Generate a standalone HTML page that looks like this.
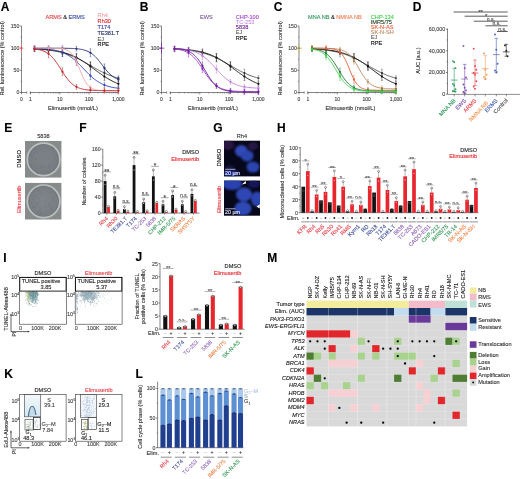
<!DOCTYPE html>
<html><head><meta charset="utf-8"><style>
html,body{margin:0;padding:0;background:#fff;}
body{width:520px;height:479px;overflow:hidden;}
svg{display:block;font-family:"Liberation Sans",sans-serif;filter:blur(0.3px);}
text{stroke-width:0.12px;}
</style></head><body>
<svg width="520" height="479" viewBox="0 0 520 479">
<rect width="520" height="479" fill="#fff"/>
<text x="0.7" y="11" font-size="12" fill="#000" stroke="#000" font-weight="bold">A</text><line x1="21.5" y1="26" x2="21.5" y2="92.5" stroke="#333" stroke-width="0.6"/><line x1="19.9" y1="92.5" x2="21.5" y2="92.5" stroke="#333" stroke-width="0.6"/><text x="19.3" y="94.3" font-size="5.2" fill="#444" stroke="#444" text-anchor="end">0</text><line x1="19.9" y1="70.33" x2="21.5" y2="70.33" stroke="#333" stroke-width="0.6"/><text x="19.3" y="72.13" font-size="5.2" fill="#444" stroke="#444" text-anchor="end">50</text><line x1="19.9" y1="48.17" x2="21.5" y2="48.17" stroke="#333" stroke-width="0.6"/><text x="19.3" y="49.97" font-size="5.2" fill="#444" stroke="#444" text-anchor="end">100</text><line x1="19.9" y1="26" x2="21.5" y2="26" stroke="#333" stroke-width="0.6"/><text x="19.3" y="27.8" font-size="5.2" fill="#444" stroke="#444" text-anchor="end">150</text><line x1="20.6" y1="81.42" x2="21.5" y2="81.42" stroke="#333" stroke-width="0.5"/><line x1="20.6" y1="59.25" x2="21.5" y2="59.25" stroke="#333" stroke-width="0.5"/><line x1="20.6" y1="37.09" x2="21.5" y2="37.09" stroke="#333" stroke-width="0.5"/><line x1="21.5" y1="92.5" x2="26.7" y2="92.5" stroke="#333" stroke-width="0.6"/><line x1="26.7" y1="91.3" x2="26.7" y2="93.7" stroke="#333" stroke-width="0.5"/><line x1="30.2" y1="91.3" x2="30.2" y2="93.7" stroke="#333" stroke-width="0.5"/><line x1="30.2" y1="92.5" x2="118.4" y2="92.5" stroke="#333" stroke-width="0.6"/><line x1="30.5" y1="92.5" x2="30.5" y2="94.3" stroke="#333" stroke-width="0.6"/><line x1="39.32" y1="92.5" x2="39.32" y2="93.6" stroke="#333" stroke-width="0.4"/><line x1="44.48" y1="92.5" x2="44.48" y2="93.6" stroke="#333" stroke-width="0.4"/><line x1="48.14" y1="92.5" x2="48.14" y2="93.6" stroke="#333" stroke-width="0.4"/><line x1="50.98" y1="92.5" x2="50.98" y2="93.6" stroke="#333" stroke-width="0.4"/><line x1="53.3" y1="92.5" x2="53.3" y2="93.6" stroke="#333" stroke-width="0.4"/><line x1="55.26" y1="92.5" x2="55.26" y2="93.6" stroke="#333" stroke-width="0.4"/><line x1="56.96" y1="92.5" x2="56.96" y2="93.6" stroke="#333" stroke-width="0.4"/><line x1="58.46" y1="92.5" x2="58.46" y2="93.6" stroke="#333" stroke-width="0.4"/><line x1="59.8" y1="92.5" x2="59.8" y2="94.3" stroke="#333" stroke-width="0.6"/><line x1="68.62" y1="92.5" x2="68.62" y2="93.6" stroke="#333" stroke-width="0.4"/><line x1="73.78" y1="92.5" x2="73.78" y2="93.6" stroke="#333" stroke-width="0.4"/><line x1="77.44" y1="92.5" x2="77.44" y2="93.6" stroke="#333" stroke-width="0.4"/><line x1="80.28" y1="92.5" x2="80.28" y2="93.6" stroke="#333" stroke-width="0.4"/><line x1="82.6" y1="92.5" x2="82.6" y2="93.6" stroke="#333" stroke-width="0.4"/><line x1="84.56" y1="92.5" x2="84.56" y2="93.6" stroke="#333" stroke-width="0.4"/><line x1="86.26" y1="92.5" x2="86.26" y2="93.6" stroke="#333" stroke-width="0.4"/><line x1="87.76" y1="92.5" x2="87.76" y2="93.6" stroke="#333" stroke-width="0.4"/><line x1="89.1" y1="92.5" x2="89.1" y2="94.3" stroke="#333" stroke-width="0.6"/><line x1="97.92" y1="92.5" x2="97.92" y2="93.6" stroke="#333" stroke-width="0.4"/><line x1="103.08" y1="92.5" x2="103.08" y2="93.6" stroke="#333" stroke-width="0.4"/><line x1="106.74" y1="92.5" x2="106.74" y2="93.6" stroke="#333" stroke-width="0.4"/><line x1="109.58" y1="92.5" x2="109.58" y2="93.6" stroke="#333" stroke-width="0.4"/><line x1="111.9" y1="92.5" x2="111.9" y2="93.6" stroke="#333" stroke-width="0.4"/><line x1="113.86" y1="92.5" x2="113.86" y2="93.6" stroke="#333" stroke-width="0.4"/><line x1="115.56" y1="92.5" x2="115.56" y2="93.6" stroke="#333" stroke-width="0.4"/><line x1="117.06" y1="92.5" x2="117.06" y2="93.6" stroke="#333" stroke-width="0.4"/><line x1="118.4" y1="92.5" x2="118.4" y2="94.3" stroke="#333" stroke-width="0.6"/><line x1="21.5" y1="92.5" x2="21.5" y2="94.3" stroke="#333" stroke-width="0.6"/><text x="21.5" y="101.2" font-size="5" fill="#444" stroke="#444" text-anchor="middle">0</text><text x="30.5" y="101.2" font-size="5" fill="#444" stroke="#444" text-anchor="middle">1</text><text x="59.8" y="101.2" font-size="5" fill="#444" stroke="#444" text-anchor="middle">10</text><text x="89.1" y="101.2" font-size="5" fill="#444" stroke="#444" text-anchor="middle">100</text><text x="118.4" y="101.2" font-size="5" fill="#444" stroke="#444" text-anchor="middle">1,000</text><text x="72.95" y="109.6" font-size="5.6" fill="#333" stroke="#333" text-anchor="middle">Elimusertib (nmol/L)</text><text x="4.5" y="58.4" font-size="5.6" fill="#333" stroke="#333" text-anchor="middle" transform="rotate(-90 4.5 58.4)">Rel. luminescence (% control)</text><text x="45.5" y="18.6" font-size="5.6"><tspan fill="#e8434b" stroke="#e8434b">ARMS</tspan><tspan fill="#222" stroke="#222"> &amp; </tspan><tspan fill="#3a4aa0" stroke="#3a4aa0">ERMS</tspan></text><text x="97.6" y="17.4" font-size="5.6" fill="#f3a6ab" stroke="#f3a6ab">Rh4</text><text x="97.6" y="23.2" font-size="5.6" fill="#e8262d" stroke="#e8262d">Rh30</text><text x="97.6" y="29" font-size="5.6" fill="#3141a8" stroke="#3141a8">T174</text><text x="97.6" y="34.8" font-size="5.6" fill="#1f2a6e" stroke="#1f2a6e">TE381.T</text><text x="97.6" y="40.6" font-size="5.6" fill="#666" stroke="#666">EJ</text><text x="97.6" y="46.4" font-size="5.6" fill="#111" stroke="#111">RPE</text><path d="M34.51,48.98L35.55,49.04L36.6,49.1L37.65,49.17L38.7,49.24L39.75,49.31L40.8,49.39L41.85,49.48L42.9,49.57L43.94,49.66L44.99,49.77L46.04,49.88L47.09,50L48.14,50.12L49.19,50.25L50.24,50.39L51.28,50.55L52.33,50.7L53.38,50.87L54.43,51.05L55.48,51.24L56.53,51.45L57.58,51.66L58.63,51.89L59.67,52.13L60.72,52.38L61.77,52.64L62.82,52.92L63.87,53.22L64.92,53.53L65.97,53.85L67.01,54.19L68.06,54.55L69.11,54.92L70.16,55.31L71.21,55.72L72.26,56.14L73.31,56.57L74.36,57.03L75.4,57.5L76.45,57.98L77.5,58.48L78.55,59L79.6,59.52L80.65,60.06L81.7,60.62L82.75,61.18L83.79,61.75L84.84,62.33L85.89,62.92L86.94,63.52L87.99,64.12L89.04,64.72L90.09,65.33L91.13,65.93L92.18,66.54L93.23,67.14L94.28,67.74L95.33,68.33L96.38,68.91L97.43,69.49L98.48,70.06L99.52,70.62L100.57,71.16L101.62,71.69L102.67,72.21L103.72,72.72L104.77,73.21L105.82,73.69L106.86,74.15L107.91,74.59L108.96,75.02L110.01,75.43L111.06,75.83L112.11,76.21L113.16,76.57L114.21,76.92L115.25,77.25L116.3,77.57L117.35,77.87L118.4,78.15" stroke="#555555" stroke-width="0.9" fill="none"/><line x1="34.51" y1="46.59" x2="34.51" y2="51.38" stroke="#555555" stroke-width="0.5"/><line x1="33.71" y1="46.59" x2="35.31" y2="46.59" stroke="#555555" stroke-width="0.4"/><line x1="33.71" y1="51.38" x2="35.31" y2="51.38" stroke="#555555" stroke-width="0.4"/><circle cx="34.51" cy="48.98" r="1.1" fill="#555555"/><line x1="48.52" y1="47.77" x2="48.52" y2="52.56" stroke="#555555" stroke-width="0.5"/><line x1="47.72" y1="47.77" x2="49.32" y2="47.77" stroke="#555555" stroke-width="0.4"/><line x1="47.72" y1="52.56" x2="49.32" y2="52.56" stroke="#555555" stroke-width="0.4"/><circle cx="48.52" cy="50.17" r="1.1" fill="#555555"/><line x1="62.43" y1="48.83" x2="62.43" y2="56.81" stroke="#555555" stroke-width="0.5"/><line x1="61.63" y1="48.83" x2="63.23" y2="48.83" stroke="#555555" stroke-width="0.4"/><line x1="61.63" y1="56.81" x2="63.23" y2="56.81" stroke="#555555" stroke-width="0.4"/><circle cx="62.43" cy="52.82" r="1.1" fill="#555555"/><line x1="76.45" y1="53.99" x2="76.45" y2="61.97" stroke="#555555" stroke-width="0.5"/><line x1="75.65" y1="53.99" x2="77.25" y2="53.99" stroke="#555555" stroke-width="0.4"/><line x1="75.65" y1="61.97" x2="77.25" y2="61.97" stroke="#555555" stroke-width="0.4"/><circle cx="76.45" cy="57.98" r="1.1" fill="#555555"/><line x1="90.43" y1="61.54" x2="90.43" y2="69.51" stroke="#555555" stroke-width="0.5"/><line x1="89.63" y1="61.54" x2="91.23" y2="61.54" stroke="#555555" stroke-width="0.4"/><line x1="89.63" y1="69.51" x2="91.23" y2="69.51" stroke="#555555" stroke-width="0.4"/><circle cx="90.43" cy="65.53" r="1.1" fill="#555555"/><line x1="104.41" y1="69.06" x2="104.41" y2="77.03" stroke="#555555" stroke-width="0.5"/><line x1="103.61" y1="69.06" x2="105.21" y2="69.06" stroke="#555555" stroke-width="0.4"/><line x1="103.61" y1="77.03" x2="105.21" y2="77.03" stroke="#555555" stroke-width="0.4"/><circle cx="104.41" cy="73.05" r="1.1" fill="#555555"/><line x1="118.4" y1="75.76" x2="118.4" y2="80.55" stroke="#555555" stroke-width="0.5"/><line x1="117.6" y1="75.76" x2="119.2" y2="75.76" stroke="#555555" stroke-width="0.4"/><line x1="117.6" y1="80.55" x2="119.2" y2="80.55" stroke="#555555" stroke-width="0.4"/><circle cx="118.4" cy="78.15" r="1.1" fill="#555555"/><path d="M34.51,48.78L35.55,48.82L36.6,48.87L37.65,48.92L38.7,48.98L39.75,49.04L40.8,49.11L41.85,49.18L42.9,49.25L43.94,49.34L44.99,49.42L46.04,49.52L47.09,49.62L48.14,49.72L49.19,49.84L50.24,49.96L51.28,50.09L52.33,50.23L53.38,50.38L54.43,50.55L55.48,50.72L56.53,50.9L57.58,51.1L58.63,51.31L59.67,51.53L60.72,51.76L61.77,52.02L62.82,52.28L63.87,52.57L64.92,52.87L65.97,53.19L67.01,53.52L68.06,53.88L69.11,54.25L70.16,54.65L71.21,55.07L72.26,55.51L73.31,55.97L74.36,56.45L75.4,56.95L76.45,57.48L77.5,58.03L78.55,58.6L79.6,59.19L80.65,59.81L81.7,60.44L82.75,61.1L83.79,61.77L84.84,62.46L85.89,63.17L86.94,63.89L87.99,64.63L89.04,65.38L90.09,66.14L91.13,66.91L92.18,67.68L93.23,68.46L94.28,69.24L95.33,70.02L96.38,70.8L97.43,71.58L98.48,72.34L99.52,73.1L100.57,73.85L101.62,74.59L102.67,75.31L103.72,76.02L104.77,76.71L105.82,77.38L106.86,78.04L107.91,78.67L108.96,79.28L110.01,79.88L111.06,80.45L112.11,80.99L113.16,81.52L114.21,82.02L115.25,82.51L116.3,82.96L117.35,83.4L118.4,83.82" stroke="#111111" stroke-width="0.9" fill="none"/><line x1="34.51" y1="46.38" x2="34.51" y2="51.17" stroke="#111111" stroke-width="0.5"/><line x1="33.71" y1="46.38" x2="35.31" y2="46.38" stroke="#111111" stroke-width="0.4"/><line x1="33.71" y1="51.17" x2="35.31" y2="51.17" stroke="#111111" stroke-width="0.4"/><circle cx="34.51" cy="48.78" r="1.1" fill="#111111"/><line x1="48.52" y1="47.37" x2="48.52" y2="52.16" stroke="#111111" stroke-width="0.5"/><line x1="47.72" y1="47.37" x2="49.32" y2="47.37" stroke="#111111" stroke-width="0.4"/><line x1="47.72" y1="52.16" x2="49.32" y2="52.16" stroke="#111111" stroke-width="0.4"/><circle cx="48.52" cy="49.76" r="1.1" fill="#111111"/><line x1="62.43" y1="49.79" x2="62.43" y2="54.58" stroke="#111111" stroke-width="0.5"/><line x1="61.63" y1="49.79" x2="63.23" y2="49.79" stroke="#111111" stroke-width="0.4"/><line x1="61.63" y1="54.58" x2="63.23" y2="54.58" stroke="#111111" stroke-width="0.4"/><circle cx="62.43" cy="52.18" r="1.1" fill="#111111"/><line x1="76.45" y1="53.49" x2="76.45" y2="61.47" stroke="#111111" stroke-width="0.5"/><line x1="75.65" y1="53.49" x2="77.25" y2="53.49" stroke="#111111" stroke-width="0.4"/><line x1="75.65" y1="61.47" x2="77.25" y2="61.47" stroke="#111111" stroke-width="0.4"/><circle cx="76.45" cy="57.48" r="1.1" fill="#111111"/><line x1="90.43" y1="62.4" x2="90.43" y2="70.38" stroke="#111111" stroke-width="0.5"/><line x1="89.63" y1="62.4" x2="91.23" y2="62.4" stroke="#111111" stroke-width="0.4"/><line x1="89.63" y1="70.38" x2="91.23" y2="70.38" stroke="#111111" stroke-width="0.4"/><circle cx="90.43" cy="66.39" r="1.1" fill="#111111"/><line x1="104.41" y1="72.49" x2="104.41" y2="80.46" stroke="#111111" stroke-width="0.5"/><line x1="103.61" y1="72.49" x2="105.21" y2="72.49" stroke="#111111" stroke-width="0.4"/><line x1="103.61" y1="80.46" x2="105.21" y2="80.46" stroke="#111111" stroke-width="0.4"/><circle cx="104.41" cy="76.48" r="1.1" fill="#111111"/><line x1="118.4" y1="81.43" x2="118.4" y2="86.21" stroke="#111111" stroke-width="0.5"/><line x1="117.6" y1="81.43" x2="119.2" y2="81.43" stroke="#111111" stroke-width="0.4"/><line x1="117.6" y1="86.21" x2="119.2" y2="86.21" stroke="#111111" stroke-width="0.4"/><circle cx="118.4" cy="83.82" r="1.1" fill="#111111"/><path d="M34.51,48.17L35.55,48.17L36.6,48.17L37.65,48.17L38.7,48.17L39.75,48.17L40.8,48.17L41.85,48.17L42.9,48.17L43.94,48.17L44.99,48.17L46.04,48.17L47.09,48.18L48.14,48.18L49.19,48.18L50.24,48.18L51.28,48.18L52.33,48.18L53.38,48.19L54.43,48.19L55.48,48.19L56.53,48.2L57.58,48.2L58.63,48.21L59.67,48.21L60.72,48.22L61.77,48.23L62.82,48.24L63.87,48.25L64.92,48.27L65.97,48.28L67.01,48.3L68.06,48.33L69.11,48.35L70.16,48.39L71.21,48.43L72.26,48.47L73.31,48.53L74.36,48.59L75.4,48.66L76.45,48.75L77.5,48.85L78.55,48.97L79.6,49.11L80.65,49.27L81.7,49.46L82.75,49.68L83.79,49.94L84.84,50.24L85.89,50.58L86.94,50.98L87.99,51.43L89.04,51.95L90.09,52.54L91.13,53.2L92.18,53.95L93.23,54.78L94.28,55.7L95.33,56.71L96.38,57.8L97.43,58.97L98.48,60.22L99.52,61.52L100.57,62.87L101.62,64.25L102.67,65.63L103.72,67.01L104.77,68.37L105.82,69.68L106.86,70.93L107.91,72.11L108.96,73.21L110.01,74.22L111.06,75.15L112.11,76L113.16,76.75L114.21,77.43L115.25,78.02L116.3,78.55L117.35,79.01L118.4,79.41" stroke="#23307a" stroke-width="0.9" fill="none"/><line x1="34.51" y1="45.78" x2="34.51" y2="50.56" stroke="#23307a" stroke-width="0.5"/><line x1="33.71" y1="45.78" x2="35.31" y2="45.78" stroke="#23307a" stroke-width="0.4"/><line x1="33.71" y1="50.56" x2="35.31" y2="50.56" stroke="#23307a" stroke-width="0.4"/><circle cx="34.51" cy="48.17" r="1.1" fill="#23307a"/><line x1="48.52" y1="45.78" x2="48.52" y2="50.57" stroke="#23307a" stroke-width="0.5"/><line x1="47.72" y1="45.78" x2="49.32" y2="45.78" stroke="#23307a" stroke-width="0.4"/><line x1="47.72" y1="50.57" x2="49.32" y2="50.57" stroke="#23307a" stroke-width="0.4"/><circle cx="48.52" cy="48.18" r="1.1" fill="#23307a"/><line x1="62.43" y1="45.84" x2="62.43" y2="50.63" stroke="#23307a" stroke-width="0.5"/><line x1="61.63" y1="45.84" x2="63.23" y2="45.84" stroke="#23307a" stroke-width="0.4"/><line x1="61.63" y1="50.63" x2="63.23" y2="50.63" stroke="#23307a" stroke-width="0.4"/><circle cx="62.43" cy="48.23" r="1.1" fill="#23307a"/><line x1="76.45" y1="46.35" x2="76.45" y2="51.14" stroke="#23307a" stroke-width="0.5"/><line x1="75.65" y1="46.35" x2="77.25" y2="46.35" stroke="#23307a" stroke-width="0.4"/><line x1="75.65" y1="51.14" x2="77.25" y2="51.14" stroke="#23307a" stroke-width="0.4"/><circle cx="76.45" cy="48.75" r="1.1" fill="#23307a"/><line x1="90.43" y1="48.76" x2="90.43" y2="56.74" stroke="#23307a" stroke-width="0.5"/><line x1="89.63" y1="48.76" x2="91.23" y2="48.76" stroke="#23307a" stroke-width="0.4"/><line x1="89.63" y1="56.74" x2="91.23" y2="56.74" stroke="#23307a" stroke-width="0.4"/><circle cx="90.43" cy="52.75" r="1.1" fill="#23307a"/><line x1="104.41" y1="63.92" x2="104.41" y2="71.9" stroke="#23307a" stroke-width="0.5"/><line x1="103.61" y1="63.92" x2="105.21" y2="63.92" stroke="#23307a" stroke-width="0.4"/><line x1="103.61" y1="71.9" x2="105.21" y2="71.9" stroke="#23307a" stroke-width="0.4"/><circle cx="104.41" cy="67.91" r="1.1" fill="#23307a"/><line x1="118.4" y1="77.02" x2="118.4" y2="81.81" stroke="#23307a" stroke-width="0.5"/><line x1="117.6" y1="77.02" x2="119.2" y2="77.02" stroke="#23307a" stroke-width="0.4"/><line x1="117.6" y1="81.81" x2="119.2" y2="81.81" stroke="#23307a" stroke-width="0.4"/><circle cx="118.4" cy="79.41" r="1.1" fill="#23307a"/><path d="M34.51,48.44L35.55,48.47L36.6,48.51L37.65,48.54L38.7,48.58L39.75,48.63L40.8,48.68L41.85,48.74L42.9,48.8L43.94,48.87L44.99,48.95L46.04,49.04L47.09,49.13L48.14,49.24L49.19,49.36L50.24,49.49L51.28,49.63L52.33,49.79L53.38,49.97L54.43,50.16L55.48,50.37L56.53,50.61L57.58,50.86L58.63,51.15L59.67,51.46L60.72,51.8L61.77,52.17L62.82,52.57L63.87,53.01L64.92,53.49L65.97,54L67.01,54.56L68.06,55.16L69.11,55.8L70.16,56.49L71.21,57.23L72.26,58.01L73.31,58.83L74.36,59.7L75.4,60.61L76.45,61.56L77.5,62.54L78.55,63.56L79.6,64.61L80.65,65.68L81.7,66.77L82.75,67.86L83.79,68.97L84.84,70.07L85.89,71.17L86.94,72.25L87.99,73.31L89.04,74.35L90.09,75.36L91.13,76.33L92.18,77.27L93.23,78.16L94.28,79.02L95.33,79.83L96.38,80.59L97.43,81.31L98.48,81.98L99.52,82.61L100.57,83.2L101.62,83.74L102.67,84.25L103.72,84.71L104.77,85.14L105.82,85.53L106.86,85.89L107.91,86.22L108.96,86.52L110.01,86.79L111.06,87.04L112.11,87.27L113.16,87.47L114.21,87.66L115.25,87.83L116.3,87.98L117.35,88.12L118.4,88.25" stroke="#2b3fb0" stroke-width="0.9" fill="none"/><line x1="34.51" y1="46.05" x2="34.51" y2="50.84" stroke="#2b3fb0" stroke-width="0.5"/><line x1="33.71" y1="46.05" x2="35.31" y2="46.05" stroke="#2b3fb0" stroke-width="0.4"/><line x1="33.71" y1="50.84" x2="35.31" y2="50.84" stroke="#2b3fb0" stroke-width="0.4"/><circle cx="34.51" cy="48.44" r="1.1" fill="#2b3fb0"/><line x1="48.52" y1="46.89" x2="48.52" y2="51.68" stroke="#2b3fb0" stroke-width="0.5"/><line x1="47.72" y1="46.89" x2="49.32" y2="46.89" stroke="#2b3fb0" stroke-width="0.4"/><line x1="47.72" y1="51.68" x2="49.32" y2="51.68" stroke="#2b3fb0" stroke-width="0.4"/><circle cx="48.52" cy="49.28" r="1.1" fill="#2b3fb0"/><line x1="62.43" y1="48.43" x2="62.43" y2="56.41" stroke="#2b3fb0" stroke-width="0.5"/><line x1="61.63" y1="48.43" x2="63.23" y2="48.43" stroke="#2b3fb0" stroke-width="0.4"/><line x1="61.63" y1="56.41" x2="63.23" y2="56.41" stroke="#2b3fb0" stroke-width="0.4"/><circle cx="62.43" cy="52.42" r="1.1" fill="#2b3fb0"/><line x1="76.45" y1="57.56" x2="76.45" y2="65.54" stroke="#2b3fb0" stroke-width="0.5"/><line x1="75.65" y1="57.56" x2="77.25" y2="57.56" stroke="#2b3fb0" stroke-width="0.4"/><line x1="75.65" y1="65.54" x2="77.25" y2="65.54" stroke="#2b3fb0" stroke-width="0.4"/><circle cx="76.45" cy="61.55" r="1.1" fill="#2b3fb0"/><line x1="90.43" y1="71.69" x2="90.43" y2="79.67" stroke="#2b3fb0" stroke-width="0.5"/><line x1="89.63" y1="71.69" x2="91.23" y2="71.69" stroke="#2b3fb0" stroke-width="0.4"/><line x1="89.63" y1="79.67" x2="91.23" y2="79.67" stroke="#2b3fb0" stroke-width="0.4"/><circle cx="90.43" cy="75.68" r="1.1" fill="#2b3fb0"/><line x1="104.41" y1="82.6" x2="104.41" y2="87.39" stroke="#2b3fb0" stroke-width="0.5"/><line x1="103.61" y1="82.6" x2="105.21" y2="82.6" stroke="#2b3fb0" stroke-width="0.4"/><line x1="103.61" y1="87.39" x2="105.21" y2="87.39" stroke="#2b3fb0" stroke-width="0.4"/><circle cx="104.41" cy="84.99" r="1.1" fill="#2b3fb0"/><line x1="118.4" y1="85.86" x2="118.4" y2="90.64" stroke="#2b3fb0" stroke-width="0.5"/><line x1="117.6" y1="85.86" x2="119.2" y2="85.86" stroke="#2b3fb0" stroke-width="0.4"/><line x1="117.6" y1="90.64" x2="119.2" y2="90.64" stroke="#2b3fb0" stroke-width="0.4"/><circle cx="118.4" cy="88.25" r="1.1" fill="#2b3fb0"/><path d="M34.51,48.17L35.55,48.17L36.6,48.17L37.65,48.17L38.7,48.17L39.75,48.17L40.8,48.17L41.85,48.18L42.9,48.18L43.94,48.18L44.99,48.18L46.04,48.19L47.09,48.19L48.14,48.19L49.19,48.2L50.24,48.21L51.28,48.22L52.33,48.24L53.38,48.25L54.43,48.28L55.48,48.31L56.53,48.35L57.58,48.4L58.63,48.46L59.67,48.54L60.72,48.64L61.77,48.77L62.82,48.94L63.87,49.15L64.92,49.42L65.97,49.76L67.01,50.18L68.06,50.71L69.11,51.37L70.16,52.18L71.21,53.17L72.26,54.37L73.31,55.8L74.36,57.47L75.4,59.39L76.45,61.55L77.5,63.91L78.55,66.43L79.6,69.04L80.65,71.67L81.7,74.22L82.75,76.64L83.79,78.87L84.84,80.86L85.89,82.61L86.94,84.11L87.99,85.38L89.04,86.43L90.09,87.3L91.13,88L92.18,88.57L93.23,89.02L94.28,89.38L95.33,89.67L96.38,89.9L97.43,90.08L98.48,90.22L99.52,90.33L100.57,90.41L101.62,90.48L102.67,90.54L103.72,90.58L104.77,90.61L105.82,90.64L106.86,90.66L107.91,90.67L108.96,90.68L110.01,90.69L111.06,90.7L112.11,90.71L113.16,90.71L114.21,90.71L115.25,90.72L116.3,90.72L117.35,90.72L118.4,90.72" stroke="#f2a4a4" stroke-width="0.9" fill="none"/><line x1="34.51" y1="45.78" x2="34.51" y2="50.56" stroke="#f2a4a4" stroke-width="0.5"/><line x1="33.71" y1="45.78" x2="35.31" y2="45.78" stroke="#f2a4a4" stroke-width="0.4"/><line x1="33.71" y1="50.56" x2="35.31" y2="50.56" stroke="#f2a4a4" stroke-width="0.4"/><circle cx="34.51" cy="48.17" r="1.1" fill="#f2a4a4"/><line x1="48.52" y1="45.8" x2="48.52" y2="50.59" stroke="#f2a4a4" stroke-width="0.5"/><line x1="47.72" y1="45.8" x2="49.32" y2="45.8" stroke="#f2a4a4" stroke-width="0.4"/><line x1="47.72" y1="50.59" x2="49.32" y2="50.59" stroke="#f2a4a4" stroke-width="0.4"/><circle cx="48.52" cy="48.2" r="1.1" fill="#f2a4a4"/><line x1="62.43" y1="46.48" x2="62.43" y2="51.27" stroke="#f2a4a4" stroke-width="0.5"/><line x1="61.63" y1="46.48" x2="63.23" y2="46.48" stroke="#f2a4a4" stroke-width="0.4"/><line x1="61.63" y1="51.27" x2="63.23" y2="51.27" stroke="#f2a4a4" stroke-width="0.4"/><circle cx="62.43" cy="48.87" r="1.1" fill="#f2a4a4"/><line x1="76.45" y1="57.55" x2="76.45" y2="65.53" stroke="#f2a4a4" stroke-width="0.5"/><line x1="75.65" y1="57.55" x2="77.25" y2="57.55" stroke="#f2a4a4" stroke-width="0.4"/><line x1="75.65" y1="65.53" x2="77.25" y2="65.53" stroke="#f2a4a4" stroke-width="0.4"/><circle cx="76.45" cy="61.54" r="1.1" fill="#f2a4a4"/><line x1="90.43" y1="85.15" x2="90.43" y2="89.94" stroke="#f2a4a4" stroke-width="0.5"/><line x1="89.63" y1="85.15" x2="91.23" y2="85.15" stroke="#f2a4a4" stroke-width="0.4"/><line x1="89.63" y1="89.94" x2="91.23" y2="89.94" stroke="#f2a4a4" stroke-width="0.4"/><circle cx="90.43" cy="87.54" r="1.1" fill="#f2a4a4"/><line x1="104.41" y1="88.21" x2="104.41" y2="92.99" stroke="#f2a4a4" stroke-width="0.5"/><line x1="103.61" y1="88.21" x2="105.21" y2="88.21" stroke="#f2a4a4" stroke-width="0.4"/><line x1="103.61" y1="92.99" x2="105.21" y2="92.99" stroke="#f2a4a4" stroke-width="0.4"/><circle cx="104.41" cy="90.6" r="1.1" fill="#f2a4a4"/><line x1="118.4" y1="88.33" x2="118.4" y2="93.12" stroke="#f2a4a4" stroke-width="0.5"/><line x1="117.6" y1="88.33" x2="119.2" y2="88.33" stroke="#f2a4a4" stroke-width="0.4"/><line x1="117.6" y1="93.12" x2="119.2" y2="93.12" stroke="#f2a4a4" stroke-width="0.4"/><circle cx="118.4" cy="90.72" r="1.1" fill="#f2a4a4"/><path d="M34.51,48.97L35.55,49.1L36.6,49.25L37.65,49.43L38.7,49.64L39.75,49.88L40.8,50.15L41.85,50.47L42.9,50.84L43.94,51.26L44.99,51.74L46.04,52.28L47.09,52.9L48.14,53.6L49.19,54.39L50.24,55.26L51.28,56.24L52.33,57.31L53.38,58.49L54.43,59.76L55.48,61.13L56.53,62.58L57.58,64.11L58.63,65.7L59.67,67.33L60.72,68.99L61.77,70.65L62.82,72.3L63.87,73.92L64.92,75.48L65.97,76.98L67.01,78.39L68.06,79.72L69.11,80.95L70.16,82.08L71.21,83.11L72.26,84.04L73.31,84.87L74.36,85.62L75.4,86.28L76.45,86.87L77.5,87.38L78.55,87.84L79.6,88.23L80.65,88.57L81.7,88.87L82.75,89.13L83.79,89.35L84.84,89.55L85.89,89.71L86.94,89.86L87.99,89.98L89.04,90.09L90.09,90.18L91.13,90.26L92.18,90.33L93.23,90.38L94.28,90.43L95.33,90.47L96.38,90.51L97.43,90.54L98.48,90.57L99.52,90.59L100.57,90.61L101.62,90.63L102.67,90.64L103.72,90.65L104.77,90.66L105.82,90.67L106.86,90.68L107.91,90.69L108.96,90.69L110.01,90.7L111.06,90.7L112.11,90.71L113.16,90.71L114.21,90.71L115.25,90.71L116.3,90.72L117.35,90.72L118.4,90.72" stroke="#c0262c" stroke-width="0.9" fill="none"/><line x1="34.51" y1="46.57" x2="34.51" y2="51.36" stroke="#c0262c" stroke-width="0.5"/><line x1="33.71" y1="46.57" x2="35.31" y2="46.57" stroke="#c0262c" stroke-width="0.4"/><line x1="33.71" y1="51.36" x2="35.31" y2="51.36" stroke="#c0262c" stroke-width="0.4"/><circle cx="34.51" cy="48.97" r="1.1" fill="#c0262c"/><line x1="48.52" y1="49.88" x2="48.52" y2="57.86" stroke="#c0262c" stroke-width="0.5"/><line x1="47.72" y1="49.88" x2="49.32" y2="49.88" stroke="#c0262c" stroke-width="0.4"/><line x1="47.72" y1="57.86" x2="49.32" y2="57.86" stroke="#c0262c" stroke-width="0.4"/><circle cx="48.52" cy="53.87" r="1.1" fill="#c0262c"/><line x1="62.43" y1="67.71" x2="62.43" y2="75.69" stroke="#c0262c" stroke-width="0.5"/><line x1="61.63" y1="67.71" x2="63.23" y2="67.71" stroke="#c0262c" stroke-width="0.4"/><line x1="61.63" y1="75.69" x2="63.23" y2="75.69" stroke="#c0262c" stroke-width="0.4"/><circle cx="62.43" cy="71.7" r="1.1" fill="#c0262c"/><line x1="76.45" y1="84.47" x2="76.45" y2="89.26" stroke="#c0262c" stroke-width="0.5"/><line x1="75.65" y1="84.47" x2="77.25" y2="84.47" stroke="#c0262c" stroke-width="0.4"/><line x1="75.65" y1="89.26" x2="77.25" y2="89.26" stroke="#c0262c" stroke-width="0.4"/><circle cx="76.45" cy="86.87" r="1.1" fill="#c0262c"/><line x1="90.43" y1="87.81" x2="90.43" y2="92.6" stroke="#c0262c" stroke-width="0.5"/><line x1="89.63" y1="87.81" x2="91.23" y2="87.81" stroke="#c0262c" stroke-width="0.4"/><line x1="89.63" y1="92.6" x2="91.23" y2="92.6" stroke="#c0262c" stroke-width="0.4"/><circle cx="90.43" cy="90.21" r="1.1" fill="#c0262c"/><line x1="104.41" y1="88.27" x2="104.41" y2="93.06" stroke="#c0262c" stroke-width="0.5"/><line x1="103.61" y1="88.27" x2="105.21" y2="88.27" stroke="#c0262c" stroke-width="0.4"/><line x1="103.61" y1="93.06" x2="105.21" y2="93.06" stroke="#c0262c" stroke-width="0.4"/><circle cx="104.41" cy="90.66" r="1.1" fill="#c0262c"/><line x1="118.4" y1="88.32" x2="118.4" y2="93.11" stroke="#c0262c" stroke-width="0.5"/><line x1="117.6" y1="88.32" x2="119.2" y2="88.32" stroke="#c0262c" stroke-width="0.4"/><line x1="117.6" y1="93.11" x2="119.2" y2="93.11" stroke="#c0262c" stroke-width="0.4"/><circle cx="118.4" cy="90.72" r="1.1" fill="#c0262c"/><line x1="21.5" y1="43.74" x2="21.5" y2="52.6" stroke="#f19aa0" stroke-width="0.6"/><circle cx="21.5" cy="48.17" r="0.9" fill="#f19aa0"/><line x1="21.5" y1="45.51" x2="21.5" y2="50.83" stroke="#e8262d" stroke-width="0.6"/><circle cx="21.5" cy="48.17" r="0.9" fill="#e8262d"/><line x1="18.5" y1="48.17" x2="24.5" y2="48.17" stroke="#f19aa0" stroke-width="0.6"/><text x="139.7" y="11" font-size="12" fill="#000" stroke="#000" font-weight="bold">B</text><line x1="161.5" y1="26" x2="161.5" y2="92.5" stroke="#333" stroke-width="0.6"/><line x1="159.9" y1="92.5" x2="161.5" y2="92.5" stroke="#333" stroke-width="0.6"/><text x="159.3" y="94.3" font-size="5.2" fill="#444" stroke="#444" text-anchor="end">0</text><line x1="159.9" y1="70.33" x2="161.5" y2="70.33" stroke="#333" stroke-width="0.6"/><text x="159.3" y="72.13" font-size="5.2" fill="#444" stroke="#444" text-anchor="end">50</text><line x1="159.9" y1="48.17" x2="161.5" y2="48.17" stroke="#333" stroke-width="0.6"/><text x="159.3" y="49.97" font-size="5.2" fill="#444" stroke="#444" text-anchor="end">100</text><line x1="159.9" y1="26" x2="161.5" y2="26" stroke="#333" stroke-width="0.6"/><text x="159.3" y="27.8" font-size="5.2" fill="#444" stroke="#444" text-anchor="end">150</text><line x1="160.6" y1="81.42" x2="161.5" y2="81.42" stroke="#333" stroke-width="0.5"/><line x1="160.6" y1="59.25" x2="161.5" y2="59.25" stroke="#333" stroke-width="0.5"/><line x1="160.6" y1="37.09" x2="161.5" y2="37.09" stroke="#333" stroke-width="0.5"/><line x1="161.5" y1="92.5" x2="166.7" y2="92.5" stroke="#333" stroke-width="0.6"/><line x1="166.7" y1="91.3" x2="166.7" y2="93.7" stroke="#333" stroke-width="0.5"/><line x1="170.2" y1="91.3" x2="170.2" y2="93.7" stroke="#333" stroke-width="0.5"/><line x1="170.2" y1="92.5" x2="258.4" y2="92.5" stroke="#333" stroke-width="0.6"/><line x1="170.5" y1="92.5" x2="170.5" y2="94.3" stroke="#333" stroke-width="0.6"/><line x1="179.32" y1="92.5" x2="179.32" y2="93.6" stroke="#333" stroke-width="0.4"/><line x1="184.48" y1="92.5" x2="184.48" y2="93.6" stroke="#333" stroke-width="0.4"/><line x1="188.14" y1="92.5" x2="188.14" y2="93.6" stroke="#333" stroke-width="0.4"/><line x1="190.98" y1="92.5" x2="190.98" y2="93.6" stroke="#333" stroke-width="0.4"/><line x1="193.3" y1="92.5" x2="193.3" y2="93.6" stroke="#333" stroke-width="0.4"/><line x1="195.26" y1="92.5" x2="195.26" y2="93.6" stroke="#333" stroke-width="0.4"/><line x1="196.96" y1="92.5" x2="196.96" y2="93.6" stroke="#333" stroke-width="0.4"/><line x1="198.46" y1="92.5" x2="198.46" y2="93.6" stroke="#333" stroke-width="0.4"/><line x1="199.8" y1="92.5" x2="199.8" y2="94.3" stroke="#333" stroke-width="0.6"/><line x1="208.62" y1="92.5" x2="208.62" y2="93.6" stroke="#333" stroke-width="0.4"/><line x1="213.78" y1="92.5" x2="213.78" y2="93.6" stroke="#333" stroke-width="0.4"/><line x1="217.44" y1="92.5" x2="217.44" y2="93.6" stroke="#333" stroke-width="0.4"/><line x1="220.28" y1="92.5" x2="220.28" y2="93.6" stroke="#333" stroke-width="0.4"/><line x1="222.6" y1="92.5" x2="222.6" y2="93.6" stroke="#333" stroke-width="0.4"/><line x1="224.56" y1="92.5" x2="224.56" y2="93.6" stroke="#333" stroke-width="0.4"/><line x1="226.26" y1="92.5" x2="226.26" y2="93.6" stroke="#333" stroke-width="0.4"/><line x1="227.76" y1="92.5" x2="227.76" y2="93.6" stroke="#333" stroke-width="0.4"/><line x1="229.1" y1="92.5" x2="229.1" y2="94.3" stroke="#333" stroke-width="0.6"/><line x1="237.92" y1="92.5" x2="237.92" y2="93.6" stroke="#333" stroke-width="0.4"/><line x1="243.08" y1="92.5" x2="243.08" y2="93.6" stroke="#333" stroke-width="0.4"/><line x1="246.74" y1="92.5" x2="246.74" y2="93.6" stroke="#333" stroke-width="0.4"/><line x1="249.58" y1="92.5" x2="249.58" y2="93.6" stroke="#333" stroke-width="0.4"/><line x1="251.9" y1="92.5" x2="251.9" y2="93.6" stroke="#333" stroke-width="0.4"/><line x1="253.86" y1="92.5" x2="253.86" y2="93.6" stroke="#333" stroke-width="0.4"/><line x1="255.56" y1="92.5" x2="255.56" y2="93.6" stroke="#333" stroke-width="0.4"/><line x1="257.06" y1="92.5" x2="257.06" y2="93.6" stroke="#333" stroke-width="0.4"/><line x1="258.4" y1="92.5" x2="258.4" y2="94.3" stroke="#333" stroke-width="0.6"/><line x1="161.5" y1="92.5" x2="161.5" y2="94.3" stroke="#333" stroke-width="0.6"/><text x="161.5" y="101.2" font-size="5" fill="#444" stroke="#444" text-anchor="middle">0</text><text x="170.5" y="101.2" font-size="5" fill="#444" stroke="#444" text-anchor="middle">1</text><text x="199.8" y="101.2" font-size="5" fill="#444" stroke="#444" text-anchor="middle">10</text><text x="229.1" y="101.2" font-size="5" fill="#444" stroke="#444" text-anchor="middle">100</text><text x="258.4" y="101.2" font-size="5" fill="#444" stroke="#444" text-anchor="middle">1,000</text><text x="212.95" y="109.6" font-size="5.6" fill="#333" stroke="#333" text-anchor="middle">Elimusertib (nmol/L)</text><text x="144.5" y="58.4" font-size="5.6" fill="#333" stroke="#333" text-anchor="middle" transform="rotate(-90 144.5 58.4)">Rel. luminescence (% control)</text><text x="200" y="18.5" font-size="5.6"><tspan fill="#7b5b9c" stroke="#7b5b9c">EWS</tspan></text><text x="235.8" y="18.7" font-size="5.6" fill="#a33fd0" stroke="#a33fd0">CHP-100</text><text x="235.8" y="23.95" font-size="5.6" fill="#c993e6" stroke="#c993e6">TC-253</text><text x="235.8" y="29.2" font-size="5.6" fill="#6d1f99" stroke="#6d1f99">5838</text><text x="235.8" y="34.45" font-size="5.6" fill="#666" stroke="#666">EJ</text><text x="235.8" y="39.7" font-size="5.6" fill="#111" stroke="#111">RPE</text><path d="M174.51,48.98L175.55,49.04L176.6,49.1L177.65,49.17L178.7,49.24L179.75,49.31L180.8,49.39L181.85,49.48L182.9,49.57L183.94,49.66L184.99,49.77L186.04,49.88L187.09,50L188.14,50.12L189.19,50.25L190.24,50.39L191.28,50.55L192.33,50.7L193.38,50.87L194.43,51.05L195.48,51.24L196.53,51.45L197.58,51.66L198.63,51.89L199.67,52.13L200.72,52.38L201.77,52.64L202.82,52.92L203.87,53.22L204.92,53.53L205.97,53.85L207.01,54.19L208.06,54.55L209.11,54.92L210.16,55.31L211.21,55.72L212.26,56.14L213.31,56.57L214.36,57.03L215.4,57.5L216.45,57.98L217.5,58.48L218.55,59L219.6,59.52L220.65,60.06L221.7,60.62L222.75,61.18L223.79,61.75L224.84,62.33L225.89,62.92L226.94,63.52L227.99,64.12L229.04,64.72L230.09,65.33L231.13,65.93L232.18,66.54L233.23,67.14L234.28,67.74L235.33,68.33L236.38,68.91L237.43,69.49L238.48,70.06L239.52,70.62L240.57,71.16L241.62,71.69L242.67,72.21L243.72,72.72L244.77,73.21L245.82,73.69L246.86,74.15L247.91,74.59L248.96,75.02L250.01,75.43L251.06,75.83L252.11,76.21L253.16,76.57L254.21,76.92L255.25,77.25L256.3,77.57L257.35,77.87L258.4,78.15" stroke="#555555" stroke-width="0.9" fill="none"/><line x1="174.51" y1="46.59" x2="174.51" y2="51.38" stroke="#555555" stroke-width="0.5"/><line x1="173.71" y1="46.59" x2="175.31" y2="46.59" stroke="#555555" stroke-width="0.4"/><line x1="173.71" y1="51.38" x2="175.31" y2="51.38" stroke="#555555" stroke-width="0.4"/><circle cx="174.51" cy="48.98" r="1.1" fill="#555555"/><line x1="188.52" y1="47.77" x2="188.52" y2="52.56" stroke="#555555" stroke-width="0.5"/><line x1="187.72" y1="47.77" x2="189.32" y2="47.77" stroke="#555555" stroke-width="0.4"/><line x1="187.72" y1="52.56" x2="189.32" y2="52.56" stroke="#555555" stroke-width="0.4"/><circle cx="188.52" cy="50.17" r="1.1" fill="#555555"/><line x1="202.43" y1="48.83" x2="202.43" y2="56.81" stroke="#555555" stroke-width="0.5"/><line x1="201.63" y1="48.83" x2="203.23" y2="48.83" stroke="#555555" stroke-width="0.4"/><line x1="201.63" y1="56.81" x2="203.23" y2="56.81" stroke="#555555" stroke-width="0.4"/><circle cx="202.43" cy="52.82" r="1.1" fill="#555555"/><line x1="216.45" y1="53.99" x2="216.45" y2="61.97" stroke="#555555" stroke-width="0.5"/><line x1="215.65" y1="53.99" x2="217.25" y2="53.99" stroke="#555555" stroke-width="0.4"/><line x1="215.65" y1="61.97" x2="217.25" y2="61.97" stroke="#555555" stroke-width="0.4"/><circle cx="216.45" cy="57.98" r="1.1" fill="#555555"/><line x1="230.43" y1="61.54" x2="230.43" y2="69.51" stroke="#555555" stroke-width="0.5"/><line x1="229.63" y1="61.54" x2="231.23" y2="61.54" stroke="#555555" stroke-width="0.4"/><line x1="229.63" y1="69.51" x2="231.23" y2="69.51" stroke="#555555" stroke-width="0.4"/><circle cx="230.43" cy="65.53" r="1.1" fill="#555555"/><line x1="244.41" y1="69.06" x2="244.41" y2="77.03" stroke="#555555" stroke-width="0.5"/><line x1="243.61" y1="69.06" x2="245.21" y2="69.06" stroke="#555555" stroke-width="0.4"/><line x1="243.61" y1="77.03" x2="245.21" y2="77.03" stroke="#555555" stroke-width="0.4"/><circle cx="244.41" cy="73.05" r="1.1" fill="#555555"/><line x1="258.4" y1="75.76" x2="258.4" y2="80.55" stroke="#555555" stroke-width="0.5"/><line x1="257.6" y1="75.76" x2="259.2" y2="75.76" stroke="#555555" stroke-width="0.4"/><line x1="257.6" y1="80.55" x2="259.2" y2="80.55" stroke="#555555" stroke-width="0.4"/><circle cx="258.4" cy="78.15" r="1.1" fill="#555555"/><path d="M174.51,48.78L175.55,48.82L176.6,48.87L177.65,48.92L178.7,48.98L179.75,49.04L180.8,49.11L181.85,49.18L182.9,49.25L183.94,49.34L184.99,49.42L186.04,49.52L187.09,49.62L188.14,49.72L189.19,49.84L190.24,49.96L191.28,50.09L192.33,50.23L193.38,50.38L194.43,50.55L195.48,50.72L196.53,50.9L197.58,51.1L198.63,51.31L199.67,51.53L200.72,51.76L201.77,52.02L202.82,52.28L203.87,52.57L204.92,52.87L205.97,53.19L207.01,53.52L208.06,53.88L209.11,54.25L210.16,54.65L211.21,55.07L212.26,55.51L213.31,55.97L214.36,56.45L215.4,56.95L216.45,57.48L217.5,58.03L218.55,58.6L219.6,59.19L220.65,59.81L221.7,60.44L222.75,61.1L223.79,61.77L224.84,62.46L225.89,63.17L226.94,63.89L227.99,64.63L229.04,65.38L230.09,66.14L231.13,66.91L232.18,67.68L233.23,68.46L234.28,69.24L235.33,70.02L236.38,70.8L237.43,71.58L238.48,72.34L239.52,73.1L240.57,73.85L241.62,74.59L242.67,75.31L243.72,76.02L244.77,76.71L245.82,77.38L246.86,78.04L247.91,78.67L248.96,79.28L250.01,79.88L251.06,80.45L252.11,80.99L253.16,81.52L254.21,82.02L255.25,82.51L256.3,82.96L257.35,83.4L258.4,83.82" stroke="#111111" stroke-width="0.9" fill="none"/><line x1="174.51" y1="46.38" x2="174.51" y2="51.17" stroke="#111111" stroke-width="0.5"/><line x1="173.71" y1="46.38" x2="175.31" y2="46.38" stroke="#111111" stroke-width="0.4"/><line x1="173.71" y1="51.17" x2="175.31" y2="51.17" stroke="#111111" stroke-width="0.4"/><circle cx="174.51" cy="48.78" r="1.1" fill="#111111"/><line x1="188.52" y1="47.37" x2="188.52" y2="52.16" stroke="#111111" stroke-width="0.5"/><line x1="187.72" y1="47.37" x2="189.32" y2="47.37" stroke="#111111" stroke-width="0.4"/><line x1="187.72" y1="52.16" x2="189.32" y2="52.16" stroke="#111111" stroke-width="0.4"/><circle cx="188.52" cy="49.76" r="1.1" fill="#111111"/><line x1="202.43" y1="49.79" x2="202.43" y2="54.58" stroke="#111111" stroke-width="0.5"/><line x1="201.63" y1="49.79" x2="203.23" y2="49.79" stroke="#111111" stroke-width="0.4"/><line x1="201.63" y1="54.58" x2="203.23" y2="54.58" stroke="#111111" stroke-width="0.4"/><circle cx="202.43" cy="52.18" r="1.1" fill="#111111"/><line x1="216.45" y1="53.49" x2="216.45" y2="61.47" stroke="#111111" stroke-width="0.5"/><line x1="215.65" y1="53.49" x2="217.25" y2="53.49" stroke="#111111" stroke-width="0.4"/><line x1="215.65" y1="61.47" x2="217.25" y2="61.47" stroke="#111111" stroke-width="0.4"/><circle cx="216.45" cy="57.48" r="1.1" fill="#111111"/><line x1="230.43" y1="62.4" x2="230.43" y2="70.38" stroke="#111111" stroke-width="0.5"/><line x1="229.63" y1="62.4" x2="231.23" y2="62.4" stroke="#111111" stroke-width="0.4"/><line x1="229.63" y1="70.38" x2="231.23" y2="70.38" stroke="#111111" stroke-width="0.4"/><circle cx="230.43" cy="66.39" r="1.1" fill="#111111"/><line x1="244.41" y1="72.49" x2="244.41" y2="80.46" stroke="#111111" stroke-width="0.5"/><line x1="243.61" y1="72.49" x2="245.21" y2="72.49" stroke="#111111" stroke-width="0.4"/><line x1="243.61" y1="80.46" x2="245.21" y2="80.46" stroke="#111111" stroke-width="0.4"/><circle cx="244.41" cy="76.48" r="1.1" fill="#111111"/><line x1="258.4" y1="81.43" x2="258.4" y2="86.21" stroke="#111111" stroke-width="0.5"/><line x1="257.6" y1="81.43" x2="259.2" y2="81.43" stroke="#111111" stroke-width="0.4"/><line x1="257.6" y1="86.21" x2="259.2" y2="86.21" stroke="#111111" stroke-width="0.4"/><circle cx="258.4" cy="83.82" r="1.1" fill="#111111"/><path d="M174.51,48.6L175.55,48.65L176.6,48.71L177.65,48.77L178.7,48.84L179.75,48.92L180.8,49.02L181.85,49.12L182.9,49.23L183.94,49.35L184.99,49.49L186.04,49.65L187.09,49.82L188.14,50.02L189.19,50.23L190.24,50.47L191.28,50.73L192.33,51.02L193.38,51.35L194.43,51.7L195.48,52.09L196.53,52.52L197.58,52.99L198.63,53.5L199.67,54.05L200.72,54.66L201.77,55.31L202.82,56.01L203.87,56.77L204.92,57.57L205.97,58.43L207.01,59.34L208.06,60.29L209.11,61.29L210.16,62.34L211.21,63.41L212.26,64.52L213.31,65.66L214.36,66.81L215.4,67.97L216.45,69.13L217.5,70.29L218.55,71.43L219.6,72.56L220.65,73.66L221.7,74.72L222.75,75.75L223.79,76.73L224.84,77.67L225.89,78.56L226.94,79.4L227.99,80.19L229.04,80.92L230.09,81.61L231.13,82.25L232.18,82.83L233.23,83.37L234.28,83.87L235.33,84.32L236.38,84.73L237.43,85.11L238.48,85.45L239.52,85.76L240.57,86.04L241.62,86.3L242.67,86.53L243.72,86.73L244.77,86.92L245.82,87.09L246.86,87.24L247.91,87.37L248.96,87.49L250.01,87.6L251.06,87.7L252.11,87.79L253.16,87.86L254.21,87.93L255.25,87.99L256.3,88.05L257.35,88.1L258.4,88.14" stroke="#c07ee0" stroke-width="0.9" fill="none"/><line x1="174.51" y1="46.2" x2="174.51" y2="50.99" stroke="#c07ee0" stroke-width="0.5"/><line x1="173.71" y1="46.2" x2="175.31" y2="46.2" stroke="#c07ee0" stroke-width="0.4"/><line x1="173.71" y1="50.99" x2="175.31" y2="50.99" stroke="#c07ee0" stroke-width="0.4"/><circle cx="174.51" cy="48.6" r="1.1" fill="#c07ee0"/><line x1="188.52" y1="47.7" x2="188.52" y2="52.49" stroke="#c07ee0" stroke-width="0.5"/><line x1="187.72" y1="47.7" x2="189.32" y2="47.7" stroke="#c07ee0" stroke-width="0.4"/><line x1="187.72" y1="52.49" x2="189.32" y2="52.49" stroke="#c07ee0" stroke-width="0.4"/><circle cx="188.52" cy="50.09" r="1.1" fill="#c07ee0"/><line x1="202.43" y1="51.76" x2="202.43" y2="59.74" stroke="#c07ee0" stroke-width="0.5"/><line x1="201.63" y1="51.76" x2="203.23" y2="51.76" stroke="#c07ee0" stroke-width="0.4"/><line x1="201.63" y1="59.74" x2="203.23" y2="59.74" stroke="#c07ee0" stroke-width="0.4"/><circle cx="202.43" cy="55.75" r="1.1" fill="#c07ee0"/><line x1="216.45" y1="65.13" x2="216.45" y2="73.11" stroke="#c07ee0" stroke-width="0.5"/><line x1="215.65" y1="65.13" x2="217.25" y2="65.13" stroke="#c07ee0" stroke-width="0.4"/><line x1="215.65" y1="73.11" x2="217.25" y2="73.11" stroke="#c07ee0" stroke-width="0.4"/><circle cx="216.45" cy="69.12" r="1.1" fill="#c07ee0"/><line x1="230.43" y1="79.43" x2="230.43" y2="84.22" stroke="#c07ee0" stroke-width="0.5"/><line x1="229.63" y1="79.43" x2="231.23" y2="79.43" stroke="#c07ee0" stroke-width="0.4"/><line x1="229.63" y1="84.22" x2="231.23" y2="84.22" stroke="#c07ee0" stroke-width="0.4"/><circle cx="230.43" cy="81.82" r="1.1" fill="#c07ee0"/><line x1="244.41" y1="84.47" x2="244.41" y2="89.25" stroke="#c07ee0" stroke-width="0.5"/><line x1="243.61" y1="84.47" x2="245.21" y2="84.47" stroke="#c07ee0" stroke-width="0.4"/><line x1="243.61" y1="89.25" x2="245.21" y2="89.25" stroke="#c07ee0" stroke-width="0.4"/><circle cx="244.41" cy="86.86" r="1.1" fill="#c07ee0"/><line x1="258.4" y1="85.75" x2="258.4" y2="90.54" stroke="#c07ee0" stroke-width="0.5"/><line x1="257.6" y1="85.75" x2="259.2" y2="85.75" stroke="#c07ee0" stroke-width="0.4"/><line x1="257.6" y1="90.54" x2="259.2" y2="90.54" stroke="#c07ee0" stroke-width="0.4"/><circle cx="258.4" cy="88.14" r="1.1" fill="#c07ee0"/><path d="M174.51,48.91L175.55,49.03L176.6,49.16L177.65,49.32L178.7,49.5L179.75,49.7L180.8,49.94L181.85,50.21L182.9,50.52L183.94,50.87L184.99,51.27L186.04,51.72L187.09,52.24L188.14,52.82L189.19,53.47L190.24,54.2L191.28,55.01L192.33,55.91L193.38,56.9L194.43,57.98L195.48,59.16L196.53,60.42L197.58,61.76L198.63,63.18L199.67,64.67L200.72,66.22L201.77,67.8L202.82,69.4L203.87,71.01L204.92,72.61L205.97,74.18L207.01,75.7L208.06,77.17L209.11,78.56L210.16,79.87L211.21,81.1L212.26,82.24L213.31,83.28L214.36,84.23L215.4,85.1L216.45,85.88L217.5,86.58L218.55,87.2L219.6,87.76L220.65,88.25L221.7,88.68L222.75,89.06L223.79,89.39L224.84,89.69L225.89,89.94L226.94,90.16L227.99,90.36L229.04,90.53L230.09,90.67L231.13,90.8L232.18,90.91L233.23,91.01L234.28,91.09L235.33,91.16L236.38,91.22L237.43,91.28L238.48,91.32L239.52,91.36L240.57,91.4L241.62,91.43L242.67,91.45L243.72,91.47L244.77,91.49L245.82,91.51L246.86,91.52L247.91,91.54L248.96,91.55L250.01,91.56L251.06,91.56L252.11,91.57L253.16,91.58L254.21,91.58L255.25,91.59L256.3,91.59L257.35,91.59L258.4,91.6" stroke="#a33fd0" stroke-width="0.9" fill="none"/><line x1="174.51" y1="46.52" x2="174.51" y2="51.31" stroke="#a33fd0" stroke-width="0.5"/><line x1="173.71" y1="46.52" x2="175.31" y2="46.52" stroke="#a33fd0" stroke-width="0.4"/><line x1="173.71" y1="51.31" x2="175.31" y2="51.31" stroke="#a33fd0" stroke-width="0.4"/><circle cx="174.51" cy="48.91" r="1.1" fill="#a33fd0"/><line x1="188.52" y1="49.06" x2="188.52" y2="57.03" stroke="#a33fd0" stroke-width="0.5"/><line x1="187.72" y1="49.06" x2="189.32" y2="49.06" stroke="#a33fd0" stroke-width="0.4"/><line x1="187.72" y1="57.03" x2="189.32" y2="57.03" stroke="#a33fd0" stroke-width="0.4"/><circle cx="188.52" cy="53.04" r="1.1" fill="#a33fd0"/><line x1="202.43" y1="64.82" x2="202.43" y2="72.8" stroke="#a33fd0" stroke-width="0.5"/><line x1="201.63" y1="64.82" x2="203.23" y2="64.82" stroke="#a33fd0" stroke-width="0.4"/><line x1="201.63" y1="72.8" x2="203.23" y2="72.8" stroke="#a33fd0" stroke-width="0.4"/><circle cx="202.43" cy="68.81" r="1.1" fill="#a33fd0"/><line x1="216.45" y1="83.48" x2="216.45" y2="88.27" stroke="#a33fd0" stroke-width="0.5"/><line x1="215.65" y1="83.48" x2="217.25" y2="83.48" stroke="#a33fd0" stroke-width="0.4"/><line x1="215.65" y1="88.27" x2="217.25" y2="88.27" stroke="#a33fd0" stroke-width="0.4"/><circle cx="216.45" cy="85.88" r="1.1" fill="#a33fd0"/><line x1="230.43" y1="88.32" x2="230.43" y2="93.11" stroke="#a33fd0" stroke-width="0.5"/><line x1="229.63" y1="88.32" x2="231.23" y2="88.32" stroke="#a33fd0" stroke-width="0.4"/><line x1="229.63" y1="93.11" x2="231.23" y2="93.11" stroke="#a33fd0" stroke-width="0.4"/><circle cx="230.43" cy="90.72" r="1.1" fill="#a33fd0"/><line x1="244.41" y1="89.09" x2="244.41" y2="93.88" stroke="#a33fd0" stroke-width="0.5"/><line x1="243.61" y1="89.09" x2="245.21" y2="89.09" stroke="#a33fd0" stroke-width="0.4"/><line x1="243.61" y1="93.88" x2="245.21" y2="93.88" stroke="#a33fd0" stroke-width="0.4"/><circle cx="244.41" cy="91.49" r="1.1" fill="#a33fd0"/><line x1="258.4" y1="89.2" x2="258.4" y2="93.99" stroke="#a33fd0" stroke-width="0.5"/><line x1="257.6" y1="89.2" x2="259.2" y2="89.2" stroke="#a33fd0" stroke-width="0.4"/><line x1="257.6" y1="93.99" x2="259.2" y2="93.99" stroke="#a33fd0" stroke-width="0.4"/><circle cx="258.4" cy="91.6" r="1.1" fill="#a33fd0"/><path d="M174.51,48.53L175.55,48.6L176.6,48.67L177.65,48.76L178.7,48.87L179.75,48.99L180.8,49.13L181.85,49.3L182.9,49.5L183.94,49.73L184.99,49.99L186.04,50.3L187.09,50.67L188.14,51.08L189.19,51.56L190.24,52.12L191.28,52.75L192.33,53.47L193.38,54.29L194.43,55.21L195.48,56.24L196.53,57.38L197.58,58.64L198.63,60.01L199.67,61.49L200.72,63.07L201.77,64.73L202.82,66.46L203.87,68.24L204.92,70.04L205.97,71.85L207.01,73.63L208.06,75.36L209.11,77.03L210.16,78.61L211.21,80.1L212.26,81.48L213.31,82.75L214.36,83.9L215.4,84.94L216.45,85.87L217.5,86.69L218.55,87.42L219.6,88.06L220.65,88.62L221.7,89.11L222.75,89.53L223.79,89.9L224.84,90.21L225.89,90.48L226.94,90.71L227.99,90.91L229.04,91.08L230.09,91.23L231.13,91.35L232.18,91.46L233.23,91.55L234.28,91.62L235.33,91.69L236.38,91.74L237.43,91.79L238.48,91.83L239.52,91.87L240.57,91.89L241.62,91.92L242.67,91.94L243.72,91.96L244.77,91.97L245.82,91.99L246.86,92L247.91,92.01L248.96,92.01L250.01,92.02L251.06,92.03L252.11,92.03L253.16,92.03L254.21,92.04L255.25,92.04L256.3,92.04L257.35,92.05L258.4,92.05" stroke="#6d1f99" stroke-width="0.9" fill="none"/><line x1="174.51" y1="46.14" x2="174.51" y2="50.93" stroke="#6d1f99" stroke-width="0.5"/><line x1="173.71" y1="46.14" x2="175.31" y2="46.14" stroke="#6d1f99" stroke-width="0.4"/><line x1="173.71" y1="50.93" x2="175.31" y2="50.93" stroke="#6d1f99" stroke-width="0.4"/><circle cx="174.51" cy="48.53" r="1.1" fill="#6d1f99"/><line x1="188.52" y1="48.85" x2="188.52" y2="53.64" stroke="#6d1f99" stroke-width="0.5"/><line x1="187.72" y1="48.85" x2="189.32" y2="48.85" stroke="#6d1f99" stroke-width="0.4"/><line x1="187.72" y1="53.64" x2="189.32" y2="53.64" stroke="#6d1f99" stroke-width="0.4"/><circle cx="188.52" cy="51.25" r="1.1" fill="#6d1f99"/><line x1="202.43" y1="61.83" x2="202.43" y2="69.8" stroke="#6d1f99" stroke-width="0.5"/><line x1="201.63" y1="61.83" x2="203.23" y2="61.83" stroke="#6d1f99" stroke-width="0.4"/><line x1="201.63" y1="69.8" x2="203.23" y2="69.8" stroke="#6d1f99" stroke-width="0.4"/><circle cx="202.43" cy="65.81" r="1.1" fill="#6d1f99"/><line x1="216.45" y1="83.47" x2="216.45" y2="88.26" stroke="#6d1f99" stroke-width="0.5"/><line x1="215.65" y1="83.47" x2="217.25" y2="83.47" stroke="#6d1f99" stroke-width="0.4"/><line x1="215.65" y1="88.26" x2="217.25" y2="88.26" stroke="#6d1f99" stroke-width="0.4"/><circle cx="216.45" cy="85.86" r="1.1" fill="#6d1f99"/><line x1="230.43" y1="88.88" x2="230.43" y2="93.66" stroke="#6d1f99" stroke-width="0.5"/><line x1="229.63" y1="88.88" x2="231.23" y2="88.88" stroke="#6d1f99" stroke-width="0.4"/><line x1="229.63" y1="93.66" x2="231.23" y2="93.66" stroke="#6d1f99" stroke-width="0.4"/><circle cx="230.43" cy="91.27" r="1.1" fill="#6d1f99"/><line x1="244.41" y1="89.57" x2="244.41" y2="94.36" stroke="#6d1f99" stroke-width="0.5"/><line x1="243.61" y1="89.57" x2="245.21" y2="89.57" stroke="#6d1f99" stroke-width="0.4"/><line x1="243.61" y1="94.36" x2="245.21" y2="94.36" stroke="#6d1f99" stroke-width="0.4"/><circle cx="244.41" cy="91.97" r="1.1" fill="#6d1f99"/><line x1="258.4" y1="89.65" x2="258.4" y2="94.44" stroke="#6d1f99" stroke-width="0.5"/><line x1="257.6" y1="89.65" x2="259.2" y2="89.65" stroke="#6d1f99" stroke-width="0.4"/><line x1="257.6" y1="94.44" x2="259.2" y2="94.44" stroke="#6d1f99" stroke-width="0.4"/><circle cx="258.4" cy="92.05" r="1.1" fill="#6d1f99"/><line x1="161.5" y1="42.85" x2="161.5" y2="53.49" stroke="#a33fd0" stroke-width="0.6"/><line x1="161.5" y1="42.85" x2="161.5" y2="53.49" stroke="#6d1f99" stroke-width="0.6"/><circle cx="161.5" cy="48.17" r="0.9" fill="#6d1f99"/><line x1="158.5" y1="48.17" x2="164.5" y2="48.17" stroke="#6d1f99" stroke-width="0.6"/><text x="273.7" y="11" font-size="12" fill="#000" stroke="#000" font-weight="bold">C</text><line x1="299" y1="26" x2="299" y2="92.5" stroke="#333" stroke-width="0.6"/><line x1="297.4" y1="92.5" x2="299" y2="92.5" stroke="#333" stroke-width="0.6"/><text x="296.8" y="94.3" font-size="5.2" fill="#444" stroke="#444" text-anchor="end">0</text><line x1="297.4" y1="70.33" x2="299" y2="70.33" stroke="#333" stroke-width="0.6"/><text x="296.8" y="72.13" font-size="5.2" fill="#444" stroke="#444" text-anchor="end">50</text><line x1="297.4" y1="48.17" x2="299" y2="48.17" stroke="#333" stroke-width="0.6"/><text x="296.8" y="49.97" font-size="5.2" fill="#444" stroke="#444" text-anchor="end">100</text><line x1="297.4" y1="26" x2="299" y2="26" stroke="#333" stroke-width="0.6"/><text x="296.8" y="27.8" font-size="5.2" fill="#444" stroke="#444" text-anchor="end">150</text><line x1="298.1" y1="81.42" x2="299" y2="81.42" stroke="#333" stroke-width="0.5"/><line x1="298.1" y1="59.25" x2="299" y2="59.25" stroke="#333" stroke-width="0.5"/><line x1="298.1" y1="37.09" x2="299" y2="37.09" stroke="#333" stroke-width="0.5"/><line x1="299" y1="92.5" x2="304.2" y2="92.5" stroke="#333" stroke-width="0.6"/><line x1="304.2" y1="91.3" x2="304.2" y2="93.7" stroke="#333" stroke-width="0.5"/><line x1="307.7" y1="91.3" x2="307.7" y2="93.7" stroke="#333" stroke-width="0.5"/><line x1="307.7" y1="92.5" x2="395.9" y2="92.5" stroke="#333" stroke-width="0.6"/><line x1="308" y1="92.5" x2="308" y2="94.3" stroke="#333" stroke-width="0.6"/><line x1="316.82" y1="92.5" x2="316.82" y2="93.6" stroke="#333" stroke-width="0.4"/><line x1="321.98" y1="92.5" x2="321.98" y2="93.6" stroke="#333" stroke-width="0.4"/><line x1="325.64" y1="92.5" x2="325.64" y2="93.6" stroke="#333" stroke-width="0.4"/><line x1="328.48" y1="92.5" x2="328.48" y2="93.6" stroke="#333" stroke-width="0.4"/><line x1="330.8" y1="92.5" x2="330.8" y2="93.6" stroke="#333" stroke-width="0.4"/><line x1="332.76" y1="92.5" x2="332.76" y2="93.6" stroke="#333" stroke-width="0.4"/><line x1="334.46" y1="92.5" x2="334.46" y2="93.6" stroke="#333" stroke-width="0.4"/><line x1="335.96" y1="92.5" x2="335.96" y2="93.6" stroke="#333" stroke-width="0.4"/><line x1="337.3" y1="92.5" x2="337.3" y2="94.3" stroke="#333" stroke-width="0.6"/><line x1="346.12" y1="92.5" x2="346.12" y2="93.6" stroke="#333" stroke-width="0.4"/><line x1="351.28" y1="92.5" x2="351.28" y2="93.6" stroke="#333" stroke-width="0.4"/><line x1="354.94" y1="92.5" x2="354.94" y2="93.6" stroke="#333" stroke-width="0.4"/><line x1="357.78" y1="92.5" x2="357.78" y2="93.6" stroke="#333" stroke-width="0.4"/><line x1="360.1" y1="92.5" x2="360.1" y2="93.6" stroke="#333" stroke-width="0.4"/><line x1="362.06" y1="92.5" x2="362.06" y2="93.6" stroke="#333" stroke-width="0.4"/><line x1="363.76" y1="92.5" x2="363.76" y2="93.6" stroke="#333" stroke-width="0.4"/><line x1="365.26" y1="92.5" x2="365.26" y2="93.6" stroke="#333" stroke-width="0.4"/><line x1="366.6" y1="92.5" x2="366.6" y2="94.3" stroke="#333" stroke-width="0.6"/><line x1="375.42" y1="92.5" x2="375.42" y2="93.6" stroke="#333" stroke-width="0.4"/><line x1="380.58" y1="92.5" x2="380.58" y2="93.6" stroke="#333" stroke-width="0.4"/><line x1="384.24" y1="92.5" x2="384.24" y2="93.6" stroke="#333" stroke-width="0.4"/><line x1="387.08" y1="92.5" x2="387.08" y2="93.6" stroke="#333" stroke-width="0.4"/><line x1="389.4" y1="92.5" x2="389.4" y2="93.6" stroke="#333" stroke-width="0.4"/><line x1="391.36" y1="92.5" x2="391.36" y2="93.6" stroke="#333" stroke-width="0.4"/><line x1="393.06" y1="92.5" x2="393.06" y2="93.6" stroke="#333" stroke-width="0.4"/><line x1="394.56" y1="92.5" x2="394.56" y2="93.6" stroke="#333" stroke-width="0.4"/><line x1="395.9" y1="92.5" x2="395.9" y2="94.3" stroke="#333" stroke-width="0.6"/><line x1="299" y1="92.5" x2="299" y2="94.3" stroke="#333" stroke-width="0.6"/><text x="299" y="101.2" font-size="5" fill="#444" stroke="#444" text-anchor="middle">0</text><text x="308" y="101.2" font-size="5" fill="#444" stroke="#444" text-anchor="middle">1</text><text x="337.3" y="101.2" font-size="5" fill="#444" stroke="#444" text-anchor="middle">10</text><text x="366.6" y="101.2" font-size="5" fill="#444" stroke="#444" text-anchor="middle">100</text><text x="395.9" y="101.2" font-size="5" fill="#444" stroke="#444" text-anchor="middle">1,000</text><text x="350.45" y="109.6" font-size="5.6" fill="#333" stroke="#333" text-anchor="middle">Elimusertib (nmol/L)</text><text x="282" y="58.4" font-size="5.6" fill="#333" stroke="#333" text-anchor="middle" transform="rotate(-90 282 58.4)">Rel. luminescence (% control)</text><text x="308" y="18.8" font-size="5.6"><tspan fill="#2f9a5e" stroke="#2f9a5e">MNA NB</tspan><tspan fill="#222" stroke="#222"> &amp; </tspan><tspan fill="#ef7f55" stroke="#ef7f55">NMNA NB</tspan></text><text x="370.8" y="18.8" font-size="5.6" fill="#3fd24a" stroke="#3fd24a">CHP-134</text><text x="370.8" y="23.95" font-size="5.6" fill="#1b3f23" stroke="#1b3f23">IMR5/75</text><text x="370.8" y="29.1" font-size="5.6" fill="#ef5a36" stroke="#ef5a36">SK-N-AS</text><text x="370.8" y="34.25" font-size="5.6" fill="#b98a5c" stroke="#b98a5c">SK-N-SH</text><text x="370.8" y="39.4" font-size="5.6" fill="#666" stroke="#666">EJ</text><text x="370.8" y="44.55" font-size="5.6" fill="#111" stroke="#111">RPE</text><path d="M312.01,48.98L313.05,49.04L314.1,49.1L315.15,49.17L316.2,49.24L317.25,49.31L318.3,49.39L319.35,49.48L320.4,49.57L321.44,49.66L322.49,49.77L323.54,49.88L324.59,50L325.64,50.12L326.69,50.25L327.74,50.39L328.78,50.55L329.83,50.7L330.88,50.87L331.93,51.05L332.98,51.24L334.03,51.45L335.08,51.66L336.13,51.89L337.17,52.13L338.22,52.38L339.27,52.64L340.32,52.92L341.37,53.22L342.42,53.53L343.47,53.85L344.51,54.19L345.56,54.55L346.61,54.92L347.66,55.31L348.71,55.72L349.76,56.14L350.81,56.57L351.86,57.03L352.9,57.5L353.95,57.98L355,58.48L356.05,59L357.1,59.52L358.15,60.06L359.2,60.62L360.25,61.18L361.29,61.75L362.34,62.33L363.39,62.92L364.44,63.52L365.49,64.12L366.54,64.72L367.59,65.33L368.63,65.93L369.68,66.54L370.73,67.14L371.78,67.74L372.83,68.33L373.88,68.91L374.93,69.49L375.98,70.06L377.02,70.62L378.07,71.16L379.12,71.69L380.17,72.21L381.22,72.72L382.27,73.21L383.32,73.69L384.36,74.15L385.41,74.59L386.46,75.02L387.51,75.43L388.56,75.83L389.61,76.21L390.66,76.57L391.71,76.92L392.75,77.25L393.8,77.57L394.85,77.87L395.9,78.15" stroke="#555555" stroke-width="0.9" fill="none"/><line x1="312.01" y1="46.59" x2="312.01" y2="51.38" stroke="#555555" stroke-width="0.5"/><line x1="311.21" y1="46.59" x2="312.81" y2="46.59" stroke="#555555" stroke-width="0.4"/><line x1="311.21" y1="51.38" x2="312.81" y2="51.38" stroke="#555555" stroke-width="0.4"/><circle cx="312.01" cy="48.98" r="1.1" fill="#555555"/><line x1="326.02" y1="47.77" x2="326.02" y2="52.56" stroke="#555555" stroke-width="0.5"/><line x1="325.22" y1="47.77" x2="326.82" y2="47.77" stroke="#555555" stroke-width="0.4"/><line x1="325.22" y1="52.56" x2="326.82" y2="52.56" stroke="#555555" stroke-width="0.4"/><circle cx="326.02" cy="50.17" r="1.1" fill="#555555"/><line x1="339.93" y1="48.83" x2="339.93" y2="56.81" stroke="#555555" stroke-width="0.5"/><line x1="339.13" y1="48.83" x2="340.73" y2="48.83" stroke="#555555" stroke-width="0.4"/><line x1="339.13" y1="56.81" x2="340.73" y2="56.81" stroke="#555555" stroke-width="0.4"/><circle cx="339.93" cy="52.82" r="1.1" fill="#555555"/><line x1="353.95" y1="53.99" x2="353.95" y2="61.97" stroke="#555555" stroke-width="0.5"/><line x1="353.15" y1="53.99" x2="354.75" y2="53.99" stroke="#555555" stroke-width="0.4"/><line x1="353.15" y1="61.97" x2="354.75" y2="61.97" stroke="#555555" stroke-width="0.4"/><circle cx="353.95" cy="57.98" r="1.1" fill="#555555"/><line x1="367.93" y1="61.54" x2="367.93" y2="69.51" stroke="#555555" stroke-width="0.5"/><line x1="367.13" y1="61.54" x2="368.73" y2="61.54" stroke="#555555" stroke-width="0.4"/><line x1="367.13" y1="69.51" x2="368.73" y2="69.51" stroke="#555555" stroke-width="0.4"/><circle cx="367.93" cy="65.53" r="1.1" fill="#555555"/><line x1="381.91" y1="69.06" x2="381.91" y2="77.03" stroke="#555555" stroke-width="0.5"/><line x1="381.11" y1="69.06" x2="382.71" y2="69.06" stroke="#555555" stroke-width="0.4"/><line x1="381.11" y1="77.03" x2="382.71" y2="77.03" stroke="#555555" stroke-width="0.4"/><circle cx="381.91" cy="73.05" r="1.1" fill="#555555"/><line x1="395.9" y1="75.76" x2="395.9" y2="80.55" stroke="#555555" stroke-width="0.5"/><line x1="395.1" y1="75.76" x2="396.7" y2="75.76" stroke="#555555" stroke-width="0.4"/><line x1="395.1" y1="80.55" x2="396.7" y2="80.55" stroke="#555555" stroke-width="0.4"/><circle cx="395.9" cy="78.15" r="1.1" fill="#555555"/><path d="M312.01,48.78L313.05,48.82L314.1,48.87L315.15,48.92L316.2,48.98L317.25,49.04L318.3,49.11L319.35,49.18L320.4,49.25L321.44,49.34L322.49,49.42L323.54,49.52L324.59,49.62L325.64,49.72L326.69,49.84L327.74,49.96L328.78,50.09L329.83,50.23L330.88,50.38L331.93,50.55L332.98,50.72L334.03,50.9L335.08,51.1L336.13,51.31L337.17,51.53L338.22,51.76L339.27,52.02L340.32,52.28L341.37,52.57L342.42,52.87L343.47,53.19L344.51,53.52L345.56,53.88L346.61,54.25L347.66,54.65L348.71,55.07L349.76,55.51L350.81,55.97L351.86,56.45L352.9,56.95L353.95,57.48L355,58.03L356.05,58.6L357.1,59.19L358.15,59.81L359.2,60.44L360.25,61.1L361.29,61.77L362.34,62.46L363.39,63.17L364.44,63.89L365.49,64.63L366.54,65.38L367.59,66.14L368.63,66.91L369.68,67.68L370.73,68.46L371.78,69.24L372.83,70.02L373.88,70.8L374.93,71.58L375.98,72.34L377.02,73.1L378.07,73.85L379.12,74.59L380.17,75.31L381.22,76.02L382.27,76.71L383.32,77.38L384.36,78.04L385.41,78.67L386.46,79.28L387.51,79.88L388.56,80.45L389.61,80.99L390.66,81.52L391.71,82.02L392.75,82.51L393.8,82.96L394.85,83.4L395.9,83.82" stroke="#111111" stroke-width="0.9" fill="none"/><line x1="312.01" y1="46.38" x2="312.01" y2="51.17" stroke="#111111" stroke-width="0.5"/><line x1="311.21" y1="46.38" x2="312.81" y2="46.38" stroke="#111111" stroke-width="0.4"/><line x1="311.21" y1="51.17" x2="312.81" y2="51.17" stroke="#111111" stroke-width="0.4"/><circle cx="312.01" cy="48.78" r="1.1" fill="#111111"/><line x1="326.02" y1="47.37" x2="326.02" y2="52.16" stroke="#111111" stroke-width="0.5"/><line x1="325.22" y1="47.37" x2="326.82" y2="47.37" stroke="#111111" stroke-width="0.4"/><line x1="325.22" y1="52.16" x2="326.82" y2="52.16" stroke="#111111" stroke-width="0.4"/><circle cx="326.02" cy="49.76" r="1.1" fill="#111111"/><line x1="339.93" y1="49.79" x2="339.93" y2="54.58" stroke="#111111" stroke-width="0.5"/><line x1="339.13" y1="49.79" x2="340.73" y2="49.79" stroke="#111111" stroke-width="0.4"/><line x1="339.13" y1="54.58" x2="340.73" y2="54.58" stroke="#111111" stroke-width="0.4"/><circle cx="339.93" cy="52.18" r="1.1" fill="#111111"/><line x1="353.95" y1="53.49" x2="353.95" y2="61.47" stroke="#111111" stroke-width="0.5"/><line x1="353.15" y1="53.49" x2="354.75" y2="53.49" stroke="#111111" stroke-width="0.4"/><line x1="353.15" y1="61.47" x2="354.75" y2="61.47" stroke="#111111" stroke-width="0.4"/><circle cx="353.95" cy="57.48" r="1.1" fill="#111111"/><line x1="367.93" y1="62.4" x2="367.93" y2="70.38" stroke="#111111" stroke-width="0.5"/><line x1="367.13" y1="62.4" x2="368.73" y2="62.4" stroke="#111111" stroke-width="0.4"/><line x1="367.13" y1="70.38" x2="368.73" y2="70.38" stroke="#111111" stroke-width="0.4"/><circle cx="367.93" cy="66.39" r="1.1" fill="#111111"/><line x1="381.91" y1="72.49" x2="381.91" y2="80.46" stroke="#111111" stroke-width="0.5"/><line x1="381.11" y1="72.49" x2="382.71" y2="72.49" stroke="#111111" stroke-width="0.4"/><line x1="381.11" y1="80.46" x2="382.71" y2="80.46" stroke="#111111" stroke-width="0.4"/><circle cx="381.91" cy="76.48" r="1.1" fill="#111111"/><line x1="395.9" y1="81.43" x2="395.9" y2="86.21" stroke="#111111" stroke-width="0.5"/><line x1="395.1" y1="81.43" x2="396.7" y2="81.43" stroke="#111111" stroke-width="0.4"/><line x1="395.1" y1="86.21" x2="396.7" y2="86.21" stroke="#111111" stroke-width="0.4"/><circle cx="395.9" cy="83.82" r="1.1" fill="#111111"/><path d="M312.01,48.18L313.05,48.18L314.1,48.19L315.15,48.19L316.2,48.19L317.25,48.2L318.3,48.21L319.35,48.21L320.4,48.22L321.44,48.23L322.49,48.24L323.54,48.26L324.59,48.28L325.64,48.3L326.69,48.32L327.74,48.35L328.78,48.39L329.83,48.43L330.88,48.48L331.93,48.55L332.98,48.62L334.03,48.71L335.08,48.81L336.13,48.94L337.17,49.09L338.22,49.26L339.27,49.47L340.32,49.72L341.37,50.02L342.42,50.37L343.47,50.78L344.51,51.26L345.56,51.81L346.61,52.46L347.66,53.21L348.71,54.07L349.76,55.04L350.81,56.14L351.86,57.37L352.9,58.72L353.95,60.2L355,61.79L356.05,63.48L357.1,65.25L358.15,67.07L359.2,68.92L360.25,70.76L361.29,72.57L362.34,74.31L363.39,75.96L364.44,77.51L365.49,78.94L366.54,80.25L367.59,81.43L368.63,82.48L369.68,83.4L370.73,84.22L371.78,84.93L372.83,85.54L373.88,86.06L374.93,86.51L375.98,86.9L377.02,87.22L378.07,87.5L379.12,87.73L380.17,87.93L381.22,88.1L382.27,88.24L383.32,88.35L384.36,88.45L385.41,88.53L386.46,88.6L387.51,88.66L388.56,88.71L389.61,88.75L390.66,88.78L391.71,88.81L392.75,88.83L393.8,88.85L394.85,88.87L395.9,88.88" stroke="#b98a5c" stroke-width="0.9" fill="none"/><line x1="312.01" y1="45.79" x2="312.01" y2="50.58" stroke="#b98a5c" stroke-width="0.5"/><line x1="311.21" y1="45.79" x2="312.81" y2="45.79" stroke="#b98a5c" stroke-width="0.4"/><line x1="311.21" y1="50.58" x2="312.81" y2="50.58" stroke="#b98a5c" stroke-width="0.4"/><circle cx="312.01" cy="48.18" r="1.1" fill="#b98a5c"/><line x1="326.02" y1="45.91" x2="326.02" y2="50.7" stroke="#b98a5c" stroke-width="0.5"/><line x1="325.22" y1="45.91" x2="326.82" y2="45.91" stroke="#b98a5c" stroke-width="0.4"/><line x1="325.22" y1="50.7" x2="326.82" y2="50.7" stroke="#b98a5c" stroke-width="0.4"/><circle cx="326.02" cy="48.31" r="1.1" fill="#b98a5c"/><line x1="339.93" y1="47.23" x2="339.93" y2="52.02" stroke="#b98a5c" stroke-width="0.5"/><line x1="339.13" y1="47.23" x2="340.73" y2="47.23" stroke="#b98a5c" stroke-width="0.4"/><line x1="339.13" y1="52.02" x2="340.73" y2="52.02" stroke="#b98a5c" stroke-width="0.4"/><circle cx="339.93" cy="49.63" r="1.1" fill="#b98a5c"/><line x1="353.95" y1="56.2" x2="353.95" y2="64.18" stroke="#b98a5c" stroke-width="0.5"/><line x1="353.15" y1="56.2" x2="354.75" y2="56.2" stroke="#b98a5c" stroke-width="0.4"/><line x1="353.15" y1="64.18" x2="354.75" y2="64.18" stroke="#b98a5c" stroke-width="0.4"/><circle cx="353.95" cy="60.19" r="1.1" fill="#b98a5c"/><line x1="367.93" y1="79.39" x2="367.93" y2="84.18" stroke="#b98a5c" stroke-width="0.5"/><line x1="367.13" y1="79.39" x2="368.73" y2="79.39" stroke="#b98a5c" stroke-width="0.4"/><line x1="367.13" y1="84.18" x2="368.73" y2="84.18" stroke="#b98a5c" stroke-width="0.4"/><circle cx="367.93" cy="81.78" r="1.1" fill="#b98a5c"/><line x1="381.91" y1="85.8" x2="381.91" y2="90.59" stroke="#b98a5c" stroke-width="0.5"/><line x1="381.11" y1="85.8" x2="382.71" y2="85.8" stroke="#b98a5c" stroke-width="0.4"/><line x1="381.11" y1="90.59" x2="382.71" y2="90.59" stroke="#b98a5c" stroke-width="0.4"/><circle cx="381.91" cy="88.19" r="1.1" fill="#b98a5c"/><line x1="395.9" y1="86.49" x2="395.9" y2="91.28" stroke="#b98a5c" stroke-width="0.5"/><line x1="395.1" y1="86.49" x2="396.7" y2="86.49" stroke="#b98a5c" stroke-width="0.4"/><line x1="395.1" y1="91.28" x2="396.7" y2="91.28" stroke="#b98a5c" stroke-width="0.4"/><circle cx="395.9" cy="88.88" r="1.1" fill="#b98a5c"/><path d="M312.01,48.18L313.05,48.18L314.1,48.18L315.15,48.18L316.2,48.19L317.25,48.19L318.3,48.2L319.35,48.2L320.4,48.21L321.44,48.23L322.49,48.24L323.54,48.26L324.59,48.29L325.64,48.32L326.69,48.37L327.74,48.42L328.78,48.49L329.83,48.58L330.88,48.69L331.93,48.84L332.98,49.02L334.03,49.25L335.08,49.54L336.13,49.91L337.17,50.37L338.22,50.95L339.27,51.67L340.32,52.55L341.37,53.61L342.42,54.9L343.47,56.42L344.51,58.18L345.56,60.18L346.61,62.42L347.66,64.83L348.71,67.37L349.76,69.97L350.81,72.55L351.86,75.02L352.9,77.34L353.95,79.44L355,81.31L356.05,82.93L357.1,84.32L358.15,85.47L359.2,86.43L360.25,87.21L361.29,87.85L362.34,88.36L363.39,88.76L364.44,89.09L365.49,89.34L366.54,89.55L367.59,89.7L368.63,89.83L369.68,89.93L370.73,90.01L371.78,90.07L372.83,90.11L373.88,90.15L374.93,90.18L375.98,90.2L377.02,90.22L378.07,90.23L379.12,90.24L380.17,90.25L381.22,90.26L382.27,90.27L383.32,90.27L384.36,90.27L385.41,90.27L386.46,90.28L387.51,90.28L388.56,90.28L389.61,90.28L390.66,90.28L391.71,90.28L392.75,90.28L393.8,90.28L394.85,90.28L395.9,90.28" stroke="#e0603a" stroke-width="0.9" fill="none"/><line x1="312.01" y1="45.78" x2="312.01" y2="50.57" stroke="#e0603a" stroke-width="0.5"/><line x1="311.21" y1="45.78" x2="312.81" y2="45.78" stroke="#e0603a" stroke-width="0.4"/><line x1="311.21" y1="50.57" x2="312.81" y2="50.57" stroke="#e0603a" stroke-width="0.4"/><circle cx="312.01" cy="48.18" r="1.1" fill="#e0603a"/><line x1="326.02" y1="45.94" x2="326.02" y2="50.73" stroke="#e0603a" stroke-width="0.5"/><line x1="325.22" y1="45.94" x2="326.82" y2="45.94" stroke="#e0603a" stroke-width="0.4"/><line x1="325.22" y1="50.73" x2="326.82" y2="50.73" stroke="#e0603a" stroke-width="0.4"/><circle cx="326.02" cy="48.34" r="1.1" fill="#e0603a"/><line x1="339.93" y1="49.81" x2="339.93" y2="54.6" stroke="#e0603a" stroke-width="0.5"/><line x1="339.13" y1="49.81" x2="340.73" y2="49.81" stroke="#e0603a" stroke-width="0.4"/><line x1="339.13" y1="54.6" x2="340.73" y2="54.6" stroke="#e0603a" stroke-width="0.4"/><circle cx="339.93" cy="52.2" r="1.1" fill="#e0603a"/><line x1="353.95" y1="75.45" x2="353.95" y2="83.42" stroke="#e0603a" stroke-width="0.5"/><line x1="353.15" y1="75.45" x2="354.75" y2="75.45" stroke="#e0603a" stroke-width="0.4"/><line x1="353.15" y1="83.42" x2="354.75" y2="83.42" stroke="#e0603a" stroke-width="0.4"/><circle cx="353.95" cy="79.43" r="1.1" fill="#e0603a"/><line x1="367.93" y1="87.36" x2="367.93" y2="92.14" stroke="#e0603a" stroke-width="0.5"/><line x1="367.13" y1="87.36" x2="368.73" y2="87.36" stroke="#e0603a" stroke-width="0.4"/><line x1="367.13" y1="92.14" x2="368.73" y2="92.14" stroke="#e0603a" stroke-width="0.4"/><circle cx="367.93" cy="89.75" r="1.1" fill="#e0603a"/><line x1="381.91" y1="87.87" x2="381.91" y2="92.66" stroke="#e0603a" stroke-width="0.5"/><line x1="381.11" y1="87.87" x2="382.71" y2="87.87" stroke="#e0603a" stroke-width="0.4"/><line x1="381.11" y1="92.66" x2="382.71" y2="92.66" stroke="#e0603a" stroke-width="0.4"/><circle cx="381.91" cy="90.26" r="1.1" fill="#e0603a"/><line x1="395.9" y1="87.89" x2="395.9" y2="92.68" stroke="#e0603a" stroke-width="0.5"/><line x1="395.1" y1="87.89" x2="396.7" y2="87.89" stroke="#e0603a" stroke-width="0.4"/><line x1="395.1" y1="92.68" x2="396.7" y2="92.68" stroke="#e0603a" stroke-width="0.4"/><circle cx="395.9" cy="90.28" r="1.1" fill="#e0603a"/><path d="M312.01,48.83L313.05,48.94L314.1,49.08L315.15,49.24L316.2,49.42L317.25,49.64L318.3,49.89L319.35,50.19L320.4,50.53L321.44,50.92L322.49,51.38L323.54,51.9L324.59,52.5L325.64,53.19L326.69,53.97L327.74,54.85L328.78,55.83L329.83,56.92L330.88,58.13L331.93,59.44L332.98,60.87L334.03,62.39L335.08,64L336.13,65.68L337.17,67.42L338.22,69.18L339.27,70.95L340.32,72.7L341.37,74.42L342.42,76.07L343.47,77.64L344.51,79.12L345.56,80.5L346.61,81.76L347.66,82.92L348.71,83.96L349.76,84.9L350.81,85.73L351.86,86.47L352.9,87.11L353.95,87.68L355,88.17L356.05,88.6L357.1,88.97L358.15,89.29L359.2,89.57L360.25,89.8L361.29,90L362.34,90.18L363.39,90.33L364.44,90.45L365.49,90.56L366.54,90.65L367.59,90.73L368.63,90.8L369.68,90.85L370.73,90.9L371.78,90.94L372.83,90.98L373.88,91L374.93,91.03L375.98,91.05L377.02,91.07L378.07,91.08L379.12,91.1L380.17,91.11L381.22,91.12L382.27,91.13L383.32,91.13L384.36,91.14L385.41,91.14L386.46,91.15L387.51,91.15L388.56,91.15L389.61,91.16L390.66,91.16L391.71,91.16L392.75,91.16L393.8,91.16L394.85,91.16L395.9,91.16" stroke="#1f6b33" stroke-width="0.9" fill="none"/><line x1="312.01" y1="46.43" x2="312.01" y2="51.22" stroke="#1f6b33" stroke-width="0.5"/><line x1="311.21" y1="46.43" x2="312.81" y2="46.43" stroke="#1f6b33" stroke-width="0.4"/><line x1="311.21" y1="51.22" x2="312.81" y2="51.22" stroke="#1f6b33" stroke-width="0.4"/><circle cx="312.01" cy="48.83" r="1.1" fill="#1f6b33"/><line x1="326.02" y1="49.47" x2="326.02" y2="57.45" stroke="#1f6b33" stroke-width="0.5"/><line x1="325.22" y1="49.47" x2="326.82" y2="49.47" stroke="#1f6b33" stroke-width="0.4"/><line x1="325.22" y1="57.45" x2="326.82" y2="57.45" stroke="#1f6b33" stroke-width="0.4"/><circle cx="326.02" cy="53.46" r="1.1" fill="#1f6b33"/><line x1="339.93" y1="68.07" x2="339.93" y2="76.05" stroke="#1f6b33" stroke-width="0.5"/><line x1="339.13" y1="68.07" x2="340.73" y2="68.07" stroke="#1f6b33" stroke-width="0.4"/><line x1="339.13" y1="76.05" x2="340.73" y2="76.05" stroke="#1f6b33" stroke-width="0.4"/><circle cx="339.93" cy="72.06" r="1.1" fill="#1f6b33"/><line x1="353.95" y1="85.28" x2="353.95" y2="90.07" stroke="#1f6b33" stroke-width="0.5"/><line x1="353.15" y1="85.28" x2="354.75" y2="85.28" stroke="#1f6b33" stroke-width="0.4"/><line x1="353.15" y1="90.07" x2="354.75" y2="90.07" stroke="#1f6b33" stroke-width="0.4"/><circle cx="353.95" cy="87.68" r="1.1" fill="#1f6b33"/><line x1="367.93" y1="88.36" x2="367.93" y2="93.15" stroke="#1f6b33" stroke-width="0.5"/><line x1="367.13" y1="88.36" x2="368.73" y2="88.36" stroke="#1f6b33" stroke-width="0.4"/><line x1="367.13" y1="93.15" x2="368.73" y2="93.15" stroke="#1f6b33" stroke-width="0.4"/><circle cx="367.93" cy="90.75" r="1.1" fill="#1f6b33"/><line x1="381.91" y1="88.73" x2="381.91" y2="93.52" stroke="#1f6b33" stroke-width="0.5"/><line x1="381.11" y1="88.73" x2="382.71" y2="88.73" stroke="#1f6b33" stroke-width="0.4"/><line x1="381.11" y1="93.52" x2="382.71" y2="93.52" stroke="#1f6b33" stroke-width="0.4"/><circle cx="381.91" cy="91.12" r="1.1" fill="#1f6b33"/><line x1="395.9" y1="88.77" x2="395.9" y2="93.56" stroke="#1f6b33" stroke-width="0.5"/><line x1="395.1" y1="88.77" x2="396.7" y2="88.77" stroke="#1f6b33" stroke-width="0.4"/><line x1="395.1" y1="93.56" x2="396.7" y2="93.56" stroke="#1f6b33" stroke-width="0.4"/><circle cx="395.9" cy="91.16" r="1.1" fill="#1f6b33"/><path d="M312.01,49.15L313.05,49.33L314.1,49.53L315.15,49.76L316.2,50.03L317.25,50.35L318.3,50.72L319.35,51.14L320.4,51.63L321.44,52.2L322.49,52.84L323.54,53.57L324.59,54.4L325.64,55.33L326.69,56.38L327.74,57.53L328.78,58.8L329.83,60.17L330.88,61.66L331.93,63.24L332.98,64.9L334.03,66.62L335.08,68.39L336.13,70.18L337.17,71.96L338.22,73.72L339.27,75.42L340.32,77.06L341.37,78.61L342.42,80.06L343.47,81.4L344.51,82.63L345.56,83.75L346.61,84.76L347.66,85.66L348.71,86.45L349.76,87.16L350.81,87.77L351.86,88.31L352.9,88.78L353.95,89.19L355,89.54L356.05,89.84L357.1,90.1L358.15,90.32L359.2,90.52L360.25,90.68L361.29,90.82L362.34,90.94L363.39,91.04L364.44,91.12L365.49,91.2L366.54,91.26L367.59,91.31L368.63,91.36L369.68,91.4L370.73,91.43L371.78,91.46L372.83,91.48L373.88,91.5L374.93,91.52L375.98,91.53L377.02,91.55L378.07,91.56L379.12,91.56L380.17,91.57L381.22,91.58L382.27,91.58L383.32,91.59L384.36,91.59L385.41,91.6L386.46,91.6L387.51,91.6L388.56,91.6L389.61,91.6L390.66,91.61L391.71,91.61L392.75,91.61L393.8,91.61L394.85,91.61L395.9,91.61" stroke="#3fd24a" stroke-width="0.9" fill="none"/><line x1="312.01" y1="46.76" x2="312.01" y2="51.55" stroke="#3fd24a" stroke-width="0.5"/><line x1="311.21" y1="46.76" x2="312.81" y2="46.76" stroke="#3fd24a" stroke-width="0.4"/><line x1="311.21" y1="51.55" x2="312.81" y2="51.55" stroke="#3fd24a" stroke-width="0.4"/><circle cx="312.01" cy="49.15" r="1.1" fill="#3fd24a"/><line x1="326.02" y1="51.71" x2="326.02" y2="59.69" stroke="#3fd24a" stroke-width="0.5"/><line x1="325.22" y1="51.71" x2="326.82" y2="51.71" stroke="#3fd24a" stroke-width="0.4"/><line x1="325.22" y1="59.69" x2="326.82" y2="59.69" stroke="#3fd24a" stroke-width="0.4"/><circle cx="326.02" cy="55.7" r="1.1" fill="#3fd24a"/><line x1="339.93" y1="72.47" x2="339.93" y2="80.45" stroke="#3fd24a" stroke-width="0.5"/><line x1="339.13" y1="72.47" x2="340.73" y2="72.47" stroke="#3fd24a" stroke-width="0.4"/><line x1="339.13" y1="80.45" x2="340.73" y2="80.45" stroke="#3fd24a" stroke-width="0.4"/><circle cx="339.93" cy="76.46" r="1.1" fill="#3fd24a"/><line x1="353.95" y1="86.79" x2="353.95" y2="91.58" stroke="#3fd24a" stroke-width="0.5"/><line x1="353.15" y1="86.79" x2="354.75" y2="86.79" stroke="#3fd24a" stroke-width="0.4"/><line x1="353.15" y1="91.58" x2="354.75" y2="91.58" stroke="#3fd24a" stroke-width="0.4"/><circle cx="353.95" cy="89.19" r="1.1" fill="#3fd24a"/><line x1="367.93" y1="88.94" x2="367.93" y2="93.72" stroke="#3fd24a" stroke-width="0.5"/><line x1="367.13" y1="88.94" x2="368.73" y2="88.94" stroke="#3fd24a" stroke-width="0.4"/><line x1="367.13" y1="93.72" x2="368.73" y2="93.72" stroke="#3fd24a" stroke-width="0.4"/><circle cx="367.93" cy="91.33" r="1.1" fill="#3fd24a"/><line x1="381.91" y1="89.19" x2="381.91" y2="93.98" stroke="#3fd24a" stroke-width="0.5"/><line x1="381.11" y1="89.19" x2="382.71" y2="89.19" stroke="#3fd24a" stroke-width="0.4"/><line x1="381.11" y1="93.98" x2="382.71" y2="93.98" stroke="#3fd24a" stroke-width="0.4"/><circle cx="381.91" cy="91.58" r="1.1" fill="#3fd24a"/><line x1="395.9" y1="89.22" x2="395.9" y2="94" stroke="#3fd24a" stroke-width="0.5"/><line x1="395.1" y1="89.22" x2="396.7" y2="89.22" stroke="#3fd24a" stroke-width="0.4"/><line x1="395.1" y1="94" x2="396.7" y2="94" stroke="#3fd24a" stroke-width="0.4"/><circle cx="395.9" cy="91.61" r="1.1" fill="#3fd24a"/><line x1="299" y1="43.74" x2="299" y2="53.49" stroke="#c7c23a" stroke-width="0.6"/><line x1="296" y1="48.17" x2="302" y2="48.17" stroke="#b08a3c" stroke-width="0.6"/><circle cx="299" cy="48.17" r="0.9" fill="#b08a3c"/><text x="412.7" y="11" font-size="12" fill="#000" stroke="#000" font-weight="bold">D</text><line x1="447.5" y1="28.6" x2="447.5" y2="94.2" stroke="#333" stroke-width="0.6"/><line x1="447.5" y1="94.4" x2="520" y2="94.4" stroke="#444" stroke-width="0.6"/><line x1="445.9" y1="94.2" x2="447.5" y2="94.2" stroke="#333" stroke-width="0.6"/><text x="445.2" y="96.1" font-size="5.4" fill="#444" stroke="#444" text-anchor="end">0</text><line x1="445.9" y1="72.5" x2="447.5" y2="72.5" stroke="#333" stroke-width="0.6"/><text x="445.2" y="74.4" font-size="5.4" fill="#444" stroke="#444" text-anchor="end">20,000</text><line x1="445.9" y1="50.8" x2="447.5" y2="50.8" stroke="#333" stroke-width="0.6"/><text x="445.2" y="52.7" font-size="5.4" fill="#444" stroke="#444" text-anchor="end">40,000</text><line x1="445.9" y1="29.1" x2="447.5" y2="29.1" stroke="#333" stroke-width="0.6"/><text x="445.2" y="31" font-size="5.4" fill="#444" stroke="#444" text-anchor="end">60,000</text><line x1="446.6" y1="83.35" x2="447.5" y2="83.35" stroke="#333" stroke-width="0.5"/><line x1="446.6" y1="61.65" x2="447.5" y2="61.65" stroke="#333" stroke-width="0.5"/><line x1="446.6" y1="39.95" x2="447.5" y2="39.95" stroke="#333" stroke-width="0.5"/><text x="420" y="60.5" font-size="5.6" fill="#333" stroke="#333" text-anchor="middle" transform="rotate(-90 420 60.5)">AUC (a.u.)</text><line x1="453.5" y1="12" x2="507.7" y2="12" stroke="#333" stroke-width="0.8"/><text x="480.6" y="13.5" font-size="6" fill="#444" stroke="#444" text-anchor="middle">**</text><line x1="464.6" y1="16.2" x2="507.7" y2="16.2" stroke="#333" stroke-width="0.8"/><text x="486.15" y="17.7" font-size="6" fill="#444" stroke="#444" text-anchor="middle">*</text><line x1="473.8" y1="21.2" x2="507.7" y2="21.2" stroke="#333" stroke-width="0.8"/><text x="490.75" y="20.5" font-size="5" fill="#444" stroke="#444" text-anchor="middle">n.s.</text><line x1="485.4" y1="25.8" x2="507.7" y2="25.8" stroke="#333" stroke-width="0.8"/><text x="496.55" y="25.1" font-size="5" fill="#444" stroke="#444" text-anchor="middle">n.s.</text><line x1="497" y1="31.5" x2="507.7" y2="31.5" stroke="#333" stroke-width="0.8"/><text x="502.35" y="30.8" font-size="5" fill="#444" stroke="#444" text-anchor="middle">n.s.</text><line x1="454.2" y1="91.49" x2="454.2" y2="68.16" stroke="#2f9a5e" stroke-width="0.6"/><line x1="452.4" y1="91.49" x2="456" y2="91.49" stroke="#2f9a5e" stroke-width="0.6"/><line x1="452.4" y1="68.16" x2="456" y2="68.16" stroke="#2f9a5e" stroke-width="0.6"/><line x1="450.8" y1="80.09" x2="457.6" y2="80.09" stroke="#2f9a5e" stroke-width="0.7"/><circle cx="452.9" cy="61.11" r="0.95" fill="#2f9a5e"/><circle cx="454.2" cy="62.19" r="0.95" fill="#2f9a5e"/><circle cx="455.5" cy="68.16" r="0.95" fill="#2f9a5e"/><circle cx="452.9" cy="83.89" r="0.95" fill="#2f9a5e"/><circle cx="454.2" cy="85.52" r="0.95" fill="#2f9a5e"/><circle cx="455.5" cy="89.32" r="0.95" fill="#2f9a5e"/><circle cx="452.9" cy="90.95" r="0.95" fill="#2f9a5e"/><circle cx="454.2" cy="91.38" r="0.95" fill="#2f9a5e"/><circle cx="455.5" cy="91.6" r="0.95" fill="#2f9a5e"/><line x1="454.2" y1="94.4" x2="454.2" y2="96.4" stroke="#444" stroke-width="0.6"/><text x="456" y="100.9" font-size="5.6" fill="#2f9a5e" stroke="#2f9a5e" text-anchor="end" transform="rotate(-47 456 100.9)">MNA NB</text><line x1="464.7" y1="93.12" x2="464.7" y2="64.36" stroke="#7d4fb0" stroke-width="0.6"/><line x1="462.9" y1="93.12" x2="466.5" y2="93.12" stroke="#7d4fb0" stroke-width="0.6"/><line x1="462.9" y1="64.36" x2="466.5" y2="64.36" stroke="#7d4fb0" stroke-width="0.6"/><line x1="461.3" y1="79.01" x2="468.1" y2="79.01" stroke="#7d4fb0" stroke-width="0.7"/><circle cx="463.4" cy="45.92" r="0.95" fill="#7d4fb0"/><circle cx="464.7" cy="68.16" r="0.95" fill="#7d4fb0"/><circle cx="466" cy="77.38" r="0.95" fill="#7d4fb0"/><circle cx="463.4" cy="84.44" r="0.95" fill="#7d4fb0"/><circle cx="464.7" cy="87.69" r="0.95" fill="#7d4fb0"/><circle cx="466" cy="90.4" r="0.95" fill="#7d4fb0"/><circle cx="463.4" cy="92.03" r="0.95" fill="#7d4fb0"/><circle cx="464.7" cy="93.22" r="0.95" fill="#7d4fb0"/><line x1="464.7" y1="94.4" x2="464.7" y2="96.4" stroke="#444" stroke-width="0.6"/><text x="466.5" y="100.9" font-size="5.6" fill="#7d4fb0" stroke="#7d4fb0" text-anchor="end" transform="rotate(-47 466.5 100.9)">EWS</text><line x1="475" y1="85.52" x2="475" y2="60.02" stroke="#e8434b" stroke-width="0.6"/><line x1="473.2" y1="85.52" x2="476.8" y2="85.52" stroke="#e8434b" stroke-width="0.6"/><line x1="473.2" y1="60.02" x2="476.8" y2="60.02" stroke="#e8434b" stroke-width="0.6"/><line x1="471.6" y1="73.04" x2="478.4" y2="73.04" stroke="#e8434b" stroke-width="0.7"/><circle cx="473.7" cy="48.63" r="0.95" fill="#e8434b"/><circle cx="475" cy="65.99" r="0.95" fill="#e8434b"/><circle cx="476.3" cy="69.79" r="0.95" fill="#e8434b"/><circle cx="473.7" cy="73.04" r="0.95" fill="#e8434b"/><circle cx="475" cy="74.67" r="0.95" fill="#e8434b"/><circle cx="476.3" cy="81.18" r="0.95" fill="#e8434b"/><circle cx="473.7" cy="86.61" r="0.95" fill="#e8434b"/><circle cx="475" cy="88.78" r="0.95" fill="#e8434b"/><line x1="475" y1="94.4" x2="475" y2="96.4" stroke="#444" stroke-width="0.6"/><text x="476.8" y="100.9" font-size="5.6" fill="#e8434b" stroke="#e8434b" text-anchor="end" transform="rotate(-47 476.8 100.9)">ARMS</text><line x1="485.3" y1="79.01" x2="485.3" y2="55.68" stroke="#f39a5a" stroke-width="0.6"/><line x1="483.5" y1="79.01" x2="487.1" y2="79.01" stroke="#f39a5a" stroke-width="0.6"/><line x1="483.5" y1="55.68" x2="487.1" y2="55.68" stroke="#f39a5a" stroke-width="0.6"/><line x1="481.9" y1="68.7" x2="488.7" y2="68.7" stroke="#f39a5a" stroke-width="0.7"/><circle cx="484" cy="53.51" r="0.95" fill="#f39a5a"/><circle cx="485.3" cy="69.79" r="0.95" fill="#f39a5a"/><circle cx="486.6" cy="74.67" r="0.95" fill="#f39a5a"/><circle cx="484" cy="76.84" r="0.95" fill="#f39a5a"/><circle cx="485.3" cy="79.01" r="0.95" fill="#f39a5a"/><line x1="485.3" y1="94.4" x2="485.3" y2="96.4" stroke="#444" stroke-width="0.6"/><text x="488.6" y="103.2" font-size="5.6" fill="#f39a5a" stroke="#f39a5a" text-anchor="end" transform="rotate(-47 488.6 103.2)">NMNA NB</text><line x1="496.3" y1="71.96" x2="496.3" y2="38.32" stroke="#4a62b8" stroke-width="0.6"/><line x1="494.5" y1="71.96" x2="498.1" y2="71.96" stroke="#4a62b8" stroke-width="0.6"/><line x1="494.5" y1="38.32" x2="498.1" y2="38.32" stroke="#4a62b8" stroke-width="0.6"/><line x1="492.9" y1="54.6" x2="499.7" y2="54.6" stroke="#4a62b8" stroke-width="0.7"/><circle cx="495" cy="34.53" r="0.95" fill="#4a62b8"/><circle cx="496.3" cy="49.72" r="0.95" fill="#4a62b8"/><circle cx="497.6" cy="63.82" r="0.95" fill="#4a62b8"/><circle cx="495" cy="70.33" r="0.95" fill="#4a62b8"/><circle cx="496.3" cy="72.5" r="0.95" fill="#4a62b8"/><line x1="496.3" y1="94.4" x2="496.3" y2="96.4" stroke="#444" stroke-width="0.6"/><text x="498.1" y="100.9" font-size="5.6" fill="#4a62b8" stroke="#4a62b8" text-anchor="end" transform="rotate(-47 498.1 100.9)">ERMS</text><line x1="506.3" y1="56.23" x2="506.3" y2="44.29" stroke="#222222" stroke-width="0.6"/><line x1="504.5" y1="56.23" x2="508.1" y2="56.23" stroke="#222222" stroke-width="0.6"/><line x1="504.5" y1="44.29" x2="508.1" y2="44.29" stroke="#222222" stroke-width="0.6"/><line x1="502.9" y1="51.89" x2="509.7" y2="51.89" stroke="#222222" stroke-width="0.7"/><circle cx="505" cy="45.38" r="0.95" fill="#222222"/><circle cx="506.3" cy="50.8" r="0.95" fill="#222222"/><circle cx="507.6" cy="56.23" r="0.95" fill="#222222"/><line x1="506.3" y1="94.4" x2="506.3" y2="96.4" stroke="#444" stroke-width="0.6"/><text x="508.1" y="100.9" font-size="5.6" fill="#555" stroke="#555" text-anchor="end" transform="rotate(-47 508.1 100.9)">Control</text><text x="4.3" y="132" font-size="12" fill="#000" stroke="#000" font-weight="bold">E</text><text x="43.4" y="138.3" font-size="5.6" fill="#333" stroke="#333" text-anchor="middle">5838</text><text x="20.6" y="158.8" font-size="5.9" fill="#111" stroke="#111" text-anchor="middle" transform="rotate(-90 20.6 158.8)">DMSO</text><text x="20.6" y="199.4" font-size="5.6" fill="#e8434b" stroke="#e8434b" text-anchor="middle" transform="rotate(-90 20.6 199.4)">Elimusertib</text><defs><radialGradient id="pl" cx="50%" cy="50%" r="50%"><stop offset="0" stop-color="#7e8388"/><stop offset="0.8" stop-color="#787d82"/><stop offset="1" stop-color="#71767b"/></radialGradient><radialGradient id="pl2" cx="50%" cy="50%" r="50%"><stop offset="0" stop-color="#80858a"/><stop offset="0.8" stop-color="#7a7f84"/><stop offset="1" stop-color="#72777c"/></radialGradient></defs><rect x="25" y="141" width="36.4" height="36.6" fill="#888b8b"/><circle cx="43.6" cy="159.4" r="16.3" fill="url(#pl)" stroke="#b9c0c0" stroke-width="1.7"/><circle cx="44.46" cy="170.8" r="0.41" fill="#868a8e" opacity="0.35"/><circle cx="31.94" cy="161.32" r="0.48" fill="#62666b" opacity="0.35"/><circle cx="43.16" cy="166.89" r="0.6" fill="#62666b" opacity="0.35"/><circle cx="32.49" cy="156.48" r="0.42" fill="#5c6065" opacity="0.35"/><circle cx="44.28" cy="165.4" r="0.58" fill="#62666b" opacity="0.35"/><circle cx="42.9" cy="146.72" r="0.32" fill="#868a8e" opacity="0.35"/><circle cx="56.8" cy="163.04" r="0.55" fill="#62666b" opacity="0.35"/><circle cx="30.65" cy="161.64" r="0.56" fill="#868a8e" opacity="0.35"/><circle cx="46" cy="149.56" r="0.52" fill="#868a8e" opacity="0.35"/><circle cx="29.51" cy="164.51" r="0.56" fill="#5c6065" opacity="0.35"/><circle cx="54.23" cy="161.84" r="0.38" fill="#868a8e" opacity="0.35"/><circle cx="32.3" cy="164.19" r="0.39" fill="#868a8e" opacity="0.35"/><circle cx="49.48" cy="149.23" r="0.46" fill="#62666b" opacity="0.35"/><circle cx="30.88" cy="151.96" r="0.5" fill="#5c6065" opacity="0.35"/><circle cx="53.16" cy="147.29" r="0.5" fill="#5c6065" opacity="0.35"/><circle cx="40.79" cy="151" r="0.46" fill="#868a8e" opacity="0.35"/><circle cx="31.72" cy="153.89" r="0.36" fill="#868a8e" opacity="0.35"/><circle cx="43.01" cy="164.84" r="0.44" fill="#868a8e" opacity="0.35"/><circle cx="48.2" cy="159.1" r="0.54" fill="#62666b" opacity="0.35"/><circle cx="45.35" cy="158.07" r="0.43" fill="#62666b" opacity="0.35"/><circle cx="45.87" cy="157.06" r="0.48" fill="#5c6065" opacity="0.35"/><circle cx="35.06" cy="167.64" r="0.47" fill="#62666b" opacity="0.35"/><circle cx="28.12" cy="158.87" r="0.39" fill="#5c6065" opacity="0.35"/><circle cx="52.43" cy="166.53" r="0.58" fill="#62666b" opacity="0.35"/><circle cx="41.54" cy="167.08" r="0.51" fill="#62666b" opacity="0.35"/><circle cx="37.68" cy="173.37" r="0.57" fill="#62666b" opacity="0.35"/><circle cx="33.27" cy="169.51" r="0.42" fill="#868a8e" opacity="0.35"/><circle cx="41.51" cy="154.9" r="0.59" fill="#868a8e" opacity="0.35"/><circle cx="41.95" cy="171.63" r="0.51" fill="#62666b" opacity="0.35"/><circle cx="36.32" cy="162.42" r="0.39" fill="#62666b" opacity="0.35"/><circle cx="53.56" cy="160.12" r="0.47" fill="#5c6065" opacity="0.35"/><circle cx="35.11" cy="167.73" r="0.34" fill="#868a8e" opacity="0.35"/><circle cx="36.23" cy="151.81" r="0.5" fill="#62666b" opacity="0.35"/><circle cx="37.25" cy="154.23" r="0.45" fill="#868a8e" opacity="0.35"/><circle cx="55.43" cy="164.13" r="0.59" fill="#62666b" opacity="0.35"/><circle cx="37.72" cy="153.3" r="0.48" fill="#5c6065" opacity="0.35"/><circle cx="37.91" cy="165.94" r="0.41" fill="#868a8e" opacity="0.35"/><circle cx="42.38" cy="173.1" r="0.33" fill="#5c6065" opacity="0.35"/><circle cx="56.21" cy="157.1" r="0.34" fill="#868a8e" opacity="0.35"/><circle cx="45.99" cy="173.09" r="0.37" fill="#5c6065" opacity="0.35"/><circle cx="38.14" cy="148.16" r="0.33" fill="#868a8e" opacity="0.35"/><circle cx="39.69" cy="167.45" r="0.55" fill="#62666b" opacity="0.35"/><circle cx="49.17" cy="145.27" r="0.32" fill="#868a8e" opacity="0.35"/><circle cx="35.05" cy="147.59" r="0.44" fill="#5c6065" opacity="0.35"/><circle cx="44.26" cy="156.62" r="0.59" fill="#62666b" opacity="0.35"/><circle cx="48.55" cy="146.1" r="0.36" fill="#62666b" opacity="0.35"/><circle cx="36.04" cy="171.3" r="0.33" fill="#868a8e" opacity="0.35"/><circle cx="40.45" cy="164.01" r="0.39" fill="#62666b" opacity="0.35"/><circle cx="31.56" cy="162.11" r="0.39" fill="#868a8e" opacity="0.35"/><circle cx="31.07" cy="167.41" r="0.35" fill="#5c6065" opacity="0.35"/><circle cx="29.6" cy="161.41" r="0.49" fill="#868a8e" opacity="0.35"/><circle cx="29.76" cy="165.46" r="0.58" fill="#5c6065" opacity="0.35"/><circle cx="53.86" cy="161.51" r="0.53" fill="#868a8e" opacity="0.35"/><circle cx="35.33" cy="158.41" r="0.4" fill="#5c6065" opacity="0.35"/><circle cx="52.86" cy="148.42" r="0.59" fill="#5c6065" opacity="0.35"/><circle cx="44.81" cy="156.34" r="0.57" fill="#868a8e" opacity="0.35"/><circle cx="36.72" cy="158.87" r="0.57" fill="#62666b" opacity="0.35"/><circle cx="42.03" cy="158.57" r="0.52" fill="#5c6065" opacity="0.35"/><circle cx="36.02" cy="159.25" r="0.31" fill="#868a8e" opacity="0.35"/><circle cx="30.73" cy="167.15" r="0.48" fill="#62666b" opacity="0.35"/><circle cx="54.38" cy="170.23" r="0.46" fill="#5c6065" opacity="0.35"/><circle cx="39.49" cy="164.92" r="0.46" fill="#5c6065" opacity="0.35"/><circle cx="50.15" cy="171.54" r="0.58" fill="#5c6065" opacity="0.35"/><circle cx="44.2" cy="158.2" r="0.49" fill="#62666b" opacity="0.35"/><circle cx="51.28" cy="161.89" r="0.38" fill="#868a8e" opacity="0.35"/><circle cx="40.13" cy="158.97" r="0.4" fill="#5c6065" opacity="0.35"/><circle cx="52.1" cy="148.72" r="0.31" fill="#5c6065" opacity="0.35"/><circle cx="57.51" cy="165.78" r="0.56" fill="#5c6065" opacity="0.35"/><circle cx="32.8" cy="158.35" r="0.35" fill="#5c6065" opacity="0.35"/><circle cx="36.19" cy="169.43" r="0.48" fill="#62666b" opacity="0.35"/><circle cx="42.16" cy="174.74" r="0.43" fill="#5c6065" opacity="0.35"/><circle cx="31.27" cy="154.92" r="0.41" fill="#5c6065" opacity="0.35"/><circle cx="40.67" cy="158.09" r="0.44" fill="#868a8e" opacity="0.35"/><circle cx="45.54" cy="150.04" r="0.54" fill="#868a8e" opacity="0.35"/><circle cx="46.3" cy="157.06" r="0.49" fill="#868a8e" opacity="0.35"/><circle cx="37.6" cy="173.27" r="0.43" fill="#5c6065" opacity="0.35"/><circle cx="43.95" cy="170.74" r="0.51" fill="#5c6065" opacity="0.35"/><circle cx="46.01" cy="152.46" r="0.34" fill="#5c6065" opacity="0.35"/><circle cx="52.34" cy="155.71" r="0.57" fill="#62666b" opacity="0.35"/><circle cx="52.91" cy="168.3" r="0.58" fill="#868a8e" opacity="0.35"/><circle cx="35.95" cy="146.96" r="0.54" fill="#868a8e" opacity="0.35"/><circle cx="50.39" cy="164.92" r="0.46" fill="#868a8e" opacity="0.35"/><circle cx="41.38" cy="148.97" r="0.37" fill="#62666b" opacity="0.35"/><circle cx="48.12" cy="160.69" r="0.33" fill="#62666b" opacity="0.35"/><circle cx="44.62" cy="161.54" r="0.55" fill="#5c6065" opacity="0.35"/><circle cx="48.79" cy="160.24" r="0.44" fill="#868a8e" opacity="0.35"/><circle cx="54.87" cy="155.92" r="0.54" fill="#5c6065" opacity="0.35"/><circle cx="55.23" cy="159.12" r="0.46" fill="#5c6065" opacity="0.35"/><circle cx="54.11" cy="167.74" r="0.58" fill="#5c6065" opacity="0.35"/><circle cx="29.86" cy="154.93" r="0.35" fill="#5c6065" opacity="0.35"/><circle cx="43.93" cy="165.96" r="0.37" fill="#868a8e" opacity="0.35"/><circle cx="38.96" cy="145.09" r="0.38" fill="#868a8e" opacity="0.35"/><circle cx="36.29" cy="164.95" r="0.43" fill="#5c6065" opacity="0.35"/><circle cx="38.27" cy="164.71" r="0.58" fill="#868a8e" opacity="0.35"/><circle cx="53.38" cy="157.35" r="0.47" fill="#868a8e" opacity="0.35"/><circle cx="38.47" cy="149.51" r="0.45" fill="#868a8e" opacity="0.35"/><circle cx="31.73" cy="167.91" r="0.35" fill="#62666b" opacity="0.35"/><circle cx="43.43" cy="144.56" r="0.46" fill="#62666b" opacity="0.35"/><circle cx="31.31" cy="151.98" r="0.34" fill="#5c6065" opacity="0.35"/><circle cx="50.34" cy="168.26" r="0.58" fill="#868a8e" opacity="0.35"/><circle cx="30.3" cy="156.16" r="0.5" fill="#62666b" opacity="0.35"/><circle cx="33.81" cy="152.73" r="0.6" fill="#5c6065" opacity="0.35"/><circle cx="40.78" cy="166.91" r="0.54" fill="#5c6065" opacity="0.35"/><circle cx="47.97" cy="167.62" r="0.4" fill="#5c6065" opacity="0.35"/><circle cx="32.32" cy="165.75" r="0.51" fill="#5c6065" opacity="0.35"/><circle cx="29.72" cy="162.22" r="0.55" fill="#868a8e" opacity="0.35"/><circle cx="58.81" cy="162.08" r="0.32" fill="#62666b" opacity="0.35"/><circle cx="46.6" cy="145.16" r="0.31" fill="#5c6065" opacity="0.35"/><circle cx="53.26" cy="151.5" r="0.53" fill="#5c6065" opacity="0.35"/><circle cx="57.44" cy="155.72" r="0.37" fill="#5c6065" opacity="0.35"/><circle cx="44.53" cy="153.73" r="0.49" fill="#868a8e" opacity="0.35"/><circle cx="52.87" cy="147.99" r="0.38" fill="#5c6065" opacity="0.35"/><circle cx="39.69" cy="168.69" r="0.52" fill="#5c6065" opacity="0.35"/><circle cx="49.48" cy="164.78" r="0.57" fill="#5c6065" opacity="0.35"/><circle cx="36.27" cy="168.65" r="0.5" fill="#5c6065" opacity="0.35"/><circle cx="52.37" cy="161.04" r="0.41" fill="#5c6065" opacity="0.35"/><circle cx="46.54" cy="170.89" r="0.59" fill="#62666b" opacity="0.35"/><circle cx="49.77" cy="165.6" r="0.57" fill="#5c6065" opacity="0.35"/><circle cx="40.96" cy="154.92" r="0.57" fill="#62666b" opacity="0.35"/><circle cx="55.94" cy="168" r="0.41" fill="#62666b" opacity="0.35"/><circle cx="43.99" cy="150.98" r="0.5" fill="#868a8e" opacity="0.35"/><circle cx="56.76" cy="154.59" r="0.33" fill="#62666b" opacity="0.35"/><circle cx="38.31" cy="149.36" r="0.33" fill="#62666b" opacity="0.35"/><circle cx="39.82" cy="159.19" r="0.39" fill="#868a8e" opacity="0.35"/><circle cx="37.55" cy="156.72" r="0.49" fill="#868a8e" opacity="0.35"/><circle cx="49.17" cy="167.02" r="0.58" fill="#62666b" opacity="0.35"/><circle cx="54.3" cy="169.85" r="0.34" fill="#62666b" opacity="0.35"/><circle cx="35.94" cy="149.53" r="0.43" fill="#62666b" opacity="0.35"/><circle cx="37.3" cy="151.02" r="0.39" fill="#5c6065" opacity="0.35"/><circle cx="42.2" cy="154.52" r="0.35" fill="#868a8e" opacity="0.35"/><circle cx="30.76" cy="155.83" r="0.41" fill="#62666b" opacity="0.35"/><circle cx="43.13" cy="162.95" r="0.34" fill="#62666b" opacity="0.35"/><circle cx="35.9" cy="159.17" r="0.53" fill="#62666b" opacity="0.35"/><circle cx="54.27" cy="148.76" r="0.43" fill="#5c6065" opacity="0.35"/><circle cx="35.01" cy="170.79" r="0.33" fill="#62666b" opacity="0.35"/><circle cx="32.8" cy="152.54" r="0.47" fill="#868a8e" opacity="0.35"/><circle cx="53.47" cy="167.79" r="0.47" fill="#868a8e" opacity="0.35"/><circle cx="43.01" cy="145.41" r="0.52" fill="#868a8e" opacity="0.35"/><circle cx="32.41" cy="150.39" r="0.54" fill="#868a8e" opacity="0.35"/><circle cx="32.09" cy="157.38" r="0.36" fill="#62666b" opacity="0.35"/><circle cx="26.29" cy="148.1" r="0.49" fill="#7a7c7e" opacity="0.6"/><circle cx="59.72" cy="173.49" r="0.34" fill="#7a7c7e" opacity="0.6"/><circle cx="30.04" cy="172.27" r="0.48" fill="#7a7c7e" opacity="0.6"/><circle cx="58.74" cy="172.38" r="0.43" fill="#7a7c7e" opacity="0.6"/><circle cx="26.74" cy="144.02" r="0.36" fill="#7a7c7e" opacity="0.6"/><circle cx="27.65" cy="172.03" r="0.36" fill="#96989a" opacity="0.6"/><circle cx="31.7" cy="173.76" r="0.52" fill="#96989a" opacity="0.6"/><circle cx="60.11" cy="170.31" r="0.38" fill="#96989a" opacity="0.6"/><circle cx="31.26" cy="142.19" r="0.33" fill="#7a7c7e" opacity="0.6"/><circle cx="36.64" cy="142.39" r="0.51" fill="#7a7c7e" opacity="0.6"/><circle cx="26.16" cy="176.15" r="0.37" fill="#7a7c7e" opacity="0.6"/><circle cx="60.53" cy="175.3" r="0.54" fill="#96989a" opacity="0.6"/><circle cx="26.28" cy="153.4" r="0.6" fill="#96989a" opacity="0.6"/><circle cx="25.33" cy="142.3" r="0.33" fill="#7a7c7e" opacity="0.6"/><circle cx="26.74" cy="147.41" r="0.53" fill="#96989a" opacity="0.6"/><circle cx="61.09" cy="141.26" r="0.36" fill="#7a7c7e" opacity="0.6"/><circle cx="60.4" cy="175.06" r="0.34" fill="#7a7c7e" opacity="0.6"/><rect x="25" y="182.9" width="36.4" height="36.6" fill="#888b8b"/><circle cx="43.6" cy="201.3" r="16.3" fill="url(#pl2)" stroke="#b9c0c0" stroke-width="1.7"/><circle cx="31.63" cy="203.78" r="0.31" fill="#5c6065" opacity="0.35"/><circle cx="31.88" cy="192.99" r="0.33" fill="#62666b" opacity="0.35"/><circle cx="52.67" cy="206.73" r="0.37" fill="#868a8e" opacity="0.35"/><circle cx="34.31" cy="193.06" r="0.53" fill="#868a8e" opacity="0.35"/><circle cx="36.77" cy="211.21" r="0.43" fill="#5c6065" opacity="0.35"/><circle cx="39.68" cy="215.85" r="0.43" fill="#62666b" opacity="0.35"/><circle cx="46.71" cy="212.25" r="0.44" fill="#868a8e" opacity="0.35"/><circle cx="37.94" cy="194.23" r="0.36" fill="#5c6065" opacity="0.35"/><circle cx="55" cy="195.39" r="0.41" fill="#868a8e" opacity="0.35"/><circle cx="53.79" cy="205.86" r="0.37" fill="#5c6065" opacity="0.35"/><circle cx="38.41" cy="210.05" r="0.33" fill="#5c6065" opacity="0.35"/><circle cx="37.64" cy="213.32" r="0.36" fill="#5c6065" opacity="0.35"/><circle cx="54.47" cy="190.39" r="0.48" fill="#868a8e" opacity="0.35"/><circle cx="33.82" cy="199.07" r="0.58" fill="#868a8e" opacity="0.35"/><circle cx="53.85" cy="197.94" r="0.53" fill="#62666b" opacity="0.35"/><circle cx="31.94" cy="203.57" r="0.31" fill="#5c6065" opacity="0.35"/><circle cx="45.52" cy="205.7" r="0.52" fill="#62666b" opacity="0.35"/><circle cx="39.76" cy="201.22" r="0.44" fill="#5c6065" opacity="0.35"/><circle cx="43.35" cy="193.16" r="0.43" fill="#62666b" opacity="0.35"/><circle cx="36.86" cy="202.67" r="0.53" fill="#5c6065" opacity="0.35"/><circle cx="50.35" cy="206.43" r="0.42" fill="#5c6065" opacity="0.35"/><circle cx="46.58" cy="211.7" r="0.54" fill="#62666b" opacity="0.35"/><circle cx="58.77" cy="199.03" r="0.56" fill="#62666b" opacity="0.35"/><circle cx="53.13" cy="197.72" r="0.58" fill="#62666b" opacity="0.35"/><circle cx="32.34" cy="199.45" r="0.41" fill="#62666b" opacity="0.35"/><circle cx="41.29" cy="211.59" r="0.57" fill="#62666b" opacity="0.35"/><circle cx="43.36" cy="186.35" r="0.46" fill="#5c6065" opacity="0.35"/><circle cx="51.25" cy="209.6" r="0.46" fill="#5c6065" opacity="0.35"/><circle cx="44.25" cy="201.09" r="0.6" fill="#62666b" opacity="0.35"/><circle cx="34.27" cy="213.34" r="0.41" fill="#868a8e" opacity="0.35"/><circle cx="50.11" cy="202.76" r="0.3" fill="#62666b" opacity="0.35"/><circle cx="55.29" cy="193.29" r="0.48" fill="#5c6065" opacity="0.35"/><circle cx="36.06" cy="203.75" r="0.5" fill="#62666b" opacity="0.35"/><circle cx="36.71" cy="205.19" r="0.31" fill="#62666b" opacity="0.35"/><circle cx="58.65" cy="204.89" r="0.35" fill="#868a8e" opacity="0.35"/><circle cx="43.69" cy="207.01" r="0.53" fill="#62666b" opacity="0.35"/><circle cx="29.49" cy="200.52" r="0.47" fill="#62666b" opacity="0.35"/><circle cx="46.88" cy="201.64" r="0.45" fill="#5c6065" opacity="0.35"/><circle cx="55.37" cy="192.4" r="0.44" fill="#868a8e" opacity="0.35"/><circle cx="44.02" cy="186.93" r="0.59" fill="#868a8e" opacity="0.35"/><circle cx="34.01" cy="207.02" r="0.35" fill="#5c6065" opacity="0.35"/><circle cx="48.78" cy="203.89" r="0.55" fill="#5c6065" opacity="0.35"/><circle cx="35.89" cy="206.32" r="0.44" fill="#62666b" opacity="0.35"/><circle cx="29.09" cy="205.76" r="0.35" fill="#62666b" opacity="0.35"/><circle cx="45.52" cy="203.62" r="0.45" fill="#5c6065" opacity="0.35"/><circle cx="50.61" cy="188.08" r="0.48" fill="#5c6065" opacity="0.35"/><circle cx="38.74" cy="212.25" r="0.33" fill="#5c6065" opacity="0.35"/><circle cx="41.17" cy="214.13" r="0.57" fill="#5c6065" opacity="0.35"/><circle cx="39.68" cy="202.99" r="0.31" fill="#62666b" opacity="0.35"/><circle cx="55.64" cy="192.04" r="0.49" fill="#5c6065" opacity="0.35"/><circle cx="40.17" cy="209.75" r="0.5" fill="#62666b" opacity="0.35"/><circle cx="40.34" cy="208.68" r="0.58" fill="#62666b" opacity="0.35"/><circle cx="39.61" cy="210.15" r="0.38" fill="#5c6065" opacity="0.35"/><circle cx="34.95" cy="206.25" r="0.57" fill="#62666b" opacity="0.35"/><circle cx="44.48" cy="208.18" r="0.32" fill="#868a8e" opacity="0.35"/><circle cx="52.84" cy="209.46" r="0.34" fill="#5c6065" opacity="0.35"/><circle cx="57.9" cy="195.86" r="0.51" fill="#62666b" opacity="0.35"/><circle cx="42.41" cy="212" r="0.38" fill="#868a8e" opacity="0.35"/><circle cx="37.57" cy="198.93" r="0.45" fill="#5c6065" opacity="0.35"/><circle cx="52.7" cy="212.91" r="0.35" fill="#62666b" opacity="0.35"/><circle cx="37.91" cy="190.21" r="0.34" fill="#5c6065" opacity="0.35"/><circle cx="48.8" cy="212.41" r="0.39" fill="#868a8e" opacity="0.35"/><circle cx="49.99" cy="188.29" r="0.31" fill="#5c6065" opacity="0.35"/><circle cx="34.24" cy="199.23" r="0.33" fill="#62666b" opacity="0.35"/><circle cx="44.64" cy="203.59" r="0.33" fill="#5c6065" opacity="0.35"/><circle cx="46.98" cy="205.67" r="0.41" fill="#868a8e" opacity="0.35"/><circle cx="49.61" cy="204.46" r="0.58" fill="#5c6065" opacity="0.35"/><circle cx="51.23" cy="200.33" r="0.41" fill="#62666b" opacity="0.35"/><circle cx="54.94" cy="209.96" r="0.44" fill="#868a8e" opacity="0.35"/><circle cx="36.04" cy="212.37" r="0.53" fill="#868a8e" opacity="0.35"/><circle cx="34.1" cy="207.55" r="0.39" fill="#5c6065" opacity="0.35"/><circle cx="29.78" cy="198.26" r="0.36" fill="#868a8e" opacity="0.35"/><circle cx="39.81" cy="214.17" r="0.52" fill="#62666b" opacity="0.35"/><circle cx="57.43" cy="198.06" r="0.35" fill="#62666b" opacity="0.35"/><circle cx="46.6" cy="196.57" r="0.48" fill="#5c6065" opacity="0.35"/><circle cx="31.41" cy="209.11" r="0.33" fill="#5c6065" opacity="0.35"/><circle cx="46.57" cy="205.84" r="0.42" fill="#868a8e" opacity="0.35"/><circle cx="39.17" cy="190.98" r="0.53" fill="#5c6065" opacity="0.35"/><circle cx="32.1" cy="203.99" r="0.4" fill="#868a8e" opacity="0.35"/><circle cx="36.48" cy="196.1" r="0.45" fill="#62666b" opacity="0.35"/><circle cx="35.82" cy="192.28" r="0.51" fill="#868a8e" opacity="0.35"/><circle cx="56.85" cy="195.68" r="0.55" fill="#62666b" opacity="0.35"/><circle cx="51.96" cy="200.03" r="0.35" fill="#868a8e" opacity="0.35"/><circle cx="30.34" cy="201.23" r="0.4" fill="#868a8e" opacity="0.35"/><circle cx="43.69" cy="211.52" r="0.38" fill="#5c6065" opacity="0.35"/><circle cx="32.41" cy="202.87" r="0.56" fill="#868a8e" opacity="0.35"/><circle cx="33.46" cy="199.47" r="0.49" fill="#5c6065" opacity="0.35"/><circle cx="33.62" cy="207" r="0.48" fill="#62666b" opacity="0.35"/><circle cx="56.94" cy="206.52" r="0.42" fill="#5c6065" opacity="0.35"/><circle cx="38.8" cy="206.64" r="0.46" fill="#5c6065" opacity="0.35"/><circle cx="30.5" cy="207.36" r="0.51" fill="#62666b" opacity="0.35"/><circle cx="53.03" cy="202" r="0.41" fill="#62666b" opacity="0.35"/><circle cx="34.89" cy="210.28" r="0.56" fill="#868a8e" opacity="0.35"/><circle cx="34.79" cy="201.57" r="0.3" fill="#5c6065" opacity="0.35"/><circle cx="39.25" cy="197.48" r="0.32" fill="#62666b" opacity="0.35"/><circle cx="37.29" cy="204.03" r="0.31" fill="#868a8e" opacity="0.35"/><circle cx="53.57" cy="195.92" r="0.52" fill="#868a8e" opacity="0.35"/><circle cx="51.35" cy="188.68" r="0.43" fill="#868a8e" opacity="0.35"/><circle cx="34.05" cy="195.72" r="0.58" fill="#5c6065" opacity="0.35"/><circle cx="29.15" cy="203.56" r="0.39" fill="#5c6065" opacity="0.35"/><circle cx="48.38" cy="205.64" r="0.56" fill="#62666b" opacity="0.35"/><circle cx="52.64" cy="202.91" r="0.3" fill="#5c6065" opacity="0.35"/><circle cx="37.89" cy="202.29" r="0.36" fill="#868a8e" opacity="0.35"/><circle cx="32.4" cy="206.37" r="0.5" fill="#62666b" opacity="0.35"/><circle cx="40.75" cy="213.37" r="0.52" fill="#5c6065" opacity="0.35"/><circle cx="56.95" cy="207.01" r="0.52" fill="#62666b" opacity="0.35"/><circle cx="44.98" cy="201.91" r="0.44" fill="#62666b" opacity="0.35"/><circle cx="40.37" cy="197.81" r="0.5" fill="#868a8e" opacity="0.35"/><circle cx="33.28" cy="207.08" r="0.57" fill="#5c6065" opacity="0.35"/><circle cx="34.56" cy="189.12" r="0.32" fill="#868a8e" opacity="0.35"/><circle cx="58.38" cy="203.79" r="0.46" fill="#868a8e" opacity="0.35"/><circle cx="46.73" cy="195.52" r="0.55" fill="#868a8e" opacity="0.35"/><circle cx="36.38" cy="206.82" r="0.44" fill="#868a8e" opacity="0.35"/><circle cx="45.32" cy="212.91" r="0.4" fill="#868a8e" opacity="0.35"/><circle cx="51.19" cy="209.68" r="0.49" fill="#62666b" opacity="0.35"/><circle cx="37.9" cy="214.5" r="0.48" fill="#868a8e" opacity="0.35"/><circle cx="43.07" cy="194.33" r="0.32" fill="#62666b" opacity="0.35"/><circle cx="51.3" cy="191.71" r="0.45" fill="#5c6065" opacity="0.35"/><circle cx="45.62" cy="205.86" r="0.44" fill="#868a8e" opacity="0.35"/><circle cx="37.9" cy="205.6" r="0.36" fill="#5c6065" opacity="0.35"/><circle cx="40.02" cy="208.12" r="0.56" fill="#868a8e" opacity="0.35"/><circle cx="45.44" cy="198.09" r="0.42" fill="#62666b" opacity="0.35"/><circle cx="44.97" cy="209.46" r="0.4" fill="#5c6065" opacity="0.35"/><circle cx="40.49" cy="192.81" r="0.33" fill="#5c6065" opacity="0.35"/><circle cx="41.46" cy="207.38" r="0.35" fill="#62666b" opacity="0.35"/><circle cx="41.36" cy="194.46" r="0.5" fill="#868a8e" opacity="0.35"/><circle cx="45.02" cy="214.04" r="0.46" fill="#868a8e" opacity="0.35"/><circle cx="31.98" cy="198.35" r="0.49" fill="#62666b" opacity="0.35"/><circle cx="40.54" cy="204.38" r="0.46" fill="#62666b" opacity="0.35"/><circle cx="31.83" cy="202.03" r="0.38" fill="#62666b" opacity="0.35"/><circle cx="40.73" cy="194.59" r="0.55" fill="#62666b" opacity="0.35"/><circle cx="34.83" cy="214.04" r="0.44" fill="#5c6065" opacity="0.35"/><circle cx="51.14" cy="207.93" r="0.56" fill="#5c6065" opacity="0.35"/><circle cx="39.2" cy="198.75" r="0.46" fill="#62666b" opacity="0.35"/><circle cx="32.33" cy="202.88" r="0.56" fill="#62666b" opacity="0.35"/><circle cx="41.36" cy="203.54" r="0.4" fill="#868a8e" opacity="0.35"/><circle cx="44.98" cy="205.84" r="0.53" fill="#868a8e" opacity="0.35"/><circle cx="33.71" cy="194.77" r="0.5" fill="#62666b" opacity="0.35"/><circle cx="28.71" cy="197.33" r="0.55" fill="#868a8e" opacity="0.35"/><circle cx="34.93" cy="189.18" r="0.43" fill="#868a8e" opacity="0.35"/><circle cx="31.22" cy="186.75" r="0.46" fill="#96989a" opacity="0.6"/><circle cx="59.1" cy="187.34" r="0.58" fill="#96989a" opacity="0.6"/><circle cx="29.05" cy="214.54" r="0.34" fill="#7a7c7e" opacity="0.6"/><circle cx="26.88" cy="189.25" r="0.49" fill="#7a7c7e" opacity="0.6"/><circle cx="33.03" cy="217.68" r="0.32" fill="#96989a" opacity="0.6"/><circle cx="57.04" cy="188.1" r="0.3" fill="#7a7c7e" opacity="0.6"/><circle cx="40.15" cy="183.35" r="0.4" fill="#96989a" opacity="0.6"/><circle cx="26.79" cy="190.75" r="0.3" fill="#96989a" opacity="0.6"/><circle cx="33.72" cy="183.31" r="0.36" fill="#7a7c7e" opacity="0.6"/><circle cx="35.64" cy="184" r="0.31" fill="#96989a" opacity="0.6"/><circle cx="58.99" cy="188.46" r="0.46" fill="#96989a" opacity="0.6"/><circle cx="61.18" cy="189.19" r="0.41" fill="#96989a" opacity="0.6"/><circle cx="25.37" cy="208.75" r="0.56" fill="#7a7c7e" opacity="0.6"/><circle cx="28.39" cy="218" r="0.31" fill="#7a7c7e" opacity="0.6"/><circle cx="31.12" cy="217.92" r="0.39" fill="#7a7c7e" opacity="0.6"/><text x="79.3" y="132" font-size="12" fill="#000" stroke="#000" font-weight="bold">F</text><line x1="102.8" y1="149" x2="102.8" y2="213.1" stroke="#333" stroke-width="0.6"/><line x1="102.8" y1="213.1" x2="199.5" y2="213.1" stroke="#333" stroke-width="0.6"/><line x1="101.2" y1="213.1" x2="102.8" y2="213.1" stroke="#333" stroke-width="0.6"/><text x="100.6" y="214.9" font-size="5.2" fill="#444" stroke="#444" text-anchor="end">0</text><line x1="101.2" y1="197.1" x2="102.8" y2="197.1" stroke="#333" stroke-width="0.6"/><text x="100.6" y="198.9" font-size="5.2" fill="#444" stroke="#444" text-anchor="end">40</text><line x1="101.2" y1="181.1" x2="102.8" y2="181.1" stroke="#333" stroke-width="0.6"/><text x="100.6" y="182.9" font-size="5.2" fill="#444" stroke="#444" text-anchor="end">80</text><line x1="101.2" y1="165.1" x2="102.8" y2="165.1" stroke="#333" stroke-width="0.6"/><text x="100.6" y="166.9" font-size="5.2" fill="#444" stroke="#444" text-anchor="end">120</text><line x1="101.2" y1="149.1" x2="102.8" y2="149.1" stroke="#333" stroke-width="0.6"/><text x="100.6" y="150.9" font-size="5.2" fill="#444" stroke="#444" text-anchor="end">160</text><line x1="101.9" y1="205.1" x2="102.8" y2="205.1" stroke="#333" stroke-width="0.5"/><line x1="101.9" y1="189.1" x2="102.8" y2="189.1" stroke="#333" stroke-width="0.5"/><line x1="101.9" y1="173.1" x2="102.8" y2="173.1" stroke="#333" stroke-width="0.5"/><line x1="101.9" y1="157.1" x2="102.8" y2="157.1" stroke="#333" stroke-width="0.5"/><text x="85.6" y="181.5" font-size="5.6" fill="#333" stroke="#333" text-anchor="middle" transform="rotate(-90 85.6 181.5)">Number of colonies</text><text x="199" y="154" font-size="5.6" fill="#222" stroke="#222" text-anchor="end">DMSO</text><text x="199" y="160.6" font-size="5.6" fill="#e8262d" stroke="#e8262d" text-anchor="end">Elimusertib</text><rect x="103.7" y="181.1" width="2.8" height="32" fill="#111"/><rect x="107.1" y="207.1" width="2.8" height="6" fill="#e8262d"/><line x1="105.1" y1="181.1" x2="105.1" y2="175.26" stroke="#666" stroke-width="0.5"/><circle cx="105.1" cy="175.26" r="1" fill="none" stroke="#444" stroke-width="0.55"/><circle cx="105.1" cy="184.3" r="0.55" fill="#ddd"/><circle cx="108.5" cy="206.3" r="1" fill="none" stroke="#444" stroke-width="0.55"/><line x1="102.9" y1="171.76" x2="110.7" y2="171.76" stroke="#555" stroke-width="0.5"/><text x="106.8" y="173.86" font-size="6.4" fill="#444" stroke="#444" text-anchor="middle">**</text><line x1="106.8" y1="213.1" x2="106.8" y2="214.8" stroke="#333" stroke-width="0.5"/><text x="108.3" y="218.9" font-size="5.5" fill="#e8434b" stroke="#e8434b" text-anchor="end" transform="rotate(-45 108.3 218.9)">Rh4</text><rect x="113.35" y="196.3" width="2.8" height="16.8" fill="#111"/><rect x="116.75" y="211.1" width="2.8" height="2" fill="#e8262d"/><line x1="114.75" y1="196.3" x2="114.75" y2="192.28" stroke="#666" stroke-width="0.5"/><circle cx="114.75" cy="192.28" r="1" fill="none" stroke="#444" stroke-width="0.55"/><circle cx="114.75" cy="197.98" r="0.55" fill="#ddd"/><circle cx="118.15" cy="210.3" r="1" fill="none" stroke="#444" stroke-width="0.55"/><line x1="112.55" y1="188.78" x2="120.35" y2="188.78" stroke="#555" stroke-width="0.5"/><text x="116.45" y="188.28" font-size="4.6" fill="#444" stroke="#444" text-anchor="middle">n.s.</text><line x1="116.45" y1="213.1" x2="116.45" y2="214.8" stroke="#333" stroke-width="0.5"/><text x="117.95" y="218.9" font-size="5.5" fill="#e8434b" stroke="#e8434b" text-anchor="end" transform="rotate(-45 117.95 218.9)">Rh30</text><rect x="123" y="209.1" width="2.8" height="4" fill="#111"/><rect x="126.4" y="211.9" width="2.8" height="1.2" fill="#e8262d"/><line x1="124.4" y1="209.1" x2="124.4" y2="206.62" stroke="#666" stroke-width="0.5"/><circle cx="124.4" cy="206.62" r="1" fill="none" stroke="#444" stroke-width="0.55"/><circle cx="124.4" cy="209.5" r="0.55" fill="#ddd"/><circle cx="127.8" cy="211.1" r="1" fill="none" stroke="#444" stroke-width="0.55"/><line x1="122.2" y1="203.12" x2="130" y2="203.12" stroke="#555" stroke-width="0.5"/><text x="126.1" y="202.62" font-size="4.6" fill="#444" stroke="#444" text-anchor="middle">n.s.</text><line x1="126.1" y1="213.1" x2="126.1" y2="214.8" stroke="#333" stroke-width="0.5"/><text x="127.6" y="218.9" font-size="5.5" fill="#3f4f9a" stroke="#3f4f9a" text-anchor="end" transform="rotate(-45 127.6 218.9)">TE381.T</text><rect x="132.65" y="165.1" width="2.8" height="48" fill="#111"/><rect x="136.05" y="212.3" width="2.8" height="0.8" fill="#e8262d"/><line x1="134.05" y1="165.1" x2="134.05" y2="157.34" stroke="#666" stroke-width="0.5"/><circle cx="134.05" cy="157.34" r="1" fill="none" stroke="#444" stroke-width="0.55"/><circle cx="134.05" cy="169.9" r="0.55" fill="#ddd"/><circle cx="137.45" cy="211.5" r="1" fill="none" stroke="#444" stroke-width="0.55"/><line x1="131.85" y1="153.84" x2="139.65" y2="153.84" stroke="#555" stroke-width="0.5"/><text x="135.75" y="155.94" font-size="6.4" fill="#444" stroke="#444" text-anchor="middle">**</text><line x1="135.75" y1="213.1" x2="135.75" y2="214.8" stroke="#333" stroke-width="0.5"/><text x="137.25" y="218.9" font-size="5.5" fill="#3f4f9a" stroke="#3f4f9a" text-anchor="end" transform="rotate(-45 137.25 218.9)">T174</text><rect x="142.3" y="202.3" width="2.8" height="10.8" fill="#111"/><rect x="145.7" y="211.5" width="2.8" height="1.6" fill="#e8262d"/><line x1="143.7" y1="202.3" x2="143.7" y2="199" stroke="#666" stroke-width="0.5"/><circle cx="143.7" cy="199" r="1" fill="none" stroke="#444" stroke-width="0.55"/><circle cx="143.7" cy="203.38" r="0.55" fill="#ddd"/><circle cx="147.1" cy="210.7" r="1" fill="none" stroke="#444" stroke-width="0.55"/><line x1="141.5" y1="195.5" x2="149.3" y2="195.5" stroke="#555" stroke-width="0.5"/><text x="145.4" y="195" font-size="4.6" fill="#444" stroke="#444" text-anchor="middle">n.s.</text><line x1="145.4" y1="213.1" x2="145.4" y2="214.8" stroke="#333" stroke-width="0.5"/><text x="146.9" y="218.9" font-size="5.5" fill="#9067bb" stroke="#9067bb" text-anchor="end" transform="rotate(-45 146.9 218.9)">TC-253</text><rect x="151.95" y="176.3" width="2.8" height="36.8" fill="#111"/><rect x="155.35" y="203.1" width="2.8" height="10" fill="#e8262d"/><line x1="153.35" y1="176.3" x2="153.35" y2="169.88" stroke="#666" stroke-width="0.5"/><circle cx="153.35" cy="169.88" r="1" fill="none" stroke="#444" stroke-width="0.55"/><circle cx="153.35" cy="179.98" r="0.55" fill="#ddd"/><circle cx="156.75" cy="202.3" r="1" fill="none" stroke="#444" stroke-width="0.55"/><line x1="151.15" y1="166.38" x2="158.95" y2="166.38" stroke="#555" stroke-width="0.5"/><text x="155.05" y="168.48" font-size="6.4" fill="#444" stroke="#444" text-anchor="middle">*</text><line x1="155.05" y1="213.1" x2="155.05" y2="214.8" stroke="#333" stroke-width="0.5"/><text x="156.55" y="218.9" font-size="5.5" fill="#9067bb" stroke="#9067bb" text-anchor="end" transform="rotate(-45 156.55 218.9)">5838</text><rect x="161.6" y="204.3" width="2.8" height="8.8" fill="#111"/><rect x="165" y="212.3" width="2.8" height="0.8" fill="#e8262d"/><line x1="163" y1="204.3" x2="163" y2="201.24" stroke="#666" stroke-width="0.5"/><circle cx="163" cy="201.24" r="1" fill="none" stroke="#444" stroke-width="0.55"/><circle cx="163" cy="205.18" r="0.55" fill="#ddd"/><circle cx="166.4" cy="211.5" r="1" fill="none" stroke="#444" stroke-width="0.55"/><line x1="160.8" y1="197.74" x2="168.6" y2="197.74" stroke="#555" stroke-width="0.5"/><text x="164.7" y="199.84" font-size="6.4" fill="#444" stroke="#444" text-anchor="middle">*</text><line x1="164.7" y1="213.1" x2="164.7" y2="214.8" stroke="#333" stroke-width="0.5"/><text x="166.2" y="218.9" font-size="5.5" fill="#3a9a5a" stroke="#3a9a5a" text-anchor="end" transform="rotate(-45 166.2 218.9)">CHP-212</text><rect x="171.25" y="195.1" width="2.8" height="18" fill="#111"/><rect x="174.65" y="209.9" width="2.8" height="3.2" fill="#e8262d"/><line x1="172.65" y1="195.1" x2="172.65" y2="190.94" stroke="#666" stroke-width="0.5"/><circle cx="172.65" cy="190.94" r="1" fill="none" stroke="#444" stroke-width="0.55"/><circle cx="172.65" cy="196.9" r="0.55" fill="#ddd"/><circle cx="176.05" cy="209.1" r="1" fill="none" stroke="#444" stroke-width="0.55"/><line x1="170.45" y1="187.44" x2="178.25" y2="187.44" stroke="#555" stroke-width="0.5"/><text x="174.35" y="189.54" font-size="6.4" fill="#444" stroke="#444" text-anchor="middle">*</text><line x1="174.35" y1="213.1" x2="174.35" y2="214.8" stroke="#333" stroke-width="0.5"/><text x="175.85" y="218.9" font-size="5.5" fill="#3a9a5a" stroke="#3a9a5a" text-anchor="end" transform="rotate(-45 175.85 218.9)">IMR-5/75</text><rect x="180.9" y="204.3" width="2.8" height="8.8" fill="#111"/><rect x="184.3" y="212.3" width="2.8" height="0.8" fill="#e8262d"/><line x1="182.3" y1="204.3" x2="182.3" y2="201.24" stroke="#666" stroke-width="0.5"/><circle cx="182.3" cy="201.24" r="1" fill="none" stroke="#444" stroke-width="0.55"/><circle cx="182.3" cy="205.18" r="0.55" fill="#ddd"/><circle cx="185.7" cy="211.5" r="1" fill="none" stroke="#444" stroke-width="0.55"/><line x1="180.1" y1="197.74" x2="187.9" y2="197.74" stroke="#555" stroke-width="0.5"/><text x="184" y="197.24" font-size="4.6" fill="#444" stroke="#444" text-anchor="middle">n.s.</text><line x1="184" y1="213.1" x2="184" y2="214.8" stroke="#333" stroke-width="0.5"/><text x="185.5" y="218.9" font-size="5.5" fill="#f08a50" stroke="#f08a50" text-anchor="end" transform="rotate(-45 185.5 218.9)">SKNAS</text><rect x="190.55" y="193.9" width="2.8" height="19.2" fill="#111"/><rect x="193.95" y="201.1" width="2.8" height="12" fill="#e8262d"/><line x1="191.95" y1="193.9" x2="191.95" y2="189.6" stroke="#666" stroke-width="0.5"/><circle cx="191.95" cy="189.6" r="1" fill="none" stroke="#444" stroke-width="0.55"/><circle cx="191.95" cy="195.82" r="0.55" fill="#ddd"/><circle cx="195.35" cy="200.3" r="1" fill="none" stroke="#444" stroke-width="0.55"/><line x1="189.75" y1="186.1" x2="197.55" y2="186.1" stroke="#555" stroke-width="0.5"/><text x="193.65" y="185.6" font-size="4.6" fill="#444" stroke="#444" text-anchor="middle">n.s.</text><line x1="193.65" y1="213.1" x2="193.65" y2="214.8" stroke="#333" stroke-width="0.5"/><text x="195.15" y="218.9" font-size="5.5" fill="#f08a50" stroke="#f08a50" text-anchor="end" transform="rotate(-45 195.15 218.9)">SHSY5Y</text><text x="213.3" y="131.8" font-size="12" fill="#000" stroke="#000" font-weight="bold">G</text><text x="242" y="138.2" font-size="5.6" fill="#333" stroke="#333" text-anchor="middle">Rh4</text><text x="221" y="157.6" font-size="5.9" fill="#111" stroke="#111" text-anchor="middle" transform="rotate(-90 221 157.6)">DMSO</text><text x="221.2" y="199.7" font-size="5.6" fill="#e8434b" stroke="#e8434b" text-anchor="middle" transform="rotate(-90 221.2 199.7)">Elimusertib</text><defs><filter id="bl" x="-30%" y="-30%" width="160%" height="160%"><feGaussianBlur stdDeviation="1.1"/></filter><filter id="sb" x="-10%" y="-10%" width="120%" height="120%"><feGaussianBlur stdDeviation="0.35"/></filter><clipPath id="g1"><rect x="224" y="140.7" width="36" height="35.7"/></clipPath><clipPath id="g2"><rect x="224" y="180.6" width="36" height="35.1"/></clipPath></defs><rect x="224" y="140.7" width="36" height="35.7" fill="#07071a"/><g clip-path="url(#g1)"><g filter="url(#bl)"><ellipse cx="228" cy="145" rx="6" ry="5" fill="#2a1640"/><ellipse cx="253" cy="146" rx="5" ry="4" fill="#281845"/><ellipse cx="241.3" cy="151" rx="6.4" ry="6" fill="#3049b8"/><ellipse cx="247.2" cy="155.8" rx="6.4" ry="5.6" fill="#2c44ae"/><ellipse cx="231" cy="173.5" rx="8" ry="3.2" fill="#1c2a88"/><ellipse cx="253" cy="167" rx="6.5" ry="5.5" fill="#2c44ae"/><ellipse cx="230" cy="168" rx="5" ry="3" fill="#141440"/></g></g><rect x="224" y="180.6" width="36" height="35.1" fill="#07071a"/><g clip-path="url(#g2)"><g filter="url(#bl)"><ellipse cx="232" cy="184" rx="10" ry="6" fill="#2b43b0"/><ellipse cx="244" cy="194.5" rx="8" ry="7" fill="#2e47b4"/><ellipse cx="257" cy="199" rx="6" ry="7.5" fill="#2c44ae"/><ellipse cx="243" cy="208.5" rx="8.5" ry="7" fill="#2e48b6"/><ellipse cx="254" cy="184" rx="6" ry="4" fill="#12185a"/></g></g><line x1="225.2" y1="169.3" x2="235.5" y2="169.3" stroke="#e8e8ff" stroke-width="0.7"/><text x="224.9" y="174.5" font-size="5.4" fill="#e8ecff" stroke="#e8ecff">20 µm</text><line x1="225.2" y1="208.8" x2="235.5" y2="208.8" stroke="#e8e8ff" stroke-width="0.7"/><text x="224.9" y="214" font-size="5.4" fill="#e8ecff" stroke="#e8ecff">20 µm</text><path d="M241.8,184.6 L245.6,181.0 L246.2,183.6 Z" stroke="none" stroke-width="0.6" fill="#fff"/><path d="M256.5,206.5 L260,204.3 L259.6,208.6 Z" stroke="none" stroke-width="0.6" fill="#fff"/><text x="277.1" y="132" font-size="12" fill="#000" stroke="#000" font-weight="bold">H</text><line x1="300.2" y1="147.2" x2="300.2" y2="212.7" stroke="#333" stroke-width="0.6"/><line x1="300.2" y1="212.7" x2="478.5" y2="212.7" stroke="#333" stroke-width="0.6"/><line x1="298.6" y1="212.7" x2="300.2" y2="212.7" stroke="#333" stroke-width="0.6"/><text x="298" y="214.5" font-size="5.2" fill="#444" stroke="#444" text-anchor="end">0</text><line x1="298.6" y1="199.7" x2="300.2" y2="199.7" stroke="#333" stroke-width="0.6"/><text x="298" y="201.5" font-size="5.2" fill="#444" stroke="#444" text-anchor="end">20</text><line x1="298.6" y1="186.7" x2="300.2" y2="186.7" stroke="#333" stroke-width="0.6"/><text x="298" y="188.5" font-size="5.2" fill="#444" stroke="#444" text-anchor="end">40</text><line x1="298.6" y1="173.7" x2="300.2" y2="173.7" stroke="#333" stroke-width="0.6"/><text x="298" y="175.5" font-size="5.2" fill="#444" stroke="#444" text-anchor="end">60</text><line x1="298.6" y1="160.7" x2="300.2" y2="160.7" stroke="#333" stroke-width="0.6"/><text x="298" y="162.5" font-size="5.2" fill="#444" stroke="#444" text-anchor="end">80</text><line x1="298.6" y1="147.7" x2="300.2" y2="147.7" stroke="#333" stroke-width="0.6"/><text x="298" y="149.5" font-size="5.2" fill="#444" stroke="#444" text-anchor="end">100</text><line x1="299.3" y1="206.2" x2="300.2" y2="206.2" stroke="#333" stroke-width="0.5"/><line x1="299.3" y1="193.2" x2="300.2" y2="193.2" stroke="#333" stroke-width="0.5"/><line x1="299.3" y1="180.2" x2="300.2" y2="180.2" stroke="#333" stroke-width="0.5"/><line x1="299.3" y1="167.2" x2="300.2" y2="167.2" stroke="#333" stroke-width="0.5"/><line x1="299.3" y1="154.2" x2="300.2" y2="154.2" stroke="#333" stroke-width="0.5"/><text x="283.8" y="181.6" font-size="5.6" fill="#333" stroke="#333" text-anchor="middle" transform="rotate(-90 283.8 181.6)">Micronucleated cells (% cells)</text><text x="477" y="151.7" font-size="5.6" fill="#222" stroke="#222" text-anchor="end">DMSO</text><text x="477" y="158.3" font-size="5.6" fill="#e8262d" stroke="#e8262d" text-anchor="end">Elimusertib</text><text x="299.4" y="220.4" font-size="5.6" fill="#333" stroke="#333" text-anchor="end">Elim.</text><rect x="301.45" y="186.7" width="3.7" height="26" fill="#111"/><rect x="305.95" y="171.1" width="3.7" height="41.6" fill="#e8262d"/><circle cx="303.3" cy="190.6" r="1" fill="none" stroke="#555" stroke-width="0.55"/><line x1="307.8" y1="171.1" x2="307.8" y2="164.16" stroke="#777" stroke-width="0.5"/><circle cx="307.8" cy="164.16" r="1" fill="none" stroke="#555" stroke-width="0.55"/><circle cx="307.8" cy="175.26" r="0.6" fill="#f4c0c0"/><line x1="301.8" y1="160.96" x2="309.5" y2="160.96" stroke="#666" stroke-width="0.5"/><text x="305.6" y="162.96" font-size="5.8" fill="#555" stroke="#555" text-anchor="middle">*</text><line x1="302.3" y1="218.3" x2="304.3" y2="218.3" stroke="#444" stroke-width="0.5"/><circle cx="307.8" cy="218" r="0.95" fill="#222"/><line x1="301.3" y1="221.9" x2="309.8" y2="221.9" stroke="#8e968e" stroke-width="1"/><text x="307.1" y="226.8" font-size="5.6" fill="#e8434b" stroke="#e8434b" text-anchor="end" transform="rotate(-45 307.1 226.8)">KFR</text><rect x="310.3" y="211.4" width="3.7" height="1.3" fill="#111"/><rect x="314.8" y="194.5" width="3.7" height="18.2" fill="#e8262d"/><circle cx="312.15" cy="210.6" r="1" fill="none" stroke="#555" stroke-width="0.55"/><line x1="316.65" y1="194.5" x2="316.65" y2="190.37" stroke="#777" stroke-width="0.5"/><circle cx="316.65" cy="190.37" r="1" fill="none" stroke="#555" stroke-width="0.55"/><circle cx="316.65" cy="196.32" r="0.6" fill="#f4c0c0"/><line x1="310.65" y1="187.17" x2="318.35" y2="187.17" stroke="#666" stroke-width="0.5"/><text x="314.45" y="189.17" font-size="5.8" fill="#555" stroke="#555" text-anchor="middle">**</text><line x1="311.15" y1="218.3" x2="313.15" y2="218.3" stroke="#999" stroke-width="0.5"/><circle cx="316.65" cy="218" r="0.95" fill="#222"/><line x1="310.15" y1="221.9" x2="318.65" y2="221.9" stroke="#8e968e" stroke-width="1"/><text x="315.95" y="226.8" font-size="5.6" fill="#e8434b" stroke="#e8434b" text-anchor="end" transform="rotate(-45 315.95 226.8)">Rh4</text><rect x="319.15" y="200.35" width="3.7" height="12.35" fill="#111"/><rect x="323.65" y="191.9" width="3.7" height="20.8" fill="#e8262d"/><circle cx="321" cy="202.2" r="1" fill="none" stroke="#555" stroke-width="0.55"/><line x1="325.5" y1="191.9" x2="325.5" y2="187.45" stroke="#777" stroke-width="0.5"/><circle cx="325.5" cy="187.45" r="1" fill="none" stroke="#555" stroke-width="0.55"/><circle cx="325.5" cy="193.98" r="0.6" fill="#f4c0c0"/><line x1="319.5" y1="184.25" x2="327.2" y2="184.25" stroke="#666" stroke-width="0.5"/><text x="323.3" y="186.25" font-size="5.8" fill="#555" stroke="#555" text-anchor="middle">**</text><line x1="320" y1="218.3" x2="322" y2="218.3" stroke="#999" stroke-width="0.5"/><circle cx="325.5" cy="218" r="0.95" fill="#222"/><line x1="319" y1="221.9" x2="327.5" y2="221.9" stroke="#8e968e" stroke-width="1"/><text x="324.8" y="226.8" font-size="5.6" fill="#e8434b" stroke="#e8434b" text-anchor="end" transform="rotate(-45 324.8 226.8)">Rh5</text><rect x="328" y="202.3" width="3.7" height="10.4" fill="#111"/><rect x="332.5" y="176.95" width="3.7" height="35.75" fill="#e8262d"/><circle cx="329.85" cy="203.86" r="1" fill="none" stroke="#555" stroke-width="0.55"/><line x1="334.35" y1="176.95" x2="334.35" y2="170.71" stroke="#777" stroke-width="0.5"/><circle cx="334.35" cy="170.71" r="1" fill="none" stroke="#555" stroke-width="0.55"/><circle cx="334.35" cy="180.52" r="0.6" fill="#f4c0c0"/><line x1="328.35" y1="167.51" x2="336.05" y2="167.51" stroke="#666" stroke-width="0.5"/><text x="332.15" y="169.51" font-size="5.8" fill="#555" stroke="#555" text-anchor="middle">**</text><line x1="328.85" y1="218.3" x2="330.85" y2="218.3" stroke="#999" stroke-width="0.5"/><circle cx="334.35" cy="218" r="0.95" fill="#222"/><line x1="327.85" y1="221.9" x2="336.35" y2="221.9" stroke="#8e968e" stroke-width="1"/><text x="333.65" y="226.8" font-size="5.6" fill="#e8434b" stroke="#e8434b" text-anchor="end" transform="rotate(-45 333.65 226.8)">Rh30</text><rect x="336.85" y="205.55" width="3.7" height="7.15" fill="#111"/><rect x="341.35" y="186.7" width="3.7" height="26" fill="#e8262d"/><circle cx="338.7" cy="206.62" r="1" fill="none" stroke="#555" stroke-width="0.55"/><line x1="343.2" y1="186.7" x2="343.2" y2="181.63" stroke="#777" stroke-width="0.5"/><circle cx="343.2" cy="181.63" r="1" fill="none" stroke="#555" stroke-width="0.55"/><circle cx="343.2" cy="189.3" r="0.6" fill="#f4c0c0"/><line x1="337.2" y1="178.43" x2="344.9" y2="178.43" stroke="#666" stroke-width="0.5"/><text x="341" y="180.43" font-size="5.8" fill="#555" stroke="#555" text-anchor="middle">*</text><line x1="337.7" y1="218.3" x2="339.7" y2="218.3" stroke="#999" stroke-width="0.5"/><circle cx="343.2" cy="218" r="0.95" fill="#222"/><line x1="336.7" y1="221.9" x2="345.2" y2="221.9" stroke="#8e968e" stroke-width="1"/><text x="342.5" y="226.8" font-size="5.6" fill="#e8434b" stroke="#e8434b" text-anchor="end" transform="rotate(-45 342.5 226.8)">Rh41</text><rect x="345.7" y="211.4" width="3.7" height="1.3" fill="#111"/><rect x="350.2" y="204.25" width="3.7" height="8.45" fill="#e8262d"/><circle cx="347.55" cy="210.6" r="1" fill="none" stroke="#555" stroke-width="0.55"/><line x1="352.05" y1="204.25" x2="352.05" y2="201.29" stroke="#777" stroke-width="0.5"/><circle cx="352.05" cy="201.29" r="1" fill="none" stroke="#555" stroke-width="0.55"/><circle cx="352.05" cy="205.09" r="0.6" fill="#f4c0c0"/><line x1="346.05" y1="198.09" x2="353.75" y2="198.09" stroke="#666" stroke-width="0.5"/><text x="349.85" y="200.09" font-size="5.8" fill="#555" stroke="#555" text-anchor="middle">**</text><line x1="346.55" y1="218.3" x2="348.55" y2="218.3" stroke="#999" stroke-width="0.5"/><circle cx="352.05" cy="218" r="0.95" fill="#222"/><line x1="345.55" y1="221.9" x2="354.05" y2="221.9" stroke="#8e968e" stroke-width="1"/><text x="351.35" y="226.8" font-size="5.6" fill="#e8434b" stroke="#e8434b" text-anchor="end" transform="rotate(-45 351.35 226.8)">RMS</text><rect x="354.55" y="212.05" width="3.7" height="0.65" fill="#111"/><rect x="359.05" y="204.9" width="3.7" height="7.8" fill="#e8262d"/><circle cx="356.4" cy="211.25" r="1" fill="none" stroke="#555" stroke-width="0.55"/><line x1="360.9" y1="204.9" x2="360.9" y2="202.01" stroke="#777" stroke-width="0.5"/><circle cx="360.9" cy="202.01" r="1" fill="none" stroke="#555" stroke-width="0.55"/><circle cx="360.9" cy="205.68" r="0.6" fill="#f4c0c0"/><line x1="354.9" y1="198.81" x2="362.6" y2="198.81" stroke="#666" stroke-width="0.5"/><text x="358.7" y="198.41" font-size="4.4" fill="#555" stroke="#555" text-anchor="middle">n.s.</text><line x1="355.4" y1="218.3" x2="357.4" y2="218.3" stroke="#999" stroke-width="0.5"/><circle cx="360.9" cy="218" r="0.95" fill="#222"/><line x1="354.4" y1="221.9" x2="362.9" y2="221.9" stroke="#8e968e" stroke-width="1"/><text x="360.2" y="226.8" font-size="5.6" fill="#3f4f9a" stroke="#3f4f9a" text-anchor="end" transform="rotate(-45 360.2 226.8)">Kym1</text><rect x="363.4" y="208.8" width="3.7" height="3.9" fill="#111"/><rect x="367.9" y="186.05" width="3.7" height="26.65" fill="#e8262d"/><circle cx="365.25" cy="209.38" r="1" fill="none" stroke="#555" stroke-width="0.55"/><line x1="369.75" y1="186.05" x2="369.75" y2="180.9" stroke="#777" stroke-width="0.5"/><circle cx="369.75" cy="180.9" r="1" fill="none" stroke="#555" stroke-width="0.55"/><circle cx="369.75" cy="188.71" r="0.6" fill="#f4c0c0"/><line x1="363.75" y1="177.7" x2="371.45" y2="177.7" stroke="#666" stroke-width="0.5"/><text x="367.55" y="179.7" font-size="5.8" fill="#555" stroke="#555" text-anchor="middle">**</text><line x1="364.25" y1="218.3" x2="366.25" y2="218.3" stroke="#999" stroke-width="0.5"/><circle cx="369.75" cy="218" r="0.95" fill="#222"/><line x1="363.25" y1="221.9" x2="371.75" y2="221.9" stroke="#8e968e" stroke-width="1"/><text x="369.05" y="226.8" font-size="5.6" fill="#3f4f9a" stroke="#3f4f9a" text-anchor="end" transform="rotate(-45 369.05 226.8)">RD</text><rect x="372.25" y="192.55" width="3.7" height="20.15" fill="#111"/><rect x="376.75" y="177.6" width="3.7" height="35.1" fill="#e8262d"/><circle cx="374.1" cy="195.57" r="1" fill="none" stroke="#555" stroke-width="0.55"/><line x1="378.6" y1="177.6" x2="378.6" y2="171.44" stroke="#777" stroke-width="0.5"/><circle cx="378.6" cy="171.44" r="1" fill="none" stroke="#555" stroke-width="0.55"/><circle cx="378.6" cy="181.11" r="0.6" fill="#f4c0c0"/><line x1="372.6" y1="168.24" x2="380.3" y2="168.24" stroke="#666" stroke-width="0.5"/><text x="376.4" y="170.24" font-size="5.8" fill="#555" stroke="#555" text-anchor="middle">**</text><line x1="373.1" y1="218.3" x2="375.1" y2="218.3" stroke="#999" stroke-width="0.5"/><circle cx="378.6" cy="218" r="0.95" fill="#222"/><line x1="372.1" y1="221.9" x2="380.6" y2="221.9" stroke="#8e968e" stroke-width="1"/><text x="377.9" y="226.8" font-size="5.6" fill="#3f4f9a" stroke="#3f4f9a" text-anchor="end" transform="rotate(-45 377.9 226.8)">Rh18</text><rect x="381.1" y="212.05" width="3.7" height="0.65" fill="#111"/><rect x="385.6" y="189.95" width="3.7" height="22.75" fill="#e8262d"/><circle cx="382.95" cy="211.25" r="1" fill="none" stroke="#555" stroke-width="0.55"/><line x1="387.45" y1="189.95" x2="387.45" y2="185.27" stroke="#777" stroke-width="0.5"/><circle cx="387.45" cy="185.27" r="1" fill="none" stroke="#555" stroke-width="0.55"/><circle cx="387.45" cy="192.22" r="0.6" fill="#f4c0c0"/><line x1="381.45" y1="182.07" x2="389.15" y2="182.07" stroke="#666" stroke-width="0.5"/><text x="385.25" y="184.07" font-size="5.8" fill="#555" stroke="#555" text-anchor="middle">**</text><line x1="381.95" y1="218.3" x2="383.95" y2="218.3" stroke="#999" stroke-width="0.5"/><circle cx="387.45" cy="218" r="0.95" fill="#222"/><line x1="380.95" y1="221.9" x2="389.45" y2="221.9" stroke="#8e968e" stroke-width="1"/><text x="386.75" y="226.8" font-size="5.6" fill="#3f4f9a" stroke="#3f4f9a" text-anchor="end" transform="rotate(-45 386.75 226.8)">T174</text><rect x="389.95" y="208.8" width="3.7" height="3.9" fill="#111"/><rect x="394.45" y="201" width="3.7" height="11.7" fill="#e8262d"/><circle cx="391.8" cy="209.38" r="1" fill="none" stroke="#555" stroke-width="0.55"/><line x1="396.3" y1="201" x2="396.3" y2="197.65" stroke="#777" stroke-width="0.5"/><circle cx="396.3" cy="197.65" r="1" fill="none" stroke="#555" stroke-width="0.55"/><circle cx="396.3" cy="202.17" r="0.6" fill="#f4c0c0"/><line x1="390.3" y1="194.45" x2="398" y2="194.45" stroke="#666" stroke-width="0.5"/><text x="394.1" y="196.45" font-size="5.8" fill="#555" stroke="#555" text-anchor="middle">**</text><line x1="390.8" y1="218.3" x2="392.8" y2="218.3" stroke="#999" stroke-width="0.5"/><circle cx="396.3" cy="218" r="0.95" fill="#222"/><line x1="389.8" y1="221.9" x2="398.3" y2="221.9" stroke="#8e968e" stroke-width="1"/><text x="395.6" y="226.8" font-size="5.6" fill="#3f4f9a" stroke="#3f4f9a" text-anchor="end" transform="rotate(-45 395.6 226.8)">TE381.T</text><rect x="398.8" y="205.55" width="3.7" height="7.15" fill="#111"/><rect x="403.3" y="176.3" width="3.7" height="36.4" fill="#e8262d"/><circle cx="400.65" cy="206.62" r="1" fill="none" stroke="#555" stroke-width="0.55"/><line x1="405.15" y1="176.3" x2="405.15" y2="169.98" stroke="#777" stroke-width="0.5"/><circle cx="405.15" cy="169.98" r="1" fill="none" stroke="#555" stroke-width="0.55"/><circle cx="405.15" cy="179.94" r="0.6" fill="#f4c0c0"/><line x1="399.15" y1="166.78" x2="406.85" y2="166.78" stroke="#666" stroke-width="0.5"/><text x="402.95" y="168.78" font-size="5.8" fill="#555" stroke="#555" text-anchor="middle">**</text><line x1="399.65" y1="218.3" x2="401.65" y2="218.3" stroke="#999" stroke-width="0.5"/><circle cx="405.15" cy="218" r="0.95" fill="#222"/><line x1="398.65" y1="221.9" x2="407.15" y2="221.9" stroke="#8e968e" stroke-width="1"/><text x="404.45" y="226.8" font-size="5.6" fill="#9067bb" stroke="#9067bb" text-anchor="end" transform="rotate(-45 404.45 226.8)">5838</text><rect x="407.65" y="201" width="3.7" height="11.7" fill="#111"/><rect x="412.15" y="169.15" width="3.7" height="43.55" fill="#e8262d"/><circle cx="409.5" cy="202.75" r="1" fill="none" stroke="#555" stroke-width="0.55"/><line x1="414" y1="169.15" x2="414" y2="161.97" stroke="#777" stroke-width="0.5"/><circle cx="414" cy="161.97" r="1" fill="none" stroke="#555" stroke-width="0.55"/><circle cx="414" cy="173.5" r="0.6" fill="#f4c0c0"/><line x1="408" y1="158.77" x2="415.7" y2="158.77" stroke="#666" stroke-width="0.5"/><text x="411.8" y="160.77" font-size="5.8" fill="#555" stroke="#555" text-anchor="middle">**</text><line x1="408.5" y1="218.3" x2="410.5" y2="218.3" stroke="#999" stroke-width="0.5"/><circle cx="414" cy="218" r="0.95" fill="#222"/><line x1="407.5" y1="221.9" x2="416" y2="221.9" stroke="#8e968e" stroke-width="1"/><text x="413.3" y="226.8" font-size="5.6" fill="#9067bb" stroke="#9067bb" text-anchor="end" transform="rotate(-45 413.3 226.8)">TC-253</text><rect x="416.5" y="212.05" width="3.7" height="0.65" fill="#111"/><rect x="421" y="204.9" width="3.7" height="7.8" fill="#e8262d"/><circle cx="418.35" cy="211.25" r="1" fill="none" stroke="#555" stroke-width="0.55"/><line x1="422.85" y1="204.9" x2="422.85" y2="202.01" stroke="#777" stroke-width="0.5"/><circle cx="422.85" cy="202.01" r="1" fill="none" stroke="#555" stroke-width="0.55"/><circle cx="422.85" cy="205.68" r="0.6" fill="#f4c0c0"/><line x1="416.85" y1="198.81" x2="424.55" y2="198.81" stroke="#666" stroke-width="0.5"/><text x="420.65" y="200.81" font-size="5.8" fill="#555" stroke="#555" text-anchor="middle">**</text><line x1="417.35" y1="218.3" x2="419.35" y2="218.3" stroke="#999" stroke-width="0.5"/><circle cx="422.85" cy="218" r="0.95" fill="#222"/><line x1="416.35" y1="221.9" x2="424.85" y2="221.9" stroke="#8e968e" stroke-width="1"/><text x="422.15" y="226.8" font-size="5.6" fill="#9067bb" stroke="#9067bb" text-anchor="end" transform="rotate(-45 422.15 226.8)">A673</text><rect x="425.35" y="212.05" width="3.7" height="0.65" fill="#111"/><rect x="429.85" y="192.55" width="3.7" height="20.15" fill="#e8262d"/><circle cx="427.2" cy="211.25" r="1" fill="none" stroke="#555" stroke-width="0.55"/><line x1="431.7" y1="192.55" x2="431.7" y2="188.18" stroke="#777" stroke-width="0.5"/><circle cx="431.7" cy="188.18" r="1" fill="none" stroke="#555" stroke-width="0.55"/><circle cx="431.7" cy="194.56" r="0.6" fill="#f4c0c0"/><line x1="425.7" y1="184.98" x2="433.4" y2="184.98" stroke="#666" stroke-width="0.5"/><text x="429.5" y="186.98" font-size="5.8" fill="#555" stroke="#555" text-anchor="middle">**</text><line x1="426.2" y1="218.3" x2="428.2" y2="218.3" stroke="#999" stroke-width="0.5"/><circle cx="431.7" cy="218" r="0.95" fill="#222"/><line x1="425.2" y1="221.9" x2="433.7" y2="221.9" stroke="#8e968e" stroke-width="1"/><text x="431" y="226.8" font-size="5.6" fill="#9067bb" stroke="#9067bb" text-anchor="end" transform="rotate(-45 431 226.8)">CADO-ES1</text><rect x="434.2" y="211.4" width="3.7" height="1.3" fill="#111"/><rect x="438.7" y="208.8" width="3.7" height="3.9" fill="#e8262d"/><circle cx="436.05" cy="210.6" r="1" fill="none" stroke="#555" stroke-width="0.55"/><line x1="440.55" y1="208.8" x2="440.55" y2="206.38" stroke="#777" stroke-width="0.5"/><circle cx="440.55" cy="206.38" r="1" fill="none" stroke="#555" stroke-width="0.55"/><circle cx="440.55" cy="209.19" r="0.6" fill="#f4c0c0"/><line x1="434.55" y1="203.18" x2="442.25" y2="203.18" stroke="#666" stroke-width="0.5"/><text x="438.35" y="202.78" font-size="4.4" fill="#555" stroke="#555" text-anchor="middle">n.s.</text><line x1="435.05" y1="218.3" x2="437.05" y2="218.3" stroke="#999" stroke-width="0.5"/><circle cx="440.55" cy="218" r="0.95" fill="#222"/><line x1="434.05" y1="221.9" x2="442.55" y2="221.9" stroke="#8e968e" stroke-width="1"/><text x="439.85" y="226.8" font-size="5.6" fill="#3a9a5a" stroke="#3a9a5a" text-anchor="end" transform="rotate(-45 439.85 226.8)">CHP-212</text><rect x="443.05" y="212.05" width="3.7" height="0.65" fill="#111"/><rect x="447.55" y="209.45" width="3.7" height="3.25" fill="#e8262d"/><circle cx="444.9" cy="211.25" r="1" fill="none" stroke="#555" stroke-width="0.55"/><line x1="449.4" y1="209.45" x2="449.4" y2="207.11" stroke="#777" stroke-width="0.5"/><circle cx="449.4" cy="207.11" r="1" fill="none" stroke="#555" stroke-width="0.55"/><circle cx="449.4" cy="209.77" r="0.6" fill="#f4c0c0"/><line x1="443.4" y1="203.91" x2="451.1" y2="203.91" stroke="#666" stroke-width="0.5"/><text x="447.2" y="205.91" font-size="5.8" fill="#555" stroke="#555" text-anchor="middle">**</text><line x1="443.9" y1="218.3" x2="445.9" y2="218.3" stroke="#999" stroke-width="0.5"/><circle cx="449.4" cy="218" r="0.95" fill="#222"/><line x1="442.9" y1="221.9" x2="451.4" y2="221.9" stroke="#8e968e" stroke-width="1"/><text x="448.7" y="226.8" font-size="5.6" fill="#3a9a5a" stroke="#3a9a5a" text-anchor="end" transform="rotate(-45 448.7 226.8)">IMR5/75</text><rect x="451.9" y="212.05" width="3.7" height="0.65" fill="#111"/><rect x="456.4" y="210.1" width="3.7" height="2.6" fill="#e8262d"/><circle cx="453.75" cy="211.25" r="1" fill="none" stroke="#555" stroke-width="0.55"/><line x1="458.25" y1="210.1" x2="458.25" y2="207.84" stroke="#777" stroke-width="0.5"/><circle cx="458.25" cy="207.84" r="1" fill="none" stroke="#555" stroke-width="0.55"/><circle cx="458.25" cy="210.36" r="0.6" fill="#f4c0c0"/><line x1="452.25" y1="204.64" x2="459.95" y2="204.64" stroke="#666" stroke-width="0.5"/><text x="456.05" y="204.24" font-size="4.4" fill="#555" stroke="#555" text-anchor="middle">n.s.</text><line x1="452.75" y1="218.3" x2="454.75" y2="218.3" stroke="#999" stroke-width="0.5"/><circle cx="458.25" cy="218" r="0.95" fill="#222"/><line x1="451.75" y1="221.9" x2="460.25" y2="221.9" stroke="#8e968e" stroke-width="1"/><text x="457.55" y="226.8" font-size="5.6" fill="#3a9a5a" stroke="#3a9a5a" text-anchor="end" transform="rotate(-45 457.55 226.8)">TR-14</text><rect x="460.75" y="212.05" width="3.7" height="0.65" fill="#111"/><rect x="465.25" y="199.7" width="3.7" height="13" fill="#e8262d"/><circle cx="462.6" cy="211.25" r="1" fill="none" stroke="#555" stroke-width="0.55"/><line x1="467.1" y1="199.7" x2="467.1" y2="196.19" stroke="#777" stroke-width="0.5"/><circle cx="467.1" cy="196.19" r="1" fill="none" stroke="#555" stroke-width="0.55"/><circle cx="467.1" cy="201" r="0.6" fill="#f4c0c0"/><line x1="461.1" y1="192.99" x2="468.8" y2="192.99" stroke="#666" stroke-width="0.5"/><text x="464.9" y="194.99" font-size="5.8" fill="#555" stroke="#555" text-anchor="middle">**</text><line x1="461.6" y1="218.3" x2="463.6" y2="218.3" stroke="#999" stroke-width="0.5"/><circle cx="467.1" cy="218" r="0.95" fill="#222"/><line x1="460.6" y1="221.9" x2="469.1" y2="221.9" stroke="#8e968e" stroke-width="1"/><text x="466.4" y="226.8" font-size="5.6" fill="#f08a50" stroke="#f08a50" text-anchor="end" transform="rotate(-45 466.4 226.8)">SK-N-AS</text><rect x="469.6" y="204.9" width="3.7" height="7.8" fill="#111"/><rect x="474.1" y="188" width="3.7" height="24.7" fill="#e8262d"/><circle cx="471.45" cy="206.07" r="1" fill="none" stroke="#555" stroke-width="0.55"/><line x1="475.95" y1="188" x2="475.95" y2="183.09" stroke="#777" stroke-width="0.5"/><circle cx="475.95" cy="183.09" r="1" fill="none" stroke="#555" stroke-width="0.55"/><circle cx="475.95" cy="190.47" r="0.6" fill="#f4c0c0"/><line x1="469.95" y1="179.89" x2="477.65" y2="179.89" stroke="#666" stroke-width="0.5"/><text x="473.75" y="181.89" font-size="5.8" fill="#555" stroke="#555" text-anchor="middle">**</text><line x1="470.45" y1="218.3" x2="472.45" y2="218.3" stroke="#999" stroke-width="0.5"/><circle cx="475.95" cy="218" r="0.95" fill="#222"/><line x1="469.45" y1="221.9" x2="477.95" y2="221.9" stroke="#8e968e" stroke-width="1"/><text x="475.25" y="226.8" font-size="5.6" fill="#f08a50" stroke="#f08a50" text-anchor="end" transform="rotate(-45 475.25 226.8)">SK-N-SH</text><text x="3.3" y="262" font-size="12" fill="#000" stroke="#000" font-weight="bold">I</text><text x="42.95" y="274.5" font-size="5.6" fill="#222" stroke="#222" text-anchor="middle">DMSO</text><g filter="url(#sb)"><rect x="31.27" y="295.63" width="0.8" height="0.8" fill="#6f97a0" opacity="0.75"/><rect x="35.2" y="297.29" width="0.8" height="0.8" fill="#6f97a0" opacity="0.75"/><rect x="31.67" y="296.96" width="0.8" height="0.8" fill="#6f97a0" opacity="0.75"/><rect x="28.23" y="293.52" width="0.8" height="0.8" fill="#8ea87a" opacity="0.75"/><rect x="27.91" y="295.83" width="0.8" height="0.8" fill="#a9b87a" opacity="0.75"/><rect x="36.71" y="294.24" width="0.8" height="0.8" fill="#6a8f8a" opacity="0.75"/><rect x="36.72" y="295.85" width="0.8" height="0.8" fill="#5f8a92" opacity="0.75"/><rect x="27.38" y="293.74" width="0.8" height="0.8" fill="#9fb078" opacity="0.75"/><rect x="30.93" y="292.94" width="0.8" height="0.8" fill="#7fa4ac" opacity="0.75"/><rect x="33.25" y="293.37" width="0.8" height="0.8" fill="#5f8a92" opacity="0.75"/><rect x="28.54" y="294.31" width="0.8" height="0.8" fill="#a9b87a" opacity="0.75"/><rect x="33.16" y="292.8" width="0.8" height="0.8" fill="#6f97a0" opacity="0.75"/><rect x="33.28" y="295.69" width="0.8" height="0.8" fill="#6a8f8a" opacity="0.75"/><rect x="32.21" y="295.38" width="0.8" height="0.8" fill="#7fa4ac" opacity="0.75"/><rect x="32.52" y="295.6" width="0.8" height="0.8" fill="#5f8a92" opacity="0.75"/><rect x="34.97" y="293.59" width="0.8" height="0.8" fill="#5f8a92" opacity="0.75"/><rect x="28.15" y="293.22" width="0.8" height="0.8" fill="#b7c48c" opacity="0.75"/><rect x="34.45" y="296.96" width="0.8" height="0.8" fill="#7fa4ac" opacity="0.75"/><rect x="33.6" y="296.77" width="0.8" height="0.8" fill="#5f8a92" opacity="0.75"/><rect x="34.66" y="294.06" width="0.8" height="0.8" fill="#5f8a92" opacity="0.75"/><rect x="36.49" y="302.67" width="0.8" height="0.8" fill="#6f97a0" opacity="0.75"/><rect x="34.72" y="297.44" width="0.8" height="0.8" fill="#6a8f8a" opacity="0.75"/><rect x="34.92" y="293.3" width="0.8" height="0.8" fill="#7fa4ac" opacity="0.75"/><rect x="33.5" y="295.55" width="0.8" height="0.8" fill="#6a8f8a" opacity="0.75"/><rect x="34.99" y="293.41" width="0.8" height="0.8" fill="#7fa4ac" opacity="0.75"/><rect x="32.59" y="292.33" width="0.8" height="0.8" fill="#6f97a0" opacity="0.75"/><rect x="27.72" y="293.57" width="0.8" height="0.8" fill="#8ea87a" opacity="0.75"/><rect x="30.88" y="298.28" width="0.8" height="0.8" fill="#8db0b8" opacity="0.75"/><rect x="35.88" y="298.2" width="0.8" height="0.8" fill="#7fa4ac" opacity="0.75"/><rect x="29.52" y="301.14" width="0.8" height="0.8" fill="#6f97a0" opacity="0.75"/><rect x="32.74" y="292.22" width="0.8" height="0.8" fill="#5f8a92" opacity="0.75"/><rect x="31.95" y="295.43" width="0.8" height="0.8" fill="#8db0b8" opacity="0.75"/><rect x="28.13" y="297.39" width="0.8" height="0.8" fill="#9fb078" opacity="0.75"/><rect x="35.19" y="293.38" width="0.8" height="0.8" fill="#6a8f8a" opacity="0.75"/><rect x="30.82" y="295.46" width="0.8" height="0.8" fill="#8db0b8" opacity="0.75"/><rect x="36.9" y="293.79" width="0.8" height="0.8" fill="#5f8a92" opacity="0.75"/><rect x="28.18" y="295.66" width="0.8" height="0.8" fill="#a9b87a" opacity="0.75"/><rect x="32.68" y="297.36" width="0.8" height="0.8" fill="#6a8f8a" opacity="0.75"/><rect x="29.71" y="291.96" width="0.8" height="0.8" fill="#6a8f8a" opacity="0.75"/><rect x="31.7" y="294.15" width="0.8" height="0.8" fill="#6a8f8a" opacity="0.75"/><rect x="31.22" y="298.38" width="0.8" height="0.8" fill="#6a8f8a" opacity="0.75"/><rect x="33.92" y="298.42" width="0.8" height="0.8" fill="#6f97a0" opacity="0.75"/><rect x="32.45" y="299.89" width="0.8" height="0.8" fill="#6a8f8a" opacity="0.75"/><rect x="31.9" y="300.33" width="0.8" height="0.8" fill="#8db0b8" opacity="0.75"/><rect x="31.92" y="296.42" width="0.8" height="0.8" fill="#5f8a92" opacity="0.75"/><rect x="27.86" y="291.99" width="0.8" height="0.8" fill="#9fb078" opacity="0.75"/><rect x="32.32" y="296.62" width="0.8" height="0.8" fill="#6f97a0" opacity="0.75"/><rect x="25.17" y="295.72" width="0.8" height="0.8" fill="#9fb078" opacity="0.75"/><rect x="33.07" y="297.94" width="0.8" height="0.8" fill="#6f97a0" opacity="0.75"/><rect x="35.74" y="293.57" width="0.8" height="0.8" fill="#6a8f8a" opacity="0.75"/><rect x="31.76" y="299.68" width="0.8" height="0.8" fill="#6a8f8a" opacity="0.75"/><rect x="31.65" y="300.73" width="0.8" height="0.8" fill="#6f97a0" opacity="0.75"/><rect x="28.74" y="305.16" width="0.8" height="0.8" fill="#8ea87a" opacity="0.75"/><rect x="32.67" y="292.43" width="0.8" height="0.8" fill="#6f97a0" opacity="0.75"/><rect x="29.18" y="291.42" width="0.8" height="0.8" fill="#8db0b8" opacity="0.75"/><rect x="35.28" y="299.61" width="0.8" height="0.8" fill="#5f8a92" opacity="0.75"/><rect x="32.92" y="294.82" width="0.8" height="0.8" fill="#7fa4ac" opacity="0.75"/><rect x="29.22" y="303.24" width="0.8" height="0.8" fill="#6a8f8a" opacity="0.75"/><rect x="36.22" y="291.62" width="0.8" height="0.8" fill="#6f97a0" opacity="0.75"/><rect x="34.2" y="295.6" width="0.8" height="0.8" fill="#7fa4ac" opacity="0.75"/><rect x="32.94" y="295.33" width="0.8" height="0.8" fill="#5f8a92" opacity="0.75"/><rect x="33.04" y="293.96" width="0.8" height="0.8" fill="#6a8f8a" opacity="0.75"/><rect x="31.33" y="292.94" width="0.8" height="0.8" fill="#5f8a92" opacity="0.75"/><rect x="35.07" y="300.4" width="0.8" height="0.8" fill="#8db0b8" opacity="0.75"/><rect x="34.52" y="292.28" width="0.8" height="0.8" fill="#7fa4ac" opacity="0.75"/><rect x="34.46" y="297.37" width="0.8" height="0.8" fill="#6f97a0" opacity="0.75"/><rect x="34.93" y="294.63" width="0.8" height="0.8" fill="#6a8f8a" opacity="0.75"/><rect x="36.87" y="291.97" width="0.8" height="0.8" fill="#8db0b8" opacity="0.75"/><rect x="35.09" y="292.18" width="0.8" height="0.8" fill="#7fa4ac" opacity="0.75"/><rect x="28.13" y="295.97" width="0.8" height="0.8" fill="#a9b87a" opacity="0.75"/><rect x="30.25" y="292.51" width="0.8" height="0.8" fill="#6a8f8a" opacity="0.75"/><rect x="37.55" y="294.59" width="0.8" height="0.8" fill="#6a8f8a" opacity="0.75"/><rect x="35.39" y="298.61" width="0.8" height="0.8" fill="#6f97a0" opacity="0.75"/><rect x="35.33" y="292.34" width="0.8" height="0.8" fill="#6f97a0" opacity="0.75"/><rect x="36.16" y="293.08" width="0.8" height="0.8" fill="#8db0b8" opacity="0.75"/><rect x="35.9" y="299.56" width="0.8" height="0.8" fill="#8db0b8" opacity="0.75"/><rect x="34.92" y="295.85" width="0.8" height="0.8" fill="#8db0b8" opacity="0.75"/><rect x="32.5" y="299.2" width="0.8" height="0.8" fill="#6f97a0" opacity="0.75"/><rect x="34.41" y="292.66" width="0.8" height="0.8" fill="#5f8a92" opacity="0.75"/><rect x="33.47" y="293.68" width="0.8" height="0.8" fill="#8db0b8" opacity="0.75"/><rect x="35.07" y="297.08" width="0.8" height="0.8" fill="#8db0b8" opacity="0.75"/><rect x="33.94" y="298.84" width="0.8" height="0.8" fill="#7fa4ac" opacity="0.75"/><rect x="29.35" y="292.39" width="0.8" height="0.8" fill="#6f97a0" opacity="0.75"/><rect x="33" y="291.71" width="0.8" height="0.8" fill="#5f8a92" opacity="0.75"/><rect x="32.26" y="297.88" width="0.8" height="0.8" fill="#5f8a92" opacity="0.75"/><rect x="26.84" y="298.15" width="0.8" height="0.8" fill="#9fb078" opacity="0.75"/><rect x="30.97" y="291.79" width="0.8" height="0.8" fill="#7fa4ac" opacity="0.75"/><rect x="33.13" y="298.03" width="0.8" height="0.8" fill="#5f8a92" opacity="0.75"/><rect x="27.72" y="292.08" width="0.8" height="0.8" fill="#8ea87a" opacity="0.75"/><rect x="35.26" y="302.06" width="0.8" height="0.8" fill="#6a8f8a" opacity="0.75"/><rect x="28.99" y="294.86" width="0.8" height="0.8" fill="#8ea87a" opacity="0.75"/><rect x="34.82" y="296.28" width="0.8" height="0.8" fill="#6a8f8a" opacity="0.75"/><rect x="25.69" y="292.34" width="0.8" height="0.8" fill="#8ea87a" opacity="0.75"/><rect x="33.67" y="294.33" width="0.8" height="0.8" fill="#6f97a0" opacity="0.75"/><rect x="33.22" y="294.18" width="0.8" height="0.8" fill="#6a8f8a" opacity="0.75"/><rect x="32.66" y="296.77" width="0.8" height="0.8" fill="#6f97a0" opacity="0.75"/><rect x="35.84" y="294.45" width="0.8" height="0.8" fill="#6f97a0" opacity="0.75"/><rect x="34.78" y="292.54" width="0.8" height="0.8" fill="#6a8f8a" opacity="0.75"/><rect x="32.41" y="301.83" width="0.8" height="0.8" fill="#6f97a0" opacity="0.75"/><rect x="32.34" y="293.25" width="0.8" height="0.8" fill="#6a8f8a" opacity="0.75"/><rect x="37.23" y="294.02" width="0.8" height="0.8" fill="#7fa4ac" opacity="0.75"/><rect x="32.41" y="293.46" width="0.8" height="0.8" fill="#6a8f8a" opacity="0.75"/><rect x="35.08" y="295.17" width="0.8" height="0.8" fill="#6a8f8a" opacity="0.75"/><rect x="35.76" y="291.58" width="0.8" height="0.8" fill="#7fa4ac" opacity="0.75"/><rect x="36.33" y="294.03" width="0.8" height="0.8" fill="#8db0b8" opacity="0.75"/><rect x="29.08" y="293.5" width="0.8" height="0.8" fill="#6f97a0" opacity="0.75"/><rect x="31.9" y="294.4" width="0.8" height="0.8" fill="#8db0b8" opacity="0.75"/><rect x="27.98" y="298.23" width="0.8" height="0.8" fill="#b7c48c" opacity="0.75"/><rect x="34.88" y="293.71" width="0.8" height="0.8" fill="#7fa4ac" opacity="0.75"/><rect x="29.17" y="293.15" width="0.8" height="0.8" fill="#5f8a92" opacity="0.75"/><rect x="37.1" y="293.74" width="0.8" height="0.8" fill="#8db0b8" opacity="0.75"/><rect x="35.86" y="303.52" width="0.8" height="0.8" fill="#5f8a92" opacity="0.75"/><rect x="37.72" y="292.87" width="0.8" height="0.8" fill="#8db0b8" opacity="0.75"/><rect x="37.9" y="293.98" width="0.8" height="0.8" fill="#8db0b8" opacity="0.75"/><rect x="31.42" y="292.86" width="0.8" height="0.8" fill="#7fa4ac" opacity="0.75"/><rect x="26.54" y="295.53" width="0.8" height="0.8" fill="#8ea87a" opacity="0.75"/><rect x="32.32" y="295.86" width="0.8" height="0.8" fill="#6a8f8a" opacity="0.75"/><rect x="30.99" y="291.91" width="0.8" height="0.8" fill="#6f97a0" opacity="0.75"/><rect x="28.7" y="294.54" width="0.8" height="0.8" fill="#a9b87a" opacity="0.75"/><rect x="28.2" y="293.16" width="0.8" height="0.8" fill="#b7c48c" opacity="0.75"/><rect x="27.19" y="292.12" width="0.8" height="0.8" fill="#9fb078" opacity="0.75"/><rect x="35.19" y="295.3" width="0.8" height="0.8" fill="#7fa4ac" opacity="0.75"/><rect x="32.02" y="297.25" width="0.8" height="0.8" fill="#8db0b8" opacity="0.75"/><rect x="34.23" y="292.77" width="0.8" height="0.8" fill="#6f97a0" opacity="0.75"/><rect x="30.82" y="292.38" width="0.8" height="0.8" fill="#6f97a0" opacity="0.75"/><rect x="30.72" y="294.43" width="0.8" height="0.8" fill="#6f97a0" opacity="0.75"/><rect x="33.78" y="292.07" width="0.8" height="0.8" fill="#5f8a92" opacity="0.75"/><rect x="27.85" y="293.38" width="0.8" height="0.8" fill="#a9b87a" opacity="0.75"/><rect x="32.43" y="294.77" width="0.8" height="0.8" fill="#7fa4ac" opacity="0.75"/><rect x="33.69" y="296.78" width="0.8" height="0.8" fill="#6f97a0" opacity="0.75"/><rect x="33" y="291.57" width="0.8" height="0.8" fill="#5f8a92" opacity="0.75"/><rect x="30.64" y="293.8" width="0.8" height="0.8" fill="#5f8a92" opacity="0.75"/><rect x="29.95" y="293.02" width="0.8" height="0.8" fill="#5f8a92" opacity="0.75"/><rect x="30.94" y="295.35" width="0.8" height="0.8" fill="#6a8f8a" opacity="0.75"/><rect x="34.04" y="292.56" width="0.8" height="0.8" fill="#7fa4ac" opacity="0.75"/><rect x="27.12" y="300.35" width="0.8" height="0.8" fill="#a9b87a" opacity="0.75"/><rect x="34.47" y="294.48" width="0.8" height="0.8" fill="#8db0b8" opacity="0.75"/><rect x="30.46" y="292.42" width="0.8" height="0.8" fill="#8db0b8" opacity="0.75"/><rect x="28.59" y="293.63" width="0.8" height="0.8" fill="#8ea87a" opacity="0.75"/><rect x="33.14" y="296.23" width="0.8" height="0.8" fill="#8db0b8" opacity="0.75"/><rect x="37.16" y="292.64" width="0.8" height="0.8" fill="#5f8a92" opacity="0.75"/><rect x="31.45" y="294.65" width="0.8" height="0.8" fill="#5f8a92" opacity="0.75"/><rect x="32.01" y="292.36" width="0.8" height="0.8" fill="#5f8a92" opacity="0.75"/><rect x="26.32" y="292.77" width="0.8" height="0.8" fill="#b7c48c" opacity="0.75"/><rect x="32.23" y="298.35" width="0.8" height="0.8" fill="#8db0b8" opacity="0.75"/><rect x="35.7" y="293.92" width="0.8" height="0.8" fill="#7fa4ac" opacity="0.75"/><rect x="33.53" y="291.94" width="0.8" height="0.8" fill="#5f8a92" opacity="0.75"/><rect x="29.37" y="292.82" width="0.8" height="0.8" fill="#8db0b8" opacity="0.75"/><rect x="25.66" y="294.34" width="0.8" height="0.8" fill="#b7c48c" opacity="0.75"/><rect x="30.45" y="294.77" width="0.8" height="0.8" fill="#7fa4ac" opacity="0.75"/><rect x="30.14" y="293.25" width="0.8" height="0.8" fill="#6f97a0" opacity="0.75"/><rect x="32.59" y="295.52" width="0.8" height="0.8" fill="#6a8f8a" opacity="0.75"/><rect x="33.93" y="291.5" width="0.8" height="0.8" fill="#6f97a0" opacity="0.75"/><rect x="30.67" y="300.05" width="0.8" height="0.8" fill="#6f97a0" opacity="0.75"/><rect x="29.18" y="295.68" width="0.8" height="0.8" fill="#7fa4ac" opacity="0.75"/><rect x="31.08" y="294" width="0.8" height="0.8" fill="#5f8a92" opacity="0.75"/><rect x="28.2" y="300.85" width="0.8" height="0.8" fill="#9fb078" opacity="0.75"/><rect x="33.94" y="293.98" width="0.8" height="0.8" fill="#6a8f8a" opacity="0.75"/><rect x="31.88" y="298.06" width="0.8" height="0.8" fill="#5f8a92" opacity="0.75"/><rect x="30.88" y="304.24" width="0.8" height="0.8" fill="#6a8f8a" opacity="0.75"/><rect x="33.84" y="300.54" width="0.8" height="0.8" fill="#6a8f8a" opacity="0.75"/><rect x="33.73" y="293.98" width="0.8" height="0.8" fill="#6a8f8a" opacity="0.75"/><rect x="29.11" y="297.26" width="0.8" height="0.8" fill="#6f97a0" opacity="0.75"/><rect x="35.25" y="292.28" width="0.8" height="0.8" fill="#6a8f8a" opacity="0.75"/><rect x="35" y="294.42" width="0.8" height="0.8" fill="#5f8a92" opacity="0.75"/><rect x="28.22" y="303.53" width="0.8" height="0.8" fill="#a9b87a" opacity="0.75"/><rect x="29.02" y="292.91" width="0.8" height="0.8" fill="#8db0b8" opacity="0.75"/><rect x="33.24" y="293.21" width="0.8" height="0.8" fill="#6f97a0" opacity="0.75"/><rect x="33.72" y="293.85" width="0.8" height="0.8" fill="#6f97a0" opacity="0.75"/><rect x="32.45" y="296.65" width="0.8" height="0.8" fill="#6f97a0" opacity="0.75"/><rect x="34.59" y="297.59" width="0.8" height="0.8" fill="#6a8f8a" opacity="0.75"/><rect x="27.83" y="291.52" width="0.8" height="0.8" fill="#8ea87a" opacity="0.75"/><rect x="30.54" y="294.91" width="0.8" height="0.8" fill="#5f8a92" opacity="0.75"/><rect x="30.29" y="293.17" width="0.8" height="0.8" fill="#8db0b8" opacity="0.75"/><rect x="32.75" y="295.62" width="0.8" height="0.8" fill="#7fa4ac" opacity="0.75"/><rect x="34.74" y="295.24" width="0.8" height="0.8" fill="#6a8f8a" opacity="0.75"/><rect x="33.77" y="293.56" width="0.8" height="0.8" fill="#7fa4ac" opacity="0.75"/><rect x="30.55" y="297.81" width="0.8" height="0.8" fill="#7fa4ac" opacity="0.75"/><rect x="33.69" y="295.24" width="0.8" height="0.8" fill="#8db0b8" opacity="0.75"/><rect x="30.71" y="295.67" width="0.8" height="0.8" fill="#6f97a0" opacity="0.75"/><rect x="34.18" y="293.27" width="0.8" height="0.8" fill="#6a8f8a" opacity="0.75"/><rect x="30.89" y="295.1" width="0.8" height="0.8" fill="#8db0b8" opacity="0.75"/><rect x="32.53" y="299.18" width="0.8" height="0.8" fill="#5f8a92" opacity="0.75"/><rect x="31.15" y="298.57" width="0.8" height="0.8" fill="#6f97a0" opacity="0.75"/><rect x="36.53" y="296.91" width="0.8" height="0.8" fill="#6a8f8a" opacity="0.75"/><rect x="37.11" y="292.01" width="0.8" height="0.8" fill="#8db0b8" opacity="0.75"/><rect x="37.89" y="299.84" width="0.8" height="0.8" fill="#5f8a92" opacity="0.75"/><rect x="28.01" y="298.67" width="0.8" height="0.8" fill="#a9b87a" opacity="0.75"/><rect x="29.15" y="303.61" width="0.8" height="0.8" fill="#5f8a92" opacity="0.75"/><rect x="33.56" y="293.26" width="0.8" height="0.8" fill="#6a8f8a" opacity="0.75"/><rect x="30.83" y="295.02" width="0.8" height="0.8" fill="#8db0b8" opacity="0.75"/><rect x="36.01" y="294.5" width="0.8" height="0.8" fill="#8db0b8" opacity="0.75"/><rect x="31.92" y="298.02" width="0.8" height="0.8" fill="#8db0b8" opacity="0.75"/><rect x="32.02" y="301.69" width="0.8" height="0.8" fill="#5f8a92" opacity="0.75"/><rect x="32.11" y="293.21" width="0.8" height="0.8" fill="#7fa4ac" opacity="0.75"/><rect x="25.46" y="293.18" width="0.8" height="0.8" fill="#b7c48c" opacity="0.75"/><rect x="35.37" y="299.72" width="0.8" height="0.8" fill="#6f97a0" opacity="0.75"/><rect x="36.05" y="299.22" width="0.8" height="0.8" fill="#7fa4ac" opacity="0.75"/><rect x="30.55" y="295.96" width="0.8" height="0.8" fill="#6a8f8a" opacity="0.75"/><rect x="28.05" y="293.37" width="0.8" height="0.8" fill="#8ea87a" opacity="0.75"/><rect x="34.65" y="293.87" width="0.8" height="0.8" fill="#6f97a0" opacity="0.75"/><rect x="35.33" y="294.62" width="0.8" height="0.8" fill="#7fa4ac" opacity="0.75"/><rect x="33.78" y="299.3" width="0.8" height="0.8" fill="#8db0b8" opacity="0.75"/><rect x="32.88" y="302.11" width="0.8" height="0.8" fill="#5f8a92" opacity="0.75"/><rect x="34.79" y="292.56" width="0.8" height="0.8" fill="#6f97a0" opacity="0.75"/><rect x="35.12" y="296.55" width="0.8" height="0.8" fill="#8db0b8" opacity="0.75"/><rect x="36.21" y="297.28" width="0.8" height="0.8" fill="#6f97a0" opacity="0.75"/><rect x="27.45" y="293.7" width="0.8" height="0.8" fill="#8ea87a" opacity="0.75"/><rect x="32.4" y="291.52" width="0.8" height="0.8" fill="#7fa4ac" opacity="0.75"/><rect x="32.68" y="298.59" width="0.8" height="0.8" fill="#6a8f8a" opacity="0.75"/><rect x="28.93" y="295.92" width="0.8" height="0.8" fill="#b7c48c" opacity="0.75"/><rect x="30.57" y="292.2" width="0.8" height="0.8" fill="#7fa4ac" opacity="0.75"/><rect x="32.03" y="291.81" width="0.8" height="0.8" fill="#8db0b8" opacity="0.75"/><rect x="28.81" y="297.13" width="0.8" height="0.8" fill="#9fb078" opacity="0.75"/><rect x="28.02" y="300.54" width="0.8" height="0.8" fill="#9fb078" opacity="0.75"/><rect x="32.42" y="291.43" width="0.8" height="0.8" fill="#7fa4ac" opacity="0.75"/><rect x="38.04" y="294.01" width="0.8" height="0.8" fill="#5f8a92" opacity="0.75"/><rect x="30.45" y="292.25" width="0.8" height="0.8" fill="#5f8a92" opacity="0.75"/><rect x="31.45" y="294.51" width="0.8" height="0.8" fill="#7fa4ac" opacity="0.75"/><rect x="35.1" y="293.4" width="0.8" height="0.8" fill="#5f8a92" opacity="0.75"/><rect x="35.88" y="291.41" width="0.8" height="0.8" fill="#8db0b8" opacity="0.75"/><rect x="34.57" y="296.56" width="0.8" height="0.8" fill="#5f8a92" opacity="0.75"/><rect x="31.77" y="292.34" width="0.8" height="0.8" fill="#7fa4ac" opacity="0.75"/><rect x="33.35" y="292.92" width="0.8" height="0.8" fill="#7fa4ac" opacity="0.75"/><rect x="28.91" y="298.45" width="0.8" height="0.8" fill="#9fb078" opacity="0.75"/><rect x="28.35" y="291.55" width="0.8" height="0.8" fill="#9fb078" opacity="0.75"/><rect x="31.84" y="294.64" width="0.8" height="0.8" fill="#7fa4ac" opacity="0.75"/><rect x="35.47" y="295.62" width="0.8" height="0.8" fill="#6f97a0" opacity="0.75"/><rect x="28.93" y="298.97" width="0.8" height="0.8" fill="#8ea87a" opacity="0.75"/><rect x="37.11" y="295.25" width="0.8" height="0.8" fill="#8db0b8" opacity="0.75"/><rect x="25.15" y="300.28" width="0.8" height="0.8" fill="#8ea87a" opacity="0.75"/><rect x="37.2" y="298.6" width="0.8" height="0.8" fill="#5f8a92" opacity="0.75"/><rect x="34.87" y="291.87" width="0.8" height="0.8" fill="#6f97a0" opacity="0.75"/><rect x="36.61" y="294.23" width="0.8" height="0.8" fill="#8db0b8" opacity="0.75"/><rect x="28.21" y="291.44" width="0.8" height="0.8" fill="#9fb078" opacity="0.75"/><rect x="30.32" y="291.66" width="0.8" height="0.8" fill="#6f97a0" opacity="0.75"/><rect x="33.86" y="292.27" width="0.8" height="0.8" fill="#7fa4ac" opacity="0.75"/><rect x="33.01" y="293.87" width="0.8" height="0.8" fill="#8db0b8" opacity="0.75"/><rect x="34.22" y="292.86" width="0.8" height="0.8" fill="#6a8f8a" opacity="0.75"/><rect x="36.65" y="292.64" width="0.8" height="0.8" fill="#5f8a92" opacity="0.75"/><rect x="31.87" y="292.52" width="0.8" height="0.8" fill="#6f97a0" opacity="0.75"/><rect x="33.08" y="298.09" width="0.8" height="0.8" fill="#8db0b8" opacity="0.75"/><rect x="30.82" y="295.27" width="0.8" height="0.8" fill="#5f8a92" opacity="0.75"/><rect x="32.6" y="300.14" width="0.8" height="0.8" fill="#5f8a92" opacity="0.75"/><rect x="33.15" y="296.46" width="0.8" height="0.8" fill="#7fa4ac" opacity="0.75"/><rect x="27.59" y="292.34" width="0.8" height="0.8" fill="#9fb078" opacity="0.75"/><rect x="32.78" y="293.79" width="0.8" height="0.8" fill="#7fa4ac" opacity="0.75"/><rect x="30.26" y="296.04" width="0.8" height="0.8" fill="#8db0b8" opacity="0.75"/><rect x="36.37" y="291.59" width="0.8" height="0.8" fill="#7fa4ac" opacity="0.75"/><rect x="34.36" y="292.7" width="0.8" height="0.8" fill="#7fa4ac" opacity="0.75"/><rect x="34.11" y="294.26" width="0.8" height="0.8" fill="#6a8f8a" opacity="0.75"/><rect x="27.86" y="299.86" width="0.8" height="0.8" fill="#8ea87a" opacity="0.75"/><rect x="37.15" y="294.9" width="0.8" height="0.8" fill="#5f8a92" opacity="0.75"/><rect x="32.52" y="299.97" width="0.8" height="0.8" fill="#7fa4ac" opacity="0.75"/><rect x="34.69" y="294.83" width="0.8" height="0.8" fill="#8db0b8" opacity="0.75"/><rect x="33.61" y="303.23" width="0.8" height="0.8" fill="#5f8a92" opacity="0.75"/><rect x="32.68" y="292.84" width="0.8" height="0.8" fill="#6a8f8a" opacity="0.75"/><rect x="29.22" y="292.31" width="0.8" height="0.8" fill="#8db0b8" opacity="0.75"/><rect x="27.57" y="298.06" width="0.8" height="0.8" fill="#8ea87a" opacity="0.75"/><rect x="27.51" y="292.4" width="0.8" height="0.8" fill="#a9b87a" opacity="0.75"/><rect x="29.73" y="298.9" width="0.8" height="0.8" fill="#7fa4ac" opacity="0.75"/><rect x="34.47" y="293.85" width="0.8" height="0.8" fill="#6f97a0" opacity="0.75"/><rect x="36.46" y="292.93" width="0.8" height="0.8" fill="#6a8f8a" opacity="0.75"/><rect x="34.57" y="294.21" width="0.8" height="0.8" fill="#6f97a0" opacity="0.75"/><rect x="31.16" y="292.87" width="0.8" height="0.8" fill="#7fa4ac" opacity="0.75"/><rect x="32.33" y="300.84" width="0.8" height="0.8" fill="#6f97a0" opacity="0.75"/><rect x="25.59" y="292.27" width="0.8" height="0.8" fill="#a9b87a" opacity="0.75"/><rect x="33.26" y="295.97" width="0.8" height="0.8" fill="#5f8a92" opacity="0.75"/><rect x="31.8" y="291.9" width="0.8" height="0.8" fill="#8db0b8" opacity="0.75"/><rect x="28.27" y="295.67" width="0.8" height="0.8" fill="#8ea87a" opacity="0.75"/><rect x="29.88" y="296.65" width="0.8" height="0.8" fill="#7fa4ac" opacity="0.75"/><rect x="31.65" y="292.8" width="0.8" height="0.8" fill="#8db0b8" opacity="0.75"/><rect x="26.92" y="299.14" width="0.8" height="0.8" fill="#8ea87a" opacity="0.75"/><rect x="27.22" y="296.26" width="0.8" height="0.8" fill="#a9b87a" opacity="0.75"/><rect x="32.51" y="291.99" width="0.8" height="0.8" fill="#5f8a92" opacity="0.75"/><rect x="34.58" y="293.09" width="0.8" height="0.8" fill="#6a8f8a" opacity="0.75"/><rect x="31.42" y="293.16" width="0.8" height="0.8" fill="#6a8f8a" opacity="0.75"/><rect x="27.3" y="303.85" width="0.8" height="0.8" fill="#b7c48c" opacity="0.75"/><rect x="36.35" y="293.75" width="0.8" height="0.8" fill="#6a8f8a" opacity="0.75"/><rect x="36.25" y="299.04" width="0.8" height="0.8" fill="#6f97a0" opacity="0.75"/><rect x="26.72" y="291.97" width="0.8" height="0.8" fill="#8ea87a" opacity="0.75"/><rect x="36.83" y="297.05" width="0.8" height="0.8" fill="#8db0b8" opacity="0.75"/><rect x="34.93" y="299.26" width="0.8" height="0.8" fill="#5f8a92" opacity="0.75"/><rect x="36.41" y="296.15" width="0.8" height="0.8" fill="#5f8a92" opacity="0.75"/><rect x="26.03" y="295.26" width="0.8" height="0.8" fill="#9fb078" opacity="0.75"/><rect x="33.59" y="293.18" width="0.8" height="0.8" fill="#7fa4ac" opacity="0.75"/><rect x="35.6" y="299.89" width="0.8" height="0.8" fill="#6a8f8a" opacity="0.75"/><rect x="28.1" y="293.53" width="0.8" height="0.8" fill="#9fb078" opacity="0.75"/><rect x="31.9" y="294.14" width="0.8" height="0.8" fill="#6f97a0" opacity="0.75"/><rect x="32.65" y="295.72" width="0.8" height="0.8" fill="#6a8f8a" opacity="0.75"/><rect x="31.29" y="301.69" width="0.8" height="0.8" fill="#6f97a0" opacity="0.75"/><rect x="30.67" y="292.68" width="0.8" height="0.8" fill="#6f97a0" opacity="0.75"/><rect x="30.03" y="304.53" width="0.8" height="0.8" fill="#8db0b8" opacity="0.75"/><rect x="29.59" y="298.51" width="0.8" height="0.8" fill="#5f8a92" opacity="0.75"/><rect x="32.12" y="296.85" width="0.8" height="0.8" fill="#6a8f8a" opacity="0.75"/><rect x="35.45" y="296.54" width="0.8" height="0.8" fill="#6f97a0" opacity="0.75"/><rect x="34.84" y="292.5" width="0.8" height="0.8" fill="#7fa4ac" opacity="0.75"/><rect x="31.73" y="295.29" width="0.8" height="0.8" fill="#7fa4ac" opacity="0.75"/><rect x="29.92" y="291.46" width="0.8" height="0.8" fill="#5f8a92" opacity="0.75"/><rect x="30.85" y="295.15" width="0.8" height="0.8" fill="#6a8f8a" opacity="0.75"/><rect x="29.78" y="294.9" width="0.8" height="0.8" fill="#5f8a92" opacity="0.75"/><rect x="32.85" y="292.91" width="0.8" height="0.8" fill="#5f8a92" opacity="0.75"/><rect x="33.88" y="295.91" width="0.8" height="0.8" fill="#6f97a0" opacity="0.75"/><rect x="28.53" y="294.7" width="0.8" height="0.8" fill="#8ea87a" opacity="0.75"/><rect x="35.83" y="292.05" width="0.8" height="0.8" fill="#7fa4ac" opacity="0.75"/><rect x="27.21" y="296.81" width="0.8" height="0.8" fill="#b7c48c" opacity="0.75"/><rect x="30.32" y="297.84" width="0.8" height="0.8" fill="#6a8f8a" opacity="0.75"/><rect x="29.86" y="293.51" width="0.8" height="0.8" fill="#6f97a0" opacity="0.75"/><rect x="31.73" y="295.04" width="0.8" height="0.8" fill="#7fa4ac" opacity="0.75"/><rect x="34.8" y="295.47" width="0.8" height="0.8" fill="#6f97a0" opacity="0.75"/><rect x="28.59" y="297.12" width="0.8" height="0.8" fill="#9fb078" opacity="0.75"/><rect x="27.13" y="295.35" width="0.8" height="0.8" fill="#b7c48c" opacity="0.75"/><rect x="29.14" y="292.49" width="0.8" height="0.8" fill="#6a8f8a" opacity="0.75"/><rect x="34.47" y="295.08" width="0.8" height="0.8" fill="#5f8a92" opacity="0.75"/><rect x="35.15" y="293.55" width="0.8" height="0.8" fill="#7fa4ac" opacity="0.75"/><rect x="29.74" y="296.06" width="0.8" height="0.8" fill="#7fa4ac" opacity="0.75"/><rect x="28.08" y="297.14" width="0.8" height="0.8" fill="#8ea87a" opacity="0.75"/><rect x="27.77" y="292.55" width="0.8" height="0.8" fill="#a9b87a" opacity="0.75"/><rect x="34.98" y="292.89" width="0.8" height="0.8" fill="#6a8f8a" opacity="0.75"/><rect x="28.33" y="293.88" width="0.8" height="0.8" fill="#9fb078" opacity="0.75"/><rect x="31.95" y="293.38" width="0.8" height="0.8" fill="#7fa4ac" opacity="0.75"/><rect x="32.13" y="306.17" width="0.8" height="0.8" fill="#6f97a0" opacity="0.75"/><rect x="31.16" y="295.7" width="0.8" height="0.8" fill="#8db0b8" opacity="0.75"/><rect x="26.49" y="293.31" width="0.8" height="0.8" fill="#b7c48c" opacity="0.75"/><rect x="33.85" y="295.34" width="0.8" height="0.8" fill="#6f97a0" opacity="0.75"/><rect x="32.26" y="294.63" width="0.8" height="0.8" fill="#5f8a92" opacity="0.75"/><rect x="32.18" y="293.58" width="0.8" height="0.8" fill="#7fa4ac" opacity="0.75"/><rect x="32.48" y="296.01" width="0.8" height="0.8" fill="#5f8a92" opacity="0.75"/><rect x="28.97" y="294.03" width="0.8" height="0.8" fill="#8ea87a" opacity="0.75"/><rect x="28.29" y="292.28" width="0.8" height="0.8" fill="#b7c48c" opacity="0.75"/><rect x="34.5" y="293.58" width="0.8" height="0.8" fill="#5f8a92" opacity="0.75"/><rect x="32.96" y="295.48" width="0.8" height="0.8" fill="#6f97a0" opacity="0.75"/><rect x="28.64" y="300.42" width="0.8" height="0.8" fill="#9fb078" opacity="0.75"/><rect x="31.05" y="291.94" width="0.8" height="0.8" fill="#6f97a0" opacity="0.75"/><rect x="37.28" y="293.05" width="0.8" height="0.8" fill="#8db0b8" opacity="0.75"/><rect x="28.24" y="291.58" width="0.8" height="0.8" fill="#9fb078" opacity="0.75"/><rect x="33.82" y="295.72" width="0.8" height="0.8" fill="#6a8f8a" opacity="0.75"/><rect x="35.44" y="296.86" width="0.8" height="0.8" fill="#8db0b8" opacity="0.75"/><rect x="29.71" y="292.4" width="0.8" height="0.8" fill="#6a8f8a" opacity="0.75"/><rect x="29.36" y="296.35" width="0.8" height="0.8" fill="#7fa4ac" opacity="0.75"/><rect x="28.87" y="291.55" width="0.8" height="0.8" fill="#9fb078" opacity="0.75"/><rect x="27.23" y="299.43" width="0.8" height="0.8" fill="#a9b87a" opacity="0.75"/><rect x="34.01" y="293.63" width="0.8" height="0.8" fill="#8db0b8" opacity="0.75"/><rect x="33.18" y="295.84" width="0.8" height="0.8" fill="#7fa4ac" opacity="0.75"/><rect x="33.88" y="292.75" width="0.8" height="0.8" fill="#8db0b8" opacity="0.75"/><rect x="33.95" y="294.94" width="0.8" height="0.8" fill="#8db0b8" opacity="0.75"/><rect x="32.82" y="291.58" width="0.8" height="0.8" fill="#8db0b8" opacity="0.75"/><rect x="32.52" y="291.78" width="0.8" height="0.8" fill="#8db0b8" opacity="0.75"/><rect x="34.71" y="292.44" width="0.8" height="0.8" fill="#5f8a92" opacity="0.75"/><rect x="35.11" y="296.84" width="0.8" height="0.8" fill="#8db0b8" opacity="0.75"/><rect x="28.61" y="295.07" width="0.8" height="0.8" fill="#a9b87a" opacity="0.75"/><rect x="35.03" y="295.23" width="0.8" height="0.8" fill="#6a8f8a" opacity="0.75"/><rect x="32.87" y="298.28" width="0.8" height="0.8" fill="#6f97a0" opacity="0.75"/><rect x="36.32" y="293.2" width="0.8" height="0.8" fill="#7fa4ac" opacity="0.75"/><rect x="34.82" y="293.07" width="0.8" height="0.8" fill="#6a8f8a" opacity="0.75"/><rect x="35.97" y="291.52" width="0.8" height="0.8" fill="#5f8a92" opacity="0.75"/><rect x="26.77" y="297.71" width="0.8" height="0.8" fill="#a9b87a" opacity="0.75"/><rect x="29.85" y="294.2" width="0.8" height="0.8" fill="#8db0b8" opacity="0.75"/><rect x="30.91" y="294.73" width="0.8" height="0.8" fill="#5f8a92" opacity="0.75"/><rect x="27.82" y="299.66" width="0.8" height="0.8" fill="#b7c48c" opacity="0.75"/><rect x="33.61" y="291.46" width="0.8" height="0.8" fill="#6a8f8a" opacity="0.75"/><rect x="30.78" y="295.82" width="0.8" height="0.8" fill="#8db0b8" opacity="0.75"/><rect x="29.18" y="302.63" width="0.8" height="0.8" fill="#5f8a92" opacity="0.75"/><rect x="33.48" y="291.56" width="0.8" height="0.8" fill="#6a8f8a" opacity="0.75"/><rect x="32.84" y="291.98" width="0.8" height="0.8" fill="#5f8a92" opacity="0.75"/><rect x="32" y="292.64" width="0.8" height="0.8" fill="#7fa4ac" opacity="0.75"/><rect x="34.09" y="293.81" width="0.8" height="0.8" fill="#7fa4ac" opacity="0.75"/><rect x="28.74" y="293.26" width="0.8" height="0.8" fill="#a9b87a" opacity="0.75"/><rect x="33.79" y="297.86" width="0.8" height="0.8" fill="#6a8f8a" opacity="0.75"/><rect x="32.96" y="299.23" width="0.8" height="0.8" fill="#6f97a0" opacity="0.75"/><rect x="30.53" y="301.01" width="0.8" height="0.8" fill="#7fa4ac" opacity="0.75"/><rect x="30.67" y="293.59" width="0.8" height="0.8" fill="#7fa4ac" opacity="0.75"/><rect x="33.38" y="296.83" width="0.8" height="0.8" fill="#8db0b8" opacity="0.75"/><rect x="30.29" y="297.94" width="0.8" height="0.8" fill="#6a8f8a" opacity="0.75"/><rect x="34.55" y="300.23" width="0.8" height="0.8" fill="#7fa4ac" opacity="0.75"/><rect x="31.14" y="294.17" width="0.8" height="0.8" fill="#6a8f8a" opacity="0.75"/><rect x="36.42" y="297.84" width="0.8" height="0.8" fill="#6f97a0" opacity="0.75"/><rect x="30.19" y="296.35" width="0.8" height="0.8" fill="#7fa4ac" opacity="0.75"/><rect x="33.65" y="296.86" width="0.8" height="0.8" fill="#6f97a0" opacity="0.75"/><rect x="29.01" y="293.88" width="0.8" height="0.8" fill="#5f8a92" opacity="0.75"/><rect x="33.63" y="293" width="0.8" height="0.8" fill="#6a8f8a" opacity="0.75"/><rect x="31.57" y="291.87" width="0.8" height="0.8" fill="#6f97a0" opacity="0.75"/><rect x="32.97" y="296.44" width="0.8" height="0.8" fill="#7fa4ac" opacity="0.75"/><rect x="33.46" y="292.5" width="0.8" height="0.8" fill="#5f8a92" opacity="0.75"/><rect x="31.67" y="292.79" width="0.8" height="0.8" fill="#6f97a0" opacity="0.75"/><rect x="36.54" y="293.99" width="0.8" height="0.8" fill="#5f8a92" opacity="0.75"/><rect x="34.28" y="293.13" width="0.8" height="0.8" fill="#5f8a92" opacity="0.75"/><rect x="35.7" y="291.95" width="0.8" height="0.8" fill="#7fa4ac" opacity="0.75"/><rect x="31.99" y="291.47" width="0.8" height="0.8" fill="#6a8f8a" opacity="0.75"/><rect x="35.95" y="292.16" width="0.8" height="0.8" fill="#6a8f8a" opacity="0.75"/><rect x="33.86" y="302.44" width="0.8" height="0.8" fill="#8db0b8" opacity="0.75"/><rect x="30.49" y="295.47" width="0.8" height="0.8" fill="#6f97a0" opacity="0.75"/><rect x="27.31" y="296.4" width="0.8" height="0.8" fill="#9fb078" opacity="0.75"/><rect x="29.4" y="292.4" width="0.8" height="0.8" fill="#6f97a0" opacity="0.75"/><rect x="26.22" y="302.69" width="0.8" height="0.8" fill="#9fb078" opacity="0.75"/><rect x="32.09" y="295.14" width="0.8" height="0.8" fill="#6a8f8a" opacity="0.75"/><rect x="33.6" y="298.56" width="0.8" height="0.8" fill="#6a8f8a" opacity="0.75"/><rect x="29.61" y="291.71" width="0.8" height="0.8" fill="#7fa4ac" opacity="0.75"/><rect x="27.78" y="302.65" width="0.8" height="0.8" fill="#8ea87a" opacity="0.75"/><rect x="34.34" y="302.79" width="0.8" height="0.8" fill="#6f97a0" opacity="0.75"/><rect x="31.75" y="301.57" width="0.8" height="0.8" fill="#6f97a0" opacity="0.75"/><rect x="34.54" y="295.68" width="0.8" height="0.8" fill="#8db0b8" opacity="0.75"/><rect x="29.62" y="295.29" width="0.8" height="0.8" fill="#6f97a0" opacity="0.75"/><rect x="28.87" y="291.48" width="0.8" height="0.8" fill="#b7c48c" opacity="0.75"/><rect x="34.31" y="292.04" width="0.8" height="0.8" fill="#8db0b8" opacity="0.75"/><rect x="34.13" y="297.72" width="0.8" height="0.8" fill="#6a8f8a" opacity="0.75"/><rect x="37.19" y="294.65" width="0.8" height="0.8" fill="#5f8a92" opacity="0.75"/><rect x="28.22" y="302.42" width="0.8" height="0.8" fill="#a9b87a" opacity="0.75"/><rect x="29.54" y="299.33" width="0.8" height="0.8" fill="#5f8a92" opacity="0.75"/><rect x="36.67" y="296.81" width="0.8" height="0.8" fill="#7fa4ac" opacity="0.75"/><rect x="29.83" y="296.59" width="0.8" height="0.8" fill="#8db0b8" opacity="0.75"/><rect x="36.13" y="295.76" width="0.8" height="0.8" fill="#6a8f8a" opacity="0.75"/><rect x="32.55" y="295.53" width="0.8" height="0.8" fill="#6f97a0" opacity="0.75"/><rect x="32.29" y="297.94" width="0.8" height="0.8" fill="#5f8a92" opacity="0.75"/><rect x="33.32" y="292.62" width="0.8" height="0.8" fill="#6a8f8a" opacity="0.75"/><rect x="33.43" y="294.63" width="0.8" height="0.8" fill="#6a8f8a" opacity="0.75"/><rect x="36.17" y="292.12" width="0.8" height="0.8" fill="#6f97a0" opacity="0.75"/><rect x="33.69" y="292.32" width="0.8" height="0.8" fill="#5f8a92" opacity="0.75"/><rect x="31.47" y="292.16" width="0.8" height="0.8" fill="#6f97a0" opacity="0.75"/><rect x="29.1" y="292.34" width="0.8" height="0.8" fill="#6f97a0" opacity="0.75"/><rect x="34.21" y="291.55" width="0.8" height="0.8" fill="#6a8f8a" opacity="0.75"/><rect x="34.7" y="293.24" width="0.8" height="0.8" fill="#5f8a92" opacity="0.75"/><rect x="35.17" y="295.86" width="0.8" height="0.8" fill="#6f97a0" opacity="0.75"/><rect x="35.8" y="300.94" width="0.8" height="0.8" fill="#8db0b8" opacity="0.75"/><rect x="28.61" y="292.07" width="0.8" height="0.8" fill="#a9b87a" opacity="0.75"/><rect x="36.74" y="293.74" width="0.8" height="0.8" fill="#6f97a0" opacity="0.75"/><rect x="35.24" y="294.19" width="0.8" height="0.8" fill="#6f97a0" opacity="0.75"/><rect x="29.01" y="294.43" width="0.8" height="0.8" fill="#5f8a92" opacity="0.75"/><rect x="30.98" y="293.41" width="0.8" height="0.8" fill="#7fa4ac" opacity="0.75"/><rect x="30.58" y="294.73" width="0.8" height="0.8" fill="#7fa4ac" opacity="0.75"/><rect x="27.43" y="292.08" width="0.8" height="0.8" fill="#8ea87a" opacity="0.75"/><rect x="35.5" y="302.36" width="0.8" height="0.8" fill="#6a8f8a" opacity="0.75"/><rect x="34.57" y="291.71" width="0.8" height="0.8" fill="#6a8f8a" opacity="0.75"/><rect x="34.79" y="292.62" width="0.8" height="0.8" fill="#7fa4ac" opacity="0.75"/><rect x="32.55" y="297.57" width="0.8" height="0.8" fill="#6f97a0" opacity="0.75"/><rect x="33.36" y="293.32" width="0.8" height="0.8" fill="#7fa4ac" opacity="0.75"/><rect x="29.55" y="294.76" width="0.8" height="0.8" fill="#6f97a0" opacity="0.75"/><rect x="25.73" y="291.43" width="0.8" height="0.8" fill="#8ea87a" opacity="0.75"/><rect x="28.41" y="294.55" width="0.8" height="0.8" fill="#8ea87a" opacity="0.75"/><rect x="33.49" y="300.19" width="0.8" height="0.8" fill="#6a8f8a" opacity="0.75"/><rect x="30.63" y="295.23" width="0.8" height="0.8" fill="#5f8a92" opacity="0.75"/><rect x="36.56" y="292.81" width="0.8" height="0.8" fill="#5f8a92" opacity="0.75"/><rect x="32.78" y="296.88" width="0.8" height="0.8" fill="#6f97a0" opacity="0.75"/><rect x="32.72" y="295.93" width="0.8" height="0.8" fill="#6a8f8a" opacity="0.75"/><rect x="34.9" y="294.65" width="0.8" height="0.8" fill="#8db0b8" opacity="0.75"/><rect x="36.42" y="294.78" width="0.8" height="0.8" fill="#6f97a0" opacity="0.75"/><rect x="32.16" y="294.34" width="0.8" height="0.8" fill="#7fa4ac" opacity="0.75"/><rect x="30.65" y="295.23" width="0.8" height="0.8" fill="#6a8f8a" opacity="0.75"/><rect x="32.8" y="298.93" width="0.8" height="0.8" fill="#5f8a92" opacity="0.75"/><rect x="36.65" y="298.54" width="0.8" height="0.8" fill="#5f8a92" opacity="0.75"/><rect x="33.04" y="291.64" width="0.8" height="0.8" fill="#6f97a0" opacity="0.75"/><rect x="31.51" y="299.76" width="0.8" height="0.8" fill="#7fa4ac" opacity="0.75"/><rect x="32.96" y="295.09" width="0.8" height="0.8" fill="#6a8f8a" opacity="0.75"/><rect x="34.54" y="295.43" width="0.8" height="0.8" fill="#5f8a92" opacity="0.75"/><rect x="32.5" y="292.84" width="0.8" height="0.8" fill="#5f8a92" opacity="0.75"/><rect x="28.91" y="294.98" width="0.8" height="0.8" fill="#8ea87a" opacity="0.75"/><rect x="33.84" y="293.36" width="0.8" height="0.8" fill="#7fa4ac" opacity="0.75"/><rect x="31.05" y="297.02" width="0.8" height="0.8" fill="#6a8f8a" opacity="0.75"/><rect x="29.33" y="293.5" width="0.8" height="0.8" fill="#7fa4ac" opacity="0.75"/><rect x="33.56" y="294.53" width="0.8" height="0.8" fill="#7fa4ac" opacity="0.75"/><rect x="29.42" y="292.93" width="0.8" height="0.8" fill="#6f97a0" opacity="0.75"/><rect x="29.47" y="294.26" width="0.8" height="0.8" fill="#6f97a0" opacity="0.75"/><rect x="29.87" y="293.05" width="0.8" height="0.8" fill="#7fa4ac" opacity="0.75"/><rect x="34.47" y="293.7" width="0.8" height="0.8" fill="#8db0b8" opacity="0.75"/><rect x="30.77" y="299.91" width="0.8" height="0.8" fill="#7fa4ac" opacity="0.75"/><rect x="30.01" y="298.38" width="0.8" height="0.8" fill="#8db0b8" opacity="0.75"/><rect x="32.51" y="301.18" width="0.8" height="0.8" fill="#8db0b8" opacity="0.75"/><rect x="34.18" y="292.18" width="0.8" height="0.8" fill="#6a8f8a" opacity="0.75"/><rect x="37.42" y="291.7" width="0.8" height="0.8" fill="#7fa4ac" opacity="0.75"/><rect x="33.56" y="292.41" width="0.8" height="0.8" fill="#8db0b8" opacity="0.75"/><rect x="25.82" y="291.87" width="0.8" height="0.8" fill="#8ea87a" opacity="0.75"/><rect x="35.44" y="301.18" width="0.8" height="0.8" fill="#6a8f8a" opacity="0.75"/><rect x="35.51" y="294.47" width="0.8" height="0.8" fill="#8db0b8" opacity="0.75"/><rect x="32.25" y="297.87" width="0.8" height="0.8" fill="#7fa4ac" opacity="0.75"/><rect x="33.74" y="295.66" width="0.8" height="0.8" fill="#8db0b8" opacity="0.75"/><rect x="34.33" y="294.41" width="0.8" height="0.8" fill="#5f8a92" opacity="0.75"/><rect x="30.51" y="296.29" width="0.8" height="0.8" fill="#6a8f8a" opacity="0.75"/><rect x="35.57" y="293.95" width="0.8" height="0.8" fill="#6a8f8a" opacity="0.75"/><rect x="34.06" y="294.28" width="0.8" height="0.8" fill="#7fa4ac" opacity="0.75"/><rect x="34.83" y="292.75" width="0.8" height="0.8" fill="#8db0b8" opacity="0.75"/><rect x="35.3" y="293.39" width="0.8" height="0.8" fill="#7fa4ac" opacity="0.75"/><rect x="33.13" y="292.69" width="0.8" height="0.8" fill="#5f8a92" opacity="0.75"/><rect x="34.35" y="294.58" width="0.8" height="0.8" fill="#7fa4ac" opacity="0.75"/><rect x="28.5" y="292.41" width="0.8" height="0.8" fill="#8ea87a" opacity="0.75"/><rect x="33.11" y="292.62" width="0.8" height="0.8" fill="#7fa4ac" opacity="0.75"/><rect x="32.96" y="297.26" width="0.8" height="0.8" fill="#8db0b8" opacity="0.75"/><rect x="34.54" y="306.07" width="0.8" height="0.8" fill="#5f8a92" opacity="0.75"/><rect x="31.91" y="295.47" width="0.8" height="0.8" fill="#6f97a0" opacity="0.75"/><rect x="34.44" y="296.77" width="0.8" height="0.8" fill="#7fa4ac" opacity="0.75"/><rect x="30.77" y="296.08" width="0.8" height="0.8" fill="#8db0b8" opacity="0.75"/><rect x="27.73" y="301.3" width="0.8" height="0.8" fill="#b7c48c" opacity="0.75"/><rect x="33.4" y="296.46" width="0.8" height="0.8" fill="#6f97a0" opacity="0.75"/><rect x="30.22" y="292.04" width="0.8" height="0.8" fill="#6a8f8a" opacity="0.75"/><rect x="37.18" y="303.24" width="0.8" height="0.8" fill="#8db0b8" opacity="0.75"/><rect x="32.49" y="297.29" width="0.8" height="0.8" fill="#6f97a0" opacity="0.75"/><rect x="35.1" y="301.29" width="0.8" height="0.8" fill="#5f8a92" opacity="0.75"/><rect x="32.55" y="294.71" width="0.8" height="0.8" fill="#5f8a92" opacity="0.75"/><rect x="31.55" y="292.76" width="0.8" height="0.8" fill="#8db0b8" opacity="0.75"/><rect x="32.54" y="293.13" width="0.8" height="0.8" fill="#5f8a92" opacity="0.75"/><rect x="34.84" y="297.46" width="0.8" height="0.8" fill="#8db0b8" opacity="0.75"/><rect x="31.57" y="293.73" width="0.8" height="0.8" fill="#8db0b8" opacity="0.75"/><rect x="34.14" y="294.58" width="0.8" height="0.8" fill="#8db0b8" opacity="0.75"/><rect x="34.08" y="300.39" width="0.8" height="0.8" fill="#7fa4ac" opacity="0.75"/><rect x="31.6" y="292.45" width="0.8" height="0.8" fill="#7fa4ac" opacity="0.75"/><rect x="31.24" y="298.36" width="0.8" height="0.8" fill="#6f97a0" opacity="0.75"/><rect x="33.95" y="292.06" width="0.8" height="0.8" fill="#7fa4ac" opacity="0.75"/><rect x="29.31" y="293.02" width="0.8" height="0.8" fill="#6f97a0" opacity="0.75"/><rect x="35.27" y="296.06" width="0.8" height="0.8" fill="#7fa4ac" opacity="0.75"/><rect x="34.88" y="297.39" width="0.8" height="0.8" fill="#6a8f8a" opacity="0.75"/><rect x="26.35" y="298.68" width="0.8" height="0.8" fill="#a9b87a" opacity="0.75"/><rect x="30.05" y="295.14" width="0.8" height="0.8" fill="#6a8f8a" opacity="0.75"/><rect x="28.51" y="293.22" width="0.8" height="0.8" fill="#9fb078" opacity="0.75"/><rect x="35.52" y="293.56" width="0.8" height="0.8" fill="#5f8a92" opacity="0.75"/><rect x="30.03" y="296.44" width="0.8" height="0.8" fill="#8db0b8" opacity="0.75"/><rect x="34.94" y="296.59" width="0.8" height="0.8" fill="#6a8f8a" opacity="0.75"/><rect x="37.32" y="300.56" width="0.8" height="0.8" fill="#6f97a0" opacity="0.75"/><rect x="34.01" y="298.32" width="0.8" height="0.8" fill="#7fa4ac" opacity="0.75"/><rect x="29.9" y="296.85" width="0.8" height="0.8" fill="#5f8a92" opacity="0.75"/><rect x="33.03" y="291.67" width="0.8" height="0.8" fill="#6f97a0" opacity="0.75"/><rect x="33.21" y="296.77" width="0.8" height="0.8" fill="#7fa4ac" opacity="0.75"/></g><rect x="19.5" y="277.2" width="46.9" height="47" fill="none" stroke="#333" stroke-width="0.6"/><rect x="19.8" y="277.5" width="46.3" height="13.6" fill="none" stroke="#111" stroke-width="0.9"/><text x="21.7" y="283.4" font-size="5.6" fill="#222" stroke="#222">TUNEL positive</text><text x="46" y="289.4" font-size="5.6" fill="#222" stroke="#222" text-anchor="middle">3.85</text><text x="19.1" y="279.3" font-size="5.4" fill="#444" stroke="#444" text-anchor="end">10<tspan font-size="3.24" dy="-2">5</tspan></text><text x="19.1" y="296.8" font-size="5.4" fill="#444" stroke="#444" text-anchor="end">10<tspan font-size="3.24" dy="-2">4</tspan></text><text x="19.1" y="315.6" font-size="5.4" fill="#444" stroke="#444" text-anchor="end">10<tspan font-size="3.24" dy="-2">3</tspan></text><text x="20.6" y="330.1" font-size="5.4" fill="#444" stroke="#444" text-anchor="middle">0</text><text x="37.5" y="330.1" font-size="5.4" fill="#444" stroke="#444" text-anchor="middle">100K</text><text x="55" y="330.1" font-size="5.4" fill="#444" stroke="#444" text-anchor="middle">200K</text><text x="98.65" y="274.5" font-size="5.6" fill="#e8434b" stroke="#e8434b" text-anchor="middle">Elimusertib</text><g filter="url(#sb)"><rect x="80.35" y="296.14" width="0.8" height="0.8" fill="#b0c2ca" opacity="0.7"/><rect x="86.54" y="291.48" width="0.8" height="0.8" fill="#b0c2ca" opacity="0.7"/><rect x="94.38" y="295.92" width="0.8" height="0.8" fill="#9db2bc" opacity="0.7"/><rect x="82.22" y="291.47" width="0.8" height="0.8" fill="#8aa2ae" opacity="0.7"/><rect x="90.45" y="295.27" width="0.8" height="0.8" fill="#94aab6" opacity="0.7"/><rect x="84.17" y="291.47" width="0.8" height="0.8" fill="#b0c2ca" opacity="0.7"/><rect x="84.66" y="295.23" width="0.8" height="0.8" fill="#8aa2ae" opacity="0.7"/><rect x="90.12" y="295.85" width="0.8" height="0.8" fill="#8aa2ae" opacity="0.7"/><rect x="89.66" y="291.61" width="0.8" height="0.8" fill="#7b95a2" opacity="0.7"/><rect x="88.97" y="293.56" width="0.8" height="0.8" fill="#b0c2ca" opacity="0.7"/><rect x="78" y="292.47" width="0.8" height="0.8" fill="#8aa2ae" opacity="0.7"/><rect x="89.34" y="296.65" width="0.8" height="0.8" fill="#9db2bc" opacity="0.7"/><rect x="83.15" y="300.18" width="0.8" height="0.8" fill="#7b95a2" opacity="0.7"/><rect x="83.68" y="298.98" width="0.8" height="0.8" fill="#94aab6" opacity="0.7"/><rect x="88.63" y="294.95" width="0.8" height="0.8" fill="#b0c2ca" opacity="0.7"/><rect x="86.2" y="294.72" width="0.8" height="0.8" fill="#8aa2ae" opacity="0.7"/><rect x="90.05" y="295.24" width="0.8" height="0.8" fill="#b0c2ca" opacity="0.7"/><rect x="83.53" y="294.9" width="0.8" height="0.8" fill="#7b95a2" opacity="0.7"/><rect x="91.28" y="294.82" width="0.8" height="0.8" fill="#9db2bc" opacity="0.7"/><rect x="83.4" y="299.01" width="0.8" height="0.8" fill="#7b95a2" opacity="0.7"/><rect x="90.89" y="299.08" width="0.8" height="0.8" fill="#9db2bc" opacity="0.7"/><rect x="82.37" y="295.21" width="0.8" height="0.8" fill="#8aa2ae" opacity="0.7"/><rect x="83.29" y="295.32" width="0.8" height="0.8" fill="#b0c2ca" opacity="0.7"/><rect x="86.73" y="291.87" width="0.8" height="0.8" fill="#7b95a2" opacity="0.7"/><rect x="89.35" y="292.41" width="0.8" height="0.8" fill="#b0c2ca" opacity="0.7"/><rect x="82.75" y="296.21" width="0.8" height="0.8" fill="#94aab6" opacity="0.7"/><rect x="93.77" y="295.24" width="0.8" height="0.8" fill="#94aab6" opacity="0.7"/><rect x="92.53" y="297.61" width="0.8" height="0.8" fill="#94aab6" opacity="0.7"/><rect x="89.62" y="292.92" width="0.8" height="0.8" fill="#8aa2ae" opacity="0.7"/><rect x="85.55" y="296.39" width="0.8" height="0.8" fill="#9db2bc" opacity="0.7"/><rect x="90.64" y="293.36" width="0.8" height="0.8" fill="#8aa2ae" opacity="0.7"/><rect x="86.25" y="292.53" width="0.8" height="0.8" fill="#8aa2ae" opacity="0.7"/><rect x="82.14" y="298.5" width="0.8" height="0.8" fill="#7b95a2" opacity="0.7"/><rect x="84.77" y="292.93" width="0.8" height="0.8" fill="#7b95a2" opacity="0.7"/><rect x="88.7" y="292.66" width="0.8" height="0.8" fill="#8aa2ae" opacity="0.7"/><rect x="81.96" y="294.54" width="0.8" height="0.8" fill="#8aa2ae" opacity="0.7"/><rect x="82.37" y="291.49" width="0.8" height="0.8" fill="#8aa2ae" opacity="0.7"/><rect x="88.95" y="296.78" width="0.8" height="0.8" fill="#b0c2ca" opacity="0.7"/><rect x="87.44" y="291.69" width="0.8" height="0.8" fill="#b0c2ca" opacity="0.7"/><rect x="86.7" y="293.94" width="0.8" height="0.8" fill="#b0c2ca" opacity="0.7"/><rect x="86.3" y="292.05" width="0.8" height="0.8" fill="#b0c2ca" opacity="0.7"/><rect x="88.85" y="294.3" width="0.8" height="0.8" fill="#8aa2ae" opacity="0.7"/><rect x="87.61" y="291.72" width="0.8" height="0.8" fill="#8aa2ae" opacity="0.7"/><rect x="97.66" y="292.26" width="0.8" height="0.8" fill="#9db2bc" opacity="0.7"/><rect x="89.92" y="293.4" width="0.8" height="0.8" fill="#8aa2ae" opacity="0.7"/><rect x="87.21" y="298.06" width="0.8" height="0.8" fill="#b0c2ca" opacity="0.7"/><rect x="87.88" y="294.73" width="0.8" height="0.8" fill="#8aa2ae" opacity="0.7"/><rect x="82.9" y="297.84" width="0.8" height="0.8" fill="#9db2bc" opacity="0.7"/><rect x="87.94" y="293.56" width="0.8" height="0.8" fill="#94aab6" opacity="0.7"/><rect x="86.85" y="296.99" width="0.8" height="0.8" fill="#7b95a2" opacity="0.7"/><rect x="89.55" y="292.28" width="0.8" height="0.8" fill="#8aa2ae" opacity="0.7"/><rect x="89.02" y="291.46" width="0.8" height="0.8" fill="#94aab6" opacity="0.7"/><rect x="91.84" y="293.55" width="0.8" height="0.8" fill="#94aab6" opacity="0.7"/><rect x="93" y="300.32" width="0.8" height="0.8" fill="#b0c2ca" opacity="0.7"/><rect x="84.96" y="294.27" width="0.8" height="0.8" fill="#94aab6" opacity="0.7"/><rect x="87.45" y="297.2" width="0.8" height="0.8" fill="#9db2bc" opacity="0.7"/><rect x="93.46" y="298.74" width="0.8" height="0.8" fill="#7b95a2" opacity="0.7"/><rect x="90.95" y="292.29" width="0.8" height="0.8" fill="#b0c2ca" opacity="0.7"/><rect x="79.96" y="292.7" width="0.8" height="0.8" fill="#b0c2ca" opacity="0.7"/><rect x="96.11" y="294.49" width="0.8" height="0.8" fill="#94aab6" opacity="0.7"/><rect x="86.24" y="295.04" width="0.8" height="0.8" fill="#94aab6" opacity="0.7"/><rect x="95.58" y="292.72" width="0.8" height="0.8" fill="#94aab6" opacity="0.7"/><rect x="84.97" y="297.57" width="0.8" height="0.8" fill="#8aa2ae" opacity="0.7"/><rect x="91.38" y="297.55" width="0.8" height="0.8" fill="#7b95a2" opacity="0.7"/><rect x="76.88" y="298.62" width="0.8" height="0.8" fill="#9db2bc" opacity="0.7"/><rect x="82.99" y="296.93" width="0.8" height="0.8" fill="#94aab6" opacity="0.7"/><rect x="88.67" y="295.17" width="0.8" height="0.8" fill="#b0c2ca" opacity="0.7"/><rect x="88.14" y="291.7" width="0.8" height="0.8" fill="#7b95a2" opacity="0.7"/><rect x="87.88" y="294.42" width="0.8" height="0.8" fill="#8aa2ae" opacity="0.7"/><rect x="87.57" y="294.18" width="0.8" height="0.8" fill="#94aab6" opacity="0.7"/><rect x="96.08" y="302.69" width="0.8" height="0.8" fill="#94aab6" opacity="0.7"/><rect x="83.96" y="301.95" width="0.8" height="0.8" fill="#7b95a2" opacity="0.7"/><rect x="82.36" y="292.8" width="0.8" height="0.8" fill="#b0c2ca" opacity="0.7"/><rect x="89.14" y="294.72" width="0.8" height="0.8" fill="#9db2bc" opacity="0.7"/><rect x="87.6" y="293.07" width="0.8" height="0.8" fill="#b0c2ca" opacity="0.7"/><rect x="85.01" y="292.16" width="0.8" height="0.8" fill="#7b95a2" opacity="0.7"/><rect x="87.64" y="291.77" width="0.8" height="0.8" fill="#b0c2ca" opacity="0.7"/><rect x="86.21" y="291.96" width="0.8" height="0.8" fill="#7b95a2" opacity="0.7"/><rect x="88.69" y="295.15" width="0.8" height="0.8" fill="#94aab6" opacity="0.7"/><rect x="84.51" y="291.93" width="0.8" height="0.8" fill="#94aab6" opacity="0.7"/><rect x="85.74" y="296.97" width="0.8" height="0.8" fill="#9db2bc" opacity="0.7"/><rect x="89.37" y="294.55" width="0.8" height="0.8" fill="#9db2bc" opacity="0.7"/><rect x="89.57" y="295.44" width="0.8" height="0.8" fill="#94aab6" opacity="0.7"/><rect x="83.72" y="293.48" width="0.8" height="0.8" fill="#94aab6" opacity="0.7"/><rect x="90.45" y="294.46" width="0.8" height="0.8" fill="#b0c2ca" opacity="0.7"/><rect x="86.6" y="293.15" width="0.8" height="0.8" fill="#b0c2ca" opacity="0.7"/><rect x="88.85" y="294.35" width="0.8" height="0.8" fill="#94aab6" opacity="0.7"/><rect x="92.02" y="292.2" width="0.8" height="0.8" fill="#94aab6" opacity="0.7"/><rect x="89.44" y="291.58" width="0.8" height="0.8" fill="#94aab6" opacity="0.7"/><rect x="82.01" y="291.98" width="0.8" height="0.8" fill="#7b95a2" opacity="0.7"/><rect x="91.67" y="293.3" width="0.8" height="0.8" fill="#8aa2ae" opacity="0.7"/><rect x="95.94" y="294.33" width="0.8" height="0.8" fill="#94aab6" opacity="0.7"/><rect x="91.78" y="292.31" width="0.8" height="0.8" fill="#8aa2ae" opacity="0.7"/><rect x="79.98" y="305.66" width="0.8" height="0.8" fill="#b0c2ca" opacity="0.7"/><rect x="89.54" y="292.24" width="0.8" height="0.8" fill="#94aab6" opacity="0.7"/><rect x="83.07" y="297.34" width="0.8" height="0.8" fill="#b0c2ca" opacity="0.7"/><rect x="98.16" y="295.12" width="0.8" height="0.8" fill="#8aa2ae" opacity="0.7"/><rect x="92.67" y="297.04" width="0.8" height="0.8" fill="#8aa2ae" opacity="0.7"/><rect x="87.64" y="293.57" width="0.8" height="0.8" fill="#7b95a2" opacity="0.7"/><rect x="81.89" y="294.33" width="0.8" height="0.8" fill="#94aab6" opacity="0.7"/><rect x="84.1" y="294.93" width="0.8" height="0.8" fill="#9db2bc" opacity="0.7"/><rect x="85.78" y="294.16" width="0.8" height="0.8" fill="#9db2bc" opacity="0.7"/><rect x="93.58" y="302.34" width="0.8" height="0.8" fill="#7b95a2" opacity="0.7"/><rect x="93.87" y="293.8" width="0.8" height="0.8" fill="#8aa2ae" opacity="0.7"/><rect x="88.98" y="292.78" width="0.8" height="0.8" fill="#94aab6" opacity="0.7"/><rect x="86.46" y="298.66" width="0.8" height="0.8" fill="#b0c2ca" opacity="0.7"/><rect x="90.72" y="292.4" width="0.8" height="0.8" fill="#8aa2ae" opacity="0.7"/><rect x="94.9" y="294.31" width="0.8" height="0.8" fill="#7b95a2" opacity="0.7"/><rect x="83.82" y="294.4" width="0.8" height="0.8" fill="#8aa2ae" opacity="0.7"/><rect x="83.65" y="292.32" width="0.8" height="0.8" fill="#b0c2ca" opacity="0.7"/><rect x="92.11" y="295.59" width="0.8" height="0.8" fill="#9db2bc" opacity="0.7"/><rect x="80.07" y="294.8" width="0.8" height="0.8" fill="#8aa2ae" opacity="0.7"/><rect x="77.82" y="293.7" width="0.8" height="0.8" fill="#8aa2ae" opacity="0.7"/><rect x="93.21" y="299.6" width="0.8" height="0.8" fill="#8aa2ae" opacity="0.7"/><rect x="97.02" y="295.61" width="0.8" height="0.8" fill="#9db2bc" opacity="0.7"/><rect x="90.34" y="304.28" width="0.8" height="0.8" fill="#b0c2ca" opacity="0.7"/><rect x="91.9" y="297.52" width="0.8" height="0.8" fill="#b0c2ca" opacity="0.7"/><rect x="92.37" y="292.19" width="0.8" height="0.8" fill="#9db2bc" opacity="0.7"/><rect x="81.52" y="292.43" width="0.8" height="0.8" fill="#9db2bc" opacity="0.7"/><rect x="84.34" y="298.79" width="0.8" height="0.8" fill="#9db2bc" opacity="0.7"/><rect x="86.82" y="297.83" width="0.8" height="0.8" fill="#9db2bc" opacity="0.7"/><rect x="85.67" y="292.51" width="0.8" height="0.8" fill="#b0c2ca" opacity="0.7"/><rect x="85.83" y="292.99" width="0.8" height="0.8" fill="#7b95a2" opacity="0.7"/><rect x="84.57" y="293.28" width="0.8" height="0.8" fill="#9db2bc" opacity="0.7"/><rect x="88.05" y="293.9" width="0.8" height="0.8" fill="#b0c2ca" opacity="0.7"/><rect x="90.14" y="292.86" width="0.8" height="0.8" fill="#94aab6" opacity="0.7"/><rect x="97.75" y="295.26" width="0.8" height="0.8" fill="#9db2bc" opacity="0.7"/><rect x="79.72" y="295.03" width="0.8" height="0.8" fill="#8aa2ae" opacity="0.7"/><rect x="88.04" y="294.89" width="0.8" height="0.8" fill="#7b95a2" opacity="0.7"/><rect x="84.8" y="293.08" width="0.8" height="0.8" fill="#9db2bc" opacity="0.7"/><rect x="90.14" y="292.47" width="0.8" height="0.8" fill="#7b95a2" opacity="0.7"/><rect x="85.74" y="292.96" width="0.8" height="0.8" fill="#7b95a2" opacity="0.7"/><rect x="92.43" y="297.25" width="0.8" height="0.8" fill="#b0c2ca" opacity="0.7"/><rect x="89.74" y="295.85" width="0.8" height="0.8" fill="#9db2bc" opacity="0.7"/><rect x="80.26" y="294.62" width="0.8" height="0.8" fill="#94aab6" opacity="0.7"/><rect x="87.17" y="296.19" width="0.8" height="0.8" fill="#8aa2ae" opacity="0.7"/><rect x="91.07" y="293.32" width="0.8" height="0.8" fill="#94aab6" opacity="0.7"/><rect x="92.1" y="300.48" width="0.8" height="0.8" fill="#94aab6" opacity="0.7"/><rect x="89.17" y="299.53" width="0.8" height="0.8" fill="#9db2bc" opacity="0.7"/><rect x="80.92" y="297.18" width="0.8" height="0.8" fill="#94aab6" opacity="0.7"/><rect x="87.22" y="300.14" width="0.8" height="0.8" fill="#9db2bc" opacity="0.7"/><rect x="90" y="298.29" width="0.8" height="0.8" fill="#9db2bc" opacity="0.7"/><rect x="85.4" y="293.14" width="0.8" height="0.8" fill="#8aa2ae" opacity="0.7"/><rect x="86.14" y="297.29" width="0.8" height="0.8" fill="#8aa2ae" opacity="0.7"/><rect x="83.79" y="291.96" width="0.8" height="0.8" fill="#7b95a2" opacity="0.7"/><rect x="93.44" y="300.11" width="0.8" height="0.8" fill="#b0c2ca" opacity="0.7"/><rect x="92.35" y="294.27" width="0.8" height="0.8" fill="#b0c2ca" opacity="0.7"/><rect x="92.95" y="297.12" width="0.8" height="0.8" fill="#9db2bc" opacity="0.7"/><rect x="91.74" y="300.43" width="0.8" height="0.8" fill="#7b95a2" opacity="0.7"/><rect x="95.47" y="293.25" width="0.8" height="0.8" fill="#94aab6" opacity="0.7"/><rect x="87.82" y="291.68" width="0.8" height="0.8" fill="#94aab6" opacity="0.7"/><rect x="99.7" y="297.06" width="0.8" height="0.8" fill="#8aa2ae" opacity="0.7"/><rect x="93.72" y="297.07" width="0.8" height="0.8" fill="#7b95a2" opacity="0.7"/><rect x="89.96" y="301.69" width="0.8" height="0.8" fill="#94aab6" opacity="0.7"/><rect x="88.21" y="293.25" width="0.8" height="0.8" fill="#8aa2ae" opacity="0.7"/><rect x="93.58" y="293.13" width="0.8" height="0.8" fill="#94aab6" opacity="0.7"/><rect x="96.76" y="292.91" width="0.8" height="0.8" fill="#9db2bc" opacity="0.7"/><rect x="100.66" y="293.16" width="0.8" height="0.8" fill="#9db2bc" opacity="0.7"/><rect x="86.07" y="293.54" width="0.8" height="0.8" fill="#7b95a2" opacity="0.7"/><rect x="88.17" y="300.99" width="0.8" height="0.8" fill="#8aa2ae" opacity="0.7"/><rect x="99.08" y="292.85" width="0.8" height="0.8" fill="#9db2bc" opacity="0.7"/><rect x="87.54" y="301.28" width="0.8" height="0.8" fill="#94aab6" opacity="0.7"/><rect x="84.75" y="292.26" width="0.8" height="0.8" fill="#b0c2ca" opacity="0.7"/><rect x="95.93" y="297.72" width="0.8" height="0.8" fill="#9db2bc" opacity="0.7"/><rect x="90.56" y="292.15" width="0.8" height="0.8" fill="#b0c2ca" opacity="0.7"/><rect x="81.23" y="295.92" width="0.8" height="0.8" fill="#8aa2ae" opacity="0.7"/><rect x="91.73" y="295.08" width="0.8" height="0.8" fill="#9db2bc" opacity="0.7"/><rect x="84.87" y="292.37" width="0.8" height="0.8" fill="#9db2bc" opacity="0.7"/><rect x="91.97" y="296.82" width="0.8" height="0.8" fill="#b0c2ca" opacity="0.7"/><rect x="92.8" y="299.75" width="0.8" height="0.8" fill="#b0c2ca" opacity="0.7"/><rect x="85.96" y="297.98" width="0.8" height="0.8" fill="#94aab6" opacity="0.7"/><rect x="83.45" y="292.24" width="0.8" height="0.8" fill="#8aa2ae" opacity="0.7"/><rect x="88.93" y="296.06" width="0.8" height="0.8" fill="#9db2bc" opacity="0.7"/><rect x="92.22" y="298.4" width="0.8" height="0.8" fill="#94aab6" opacity="0.7"/><rect x="91.75" y="302.22" width="0.8" height="0.8" fill="#b0c2ca" opacity="0.7"/><rect x="89.12" y="292.81" width="0.8" height="0.8" fill="#94aab6" opacity="0.7"/><rect x="92.58" y="297.65" width="0.8" height="0.8" fill="#7b95a2" opacity="0.7"/><rect x="88.22" y="296.85" width="0.8" height="0.8" fill="#8aa2ae" opacity="0.7"/><rect x="84.31" y="296.21" width="0.8" height="0.8" fill="#8aa2ae" opacity="0.7"/><rect x="86.75" y="294.51" width="0.8" height="0.8" fill="#8aa2ae" opacity="0.7"/><rect x="88.97" y="296.77" width="0.8" height="0.8" fill="#b0c2ca" opacity="0.7"/><rect x="90.08" y="303.46" width="0.8" height="0.8" fill="#8aa2ae" opacity="0.7"/><rect x="91.83" y="301.46" width="0.8" height="0.8" fill="#8aa2ae" opacity="0.7"/><rect x="94.92" y="293" width="0.8" height="0.8" fill="#7b95a2" opacity="0.7"/><rect x="94.04" y="294.98" width="0.8" height="0.8" fill="#94aab6" opacity="0.7"/><rect x="88.65" y="292.72" width="0.8" height="0.8" fill="#8aa2ae" opacity="0.7"/><rect x="88.18" y="297.7" width="0.8" height="0.8" fill="#b0c2ca" opacity="0.7"/><rect x="88.31" y="292.87" width="0.8" height="0.8" fill="#8aa2ae" opacity="0.7"/><rect x="85.84" y="298.46" width="0.8" height="0.8" fill="#8aa2ae" opacity="0.7"/><rect x="99.47" y="296.27" width="0.8" height="0.8" fill="#94aab6" opacity="0.7"/><rect x="89.84" y="292.67" width="0.8" height="0.8" fill="#94aab6" opacity="0.7"/><rect x="85.54" y="292.02" width="0.8" height="0.8" fill="#8aa2ae" opacity="0.7"/><rect x="78.24" y="292.19" width="0.8" height="0.8" fill="#b0c2ca" opacity="0.7"/><rect x="84.8" y="293.34" width="0.8" height="0.8" fill="#8aa2ae" opacity="0.7"/><rect x="87.96" y="295.67" width="0.8" height="0.8" fill="#b0c2ca" opacity="0.7"/><rect x="83.39" y="295.71" width="0.8" height="0.8" fill="#b0c2ca" opacity="0.7"/><rect x="90.48" y="299.2" width="0.8" height="0.8" fill="#b0c2ca" opacity="0.7"/><rect x="91.38" y="294.18" width="0.8" height="0.8" fill="#b0c2ca" opacity="0.7"/><rect x="84.14" y="292.27" width="0.8" height="0.8" fill="#9db2bc" opacity="0.7"/><rect x="86.64" y="294.31" width="0.8" height="0.8" fill="#94aab6" opacity="0.7"/><rect x="83.47" y="296.02" width="0.8" height="0.8" fill="#8aa2ae" opacity="0.7"/><rect x="90.74" y="292.82" width="0.8" height="0.8" fill="#9db2bc" opacity="0.7"/><rect x="86.29" y="295.53" width="0.8" height="0.8" fill="#7b95a2" opacity="0.7"/><rect x="85.12" y="306.43" width="0.8" height="0.8" fill="#7b95a2" opacity="0.7"/><rect x="89.14" y="291.78" width="0.8" height="0.8" fill="#94aab6" opacity="0.7"/><rect x="97.08" y="295.69" width="0.8" height="0.8" fill="#b0c2ca" opacity="0.7"/><rect x="85.03" y="296.65" width="0.8" height="0.8" fill="#b0c2ca" opacity="0.7"/><rect x="83.24" y="298.4" width="0.8" height="0.8" fill="#94aab6" opacity="0.7"/><rect x="90.09" y="304.4" width="0.8" height="0.8" fill="#9db2bc" opacity="0.7"/><rect x="82.02" y="295.26" width="0.8" height="0.8" fill="#9db2bc" opacity="0.7"/><rect x="85.2" y="297.82" width="0.8" height="0.8" fill="#7b95a2" opacity="0.7"/><rect x="90.71" y="297.06" width="0.8" height="0.8" fill="#b0c2ca" opacity="0.7"/><rect x="87.41" y="298.69" width="0.8" height="0.8" fill="#9db2bc" opacity="0.7"/><rect x="86.28" y="292.66" width="0.8" height="0.8" fill="#b0c2ca" opacity="0.7"/><rect x="88.83" y="298.27" width="0.8" height="0.8" fill="#b0c2ca" opacity="0.7"/><rect x="76.12" y="301.23" width="0.8" height="0.8" fill="#9db2bc" opacity="0.7"/><rect x="80.89" y="295.89" width="0.8" height="0.8" fill="#94aab6" opacity="0.7"/><rect x="84.54" y="294.57" width="0.8" height="0.8" fill="#b0c2ca" opacity="0.7"/><rect x="86.8" y="295.41" width="0.8" height="0.8" fill="#7b95a2" opacity="0.7"/><rect x="86.93" y="296.39" width="0.8" height="0.8" fill="#94aab6" opacity="0.7"/><rect x="82.47" y="295.64" width="0.8" height="0.8" fill="#8aa2ae" opacity="0.7"/><rect x="90.36" y="301.25" width="0.8" height="0.8" fill="#b0c2ca" opacity="0.7"/><rect x="85.23" y="294.39" width="0.8" height="0.8" fill="#94aab6" opacity="0.7"/><rect x="87.31" y="294.14" width="0.8" height="0.8" fill="#94aab6" opacity="0.7"/><rect x="85.7" y="294.04" width="0.8" height="0.8" fill="#7b95a2" opacity="0.7"/><rect x="84.06" y="300.35" width="0.8" height="0.8" fill="#9db2bc" opacity="0.7"/><rect x="91.34" y="292.3" width="0.8" height="0.8" fill="#b0c2ca" opacity="0.7"/><rect x="97.5" y="299.6" width="0.8" height="0.8" fill="#8aa2ae" opacity="0.7"/><rect x="94.12" y="293.37" width="0.8" height="0.8" fill="#b0c2ca" opacity="0.7"/><rect x="86.37" y="297.53" width="0.8" height="0.8" fill="#7b95a2" opacity="0.7"/><rect x="82.44" y="292.09" width="0.8" height="0.8" fill="#b0c2ca" opacity="0.7"/><rect x="84.73" y="294.53" width="0.8" height="0.8" fill="#94aab6" opacity="0.7"/><rect x="85.84" y="296.51" width="0.8" height="0.8" fill="#8aa2ae" opacity="0.7"/><rect x="85.59" y="297.08" width="0.8" height="0.8" fill="#8aa2ae" opacity="0.7"/><rect x="83.43" y="294.7" width="0.8" height="0.8" fill="#94aab6" opacity="0.7"/><rect x="90.7" y="292.71" width="0.8" height="0.8" fill="#9db2bc" opacity="0.7"/><rect x="93.61" y="292.73" width="0.8" height="0.8" fill="#b0c2ca" opacity="0.7"/><rect x="89.32" y="302.47" width="0.8" height="0.8" fill="#94aab6" opacity="0.7"/><rect x="84.94" y="296.72" width="0.8" height="0.8" fill="#8aa2ae" opacity="0.7"/><rect x="90.21" y="295.4" width="0.8" height="0.8" fill="#8aa2ae" opacity="0.7"/><rect x="90.85" y="296.94" width="0.8" height="0.8" fill="#8aa2ae" opacity="0.7"/><rect x="85.96" y="295.01" width="0.8" height="0.8" fill="#7b95a2" opacity="0.7"/><rect x="94.47" y="305.69" width="0.8" height="0.8" fill="#b0c2ca" opacity="0.7"/><rect x="84.23" y="296.05" width="0.8" height="0.8" fill="#94aab6" opacity="0.7"/><rect x="90.86" y="302.01" width="0.8" height="0.8" fill="#b0c2ca" opacity="0.7"/><rect x="90.99" y="298.08" width="0.8" height="0.8" fill="#94aab6" opacity="0.7"/><rect x="93.09" y="295.59" width="0.8" height="0.8" fill="#8aa2ae" opacity="0.7"/><rect x="87.95" y="292.11" width="0.8" height="0.8" fill="#8aa2ae" opacity="0.7"/><rect x="85.63" y="298.87" width="0.8" height="0.8" fill="#8aa2ae" opacity="0.7"/><rect x="92.39" y="294.01" width="0.8" height="0.8" fill="#8aa2ae" opacity="0.7"/><rect x="82.09" y="295.38" width="0.8" height="0.8" fill="#9db2bc" opacity="0.7"/><rect x="91.92" y="299.34" width="0.8" height="0.8" fill="#94aab6" opacity="0.7"/><rect x="87.5" y="298.86" width="0.8" height="0.8" fill="#94aab6" opacity="0.7"/><rect x="85.54" y="291.66" width="0.8" height="0.8" fill="#9db2bc" opacity="0.7"/><rect x="86.13" y="292.8" width="0.8" height="0.8" fill="#9db2bc" opacity="0.7"/><rect x="82.51" y="292.12" width="0.8" height="0.8" fill="#8aa2ae" opacity="0.7"/><rect x="90.57" y="293.27" width="0.8" height="0.8" fill="#94aab6" opacity="0.7"/><rect x="82.82" y="291.75" width="0.8" height="0.8" fill="#b0c2ca" opacity="0.7"/><rect x="88.8" y="293.15" width="0.8" height="0.8" fill="#8aa2ae" opacity="0.7"/><rect x="85.68" y="297.67" width="0.8" height="0.8" fill="#9db2bc" opacity="0.7"/><rect x="87.23" y="296.15" width="0.8" height="0.8" fill="#9db2bc" opacity="0.7"/><rect x="94.81" y="292.9" width="0.8" height="0.8" fill="#94aab6" opacity="0.7"/><rect x="91.09" y="292.71" width="0.8" height="0.8" fill="#94aab6" opacity="0.7"/><rect x="86.99" y="292.55" width="0.8" height="0.8" fill="#b0c2ca" opacity="0.7"/><rect x="77.64" y="297.94" width="0.8" height="0.8" fill="#b0c2ca" opacity="0.7"/><rect x="91.54" y="292.69" width="0.8" height="0.8" fill="#9db2bc" opacity="0.7"/><rect x="98.87" y="294.68" width="0.8" height="0.8" fill="#9db2bc" opacity="0.7"/><rect x="84.13" y="301.62" width="0.8" height="0.8" fill="#b0c2ca" opacity="0.7"/><rect x="86.04" y="298.07" width="0.8" height="0.8" fill="#b0c2ca" opacity="0.7"/><rect x="89.98" y="291.65" width="0.8" height="0.8" fill="#b0c2ca" opacity="0.7"/><rect x="85.31" y="297.54" width="0.8" height="0.8" fill="#b0c2ca" opacity="0.7"/><rect x="84.64" y="301.29" width="0.8" height="0.8" fill="#b0c2ca" opacity="0.7"/><rect x="97.77" y="292.87" width="0.8" height="0.8" fill="#8aa2ae" opacity="0.7"/><rect x="90.29" y="295.74" width="0.8" height="0.8" fill="#9db2bc" opacity="0.7"/><rect x="98.12" y="291.92" width="0.8" height="0.8" fill="#b0c2ca" opacity="0.7"/><rect x="86" y="292.37" width="0.8" height="0.8" fill="#94aab6" opacity="0.7"/><rect x="91.2" y="294.8" width="0.8" height="0.8" fill="#8aa2ae" opacity="0.7"/><rect x="93.08" y="292.71" width="0.8" height="0.8" fill="#7b95a2" opacity="0.7"/><rect x="83.72" y="293.11" width="0.8" height="0.8" fill="#b0c2ca" opacity="0.7"/><rect x="87.46" y="295.14" width="0.8" height="0.8" fill="#8aa2ae" opacity="0.7"/><rect x="88" y="292.56" width="0.8" height="0.8" fill="#9db2bc" opacity="0.7"/><rect x="88.33" y="294.14" width="0.8" height="0.8" fill="#9db2bc" opacity="0.7"/><rect x="87.08" y="301.2" width="0.8" height="0.8" fill="#9db2bc" opacity="0.7"/><rect x="83.13" y="293.38" width="0.8" height="0.8" fill="#9db2bc" opacity="0.7"/><rect x="90.62" y="295.48" width="0.8" height="0.8" fill="#b0c2ca" opacity="0.7"/><rect x="79.54" y="300.56" width="0.8" height="0.8" fill="#9db2bc" opacity="0.7"/><rect x="86.6" y="297.05" width="0.8" height="0.8" fill="#9db2bc" opacity="0.7"/><rect x="88.95" y="297.05" width="0.8" height="0.8" fill="#9db2bc" opacity="0.7"/><rect x="103.96" y="297.9" width="0.8" height="0.8" fill="#94aab6" opacity="0.7"/><rect x="93.36" y="295.48" width="0.8" height="0.8" fill="#7b95a2" opacity="0.7"/><rect x="83.43" y="292.54" width="0.8" height="0.8" fill="#94aab6" opacity="0.7"/><rect x="90.47" y="301.66" width="0.8" height="0.8" fill="#8aa2ae" opacity="0.7"/><rect x="87.28" y="293.45" width="0.8" height="0.8" fill="#7b95a2" opacity="0.7"/><rect x="87.48" y="300.21" width="0.8" height="0.8" fill="#8aa2ae" opacity="0.7"/><rect x="84.79" y="297.03" width="0.8" height="0.8" fill="#7b95a2" opacity="0.7"/><rect x="95.73" y="292.17" width="0.8" height="0.8" fill="#9db2bc" opacity="0.7"/><rect x="88.77" y="295.12" width="0.8" height="0.8" fill="#9db2bc" opacity="0.7"/><rect x="87" y="293.53" width="0.8" height="0.8" fill="#94aab6" opacity="0.7"/><rect x="95.64" y="296.25" width="0.8" height="0.8" fill="#7b95a2" opacity="0.7"/><rect x="90.89" y="299.15" width="0.8" height="0.8" fill="#8aa2ae" opacity="0.7"/><rect x="88.57" y="294.07" width="0.8" height="0.8" fill="#b0c2ca" opacity="0.7"/><rect x="87.21" y="296.58" width="0.8" height="0.8" fill="#b0c2ca" opacity="0.7"/><rect x="89.75" y="302.03" width="0.8" height="0.8" fill="#9db2bc" opacity="0.7"/><rect x="90.96" y="292.65" width="0.8" height="0.8" fill="#7b95a2" opacity="0.7"/><rect x="85.17" y="298.34" width="0.8" height="0.8" fill="#7b95a2" opacity="0.7"/><rect x="89.07" y="292.11" width="0.8" height="0.8" fill="#b0c2ca" opacity="0.7"/><rect x="88.29" y="301.47" width="0.8" height="0.8" fill="#7b95a2" opacity="0.7"/><rect x="90.01" y="292.71" width="0.8" height="0.8" fill="#7b95a2" opacity="0.7"/><rect x="96.14" y="299.01" width="0.8" height="0.8" fill="#9db2bc" opacity="0.7"/><rect x="87.88" y="292.85" width="0.8" height="0.8" fill="#8aa2ae" opacity="0.7"/><rect x="84.24" y="294.88" width="0.8" height="0.8" fill="#7b95a2" opacity="0.7"/><rect x="92.57" y="298.48" width="0.8" height="0.8" fill="#94aab6" opacity="0.7"/><rect x="85.64" y="298.28" width="0.8" height="0.8" fill="#9db2bc" opacity="0.7"/><rect x="85.03" y="292.87" width="0.8" height="0.8" fill="#b0c2ca" opacity="0.7"/><rect x="87.43" y="295.3" width="0.8" height="0.8" fill="#b0c2ca" opacity="0.7"/><rect x="85.18" y="297.37" width="0.8" height="0.8" fill="#8aa2ae" opacity="0.7"/><rect x="94.42" y="297.11" width="0.8" height="0.8" fill="#7b95a2" opacity="0.7"/><rect x="96.16" y="297.58" width="0.8" height="0.8" fill="#94aab6" opacity="0.7"/><rect x="87.03" y="292.41" width="0.8" height="0.8" fill="#9db2bc" opacity="0.7"/><rect x="87.65" y="292.7" width="0.8" height="0.8" fill="#7b95a2" opacity="0.7"/><rect x="90.84" y="302.57" width="0.8" height="0.8" fill="#8aa2ae" opacity="0.7"/><rect x="81.32" y="295.67" width="0.8" height="0.8" fill="#94aab6" opacity="0.7"/><rect x="90.05" y="295.12" width="0.8" height="0.8" fill="#8aa2ae" opacity="0.7"/><rect x="81.36" y="301.73" width="0.8" height="0.8" fill="#b0c2ca" opacity="0.7"/><rect x="94.87" y="294.79" width="0.8" height="0.8" fill="#b0c2ca" opacity="0.7"/><rect x="81" y="291.82" width="0.8" height="0.8" fill="#9db2bc" opacity="0.7"/><rect x="83.02" y="294.11" width="0.8" height="0.8" fill="#9db2bc" opacity="0.7"/><rect x="85.1" y="291.62" width="0.8" height="0.8" fill="#94aab6" opacity="0.7"/><rect x="87.78" y="297.92" width="0.8" height="0.8" fill="#9db2bc" opacity="0.7"/><rect x="84.7" y="292.47" width="0.8" height="0.8" fill="#8aa2ae" opacity="0.7"/><rect x="90.38" y="295.58" width="0.8" height="0.8" fill="#8aa2ae" opacity="0.7"/><rect x="89.44" y="295.68" width="0.8" height="0.8" fill="#9db2bc" opacity="0.7"/><rect x="86.04" y="296.93" width="0.8" height="0.8" fill="#b0c2ca" opacity="0.7"/><rect x="88.47" y="295.26" width="0.8" height="0.8" fill="#94aab6" opacity="0.7"/><rect x="87.28" y="293.99" width="0.8" height="0.8" fill="#7b95a2" opacity="0.7"/><rect x="87.38" y="294.04" width="0.8" height="0.8" fill="#9db2bc" opacity="0.7"/><rect x="85.16" y="293.42" width="0.8" height="0.8" fill="#8aa2ae" opacity="0.7"/><rect x="80.45" y="294.03" width="0.8" height="0.8" fill="#9db2bc" opacity="0.7"/><rect x="86.97" y="294.1" width="0.8" height="0.8" fill="#b0c2ca" opacity="0.7"/><rect x="90.81" y="295.89" width="0.8" height="0.8" fill="#9db2bc" opacity="0.7"/><rect x="91.18" y="294.23" width="0.8" height="0.8" fill="#7b95a2" opacity="0.7"/><rect x="86.78" y="291.53" width="0.8" height="0.8" fill="#7b95a2" opacity="0.7"/><rect x="87.43" y="293.77" width="0.8" height="0.8" fill="#7b95a2" opacity="0.7"/><rect x="85.97" y="292.22" width="0.8" height="0.8" fill="#7b95a2" opacity="0.7"/><rect x="82.34" y="293.68" width="0.8" height="0.8" fill="#7b95a2" opacity="0.7"/><rect x="89.11" y="293.15" width="0.8" height="0.8" fill="#8aa2ae" opacity="0.7"/><rect x="80.27" y="292.18" width="0.8" height="0.8" fill="#7b95a2" opacity="0.7"/><rect x="94.33" y="292.23" width="0.8" height="0.8" fill="#8aa2ae" opacity="0.7"/><rect x="80.83" y="301.7" width="0.8" height="0.8" fill="#b0c2ca" opacity="0.7"/><rect x="90.42" y="297.45" width="0.8" height="0.8" fill="#8aa2ae" opacity="0.7"/><rect x="86.87" y="293.16" width="0.8" height="0.8" fill="#7b95a2" opacity="0.7"/><rect x="80.4" y="300.15" width="0.8" height="0.8" fill="#7b95a2" opacity="0.7"/><rect x="87.09" y="293.12" width="0.8" height="0.8" fill="#8aa2ae" opacity="0.7"/><rect x="92.95" y="292.23" width="0.8" height="0.8" fill="#9db2bc" opacity="0.7"/><rect x="87.32" y="294.59" width="0.8" height="0.8" fill="#94aab6" opacity="0.7"/><rect x="94.41" y="301.2" width="0.8" height="0.8" fill="#9db2bc" opacity="0.7"/><rect x="94.32" y="296.36" width="0.8" height="0.8" fill="#7b95a2" opacity="0.7"/><rect x="87.99" y="296.02" width="0.8" height="0.8" fill="#9db2bc" opacity="0.7"/><rect x="85.49" y="295.3" width="0.8" height="0.8" fill="#9db2bc" opacity="0.7"/><rect x="84.08" y="296.24" width="0.8" height="0.8" fill="#7b95a2" opacity="0.7"/><rect x="90.12" y="294.79" width="0.8" height="0.8" fill="#8aa2ae" opacity="0.7"/><rect x="94.2" y="293.12" width="0.8" height="0.8" fill="#b0c2ca" opacity="0.7"/><rect x="97.77" y="298.43" width="0.8" height="0.8" fill="#b0c2ca" opacity="0.7"/><rect x="81.32" y="295.32" width="0.8" height="0.8" fill="#7b95a2" opacity="0.7"/><rect x="82.82" y="295.79" width="0.8" height="0.8" fill="#9db2bc" opacity="0.7"/><rect x="87.11" y="294.28" width="0.8" height="0.8" fill="#b0c2ca" opacity="0.7"/><rect x="85.02" y="295.39" width="0.8" height="0.8" fill="#8aa2ae" opacity="0.7"/><rect x="91.44" y="296.19" width="0.8" height="0.8" fill="#9db2bc" opacity="0.7"/><rect x="88.14" y="291.78" width="0.8" height="0.8" fill="#94aab6" opacity="0.7"/><rect x="93.39" y="298.61" width="0.8" height="0.8" fill="#b0c2ca" opacity="0.7"/><rect x="89.35" y="292.97" width="0.8" height="0.8" fill="#8aa2ae" opacity="0.7"/><rect x="83.2" y="291.9" width="0.8" height="0.8" fill="#7b95a2" opacity="0.7"/><rect x="88.79" y="291.67" width="0.8" height="0.8" fill="#9db2bc" opacity="0.7"/><rect x="90.57" y="293.17" width="0.8" height="0.8" fill="#7b95a2" opacity="0.7"/><rect x="96.86" y="291.65" width="0.8" height="0.8" fill="#7b95a2" opacity="0.7"/><rect x="83.28" y="293.81" width="0.8" height="0.8" fill="#94aab6" opacity="0.7"/><rect x="85.82" y="296.57" width="0.8" height="0.8" fill="#94aab6" opacity="0.7"/><rect x="96.27" y="297.05" width="0.8" height="0.8" fill="#b0c2ca" opacity="0.7"/><rect x="94.68" y="293.12" width="0.8" height="0.8" fill="#8aa2ae" opacity="0.7"/><rect x="87.47" y="296" width="0.8" height="0.8" fill="#7b95a2" opacity="0.7"/><rect x="83.59" y="293.56" width="0.8" height="0.8" fill="#7b95a2" opacity="0.7"/><rect x="81.32" y="292.31" width="0.8" height="0.8" fill="#7b95a2" opacity="0.7"/><rect x="92.11" y="296.19" width="0.8" height="0.8" fill="#8aa2ae" opacity="0.7"/><rect x="90.17" y="294.41" width="0.8" height="0.8" fill="#b0c2ca" opacity="0.7"/><rect x="87.23" y="294.13" width="0.8" height="0.8" fill="#94aab6" opacity="0.7"/><rect x="83.81" y="296.34" width="0.8" height="0.8" fill="#b0c2ca" opacity="0.7"/><rect x="85.93" y="294.37" width="0.8" height="0.8" fill="#b0c2ca" opacity="0.7"/><rect x="86.32" y="292.95" width="0.8" height="0.8" fill="#9db2bc" opacity="0.7"/><rect x="91.37" y="292.09" width="0.8" height="0.8" fill="#8aa2ae" opacity="0.7"/><rect x="89.84" y="301.15" width="0.8" height="0.8" fill="#8aa2ae" opacity="0.7"/><rect x="90.93" y="298.56" width="0.8" height="0.8" fill="#b0c2ca" opacity="0.7"/><rect x="88.97" y="297.1" width="0.8" height="0.8" fill="#94aab6" opacity="0.7"/><rect x="86.09" y="292.52" width="0.8" height="0.8" fill="#94aab6" opacity="0.7"/><rect x="93.43" y="295.03" width="0.8" height="0.8" fill="#b0c2ca" opacity="0.7"/><rect x="84.51" y="299.83" width="0.8" height="0.8" fill="#9db2bc" opacity="0.7"/><rect x="92.17" y="296.37" width="0.8" height="0.8" fill="#8aa2ae" opacity="0.7"/><rect x="79.66" y="300.84" width="0.8" height="0.8" fill="#94aab6" opacity="0.7"/><rect x="95.44" y="297.26" width="0.8" height="0.8" fill="#b0c2ca" opacity="0.7"/><rect x="76.09" y="295.15" width="0.8" height="0.8" fill="#9db2bc" opacity="0.7"/><rect x="80.55" y="294.86" width="0.8" height="0.8" fill="#9db2bc" opacity="0.7"/><rect x="83.53" y="296.56" width="0.8" height="0.8" fill="#b0c2ca" opacity="0.7"/><rect x="88.58" y="296.4" width="0.8" height="0.8" fill="#8aa2ae" opacity="0.7"/><rect x="84.64" y="303.79" width="0.8" height="0.8" fill="#b0c2ca" opacity="0.7"/><rect x="85.88" y="299.15" width="0.8" height="0.8" fill="#b0c2ca" opacity="0.7"/><rect x="89.93" y="292.61" width="0.8" height="0.8" fill="#9db2bc" opacity="0.7"/><rect x="78.31" y="295.88" width="0.8" height="0.8" fill="#7b95a2" opacity="0.7"/><rect x="92.11" y="298.89" width="0.8" height="0.8" fill="#7b95a2" opacity="0.7"/><rect x="90.81" y="299.4" width="0.8" height="0.8" fill="#8aa2ae" opacity="0.7"/><rect x="89.32" y="293.77" width="0.8" height="0.8" fill="#7b95a2" opacity="0.7"/><rect x="82.37" y="291.92" width="0.8" height="0.8" fill="#7b95a2" opacity="0.7"/><rect x="87.95" y="292.93" width="0.8" height="0.8" fill="#94aab6" opacity="0.7"/><rect x="85.48" y="295.28" width="0.8" height="0.8" fill="#7b95a2" opacity="0.7"/><rect x="88.97" y="293.81" width="0.8" height="0.8" fill="#9db2bc" opacity="0.7"/><rect x="88.11" y="294.81" width="0.8" height="0.8" fill="#b0c2ca" opacity="0.7"/><rect x="102.45" y="293.48" width="0.8" height="0.8" fill="#b0c2ca" opacity="0.7"/><rect x="88.95" y="292.1" width="0.8" height="0.8" fill="#8aa2ae" opacity="0.7"/><rect x="91.52" y="293.2" width="0.8" height="0.8" fill="#9db2bc" opacity="0.7"/><rect x="84.46" y="292.84" width="0.8" height="0.8" fill="#b0c2ca" opacity="0.7"/><rect x="91.5" y="297.34" width="0.8" height="0.8" fill="#7b95a2" opacity="0.7"/><rect x="81.07" y="293.3" width="0.8" height="0.8" fill="#7b95a2" opacity="0.7"/><rect x="88.96" y="291.67" width="0.8" height="0.8" fill="#7b95a2" opacity="0.7"/><rect x="93.74" y="291.61" width="0.8" height="0.8" fill="#b0c2ca" opacity="0.7"/><rect x="94.22" y="298.08" width="0.8" height="0.8" fill="#8aa2ae" opacity="0.7"/><rect x="94.16" y="294.67" width="0.8" height="0.8" fill="#94aab6" opacity="0.7"/><rect x="83.94" y="295.09" width="0.8" height="0.8" fill="#9db2bc" opacity="0.7"/><rect x="86.36" y="296.71" width="0.8" height="0.8" fill="#9db2bc" opacity="0.7"/><rect x="92.8" y="296.51" width="0.8" height="0.8" fill="#8aa2ae" opacity="0.7"/><rect x="84.42" y="296.29" width="0.8" height="0.8" fill="#7b95a2" opacity="0.7"/><rect x="93.23" y="295.69" width="0.8" height="0.8" fill="#8aa2ae" opacity="0.7"/><rect x="90.33" y="300.74" width="0.8" height="0.8" fill="#b0c2ca" opacity="0.7"/><rect x="85.56" y="296.5" width="0.8" height="0.8" fill="#7b95a2" opacity="0.7"/><rect x="86.49" y="295.72" width="0.8" height="0.8" fill="#b0c2ca" opacity="0.7"/><rect x="87.71" y="292.32" width="0.8" height="0.8" fill="#b0c2ca" opacity="0.7"/><rect x="92.89" y="296.4" width="0.8" height="0.8" fill="#9db2bc" opacity="0.7"/><rect x="87.81" y="294.27" width="0.8" height="0.8" fill="#b0c2ca" opacity="0.7"/><rect x="87.37" y="297.46" width="0.8" height="0.8" fill="#7b95a2" opacity="0.7"/><rect x="84.3" y="296.72" width="0.8" height="0.8" fill="#94aab6" opacity="0.7"/><rect x="102.61" y="295.73" width="0.8" height="0.8" fill="#8aa2ae" opacity="0.7"/><rect x="97.12" y="297.11" width="0.8" height="0.8" fill="#8aa2ae" opacity="0.7"/><rect x="93.96" y="297.85" width="0.8" height="0.8" fill="#94aab6" opacity="0.7"/><rect x="85.18" y="295.1" width="0.8" height="0.8" fill="#7b95a2" opacity="0.7"/><rect x="89.15" y="295.09" width="0.8" height="0.8" fill="#9db2bc" opacity="0.7"/><rect x="86.49" y="295.42" width="0.8" height="0.8" fill="#7b95a2" opacity="0.7"/><rect x="87.82" y="297.59" width="0.8" height="0.8" fill="#9db2bc" opacity="0.7"/><rect x="84.62" y="296.71" width="0.8" height="0.8" fill="#b0c2ca" opacity="0.7"/><rect x="84.41" y="298.4" width="0.8" height="0.8" fill="#7b95a2" opacity="0.7"/><rect x="94.44" y="297.46" width="0.8" height="0.8" fill="#94aab6" opacity="0.7"/><rect x="85.79" y="294.28" width="0.8" height="0.8" fill="#9db2bc" opacity="0.7"/><rect x="90.94" y="291.46" width="0.8" height="0.8" fill="#9db2bc" opacity="0.7"/><rect x="97.9" y="291.88" width="0.8" height="0.8" fill="#b0c2ca" opacity="0.7"/><rect x="84.21" y="294.34" width="0.8" height="0.8" fill="#7b95a2" opacity="0.7"/><rect x="93.97" y="294.36" width="0.8" height="0.8" fill="#9db2bc" opacity="0.7"/><rect x="86.89" y="295.63" width="0.8" height="0.8" fill="#94aab6" opacity="0.7"/><rect x="77.48" y="295.28" width="0.8" height="0.8" fill="#7b95a2" opacity="0.7"/><rect x="90.99" y="292.91" width="0.8" height="0.8" fill="#8aa2ae" opacity="0.7"/><rect x="84.68" y="293.65" width="0.8" height="0.8" fill="#7b95a2" opacity="0.7"/><rect x="92.7" y="291.78" width="0.8" height="0.8" fill="#b0c2ca" opacity="0.7"/><rect x="86.25" y="302.95" width="0.8" height="0.8" fill="#b0c2ca" opacity="0.7"/><rect x="86.94" y="294.33" width="0.8" height="0.8" fill="#7b95a2" opacity="0.7"/><rect x="80.45" y="293.92" width="0.8" height="0.8" fill="#7b95a2" opacity="0.7"/><rect x="88.28" y="292.44" width="0.8" height="0.8" fill="#8aa2ae" opacity="0.7"/><rect x="85.61" y="293.45" width="0.8" height="0.8" fill="#94aab6" opacity="0.7"/><rect x="87.05" y="297.41" width="0.8" height="0.8" fill="#8aa2ae" opacity="0.7"/><rect x="90.77" y="299.39" width="0.8" height="0.8" fill="#9db2bc" opacity="0.7"/><rect x="86.63" y="292.65" width="0.8" height="0.8" fill="#94aab6" opacity="0.7"/><rect x="86.79" y="293.77" width="0.8" height="0.8" fill="#9db2bc" opacity="0.7"/><rect x="87.31" y="298.8" width="0.8" height="0.8" fill="#8aa2ae" opacity="0.7"/><rect x="81.27" y="300.47" width="0.8" height="0.8" fill="#9db2bc" opacity="0.7"/><rect x="84" y="300.82" width="0.8" height="0.8" fill="#8aa2ae" opacity="0.7"/><rect x="85.3" y="295.67" width="0.8" height="0.8" fill="#7b95a2" opacity="0.7"/><rect x="92.57" y="300.63" width="0.8" height="0.8" fill="#8aa2ae" opacity="0.7"/><rect x="93.84" y="295.13" width="0.8" height="0.8" fill="#b0c2ca" opacity="0.7"/><rect x="93.03" y="291.8" width="0.8" height="0.8" fill="#b0c2ca" opacity="0.7"/><rect x="88.97" y="292.25" width="0.8" height="0.8" fill="#7b95a2" opacity="0.7"/><rect x="94.42" y="293.87" width="0.8" height="0.8" fill="#7b95a2" opacity="0.7"/><rect x="88.71" y="292.24" width="0.8" height="0.8" fill="#9db2bc" opacity="0.7"/><rect x="93.32" y="298.33" width="0.8" height="0.8" fill="#8aa2ae" opacity="0.7"/><rect x="85.35" y="295.24" width="0.8" height="0.8" fill="#7b95a2" opacity="0.7"/><rect x="81.99" y="293.07" width="0.8" height="0.8" fill="#94aab6" opacity="0.7"/><rect x="95.93" y="303.46" width="0.8" height="0.8" fill="#94aab6" opacity="0.7"/><rect x="84.36" y="298.87" width="0.8" height="0.8" fill="#7b95a2" opacity="0.7"/><rect x="90.32" y="296.86" width="0.8" height="0.8" fill="#8aa2ae" opacity="0.7"/><rect x="88.87" y="295.81" width="0.8" height="0.8" fill="#94aab6" opacity="0.7"/><rect x="93.42" y="292.21" width="0.8" height="0.8" fill="#7b95a2" opacity="0.7"/><rect x="84.4" y="296.29" width="0.8" height="0.8" fill="#7b95a2" opacity="0.7"/><rect x="88.64" y="291.92" width="0.8" height="0.8" fill="#b0c2ca" opacity="0.7"/><rect x="95.27" y="296.95" width="0.8" height="0.8" fill="#7b95a2" opacity="0.7"/><rect x="92.15" y="297.34" width="0.8" height="0.8" fill="#b0c2ca" opacity="0.7"/><rect x="88.29" y="293.66" width="0.8" height="0.8" fill="#8aa2ae" opacity="0.7"/><rect x="86.46" y="293.27" width="0.8" height="0.8" fill="#94aab6" opacity="0.7"/><rect x="82.09" y="291.48" width="0.8" height="0.8" fill="#9db2bc" opacity="0.7"/><rect x="87.83" y="298.49" width="0.8" height="0.8" fill="#9db2bc" opacity="0.7"/><rect x="96.16" y="297.43" width="0.8" height="0.8" fill="#9db2bc" opacity="0.7"/><rect x="83.81" y="292.26" width="0.8" height="0.8" fill="#9db2bc" opacity="0.7"/><rect x="79.32" y="295.1" width="0.8" height="0.8" fill="#9db2bc" opacity="0.7"/><rect x="85.31" y="295.01" width="0.8" height="0.8" fill="#b0c2ca" opacity="0.7"/><rect x="84.09" y="292.54" width="0.8" height="0.8" fill="#8aa2ae" opacity="0.7"/><rect x="94.28" y="296.7" width="0.8" height="0.8" fill="#8aa2ae" opacity="0.7"/><rect x="91.91" y="302.19" width="0.8" height="0.8" fill="#7b95a2" opacity="0.7"/><rect x="93.95" y="293.87" width="0.8" height="0.8" fill="#b0c2ca" opacity="0.7"/><rect x="92.09" y="294.18" width="0.8" height="0.8" fill="#9db2bc" opacity="0.7"/><rect x="89.17" y="291.6" width="0.8" height="0.8" fill="#b0c2ca" opacity="0.7"/><rect x="88.43" y="296.26" width="0.8" height="0.8" fill="#7b95a2" opacity="0.7"/><rect x="88.6" y="298.85" width="0.8" height="0.8" fill="#7b95a2" opacity="0.7"/><rect x="92.3" y="295.6" width="0.8" height="0.8" fill="#94aab6" opacity="0.7"/><rect x="89.59" y="297.13" width="0.8" height="0.8" fill="#7b95a2" opacity="0.7"/><rect x="90.69" y="292.2" width="0.8" height="0.8" fill="#7b95a2" opacity="0.7"/><rect x="87.32" y="295.97" width="0.8" height="0.8" fill="#b0c2ca" opacity="0.7"/><rect x="90.73" y="294.24" width="0.8" height="0.8" fill="#7b95a2" opacity="0.7"/><rect x="85.54" y="297.8" width="0.8" height="0.8" fill="#b0c2ca" opacity="0.7"/><rect x="88.57" y="293.05" width="0.8" height="0.8" fill="#9db2bc" opacity="0.7"/><rect x="92.85" y="298.22" width="0.8" height="0.8" fill="#8aa2ae" opacity="0.7"/><rect x="89.98" y="301.59" width="0.8" height="0.8" fill="#9db2bc" opacity="0.7"/><rect x="85.78" y="292.54" width="0.8" height="0.8" fill="#7b95a2" opacity="0.7"/><rect x="84.76" y="300.03" width="0.8" height="0.8" fill="#9db2bc" opacity="0.7"/><rect x="88.85" y="291.51" width="0.8" height="0.8" fill="#7b95a2" opacity="0.7"/><rect x="92.77" y="298.29" width="0.8" height="0.8" fill="#8aa2ae" opacity="0.7"/><rect x="88.24" y="297.21" width="0.8" height="0.8" fill="#b0c2ca" opacity="0.7"/><rect x="91.89" y="293.94" width="0.8" height="0.8" fill="#b0c2ca" opacity="0.7"/><rect x="98.08" y="301.2" width="0.8" height="0.8" fill="#8aa2ae" opacity="0.7"/><rect x="85.43" y="293.18" width="0.8" height="0.8" fill="#8aa2ae" opacity="0.7"/><rect x="93.73" y="292.85" width="0.8" height="0.8" fill="#9db2bc" opacity="0.7"/><rect x="81.57" y="295.05" width="0.8" height="0.8" fill="#8aa2ae" opacity="0.7"/><rect x="97.9" y="294.69" width="0.8" height="0.8" fill="#8aa2ae" opacity="0.7"/><rect x="89.96" y="293.22" width="0.8" height="0.8" fill="#b0c2ca" opacity="0.7"/><rect x="93.96" y="292.57" width="0.8" height="0.8" fill="#8aa2ae" opacity="0.7"/><rect x="91.35" y="298.53" width="0.8" height="0.8" fill="#9db2bc" opacity="0.7"/><rect x="84.16" y="296.25" width="0.8" height="0.8" fill="#8aa2ae" opacity="0.7"/><rect x="79.18" y="293.26" width="0.8" height="0.8" fill="#8aa2ae" opacity="0.7"/><rect x="86.25" y="294.34" width="0.8" height="0.8" fill="#9db2bc" opacity="0.7"/><rect x="87.75" y="295.52" width="0.8" height="0.8" fill="#9db2bc" opacity="0.7"/><rect x="91.98" y="291.79" width="0.8" height="0.8" fill="#8aa2ae" opacity="0.7"/><rect x="88.7" y="292.94" width="0.8" height="0.8" fill="#94aab6" opacity="0.7"/><rect x="91.81" y="292.62" width="0.8" height="0.8" fill="#7b95a2" opacity="0.7"/><rect x="85.55" y="298.4" width="0.8" height="0.8" fill="#94aab6" opacity="0.7"/><rect x="87.34" y="295.97" width="0.8" height="0.8" fill="#b0c2ca" opacity="0.7"/><rect x="97.91" y="292.57" width="0.8" height="0.8" fill="#7b95a2" opacity="0.7"/><rect x="84.81" y="294.09" width="0.8" height="0.8" fill="#b0c2ca" opacity="0.7"/><rect x="86.16" y="293.4" width="0.8" height="0.8" fill="#b0c2ca" opacity="0.7"/><rect x="94.58" y="297.75" width="0.8" height="0.8" fill="#8aa2ae" opacity="0.7"/><rect x="88.59" y="297.52" width="0.8" height="0.8" fill="#7b95a2" opacity="0.7"/><rect x="85.51" y="299.29" width="0.8" height="0.8" fill="#9db2bc" opacity="0.7"/><rect x="91.44" y="298.23" width="0.8" height="0.8" fill="#8aa2ae" opacity="0.7"/><rect x="92.84" y="298.99" width="0.8" height="0.8" fill="#8aa2ae" opacity="0.7"/><rect x="83.11" y="295.11" width="0.8" height="0.8" fill="#b0c2ca" opacity="0.7"/><rect x="84.22" y="292.77" width="0.8" height="0.8" fill="#94aab6" opacity="0.7"/><rect x="96.15" y="291.45" width="0.8" height="0.8" fill="#b0c2ca" opacity="0.7"/><rect x="81.78" y="291.84" width="0.8" height="0.8" fill="#b0c2ca" opacity="0.7"/><rect x="88.86" y="298.69" width="0.8" height="0.8" fill="#b0c2ca" opacity="0.7"/><rect x="87.13" y="292.89" width="0.8" height="0.8" fill="#94aab6" opacity="0.7"/><rect x="87.47" y="298.99" width="0.8" height="0.8" fill="#7b95a2" opacity="0.7"/><rect x="95.91" y="295.46" width="0.8" height="0.8" fill="#9db2bc" opacity="0.7"/><rect x="95.46" y="295.47" width="0.8" height="0.8" fill="#7b95a2" opacity="0.7"/><rect x="92.77" y="294.59" width="0.8" height="0.8" fill="#7b95a2" opacity="0.7"/><rect x="82.79" y="292.22" width="0.8" height="0.8" fill="#9db2bc" opacity="0.7"/><rect x="89.97" y="291.41" width="0.8" height="0.8" fill="#94aab6" opacity="0.7"/><rect x="86.06" y="294.05" width="0.8" height="0.8" fill="#9db2bc" opacity="0.7"/><rect x="89.57" y="294.94" width="0.8" height="0.8" fill="#9db2bc" opacity="0.7"/><rect x="92.27" y="297.66" width="0.8" height="0.8" fill="#9db2bc" opacity="0.7"/><rect x="82.49" y="298.93" width="0.8" height="0.8" fill="#8aa2ae" opacity="0.7"/><rect x="86.21" y="295.83" width="0.8" height="0.8" fill="#b0c2ca" opacity="0.7"/><rect x="90.19" y="293.5" width="0.8" height="0.8" fill="#7b95a2" opacity="0.7"/><rect x="84.96" y="294.9" width="0.8" height="0.8" fill="#94aab6" opacity="0.7"/><rect x="82.98" y="292.16" width="0.8" height="0.8" fill="#8aa2ae" opacity="0.7"/><rect x="87.58" y="295.66" width="0.8" height="0.8" fill="#b0c2ca" opacity="0.7"/><rect x="86.42" y="296.74" width="0.8" height="0.8" fill="#b0c2ca" opacity="0.7"/><rect x="87.84" y="294.6" width="0.8" height="0.8" fill="#94aab6" opacity="0.7"/><rect x="92.46" y="297.75" width="0.8" height="0.8" fill="#7b95a2" opacity="0.7"/><rect x="81.16" y="291.94" width="0.8" height="0.8" fill="#94aab6" opacity="0.7"/><rect x="85.19" y="294.84" width="0.8" height="0.8" fill="#b0c2ca" opacity="0.7"/><rect x="88.09" y="298.03" width="0.8" height="0.8" fill="#8aa2ae" opacity="0.7"/><rect x="86.7" y="292.17" width="0.8" height="0.8" fill="#9db2bc" opacity="0.7"/><rect x="86.11" y="297.52" width="0.8" height="0.8" fill="#7b95a2" opacity="0.7"/><rect x="88.07" y="295.48" width="0.8" height="0.8" fill="#b0c2ca" opacity="0.7"/><rect x="93.93" y="295.41" width="0.8" height="0.8" fill="#8aa2ae" opacity="0.7"/><rect x="89.71" y="296.61" width="0.8" height="0.8" fill="#7b95a2" opacity="0.7"/><rect x="84.78" y="294.78" width="0.8" height="0.8" fill="#8aa2ae" opacity="0.7"/><rect x="87.25" y="296.34" width="0.8" height="0.8" fill="#8aa2ae" opacity="0.7"/><rect x="87.26" y="295.63" width="0.8" height="0.8" fill="#b0c2ca" opacity="0.7"/><rect x="82.24" y="294.39" width="0.8" height="0.8" fill="#7b95a2" opacity="0.7"/><rect x="85.36" y="295.51" width="0.8" height="0.8" fill="#94aab6" opacity="0.7"/><rect x="92.78" y="296.65" width="0.8" height="0.8" fill="#94aab6" opacity="0.7"/><rect x="83.26" y="296.93" width="0.8" height="0.8" fill="#7b95a2" opacity="0.7"/><rect x="89.45" y="293.03" width="0.8" height="0.8" fill="#b0c2ca" opacity="0.7"/><rect x="83.94" y="295.77" width="0.8" height="0.8" fill="#b0c2ca" opacity="0.7"/><rect x="94.54" y="294.33" width="0.8" height="0.8" fill="#8aa2ae" opacity="0.7"/><rect x="93.02" y="295.6" width="0.8" height="0.8" fill="#b0c2ca" opacity="0.7"/><rect x="86.64" y="296.7" width="0.8" height="0.8" fill="#b0c2ca" opacity="0.7"/><rect x="88.99" y="293.11" width="0.8" height="0.8" fill="#b0c2ca" opacity="0.7"/><rect x="82.46" y="291.74" width="0.8" height="0.8" fill="#8aa2ae" opacity="0.7"/><rect x="84.42" y="298.89" width="0.8" height="0.8" fill="#b0c2ca" opacity="0.7"/><rect x="77.63" y="294.47" width="0.8" height="0.8" fill="#7b95a2" opacity="0.7"/><rect x="80.45" y="294.36" width="0.8" height="0.8" fill="#b0c2ca" opacity="0.7"/><rect x="90.7" y="293.88" width="0.8" height="0.8" fill="#8aa2ae" opacity="0.7"/><rect x="87.44" y="291.8" width="0.8" height="0.8" fill="#b0c2ca" opacity="0.7"/><rect x="95.03" y="295.98" width="0.8" height="0.8" fill="#94aab6" opacity="0.7"/><rect x="79.62" y="294.15" width="0.8" height="0.8" fill="#9db2bc" opacity="0.7"/><rect x="86.86" y="297.19" width="0.8" height="0.8" fill="#8aa2ae" opacity="0.7"/><rect x="80.63" y="294.09" width="0.8" height="0.8" fill="#94aab6" opacity="0.7"/><rect x="91.32" y="295.5" width="0.8" height="0.8" fill="#8aa2ae" opacity="0.7"/><rect x="90.07" y="293.5" width="0.8" height="0.8" fill="#7b95a2" opacity="0.7"/><rect x="93.2" y="305.14" width="0.8" height="0.8" fill="#9db2bc" opacity="0.7"/><rect x="92.04" y="291.7" width="0.8" height="0.8" fill="#7b95a2" opacity="0.7"/><rect x="92.24" y="294.05" width="0.8" height="0.8" fill="#7b95a2" opacity="0.7"/><rect x="82.81" y="293.53" width="0.8" height="0.8" fill="#b0c2ca" opacity="0.7"/><rect x="86.48" y="295.44" width="0.8" height="0.8" fill="#9db2bc" opacity="0.7"/><rect x="93.98" y="298.35" width="0.8" height="0.8" fill="#94aab6" opacity="0.7"/><rect x="88.06" y="294.89" width="0.8" height="0.8" fill="#8aa2ae" opacity="0.7"/><rect x="90.04" y="298.69" width="0.8" height="0.8" fill="#b0c2ca" opacity="0.7"/><rect x="84.01" y="298.2" width="0.8" height="0.8" fill="#9db2bc" opacity="0.7"/><rect x="82.46" y="298.39" width="0.8" height="0.8" fill="#9db2bc" opacity="0.7"/><rect x="80.96" y="293.6" width="0.8" height="0.8" fill="#8aa2ae" opacity="0.7"/><rect x="88.12" y="292.07" width="0.8" height="0.8" fill="#8aa2ae" opacity="0.7"/><rect x="82.99" y="295.03" width="0.8" height="0.8" fill="#7b95a2" opacity="0.7"/><rect x="91.5" y="292.21" width="0.8" height="0.8" fill="#b0c2ca" opacity="0.7"/><rect x="86.25" y="299.31" width="0.8" height="0.8" fill="#94aab6" opacity="0.7"/><rect x="76.78" y="300.93" width="0.7" height="0.7" fill="#8fa6b0" opacity="0.7"/><rect x="76.96" y="296.48" width="0.7" height="0.7" fill="#8fa6b0" opacity="0.7"/><rect x="76.13" y="295.96" width="0.7" height="0.7" fill="#8fa6b0" opacity="0.7"/><rect x="77.17" y="294.74" width="0.7" height="0.7" fill="#8fa6b0" opacity="0.7"/><rect x="76.02" y="311.36" width="0.7" height="0.7" fill="#8fa6b0" opacity="0.7"/><rect x="77.1" y="302.94" width="0.7" height="0.7" fill="#8fa6b0" opacity="0.7"/><rect x="75.82" y="307.87" width="0.7" height="0.7" fill="#8fa6b0" opacity="0.7"/><rect x="76.98" y="295.61" width="0.7" height="0.7" fill="#8fa6b0" opacity="0.7"/><rect x="76.15" y="307.85" width="0.7" height="0.7" fill="#8fa6b0" opacity="0.7"/><rect x="77" y="309.64" width="0.7" height="0.7" fill="#8fa6b0" opacity="0.7"/><rect x="76.66" y="295.5" width="0.7" height="0.7" fill="#8fa6b0" opacity="0.7"/><rect x="77.04" y="307.74" width="0.7" height="0.7" fill="#8fa6b0" opacity="0.7"/><rect x="76.63" y="302.24" width="0.7" height="0.7" fill="#8fa6b0" opacity="0.7"/><rect x="76.12" y="294.01" width="0.7" height="0.7" fill="#8fa6b0" opacity="0.7"/><rect x="75.88" y="296.92" width="0.7" height="0.7" fill="#8fa6b0" opacity="0.7"/><rect x="77.13" y="307.54" width="0.7" height="0.7" fill="#8fa6b0" opacity="0.7"/><rect x="76.51" y="301.34" width="0.7" height="0.7" fill="#8fa6b0" opacity="0.7"/><rect x="77.19" y="312.32" width="0.7" height="0.7" fill="#8fa6b0" opacity="0.7"/><rect x="76.01" y="295.52" width="0.7" height="0.7" fill="#8fa6b0" opacity="0.7"/><rect x="76.51" y="308.68" width="0.7" height="0.7" fill="#8fa6b0" opacity="0.7"/><rect x="77.2" y="309.54" width="0.7" height="0.7" fill="#8fa6b0" opacity="0.7"/><rect x="76.93" y="307.83" width="0.7" height="0.7" fill="#8fa6b0" opacity="0.7"/><rect x="76.3" y="297.68" width="0.7" height="0.7" fill="#8fa6b0" opacity="0.7"/><rect x="76.68" y="296.72" width="0.7" height="0.7" fill="#8fa6b0" opacity="0.7"/><rect x="77.31" y="306.64" width="0.7" height="0.7" fill="#8fa6b0" opacity="0.7"/><rect x="76.17" y="313.43" width="0.7" height="0.7" fill="#8fa6b0" opacity="0.7"/><rect x="76.32" y="295.43" width="0.7" height="0.7" fill="#8fa6b0" opacity="0.7"/><rect x="76.27" y="306.41" width="0.7" height="0.7" fill="#8fa6b0" opacity="0.7"/><rect x="76.91" y="296.36" width="0.7" height="0.7" fill="#8fa6b0" opacity="0.7"/><rect x="76.04" y="296.05" width="0.7" height="0.7" fill="#8fa6b0" opacity="0.7"/><rect x="76.33" y="300.83" width="0.7" height="0.7" fill="#8fa6b0" opacity="0.7"/><rect x="75.86" y="299.74" width="0.7" height="0.7" fill="#8fa6b0" opacity="0.7"/><rect x="76.85" y="296.63" width="0.7" height="0.7" fill="#8fa6b0" opacity="0.7"/><rect x="76.85" y="303.53" width="0.7" height="0.7" fill="#8fa6b0" opacity="0.7"/><rect x="75.92" y="302.78" width="0.7" height="0.7" fill="#8fa6b0" opacity="0.7"/><rect x="75.83" y="309.19" width="0.7" height="0.7" fill="#8fa6b0" opacity="0.7"/><rect x="77.22" y="312.09" width="0.7" height="0.7" fill="#8fa6b0" opacity="0.7"/><rect x="76.12" y="298.16" width="0.7" height="0.7" fill="#8fa6b0" opacity="0.7"/><rect x="76.28" y="304.85" width="0.7" height="0.7" fill="#8fa6b0" opacity="0.7"/><rect x="77.01" y="296.43" width="0.7" height="0.7" fill="#8fa6b0" opacity="0.7"/><rect x="76.55" y="308.89" width="0.7" height="0.7" fill="#8fa6b0" opacity="0.7"/><rect x="77.02" y="311.89" width="0.7" height="0.7" fill="#8fa6b0" opacity="0.7"/><rect x="76.73" y="298.6" width="0.7" height="0.7" fill="#8fa6b0" opacity="0.7"/><rect x="76.73" y="294.21" width="0.7" height="0.7" fill="#8fa6b0" opacity="0.7"/><rect x="75.8" y="296.28" width="0.7" height="0.7" fill="#8fa6b0" opacity="0.7"/><rect x="76.04" y="298.6" width="0.7" height="0.7" fill="#8fa6b0" opacity="0.7"/><rect x="76.08" y="299.71" width="0.7" height="0.7" fill="#8fa6b0" opacity="0.7"/><rect x="76.57" y="299.25" width="0.7" height="0.7" fill="#8fa6b0" opacity="0.7"/><rect x="76.38" y="294.41" width="0.7" height="0.7" fill="#8fa6b0" opacity="0.7"/><rect x="77.13" y="309.8" width="0.7" height="0.7" fill="#8fa6b0" opacity="0.7"/><rect x="76.96" y="302.01" width="0.7" height="0.7" fill="#8fa6b0" opacity="0.7"/><rect x="77" y="294.48" width="0.7" height="0.7" fill="#8fa6b0" opacity="0.7"/><rect x="76.06" y="300.65" width="0.7" height="0.7" fill="#8fa6b0" opacity="0.7"/><rect x="75.86" y="292.87" width="0.7" height="0.7" fill="#8fa6b0" opacity="0.7"/><rect x="76.73" y="301.09" width="0.7" height="0.7" fill="#8fa6b0" opacity="0.7"/><rect x="76.91" y="301.14" width="0.7" height="0.7" fill="#8fa6b0" opacity="0.7"/><rect x="77.14" y="293.68" width="0.7" height="0.7" fill="#8fa6b0" opacity="0.7"/><rect x="76.96" y="308.15" width="0.7" height="0.7" fill="#8fa6b0" opacity="0.7"/><rect x="76.38" y="306.58" width="0.7" height="0.7" fill="#8fa6b0" opacity="0.7"/><rect x="75.94" y="292.11" width="0.7" height="0.7" fill="#8fa6b0" opacity="0.7"/><rect x="76.83" y="310.41" width="0.7" height="0.7" fill="#8fa6b0" opacity="0.7"/><rect x="76.29" y="297.75" width="0.7" height="0.7" fill="#8fa6b0" opacity="0.7"/><rect x="75.97" y="297.25" width="0.7" height="0.7" fill="#8fa6b0" opacity="0.7"/><rect x="76.04" y="297.95" width="0.7" height="0.7" fill="#8fa6b0" opacity="0.7"/><rect x="76.67" y="299.13" width="0.7" height="0.7" fill="#8fa6b0" opacity="0.7"/><rect x="76.19" y="304.5" width="0.7" height="0.7" fill="#8fa6b0" opacity="0.7"/><rect x="75.87" y="297.64" width="0.7" height="0.7" fill="#8fa6b0" opacity="0.7"/><rect x="77.32" y="298.24" width="0.7" height="0.7" fill="#8fa6b0" opacity="0.7"/><rect x="76.69" y="313.74" width="0.7" height="0.7" fill="#8fa6b0" opacity="0.7"/><rect x="77.25" y="307.98" width="0.7" height="0.7" fill="#8fa6b0" opacity="0.7"/><rect x="102.83" y="295.36" width="0.6" height="0.6" fill="#c9d6dc" opacity="0.8"/><rect x="94.91" y="293.48" width="0.6" height="0.6" fill="#c9d6dc" opacity="0.8"/><rect x="94.17" y="303.08" width="0.6" height="0.6" fill="#c9d6dc" opacity="0.8"/><rect x="105.83" y="294.95" width="0.6" height="0.6" fill="#c9d6dc" opacity="0.8"/><rect x="106.59" y="293.22" width="0.6" height="0.6" fill="#c9d6dc" opacity="0.8"/><rect x="96.28" y="303.78" width="0.6" height="0.6" fill="#c9d6dc" opacity="0.8"/><rect x="111.17" y="297.94" width="0.6" height="0.6" fill="#c9d6dc" opacity="0.8"/><rect x="104.44" y="293.53" width="0.6" height="0.6" fill="#c9d6dc" opacity="0.8"/><rect x="103.46" y="293.69" width="0.6" height="0.6" fill="#c9d6dc" opacity="0.8"/><rect x="105.15" y="295.05" width="0.6" height="0.6" fill="#c9d6dc" opacity="0.8"/><rect x="97.58" y="302.85" width="0.6" height="0.6" fill="#c9d6dc" opacity="0.8"/><rect x="102.43" y="303.47" width="0.6" height="0.6" fill="#c9d6dc" opacity="0.8"/><rect x="107.98" y="293.02" width="0.6" height="0.6" fill="#c9d6dc" opacity="0.8"/><rect x="99.27" y="293.37" width="0.6" height="0.6" fill="#c9d6dc" opacity="0.8"/><rect x="97.07" y="302.82" width="0.6" height="0.6" fill="#c9d6dc" opacity="0.8"/><rect x="96.34" y="296.25" width="0.6" height="0.6" fill="#c9d6dc" opacity="0.8"/><rect x="94.71" y="302.63" width="0.6" height="0.6" fill="#c9d6dc" opacity="0.8"/><rect x="103.85" y="294.56" width="0.6" height="0.6" fill="#c9d6dc" opacity="0.8"/><rect x="98.91" y="305.04" width="0.6" height="0.6" fill="#c9d6dc" opacity="0.8"/><rect x="107.36" y="292.45" width="0.6" height="0.6" fill="#c9d6dc" opacity="0.8"/><rect x="107.4" y="294.07" width="0.6" height="0.6" fill="#c9d6dc" opacity="0.8"/><rect x="102.41" y="294.34" width="0.6" height="0.6" fill="#c9d6dc" opacity="0.8"/><rect x="107.56" y="302.78" width="0.6" height="0.6" fill="#c9d6dc" opacity="0.8"/><rect x="96.87" y="304.95" width="0.6" height="0.6" fill="#c9d6dc" opacity="0.8"/><rect x="105.55" y="301.92" width="0.6" height="0.6" fill="#c9d6dc" opacity="0.8"/><rect x="94.4" y="292.04" width="0.6" height="0.6" fill="#c9d6dc" opacity="0.8"/><rect x="109.05" y="292.53" width="0.6" height="0.6" fill="#c9d6dc" opacity="0.8"/><rect x="102.66" y="296.62" width="0.6" height="0.6" fill="#c9d6dc" opacity="0.8"/><rect x="94.44" y="300.45" width="0.6" height="0.6" fill="#c9d6dc" opacity="0.8"/><rect x="94.33" y="304.13" width="0.6" height="0.6" fill="#c9d6dc" opacity="0.8"/><rect x="94.11" y="297.12" width="0.6" height="0.6" fill="#c9d6dc" opacity="0.8"/><rect x="100.6" y="301.11" width="0.6" height="0.6" fill="#c9d6dc" opacity="0.8"/><rect x="110.68" y="300.16" width="0.6" height="0.6" fill="#c9d6dc" opacity="0.8"/><rect x="107.66" y="298.9" width="0.6" height="0.6" fill="#c9d6dc" opacity="0.8"/><rect x="107.1" y="298.95" width="0.6" height="0.6" fill="#c9d6dc" opacity="0.8"/><rect x="97.87" y="301.71" width="0.6" height="0.6" fill="#c9d6dc" opacity="0.8"/><rect x="98.65" y="292.74" width="0.6" height="0.6" fill="#c9d6dc" opacity="0.8"/><rect x="101.59" y="303.04" width="0.6" height="0.6" fill="#c9d6dc" opacity="0.8"/><rect x="105.44" y="294.31" width="0.6" height="0.6" fill="#c9d6dc" opacity="0.8"/><rect x="100.14" y="300.96" width="0.6" height="0.6" fill="#c9d6dc" opacity="0.8"/><rect x="110.08" y="299.18" width="0.6" height="0.6" fill="#c9d6dc" opacity="0.8"/><rect x="106.66" y="300.31" width="0.6" height="0.6" fill="#c9d6dc" opacity="0.8"/><rect x="104.99" y="300.86" width="0.6" height="0.6" fill="#c9d6dc" opacity="0.8"/><rect x="94.42" y="302.96" width="0.6" height="0.6" fill="#c9d6dc" opacity="0.8"/><rect x="107.64" y="302.51" width="0.6" height="0.6" fill="#c9d6dc" opacity="0.8"/><rect x="108.45" y="295.36" width="0.6" height="0.6" fill="#c9d6dc" opacity="0.8"/><rect x="103.78" y="299.86" width="0.6" height="0.6" fill="#c9d6dc" opacity="0.8"/><rect x="109" y="300.05" width="0.6" height="0.6" fill="#c9d6dc" opacity="0.8"/><rect x="110" y="304.45" width="0.6" height="0.6" fill="#c9d6dc" opacity="0.8"/><rect x="94.1" y="301.29" width="0.6" height="0.6" fill="#c9d6dc" opacity="0.8"/></g><rect x="75.2" y="277.2" width="46.9" height="47" fill="none" stroke="#333" stroke-width="0.6"/><rect x="75.5" y="277.5" width="46.3" height="13.6" fill="none" stroke="#111" stroke-width="0.9"/><text x="77.4" y="283.4" font-size="5.6" fill="#222" stroke="#222">TUNEL positive</text><text x="101.7" y="289.4" font-size="5.6" fill="#222" stroke="#222" text-anchor="middle">5.37</text><text x="74.8" y="279.3" font-size="5.4" fill="#444" stroke="#444" text-anchor="end">10<tspan font-size="3.24" dy="-2">5</tspan></text><text x="74.8" y="296.8" font-size="5.4" fill="#444" stroke="#444" text-anchor="end">10<tspan font-size="3.24" dy="-2">4</tspan></text><text x="74.8" y="315.6" font-size="5.4" fill="#444" stroke="#444" text-anchor="end">10<tspan font-size="3.24" dy="-2">3</tspan></text><text x="76.3" y="330.1" font-size="5.4" fill="#444" stroke="#444" text-anchor="middle">0</text><text x="93.2" y="330.1" font-size="5.4" fill="#444" stroke="#444" text-anchor="middle">100K</text><text x="110.7" y="330.1" font-size="5.4" fill="#444" stroke="#444" text-anchor="middle">200K</text><text x="8.2" y="309" font-size="5.6" fill="#333" stroke="#333" text-anchor="middle" transform="rotate(-90 8.2 309)">TUNEL-Alexa488</text><line x1="11" y1="331.6" x2="11" y2="314.5" stroke="#222" stroke-width="0.7"/><path d="M11,313.2 L10.1,315.4 L11.9,315.4 Z" stroke="none" stroke-width="0.6" fill="#333"/><line x1="11" y1="331.6" x2="28.5" y2="331.6" stroke="#222" stroke-width="0.7"/><path d="M29.9,331.6 L27.7,330.7 L27.7,332.5 Z" stroke="none" stroke-width="0.6" fill="#333"/><text x="15.8" y="334.2" font-size="5" fill="#333" stroke="#333" text-anchor="middle" transform="rotate(-90 15.8 334.2)">PI</text><text x="135.6" y="261.4" font-size="12" fill="#000" stroke="#000" font-weight="bold">J</text><line x1="160" y1="263.4" x2="160" y2="329.2" stroke="#333" stroke-width="0.6"/><line x1="160" y1="329.2" x2="244.5" y2="329.2" stroke="#333" stroke-width="0.6"/><line x1="158.4" y1="329.2" x2="160" y2="329.2" stroke="#333" stroke-width="0.6"/><text x="157.8" y="331" font-size="5.2" fill="#444" stroke="#444" text-anchor="end">0</text><line x1="158.4" y1="316.1" x2="160" y2="316.1" stroke="#333" stroke-width="0.6"/><text x="157.8" y="317.9" font-size="5.2" fill="#444" stroke="#444" text-anchor="end">5</text><line x1="158.4" y1="303" x2="160" y2="303" stroke="#333" stroke-width="0.6"/><text x="157.8" y="304.8" font-size="5.2" fill="#444" stroke="#444" text-anchor="end">10</text><line x1="158.4" y1="289.9" x2="160" y2="289.9" stroke="#333" stroke-width="0.6"/><text x="157.8" y="291.7" font-size="5.2" fill="#444" stroke="#444" text-anchor="end">15</text><line x1="158.4" y1="276.8" x2="160" y2="276.8" stroke="#333" stroke-width="0.6"/><text x="157.8" y="278.6" font-size="5.2" fill="#444" stroke="#444" text-anchor="end">20</text><line x1="158.4" y1="263.7" x2="160" y2="263.7" stroke="#333" stroke-width="0.6"/><text x="157.8" y="265.5" font-size="5.2" fill="#444" stroke="#444" text-anchor="end">25</text><text x="139.3" y="296.4" font-size="5.6" fill="#333" stroke="#333" text-anchor="middle" transform="rotate(-90 139.3 296.4)">Fraction of TUNEL</text><text x="145.4" y="296.4" font-size="5.6" fill="#333" stroke="#333" text-anchor="middle" transform="rotate(-90 145.4 296.4)">positive cells (% cells)</text><text x="241.4" y="267.9" font-size="5.6" fill="#222" stroke="#222" text-anchor="end">DMSO</text><text x="241.4" y="274.7" font-size="5.6" fill="#e8262d" stroke="#e8262d" text-anchor="end">Elimusertib</text><text x="160.4" y="335.2" font-size="5.6" fill="#333" stroke="#333" text-anchor="end">Elim.</text><rect x="163.25" y="315.58" width="4.1" height="13.62" fill="#111"/><rect x="169.05" y="275.49" width="4.1" height="53.71" fill="#e8262d"/><circle cx="165.3" cy="316.18" r="1.05" fill="#ccc" stroke="#333" stroke-width="0.55"/><circle cx="171.1" cy="276.09" r="1.05" fill="#ccc" stroke="#333" stroke-width="0.55"/><line x1="162.8" y1="268.49" x2="173.6" y2="268.49" stroke="#666" stroke-width="0.5"/><text x="168.2" y="270.49" font-size="5.8" fill="#555" stroke="#555" text-anchor="middle">**</text><text x="165.3" y="334.6" font-size="4.6" fill="#aaa" stroke="#aaa" text-anchor="middle">–</text><text x="171.1" y="334.8" font-size="5.2" fill="#333" stroke="#333" text-anchor="middle">+</text><line x1="162.9" y1="337.5" x2="173.5" y2="337.5" stroke="#444" stroke-width="0.6"/><text x="170.8" y="342.6" font-size="5.5" fill="#e8434b" stroke="#e8434b" text-anchor="end" transform="rotate(-45 170.8 342.6)">Rh4</text><rect x="177.15" y="327.1" width="4.1" height="2.1" fill="#111"/><rect x="182.95" y="326.06" width="4.1" height="3.14" fill="#e8262d"/><circle cx="179.2" cy="327.7" r="1.05" fill="#ccc" stroke="#333" stroke-width="0.55"/><circle cx="185" cy="326.66" r="1.05" fill="#ccc" stroke="#333" stroke-width="0.55"/><line x1="176.7" y1="321.86" x2="187.5" y2="321.86" stroke="#666" stroke-width="0.5"/><text x="182.1" y="321.46" font-size="4.4" fill="#555" stroke="#555" text-anchor="middle">n.s.</text><text x="179.2" y="334.6" font-size="4.6" fill="#aaa" stroke="#aaa" text-anchor="middle">–</text><text x="185" y="334.8" font-size="5.2" fill="#333" stroke="#333" text-anchor="middle">+</text><line x1="176.8" y1="337.5" x2="187.4" y2="337.5" stroke="#444" stroke-width="0.6"/><text x="184.7" y="342.6" font-size="5.5" fill="#3f4f9a" stroke="#3f4f9a" text-anchor="end" transform="rotate(-45 184.7 342.6)">T174</text><rect x="191.05" y="318.72" width="4.1" height="10.48" fill="#111"/><rect x="196.85" y="314.27" width="4.1" height="14.93" fill="#e8262d"/><circle cx="193.1" cy="319.32" r="1.05" fill="#ccc" stroke="#333" stroke-width="0.55"/><circle cx="198.9" cy="314.87" r="1.05" fill="#ccc" stroke="#333" stroke-width="0.55"/><line x1="190.6" y1="310.07" x2="201.4" y2="310.07" stroke="#666" stroke-width="0.5"/><text x="196" y="312.07" font-size="5.8" fill="#555" stroke="#555" text-anchor="middle">**</text><text x="193.1" y="334.6" font-size="4.6" fill="#aaa" stroke="#aaa" text-anchor="middle">–</text><text x="198.9" y="334.8" font-size="5.2" fill="#333" stroke="#333" text-anchor="middle">+</text><line x1="190.7" y1="337.5" x2="201.3" y2="337.5" stroke="#444" stroke-width="0.6"/><text x="198.6" y="342.6" font-size="5.5" fill="#9067bb" stroke="#9067bb" text-anchor="end" transform="rotate(-45 198.6 342.6)">TC-253</text><rect x="204.95" y="304.83" width="4.1" height="24.37" fill="#111"/><rect x="210.75" y="295.66" width="4.1" height="33.54" fill="#e8262d"/><circle cx="207" cy="305.43" r="1.05" fill="#ccc" stroke="#333" stroke-width="0.55"/><circle cx="212.8" cy="296.26" r="1.05" fill="#ccc" stroke="#333" stroke-width="0.55"/><line x1="204.5" y1="291.46" x2="215.3" y2="291.46" stroke="#666" stroke-width="0.5"/><text x="209.9" y="293.46" font-size="5.8" fill="#555" stroke="#555" text-anchor="middle">**</text><text x="207" y="334.6" font-size="4.6" fill="#aaa" stroke="#aaa" text-anchor="middle">–</text><text x="212.8" y="334.8" font-size="5.2" fill="#333" stroke="#333" text-anchor="middle">+</text><line x1="204.6" y1="337.5" x2="215.2" y2="337.5" stroke="#444" stroke-width="0.6"/><text x="212.5" y="342.6" font-size="5.5" fill="#9067bb" stroke="#9067bb" text-anchor="end" transform="rotate(-45 212.5 342.6)">5838</text><rect x="218.85" y="324.48" width="4.1" height="4.72" fill="#111"/><rect x="224.65" y="323.44" width="4.1" height="5.76" fill="#e8262d"/><circle cx="220.9" cy="325.08" r="1.05" fill="#ccc" stroke="#333" stroke-width="0.55"/><circle cx="226.7" cy="324.04" r="1.05" fill="#ccc" stroke="#333" stroke-width="0.55"/><line x1="218.4" y1="319.24" x2="229.2" y2="319.24" stroke="#666" stroke-width="0.5"/><text x="223.8" y="321.24" font-size="5.8" fill="#555" stroke="#555" text-anchor="middle">**</text><text x="220.9" y="334.6" font-size="4.6" fill="#aaa" stroke="#aaa" text-anchor="middle">–</text><text x="226.7" y="334.8" font-size="5.2" fill="#333" stroke="#333" text-anchor="middle">+</text><line x1="218.5" y1="337.5" x2="229.1" y2="337.5" stroke="#444" stroke-width="0.6"/><text x="226.4" y="342.6" font-size="5.5" fill="#f08a50" stroke="#f08a50" text-anchor="end" transform="rotate(-45 226.4 342.6)">IMR-5/75</text><rect x="232.75" y="324.48" width="4.1" height="4.72" fill="#111"/><rect x="238.55" y="286.76" width="4.1" height="42.44" fill="#e8262d"/><circle cx="234.8" cy="325.08" r="1.05" fill="#ccc" stroke="#333" stroke-width="0.55"/><circle cx="240.6" cy="287.36" r="1.05" fill="#ccc" stroke="#333" stroke-width="0.55"/><line x1="232.3" y1="282.56" x2="243.1" y2="282.56" stroke="#666" stroke-width="0.5"/><text x="237.7" y="284.56" font-size="5.8" fill="#555" stroke="#555" text-anchor="middle">**</text><text x="234.8" y="334.6" font-size="4.6" fill="#aaa" stroke="#aaa" text-anchor="middle">–</text><text x="240.6" y="334.8" font-size="5.2" fill="#333" stroke="#333" text-anchor="middle">+</text><line x1="232.4" y1="337.5" x2="243" y2="337.5" stroke="#444" stroke-width="0.6"/><text x="240.3" y="342.6" font-size="5.5" fill="#3a9a5a" stroke="#3a9a5a" text-anchor="end" transform="rotate(-45 240.3 342.6)">SK-N-AS</text><text x="4.3" y="377.6" font-size="12" fill="#000" stroke="#000" font-weight="bold">K</text><text x="42.9" y="392" font-size="5.6" fill="#222" stroke="#222" text-anchor="middle">DMSO</text><defs><linearGradient id="sg" x1="0" y1="0" x2="0" y2="1"><stop offset="0" stop-color="#f4f8fb"/><stop offset="1" stop-color="#d3e8f3"/></linearGradient></defs><rect x="24.7" y="394.6" width="16" height="22.2" fill="url(#sg)"/><path d="M28.4,416.4 C29.0,410 30.5,406.2 32.2,406.2 C34.0,406.2 35.2,410 35.9,414.8" fill="#c4dcea" stroke="#4f6f8c" stroke-width="1.15"/><rect x="26.76" y="427.74" width="0.7" height="0.7" fill="#7fa0a8"/><rect x="29.32" y="428.26" width="0.7" height="0.7" fill="#7fa0a8"/><rect x="29.09" y="426.72" width="0.7" height="0.7" fill="#7fa0a8"/><rect x="27.9" y="426.63" width="0.7" height="0.7" fill="#7fa0a8"/><rect x="28.23" y="424.89" width="0.7" height="0.7" fill="#9db56a"/><rect x="28.08" y="429.51" width="0.7" height="0.7" fill="#7fa0a8"/><rect x="26.66" y="424.57" width="0.7" height="0.7" fill="#7fa0a8"/><rect x="29.07" y="425.45" width="0.7" height="0.7" fill="#9db56a"/><rect x="26.68" y="426.19" width="0.7" height="0.7" fill="#7fa0a8"/><rect x="30.19" y="423.36" width="0.7" height="0.7" fill="#7fa0a8"/><rect x="29.25" y="424.07" width="0.7" height="0.7" fill="#b8c890"/><rect x="30.72" y="428.07" width="0.7" height="0.7" fill="#9db56a"/><rect x="28.58" y="423.76" width="0.7" height="0.7" fill="#9db56a"/><rect x="29.99" y="423.9" width="0.7" height="0.7" fill="#7fa0a8"/><rect x="29.39" y="422.24" width="0.7" height="0.7" fill="#b8c890"/><rect x="27.88" y="428.82" width="0.7" height="0.7" fill="#7fa0a8"/><rect x="27.79" y="428.76" width="0.7" height="0.7" fill="#b8c890"/><rect x="29.26" y="421.89" width="0.7" height="0.7" fill="#9db56a"/><rect x="28.06" y="428.53" width="0.7" height="0.7" fill="#9db56a"/><rect x="28.31" y="429.45" width="0.7" height="0.7" fill="#7fa0a8"/><rect x="26.46" y="427.37" width="0.7" height="0.7" fill="#b8c890"/><rect x="27.44" y="421.01" width="0.7" height="0.7" fill="#b8c890"/><rect x="27.99" y="426.66" width="0.7" height="0.7" fill="#9db56a"/><rect x="26.04" y="429.29" width="0.7" height="0.7" fill="#7fa0a8"/><rect x="27.94" y="426.24" width="0.7" height="0.7" fill="#7fa0a8"/><rect x="27.75" y="422.66" width="0.7" height="0.7" fill="#7fa0a8"/><rect x="26.96" y="426.32" width="0.7" height="0.7" fill="#7fa0a8"/><rect x="29.66" y="429.38" width="0.7" height="0.7" fill="#b8c890"/><rect x="29.96" y="424.93" width="0.7" height="0.7" fill="#b8c890"/><rect x="28.89" y="429.76" width="0.7" height="0.7" fill="#9db56a"/><rect x="30.13" y="421.19" width="0.7" height="0.7" fill="#7fa0a8"/><rect x="26.28" y="424.48" width="0.7" height="0.7" fill="#b8c890"/><rect x="29.83" y="427.5" width="0.7" height="0.7" fill="#9db56a"/><rect x="26.87" y="429.48" width="0.7" height="0.7" fill="#7fa0a8"/><rect x="30.3" y="428.91" width="0.7" height="0.7" fill="#9db56a"/><rect x="30.64" y="421.88" width="0.7" height="0.7" fill="#b8c890"/><rect x="23.67" y="421.74" width="0.7" height="0.7" fill="#b8c890"/><rect x="27.97" y="426.41" width="0.7" height="0.7" fill="#7fa0a8"/><rect x="27.53" y="427.73" width="0.7" height="0.7" fill="#9db56a"/><rect x="27.51" y="424.21" width="0.7" height="0.7" fill="#7fa0a8"/><rect x="34.8" y="425.09" width="0.7" height="0.7" fill="#b8c8d8"/><rect x="34.31" y="423.44" width="0.7" height="0.7" fill="#b8c8d8"/><rect x="35.82" y="420.46" width="0.7" height="0.7" fill="#b8c8d8"/><rect x="35.22" y="426.43" width="0.7" height="0.7" fill="#b8c8d8"/><rect x="36.88" y="426.27" width="0.7" height="0.7" fill="#9fb4c8"/><rect x="35.66" y="420.46" width="0.7" height="0.7" fill="#9fb4c8"/><rect x="35.01" y="424.29" width="0.7" height="0.7" fill="#b8c8d8"/><rect x="33.62" y="425.99" width="0.7" height="0.7" fill="#b8c8d8"/><rect x="37.01" y="421.78" width="0.7" height="0.7" fill="#b8c8d8"/><rect x="36" y="420.78" width="0.7" height="0.7" fill="#b8c8d8"/><rect x="37.39" y="425.13" width="0.7" height="0.7" fill="#b8c8d8"/><rect x="35.62" y="422.55" width="0.7" height="0.7" fill="#b8c8d8"/><rect x="36.59" y="420.01" width="0.7" height="0.7" fill="#b8c8d8"/><rect x="34.78" y="423.51" width="0.7" height="0.7" fill="#b8c8d8"/><rect x="34.73" y="421.83" width="0.7" height="0.7" fill="#9fb4c8"/><rect x="34.49" y="421.51" width="0.7" height="0.7" fill="#b8c8d8"/><rect x="34.87" y="422.71" width="0.7" height="0.7" fill="#9fb4c8"/><rect x="34.06" y="421.48" width="0.7" height="0.7" fill="#b8c8d8"/><rect x="35.93" y="426.3" width="0.7" height="0.7" fill="#9fb4c8"/><rect x="34.92" y="421.34" width="0.7" height="0.7" fill="#9fb4c8"/><rect x="38.55" y="424.1" width="0.7" height="0.7" fill="#b8c8d8"/><rect x="36.82" y="424.42" width="0.7" height="0.7" fill="#b8c8d8"/><rect x="36.11" y="419.63" width="0.7" height="0.7" fill="#9fb4c8"/><rect x="37.17" y="425.78" width="0.7" height="0.7" fill="#b8c8d8"/><rect x="37.24" y="427.37" width="0.7" height="0.7" fill="#9fb4c8"/><rect x="19.7" y="394.4" width="46.4" height="46.8" fill="none" stroke="#333" stroke-width="0.6"/><rect x="24.4" y="394.6" width="16.3" height="22.2" fill="none" stroke="#555" stroke-width="0.7"/><rect x="25" y="419.4" width="8.1" height="10.6" fill="none" stroke="#555" stroke-width="0.7"/><rect x="33.5" y="417.5" width="6.8" height="11.9" fill="none" stroke="#333" stroke-width="0.8"/><text x="49.2" y="401.9" font-size="5.6" fill="#444" stroke="#444" text-anchor="middle">S</text><text x="49.5" y="407.1" font-size="5.6" fill="#444" stroke="#444" text-anchor="middle">39.1</text><text x="41.6" y="426" font-size="5.6" fill="#444" stroke="#444">G<tspan font-size="3.6" dy="1.2">2</tspan><tspan dy="-1.2">–M</tspan></text><text x="42.3" y="431.7" font-size="5.6" fill="#444" stroke="#444">7.84</text><text x="25.6" y="434.4" font-size="5.2" fill="#222" stroke="#222">G<tspan font-size="3.4" dy="1.2">1</tspan></text><text x="23.2" y="440" font-size="5.6" fill="#222" stroke="#222">48.3</text><text x="19.3" y="403.3" font-size="5.4" fill="#444" stroke="#444" text-anchor="end">10<tspan font-size="3.24" dy="-2">5</tspan></text><text x="19.3" y="422.2" font-size="5.4" fill="#444" stroke="#444" text-anchor="end">10<tspan font-size="3.24" dy="-2">4</tspan></text><text x="19.3" y="441.8" font-size="5.4" fill="#444" stroke="#444" text-anchor="end">10<tspan font-size="3.24" dy="-2">3</tspan></text><text x="19.9" y="446.3" font-size="5.4" fill="#444" stroke="#444" text-anchor="middle">0</text><text x="37.5" y="446.3" font-size="5.4" fill="#444" stroke="#444" text-anchor="middle">100K</text><text x="55" y="446.3" font-size="5.4" fill="#444" stroke="#444" text-anchor="middle">200K</text><text x="98.8" y="392" font-size="5.6" fill="#e8434b" stroke="#e8434b" text-anchor="middle">Elimusertib</text><rect x="80.6" y="395" width="16" height="22.5" fill="#e8eef6" opacity="0.6"/><rect x="83.75" y="409.54" width="0.7" height="0.7" fill="#b8c8e0"/><rect x="88.59" y="415.75" width="0.7" height="0.7" fill="#c8d4e8"/><rect x="84.93" y="404.4" width="0.7" height="0.7" fill="#9fb2d0"/><rect x="89.12" y="399.9" width="0.7" height="0.7" fill="#a8bcd8"/><rect x="85.31" y="407.17" width="0.7" height="0.7" fill="#9fb2d0"/><rect x="84.76" y="398.8" width="0.7" height="0.7" fill="#c8d4e8"/><rect x="82.07" y="410.32" width="0.7" height="0.7" fill="#9fb2d0"/><rect x="88.33" y="408.05" width="0.7" height="0.7" fill="#a8bcd8"/><rect x="88.2" y="408.13" width="0.7" height="0.7" fill="#9fb2d0"/><rect x="89.26" y="412.49" width="0.7" height="0.7" fill="#a8bcd8"/><rect x="93.14" y="399.17" width="0.7" height="0.7" fill="#a8bcd8"/><rect x="81.26" y="414.88" width="0.7" height="0.7" fill="#9fb2d0"/><rect x="88.08" y="414.45" width="0.7" height="0.7" fill="#a8bcd8"/><rect x="84.18" y="404.07" width="0.7" height="0.7" fill="#c8d4e8"/><rect x="82.88" y="410.95" width="0.7" height="0.7" fill="#c8d4e8"/><rect x="82.7" y="402.49" width="0.7" height="0.7" fill="#c8d4e8"/><rect x="83.76" y="410.2" width="0.7" height="0.7" fill="#b8c8e0"/><rect x="84.94" y="397.52" width="0.7" height="0.7" fill="#c8d4e8"/><rect x="91.93" y="400.59" width="0.7" height="0.7" fill="#9fb2d0"/><rect x="86.9" y="401.78" width="0.7" height="0.7" fill="#b8c8e0"/><rect x="86.83" y="416.52" width="0.7" height="0.7" fill="#b8c8e0"/><rect x="93.91" y="398.32" width="0.7" height="0.7" fill="#a8bcd8"/><rect x="89.58" y="402.18" width="0.7" height="0.7" fill="#c8d4e8"/><rect x="91.94" y="400.84" width="0.7" height="0.7" fill="#a8bcd8"/><rect x="87.23" y="401.92" width="0.7" height="0.7" fill="#b8c8e0"/><rect x="88.43" y="413.03" width="0.7" height="0.7" fill="#c8d4e8"/><rect x="90.04" y="404.9" width="0.7" height="0.7" fill="#b8c8e0"/><rect x="90.56" y="397.88" width="0.7" height="0.7" fill="#b8c8e0"/><rect x="87.38" y="404.4" width="0.7" height="0.7" fill="#9fb2d0"/><rect x="89.06" y="416.91" width="0.7" height="0.7" fill="#c8d4e8"/><rect x="94.46" y="416.19" width="0.7" height="0.7" fill="#c8d4e8"/><rect x="86.77" y="409.48" width="0.7" height="0.7" fill="#a8bcd8"/><rect x="86.06" y="405.06" width="0.7" height="0.7" fill="#9fb2d0"/><rect x="89.71" y="398.35" width="0.7" height="0.7" fill="#a8bcd8"/><rect x="92.22" y="401.93" width="0.7" height="0.7" fill="#a8bcd8"/><rect x="94.16" y="396.35" width="0.7" height="0.7" fill="#a8bcd8"/><rect x="91.26" y="412.59" width="0.7" height="0.7" fill="#a8bcd8"/><rect x="88.41" y="411.87" width="0.7" height="0.7" fill="#c8d4e8"/><rect x="85.98" y="411.7" width="0.7" height="0.7" fill="#b8c8e0"/><rect x="92.59" y="411.11" width="0.7" height="0.7" fill="#b8c8e0"/><rect x="85.63" y="403.43" width="0.7" height="0.7" fill="#9fb2d0"/><rect x="94.47" y="411.16" width="0.7" height="0.7" fill="#c8d4e8"/><rect x="88.62" y="407.71" width="0.7" height="0.7" fill="#a8bcd8"/><rect x="85.54" y="403.45" width="0.7" height="0.7" fill="#b8c8e0"/><rect x="86.99" y="396.93" width="0.7" height="0.7" fill="#a8bcd8"/><rect x="86.89" y="396.62" width="0.7" height="0.7" fill="#9fb2d0"/><rect x="84.98" y="412.23" width="0.7" height="0.7" fill="#c8d4e8"/><rect x="89.55" y="412.33" width="0.7" height="0.7" fill="#9fb2d0"/><rect x="89.25" y="406.21" width="0.7" height="0.7" fill="#b8c8e0"/><rect x="92.94" y="406" width="0.7" height="0.7" fill="#a8bcd8"/><rect x="85.1" y="413.85" width="0.7" height="0.7" fill="#c8d4e8"/><rect x="85.91" y="401.29" width="0.7" height="0.7" fill="#b8c8e0"/><rect x="87.99" y="415.69" width="0.7" height="0.7" fill="#a8bcd8"/><rect x="86.19" y="416.59" width="0.7" height="0.7" fill="#9fb2d0"/><rect x="80.63" y="412.26" width="0.7" height="0.7" fill="#9fb2d0"/><rect x="91.72" y="405.17" width="0.7" height="0.7" fill="#a8bcd8"/><rect x="93.87" y="396.27" width="0.7" height="0.7" fill="#a8bcd8"/><rect x="87.55" y="396.58" width="0.7" height="0.7" fill="#b8c8e0"/><rect x="84.2" y="405.74" width="0.7" height="0.7" fill="#b8c8e0"/><rect x="89.29" y="415.19" width="0.7" height="0.7" fill="#c8d4e8"/><rect x="92.1" y="403.11" width="0.7" height="0.7" fill="#9fb2d0"/><rect x="83.55" y="400.32" width="0.7" height="0.7" fill="#a8bcd8"/><rect x="88.54" y="400.29" width="0.7" height="0.7" fill="#c8d4e8"/><rect x="86.99" y="408.42" width="0.7" height="0.7" fill="#a8bcd8"/><rect x="89.11" y="415.84" width="0.7" height="0.7" fill="#9fb2d0"/><rect x="84.01" y="409.36" width="0.7" height="0.7" fill="#9fb2d0"/><rect x="89.25" y="412" width="0.7" height="0.7" fill="#b8c8e0"/><rect x="89.36" y="409.69" width="0.7" height="0.7" fill="#a8bcd8"/><rect x="86.61" y="411.05" width="0.7" height="0.7" fill="#9fb2d0"/><rect x="86.81" y="398.98" width="0.7" height="0.7" fill="#9fb2d0"/><rect x="84.72" y="408.58" width="0.7" height="0.7" fill="#b8c8e0"/><rect x="86.32" y="414.67" width="0.7" height="0.7" fill="#b8c8e0"/><rect x="82.64" y="404.24" width="0.7" height="0.7" fill="#a8bcd8"/><rect x="84.59" y="396.8" width="0.7" height="0.7" fill="#b8c8e0"/><rect x="84.18" y="415.07" width="0.7" height="0.7" fill="#a8bcd8"/><rect x="88.39" y="397.02" width="0.7" height="0.7" fill="#a8bcd8"/><rect x="87.26" y="415.76" width="0.7" height="0.7" fill="#a8bcd8"/><rect x="88.25" y="407.68" width="0.7" height="0.7" fill="#9fb2d0"/><rect x="87.15" y="401.52" width="0.7" height="0.7" fill="#a8bcd8"/><rect x="84.52" y="416.09" width="0.7" height="0.7" fill="#b8c8e0"/><rect x="88.83" y="399.93" width="0.7" height="0.7" fill="#a8bcd8"/><rect x="85.99" y="406.71" width="0.7" height="0.7" fill="#9fb2d0"/><rect x="86.22" y="415.24" width="0.7" height="0.7" fill="#b8c8e0"/><rect x="88.81" y="409.61" width="0.7" height="0.7" fill="#b8c8e0"/><rect x="88.44" y="406.55" width="0.7" height="0.7" fill="#b8c8e0"/><rect x="86.81" y="408.92" width="0.7" height="0.7" fill="#9fb2d0"/><rect x="83.57" y="404.34" width="0.7" height="0.7" fill="#b8c8e0"/><rect x="86.06" y="399.93" width="0.7" height="0.7" fill="#9fb2d0"/><rect x="87.3" y="400.38" width="0.7" height="0.7" fill="#a8bcd8"/><rect x="83.78" y="408.87" width="0.7" height="0.7" fill="#b8c8e0"/><rect x="80.03" y="407.47" width="0.7" height="0.7" fill="#c8d4e8"/><rect x="87.5" y="401.02" width="0.7" height="0.7" fill="#b8c8e0"/><rect x="86.87" y="397.89" width="0.7" height="0.7" fill="#c8d4e8"/><rect x="86.34" y="399.1" width="0.7" height="0.7" fill="#c8d4e8"/><rect x="93.23" y="412.14" width="0.7" height="0.7" fill="#b8c8e0"/><rect x="88.94" y="410.34" width="0.7" height="0.7" fill="#a8bcd8"/><rect x="88.55" y="406.92" width="0.7" height="0.7" fill="#9fb2d0"/><rect x="95.32" y="408.06" width="0.7" height="0.7" fill="#a8bcd8"/><rect x="87.36" y="415.24" width="0.7" height="0.7" fill="#b8c8e0"/><rect x="93.31" y="411.05" width="0.7" height="0.7" fill="#b8c8e0"/><rect x="84.93" y="410.07" width="0.7" height="0.7" fill="#a8bcd8"/><rect x="90.1" y="414.44" width="0.7" height="0.7" fill="#a8bcd8"/><rect x="85.35" y="408.99" width="0.7" height="0.7" fill="#c8d4e8"/><rect x="83.42" y="401.31" width="0.7" height="0.7" fill="#c8d4e8"/><rect x="89.89" y="413.77" width="0.7" height="0.7" fill="#b8c8e0"/><rect x="87.46" y="405.3" width="0.7" height="0.7" fill="#9fb2d0"/><rect x="89.37" y="412.01" width="0.7" height="0.7" fill="#c8d4e8"/><rect x="87.73" y="404.66" width="0.7" height="0.7" fill="#b8c8e0"/><rect x="90.5" y="403.15" width="0.7" height="0.7" fill="#c8d4e8"/><rect x="90.61" y="412.18" width="0.7" height="0.7" fill="#a8bcd8"/><rect x="86.74" y="414.69" width="0.7" height="0.7" fill="#b8c8e0"/><rect x="86.62" y="413.33" width="0.7" height="0.7" fill="#c8d4e8"/><rect x="87.8" y="404.93" width="0.7" height="0.7" fill="#c8d4e8"/><rect x="85.43" y="416.28" width="0.7" height="0.7" fill="#a8bcd8"/><rect x="91.04" y="400.44" width="0.7" height="0.7" fill="#b8c8e0"/><rect x="85.76" y="415.7" width="0.7" height="0.7" fill="#9fb2d0"/><rect x="84.88" y="415.56" width="0.7" height="0.7" fill="#b8c8e0"/><rect x="86.76" y="411.86" width="0.7" height="0.7" fill="#b8c8e0"/><rect x="86.3" y="411" width="0.7" height="0.7" fill="#9fb2d0"/><rect x="86.04" y="399.7" width="0.7" height="0.7" fill="#9fb2d0"/><rect x="78.64" y="408.9" width="0.7" height="0.7" fill="#a8bcd8"/><rect x="86.17" y="411.82" width="0.7" height="0.7" fill="#a8bcd8"/><rect x="83.17" y="403.18" width="0.7" height="0.7" fill="#b8c8e0"/><rect x="93.48" y="409.46" width="0.7" height="0.7" fill="#a8bcd8"/><rect x="91.6" y="409.78" width="0.7" height="0.7" fill="#b8c8e0"/><rect x="87.18" y="397.34" width="0.7" height="0.7" fill="#b8c8e0"/><rect x="85.54" y="407.25" width="0.7" height="0.7" fill="#b8c8e0"/><rect x="86.96" y="398.37" width="0.7" height="0.7" fill="#9fb2d0"/><rect x="89.46" y="409.62" width="0.7" height="0.7" fill="#c8d4e8"/><rect x="91.17" y="414.9" width="0.7" height="0.7" fill="#c8d4e8"/><rect x="86.43" y="402.37" width="0.7" height="0.7" fill="#9fb2d0"/><rect x="87.45" y="416.78" width="0.7" height="0.7" fill="#b8c8e0"/><rect x="86.24" y="414.09" width="0.7" height="0.7" fill="#9fb2d0"/><rect x="84.78" y="396.64" width="0.7" height="0.7" fill="#a8bcd8"/><rect x="93.16" y="398.24" width="0.7" height="0.7" fill="#a8bcd8"/><rect x="89.66" y="401.83" width="0.7" height="0.7" fill="#b8c8e0"/><rect x="83.59" y="413.76" width="0.7" height="0.7" fill="#b8c8e0"/><rect x="89.65" y="409.84" width="0.7" height="0.7" fill="#c8d4e8"/><rect x="87.04" y="409.89" width="0.7" height="0.7" fill="#a8bcd8"/><rect x="91.62" y="413.57" width="0.7" height="0.7" fill="#b8c8e0"/><rect x="89.14" y="404.04" width="0.7" height="0.7" fill="#b8c8e0"/><rect x="86.04" y="397.36" width="0.7" height="0.7" fill="#b8c8e0"/><rect x="87.14" y="401.63" width="0.7" height="0.7" fill="#a8bcd8"/><rect x="90.86" y="407.39" width="0.7" height="0.7" fill="#a8bcd8"/><rect x="86.93" y="398.91" width="0.7" height="0.7" fill="#c8d4e8"/><rect x="86.77" y="409.93" width="0.7" height="0.7" fill="#a8bcd8"/><rect x="89.5" y="415.09" width="0.7" height="0.7" fill="#a8bcd8"/><rect x="87.41" y="412.06" width="0.7" height="0.7" fill="#a8bcd8"/><rect x="91.16" y="409.62" width="0.7" height="0.7" fill="#a8bcd8"/><rect x="88.6" y="401.06" width="0.7" height="0.7" fill="#9fb2d0"/><rect x="81.85" y="401.52" width="0.7" height="0.7" fill="#b8c8e0"/><rect x="92.59" y="413.56" width="0.7" height="0.7" fill="#a8bcd8"/><rect x="89.58" y="401.92" width="0.7" height="0.7" fill="#9fb2d0"/><rect x="86.63" y="405.66" width="0.7" height="0.7" fill="#9fb2d0"/><rect x="88.7" y="397.97" width="0.7" height="0.7" fill="#b8c8e0"/><rect x="80.88" y="415.11" width="0.7" height="0.7" fill="#9fb2d0"/><rect x="88.78" y="405.25" width="0.7" height="0.7" fill="#b8c8e0"/><rect x="89.01" y="405.32" width="0.7" height="0.7" fill="#a8bcd8"/><rect x="90.44" y="415.67" width="0.7" height="0.7" fill="#b8c8e0"/><rect x="90.14" y="411.63" width="0.7" height="0.7" fill="#9fb2d0"/><rect x="85.17" y="421.99" width="0.7" height="0.7" fill="#c8c870"/><rect x="83.92" y="422.54" width="0.7" height="0.7" fill="#c8c870"/><rect x="84.66" y="422.91" width="0.7" height="0.7" fill="#a8b860"/><rect x="83.46" y="429.52" width="0.7" height="0.7" fill="#7f9f90"/><rect x="84.99" y="422.19" width="0.7" height="0.7" fill="#c8c870"/><rect x="84.43" y="423.53" width="0.7" height="0.7" fill="#c8c870"/><rect x="84.4" y="421.61" width="0.7" height="0.7" fill="#7f9f90"/><rect x="86.17" y="422.62" width="0.7" height="0.7" fill="#a8b860"/><rect x="84.66" y="426.65" width="0.7" height="0.7" fill="#7f9f90"/><rect x="86.21" y="427.18" width="0.7" height="0.7" fill="#a8b860"/><rect x="83.81" y="425.83" width="0.7" height="0.7" fill="#a8b860"/><rect x="85.05" y="422.25" width="0.7" height="0.7" fill="#c8c870"/><rect x="83.04" y="422.31" width="0.7" height="0.7" fill="#c8c870"/><rect x="84.66" y="424.31" width="0.7" height="0.7" fill="#7f9f90"/><rect x="82.44" y="422.64" width="0.7" height="0.7" fill="#a8b860"/><rect x="86.12" y="427.51" width="0.7" height="0.7" fill="#c8c870"/><rect x="84.93" y="422.95" width="0.7" height="0.7" fill="#a8b860"/><rect x="84.08" y="428.55" width="0.7" height="0.7" fill="#c8c870"/><rect x="87.99" y="427.74" width="0.7" height="0.7" fill="#7f9f90"/><rect x="84.94" y="421.23" width="0.7" height="0.7" fill="#a8b860"/><rect x="85.22" y="421.11" width="0.7" height="0.7" fill="#c8c870"/><rect x="84.94" y="425.6" width="0.7" height="0.7" fill="#7f9f90"/><rect x="86.16" y="425.43" width="0.7" height="0.7" fill="#a8b860"/><rect x="84.19" y="428.51" width="0.7" height="0.7" fill="#a8b860"/><rect x="84.22" y="423.79" width="0.7" height="0.7" fill="#c8c870"/><rect x="84.37" y="427.8" width="0.7" height="0.7" fill="#a8b860"/><rect x="88.03" y="424.66" width="0.7" height="0.7" fill="#c8c870"/><rect x="83.19" y="426.12" width="0.7" height="0.7" fill="#a8b860"/><rect x="85.78" y="423.15" width="0.7" height="0.7" fill="#a8b860"/><rect x="86.03" y="426.46" width="0.7" height="0.7" fill="#c8c870"/><rect x="86.61" y="426.06" width="0.7" height="0.7" fill="#7f9f90"/><rect x="84.09" y="426.06" width="0.7" height="0.7" fill="#c8c870"/><rect x="85.41" y="429.64" width="0.7" height="0.7" fill="#a8b860"/><rect x="88.45" y="422.22" width="0.7" height="0.7" fill="#c8c870"/><rect x="82.49" y="428.98" width="0.7" height="0.7" fill="#a8b860"/><rect x="85.42" y="421.72" width="0.7" height="0.7" fill="#c8c870"/><rect x="85.89" y="428.11" width="0.7" height="0.7" fill="#c8c870"/><rect x="86.15" y="428.74" width="0.7" height="0.7" fill="#7f9f90"/><rect x="83.66" y="423.42" width="0.7" height="0.7" fill="#7f9f90"/><rect x="84.47" y="429.23" width="0.7" height="0.7" fill="#a8b860"/><rect x="92.42" y="428.67" width="0.7" height="0.7" fill="#c8d4e0"/><rect x="94.82" y="420.75" width="0.7" height="0.7" fill="#b8c8d8"/><rect x="93.39" y="423.2" width="0.7" height="0.7" fill="#c8d4e0"/><rect x="94" y="425.53" width="0.7" height="0.7" fill="#b8c8d8"/><rect x="89.44" y="423.46" width="0.7" height="0.7" fill="#c8d4e0"/><rect x="90.79" y="427.01" width="0.7" height="0.7" fill="#b8c8d8"/><rect x="90.1" y="423.36" width="0.7" height="0.7" fill="#c8d4e0"/><rect x="91.07" y="425.92" width="0.7" height="0.7" fill="#c8d4e0"/><rect x="91.61" y="425.43" width="0.7" height="0.7" fill="#c8d4e0"/><rect x="90.64" y="425.77" width="0.7" height="0.7" fill="#b8c8d8"/><rect x="93.73" y="426.01" width="0.7" height="0.7" fill="#b8c8d8"/><rect x="90.66" y="425.72" width="0.7" height="0.7" fill="#b8c8d8"/><rect x="90.67" y="423.45" width="0.7" height="0.7" fill="#c8d4e0"/><rect x="90.86" y="425.48" width="0.7" height="0.7" fill="#b8c8d8"/><rect x="89.56" y="423.66" width="0.7" height="0.7" fill="#c8d4e0"/><rect x="92.39" y="423.31" width="0.7" height="0.7" fill="#b8c8d8"/><rect x="90.82" y="424.43" width="0.7" height="0.7" fill="#c8d4e0"/><rect x="95.85" y="421.32" width="0.7" height="0.7" fill="#c8d4e0"/><rect x="91.18" y="422.8" width="0.7" height="0.7" fill="#c8d4e0"/><rect x="92.2" y="421.23" width="0.7" height="0.7" fill="#b8c8d8"/><rect x="91.16" y="427.79" width="0.7" height="0.7" fill="#b8c8d8"/><rect x="93.05" y="423.06" width="0.7" height="0.7" fill="#c8d4e0"/><rect x="92.32" y="425.46" width="0.7" height="0.7" fill="#c8d4e0"/><rect x="88.36" y="424.77" width="0.7" height="0.7" fill="#c8d4e0"/><rect x="89.97" y="422.45" width="0.7" height="0.7" fill="#c8d4e0"/><rect x="75.6" y="394.4" width="46.4" height="46.8" fill="none" stroke="#333" stroke-width="0.6"/><rect x="80.4" y="394.6" width="16.2" height="23" fill="none" stroke="#555" stroke-width="0.7"/><rect x="81.4" y="419.6" width="6.4" height="10.2" fill="none" stroke="#444" stroke-width="0.7"/><rect x="88.2" y="417.6" width="8.4" height="11.9" fill="none" stroke="#444" stroke-width="0.7"/><text x="103.4" y="402" font-size="5.6" fill="#222" stroke="#222" text-anchor="middle">S</text><text x="104" y="407.4" font-size="5.6" fill="#222" stroke="#222" text-anchor="middle">29.3</text><text x="97.3" y="425.7" font-size="5.6" fill="#222" stroke="#222">G<tspan font-size="3.6" dy="1.2">2</tspan><tspan dy="-1.2">–M</tspan></text><text x="98.6" y="431.8" font-size="5.6" fill="#222" stroke="#222">11.5</text><text x="81.2" y="434.5" font-size="5.2" fill="#222" stroke="#222">G<tspan font-size="3.4" dy="1.2">1</tspan></text><text x="81" y="439.6" font-size="5.6" fill="#222" stroke="#222">46.1</text><text x="75.2" y="403.3" font-size="5.4" fill="#444" stroke="#444" text-anchor="end">10<tspan font-size="3.24" dy="-2">5</tspan></text><text x="75.2" y="422.2" font-size="5.4" fill="#444" stroke="#444" text-anchor="end">10<tspan font-size="3.24" dy="-2">4</tspan></text><text x="75.2" y="441.8" font-size="5.4" fill="#444" stroke="#444" text-anchor="end">10<tspan font-size="3.24" dy="-2">3</tspan></text><text x="75.8" y="446.3" font-size="5.4" fill="#444" stroke="#444" text-anchor="middle">0</text><text x="93.4" y="446.3" font-size="5.4" fill="#444" stroke="#444" text-anchor="middle">100K</text><text x="110.9" y="446.3" font-size="5.4" fill="#444" stroke="#444" text-anchor="middle">200K</text><text x="8.2" y="429.8" font-size="5.6" fill="#333" stroke="#333" text-anchor="middle" transform="rotate(-90 8.2 429.8)">EdU-Alexa488</text><line x1="11" y1="447.8" x2="11" y2="431.5" stroke="#222" stroke-width="0.7"/><path d="M11,430.2 L10.1,432.4 L11.9,432.4 Z" stroke="none" stroke-width="0.6" fill="#333"/><line x1="11" y1="447.8" x2="28.5" y2="447.8" stroke="#222" stroke-width="0.7"/><path d="M29.9,447.8 L27.7,446.9 L27.7,448.7 Z" stroke="none" stroke-width="0.6" fill="#333"/><text x="15.8" y="451.6" font-size="5" fill="#333" stroke="#333" text-anchor="middle" transform="rotate(-90 15.8 451.6)">PI</text><text x="135.6" y="377.6" font-size="12" fill="#000" stroke="#000" font-weight="bold">L</text><line x1="157.6" y1="381.7" x2="157.6" y2="447.7" stroke="#333" stroke-width="0.6"/><line x1="157.6" y1="447.7" x2="243.5" y2="447.7" stroke="#333" stroke-width="0.6"/><line x1="156" y1="447.7" x2="157.6" y2="447.7" stroke="#333" stroke-width="0.6"/><text x="155.4" y="449.5" font-size="5.2" fill="#444" stroke="#444" text-anchor="end">0</text><line x1="156" y1="418.06" x2="157.6" y2="418.06" stroke="#333" stroke-width="0.6"/><text x="155.4" y="419.87" font-size="5.2" fill="#444" stroke="#444" text-anchor="end">50</text><line x1="156" y1="388.43" x2="157.6" y2="388.43" stroke="#333" stroke-width="0.6"/><text x="155.4" y="390.23" font-size="5.2" fill="#444" stroke="#444" text-anchor="end">100</text><line x1="156.7" y1="432.88" x2="157.6" y2="432.88" stroke="#333" stroke-width="0.5"/><line x1="156.7" y1="403.25" x2="157.6" y2="403.25" stroke="#333" stroke-width="0.5"/><text x="141.9" y="416.8" font-size="5.6" fill="#333" stroke="#333" text-anchor="middle" transform="rotate(-90 141.9 416.8)">Cell cycle phase (% cells)</text><text x="159" y="455.3" font-size="5.6" fill="#333" stroke="#333" text-anchor="end">Elim.</text><rect x="160.4" y="388.43" width="5.1" height="6.52" fill="#a9c8ec"/><rect x="160.4" y="394.95" width="5.1" height="30.23" fill="#5d8fd3"/><rect x="160.4" y="425.18" width="5.1" height="22.52" fill="#213f8f"/><ellipse cx="162.95" cy="388.73" rx="1.6" ry="0.7" fill="#5a7090"/><ellipse cx="162.95" cy="395.25" rx="1.6" ry="0.7" fill="#2a4a80"/><ellipse cx="162.95" cy="425.48" rx="1.6" ry="0.7" fill="#1a2f6a"/><rect x="166.85" y="388.43" width="5.1" height="11.26" fill="#a9c8ec"/><rect x="166.85" y="399.69" width="5.1" height="24.3" fill="#5d8fd3"/><rect x="166.85" y="423.99" width="5.1" height="23.71" fill="#213f8f"/><ellipse cx="169.4" cy="388.73" rx="1.6" ry="0.7" fill="#5a7090"/><ellipse cx="169.4" cy="399.99" rx="1.6" ry="0.7" fill="#2a4a80"/><ellipse cx="169.4" cy="424.29" rx="1.6" ry="0.7" fill="#1a2f6a"/><text x="162.9" y="453.8" font-size="4.6" fill="#aaa" stroke="#aaa" text-anchor="middle">–</text><text x="169.35" y="454" font-size="5.2" fill="#333" stroke="#333" text-anchor="middle">+</text><line x1="160.6" y1="457.2" x2="171.7" y2="457.2" stroke="#444" stroke-width="0.6"/><text x="169.1" y="461.7" font-size="5.5" fill="#e8434b" stroke="#e8434b" text-anchor="end" transform="rotate(-45 169.1 461.7)">Rh4</text><rect x="174.62" y="388.43" width="5.1" height="7.11" fill="#a9c8ec"/><rect x="174.62" y="395.54" width="5.1" height="24.3" fill="#5d8fd3"/><rect x="174.62" y="419.84" width="5.1" height="27.86" fill="#213f8f"/><ellipse cx="177.17" cy="388.73" rx="1.6" ry="0.7" fill="#5a7090"/><ellipse cx="177.17" cy="395.84" rx="1.6" ry="0.7" fill="#2a4a80"/><ellipse cx="177.17" cy="420.14" rx="1.6" ry="0.7" fill="#1a2f6a"/><rect x="181.07" y="388.43" width="5.1" height="10.67" fill="#a9c8ec"/><rect x="181.07" y="399.1" width="5.1" height="21.34" fill="#5d8fd3"/><rect x="181.07" y="420.44" width="5.1" height="27.26" fill="#213f8f"/><ellipse cx="183.62" cy="388.73" rx="1.6" ry="0.7" fill="#5a7090"/><ellipse cx="183.62" cy="399.4" rx="1.6" ry="0.7" fill="#2a4a80"/><ellipse cx="183.62" cy="420.74" rx="1.6" ry="0.7" fill="#1a2f6a"/><text x="177.12" y="453.8" font-size="4.6" fill="#aaa" stroke="#aaa" text-anchor="middle">–</text><text x="183.57" y="454" font-size="5.2" fill="#333" stroke="#333" text-anchor="middle">+</text><line x1="174.82" y1="457.2" x2="185.92" y2="457.2" stroke="#444" stroke-width="0.6"/><text x="183.32" y="461.7" font-size="5.5" fill="#3f4f9a" stroke="#3f4f9a" text-anchor="end" transform="rotate(-45 183.32 461.7)">T174</text><rect x="188.84" y="388.43" width="5.1" height="4.74" fill="#a9c8ec"/><rect x="188.84" y="393.17" width="5.1" height="24.89" fill="#5d8fd3"/><rect x="188.84" y="418.06" width="5.1" height="29.63" fill="#213f8f"/><ellipse cx="191.39" cy="388.73" rx="1.6" ry="0.7" fill="#5a7090"/><ellipse cx="191.39" cy="393.47" rx="1.6" ry="0.7" fill="#2a4a80"/><ellipse cx="191.39" cy="418.37" rx="1.6" ry="0.7" fill="#1a2f6a"/><rect x="195.29" y="388.43" width="5.1" height="8.3" fill="#a9c8ec"/><rect x="195.29" y="396.73" width="5.1" height="20.15" fill="#5d8fd3"/><rect x="195.29" y="416.88" width="5.1" height="30.82" fill="#213f8f"/><ellipse cx="197.84" cy="388.73" rx="1.6" ry="0.7" fill="#5a7090"/><ellipse cx="197.84" cy="397.03" rx="1.6" ry="0.7" fill="#2a4a80"/><ellipse cx="197.84" cy="417.18" rx="1.6" ry="0.7" fill="#1a2f6a"/><text x="191.34" y="453.8" font-size="4.6" fill="#aaa" stroke="#aaa" text-anchor="middle">–</text><text x="197.79" y="454" font-size="5.2" fill="#333" stroke="#333" text-anchor="middle">+</text><line x1="189.04" y1="457.2" x2="200.14" y2="457.2" stroke="#444" stroke-width="0.6"/><text x="197.54" y="461.7" font-size="5.5" fill="#9067bb" stroke="#9067bb" text-anchor="end" transform="rotate(-45 197.54 461.7)">TC-253</text><rect x="203.06" y="388.43" width="5.1" height="3.56" fill="#a9c8ec"/><rect x="203.06" y="391.99" width="5.1" height="27.86" fill="#5d8fd3"/><rect x="203.06" y="419.84" width="5.1" height="27.86" fill="#213f8f"/><ellipse cx="205.61" cy="388.73" rx="1.6" ry="0.7" fill="#5a7090"/><ellipse cx="205.61" cy="392.29" rx="1.6" ry="0.7" fill="#2a4a80"/><ellipse cx="205.61" cy="420.14" rx="1.6" ry="0.7" fill="#1a2f6a"/><rect x="209.51" y="388.43" width="5.1" height="7.11" fill="#a9c8ec"/><rect x="209.51" y="395.54" width="5.1" height="18.97" fill="#5d8fd3"/><rect x="209.51" y="414.51" width="5.1" height="33.19" fill="#213f8f"/><ellipse cx="212.06" cy="388.73" rx="1.6" ry="0.7" fill="#5a7090"/><ellipse cx="212.06" cy="395.84" rx="1.6" ry="0.7" fill="#2a4a80"/><ellipse cx="212.06" cy="414.81" rx="1.6" ry="0.7" fill="#1a2f6a"/><text x="205.56" y="453.8" font-size="4.6" fill="#aaa" stroke="#aaa" text-anchor="middle">–</text><text x="212.01" y="454" font-size="5.2" fill="#333" stroke="#333" text-anchor="middle">+</text><line x1="203.26" y1="457.2" x2="214.36" y2="457.2" stroke="#444" stroke-width="0.6"/><text x="211.76" y="461.7" font-size="5.5" fill="#9067bb" stroke="#9067bb" text-anchor="end" transform="rotate(-45 211.76 461.7)">5838</text><rect x="217.28" y="388.43" width="5.1" height="4.74" fill="#a9c8ec"/><rect x="217.28" y="393.17" width="5.1" height="26.67" fill="#5d8fd3"/><rect x="217.28" y="419.84" width="5.1" height="27.86" fill="#213f8f"/><ellipse cx="219.83" cy="388.73" rx="1.6" ry="0.7" fill="#5a7090"/><ellipse cx="219.83" cy="393.47" rx="1.6" ry="0.7" fill="#2a4a80"/><ellipse cx="219.83" cy="420.14" rx="1.6" ry="0.7" fill="#1a2f6a"/><rect x="223.73" y="388.43" width="5.1" height="2.37" fill="#a9c8ec"/><rect x="223.73" y="390.8" width="5.1" height="14.82" fill="#5d8fd3"/><rect x="223.73" y="405.62" width="5.1" height="42.08" fill="#213f8f"/><ellipse cx="226.28" cy="388.73" rx="1.6" ry="0.7" fill="#5a7090"/><ellipse cx="226.28" cy="391.1" rx="1.6" ry="0.7" fill="#2a4a80"/><ellipse cx="226.28" cy="405.92" rx="1.6" ry="0.7" fill="#1a2f6a"/><text x="219.78" y="453.8" font-size="4.6" fill="#aaa" stroke="#aaa" text-anchor="middle">–</text><text x="226.23" y="454" font-size="5.2" fill="#333" stroke="#333" text-anchor="middle">+</text><line x1="217.48" y1="457.2" x2="228.58" y2="457.2" stroke="#444" stroke-width="0.6"/><text x="225.98" y="461.7" font-size="5.5" fill="#f08a50" stroke="#f08a50" text-anchor="end" transform="rotate(-45 225.98 461.7)">IMR-5/75</text><rect x="231.5" y="388.43" width="5.1" height="5.33" fill="#a9c8ec"/><rect x="231.5" y="393.76" width="5.1" height="18.97" fill="#5d8fd3"/><rect x="231.5" y="412.73" width="5.1" height="34.97" fill="#213f8f"/><ellipse cx="234.05" cy="388.73" rx="1.6" ry="0.7" fill="#5a7090"/><ellipse cx="234.05" cy="394.06" rx="1.6" ry="0.7" fill="#2a4a80"/><ellipse cx="234.05" cy="413.03" rx="1.6" ry="0.7" fill="#1a2f6a"/><rect x="237.95" y="388.43" width="5.1" height="8.89" fill="#a9c8ec"/><rect x="237.95" y="397.32" width="5.1" height="16" fill="#5d8fd3"/><rect x="237.95" y="413.32" width="5.1" height="34.38" fill="#213f8f"/><ellipse cx="240.5" cy="388.73" rx="1.6" ry="0.7" fill="#5a7090"/><ellipse cx="240.5" cy="397.62" rx="1.6" ry="0.7" fill="#2a4a80"/><ellipse cx="240.5" cy="413.62" rx="1.6" ry="0.7" fill="#1a2f6a"/><text x="234" y="453.8" font-size="4.6" fill="#aaa" stroke="#aaa" text-anchor="middle">–</text><text x="240.45" y="454" font-size="5.2" fill="#333" stroke="#333" text-anchor="middle">+</text><line x1="231.7" y1="457.2" x2="242.8" y2="457.2" stroke="#444" stroke-width="0.6"/><text x="240.2" y="461.7" font-size="5.5" fill="#3a9a5a" stroke="#3a9a5a" text-anchor="end" transform="rotate(-45 240.2 461.7)">SK-N-AS</text><text x="244.1" y="392.6" font-size="5.6" fill="#b5c6dc" stroke="#b5c6dc">G<tspan font-size="3.6" dy="1.2">2</tspan><tspan dy="-1.2">–M</tspan></text><text x="244.1" y="398" font-size="5.6" fill="#8ea7c9" stroke="#8ea7c9">S</text><text x="244.1" y="403.3" font-size="5.6" fill="#444" stroke="#444">G<tspan font-size="3.6" dy="1.2">1</tspan></text><text x="267.3" y="261.6" font-size="12" fill="#000" stroke="#000" font-weight="bold">M</text><rect x="306.5" y="315.4" width="160.6" height="111" fill="#d9d9d9"/><text x="312.15" y="298.4" font-size="5.6" fill="#222" stroke="#222" transform="rotate(-90 312.15 298.4)">NGP</text><text x="319.45" y="298.4" font-size="5.6" fill="#222" stroke="#222" transform="rotate(-90 319.45 298.4)">SK-N-DZ</text><text x="326.75" y="298.4" font-size="5.6" fill="#222" stroke="#222" transform="rotate(-90 326.75 298.4)">Kelly</text><text x="334.05" y="298.4" font-size="5.6" fill="#222" stroke="#222" transform="rotate(-90 334.05 298.4)">IMR5/75</text><text x="341.35" y="298.4" font-size="5.6" fill="#222" stroke="#222" transform="rotate(-90 341.35 298.4)">CHP-134</text><text x="348.65" y="298.4" font-size="5.6" fill="#222" stroke="#222" transform="rotate(-90 348.65 298.4)">CHP-212</text><text x="355.95" y="298.4" font-size="5.6" fill="#222" stroke="#222" transform="rotate(-90 355.95 298.4)">NB-69</text><text x="363.25" y="298.4" font-size="5.6" fill="#222" stroke="#222" transform="rotate(-90 363.25 298.4)">SK-N-AS</text><text x="370.55" y="298.4" font-size="5.6" fill="#222" stroke="#222" transform="rotate(-90 370.55 298.4)">SK-N-FI</text><text x="377.85" y="298.4" font-size="5.6" fill="#222" stroke="#222" transform="rotate(-90 377.85 298.4)">NB-01</text><text x="385.15" y="298.4" font-size="5.6" fill="#222" stroke="#222" transform="rotate(-90 385.15 298.4)">SK-N-SH</text><text x="392.45" y="298.4" font-size="5.6" fill="#222" stroke="#222" transform="rotate(-90 392.45 298.4)">SH-SY5Y</text><text x="399.75" y="298.4" font-size="5.6" fill="#222" stroke="#222" transform="rotate(-90 399.75 298.4)">LAN-6</text><text x="407.05" y="298.4" font-size="5.6" fill="#222" stroke="#222" transform="rotate(-90 407.05 298.4)">GI-ME-N</text><text x="414.35" y="298.4" font-size="5.6" fill="#222" stroke="#222" transform="rotate(-90 414.35 298.4)">Rh30</text><text x="421.65" y="298.4" font-size="5.6" fill="#222" stroke="#222" transform="rotate(-90 421.65 298.4)">Rh4</text><text x="428.95" y="298.4" font-size="5.6" fill="#222" stroke="#222" transform="rotate(-90 428.95 298.4)">Rh41</text><text x="436.25" y="298.4" font-size="5.6" fill="#222" stroke="#222" transform="rotate(-90 436.25 298.4)">RD</text><text x="443.55" y="298.4" font-size="5.6" fill="#222" stroke="#222" transform="rotate(-90 443.55 298.4)">Rh18</text><text x="450.85" y="298.4" font-size="5.6" fill="#222" stroke="#222" transform="rotate(-90 450.85 298.4)">SK-N-MC</text><text x="458.15" y="298.4" font-size="5.6" fill="#222" stroke="#222" transform="rotate(-90 458.15 298.4)">TC-71</text><text x="465.45" y="298.4" font-size="5.6" fill="#222" stroke="#222" transform="rotate(-90 465.45 298.4)">CADO-ES1</text><text x="304.6" y="305.8" font-size="5.6" fill="#222" stroke="#222" text-anchor="end">Tumor type</text><text x="304.6" y="313.2" font-size="5.6" fill="#222" stroke="#222" text-anchor="end">Elim. (AUC)</text><text x="304.6" y="320.6" font-size="5.6" fill="#222" stroke="#222" text-anchor="end" font-style="italic">PAX3-FOXO1</text><text x="304.6" y="328" font-size="5.6" fill="#222" stroke="#222" text-anchor="end" font-style="italic">EWS-ERG/FLI1</text><text x="304.6" y="335.4" font-size="5.6" fill="#222" stroke="#222" text-anchor="end" font-style="italic">MYCN</text><text x="304.6" y="342.8" font-size="5.6" fill="#222" stroke="#222" text-anchor="end" font-style="italic">TP53</text><text x="304.6" y="350.2" font-size="5.6" fill="#222" stroke="#222" text-anchor="end" font-style="italic">ALK</text><text x="304.6" y="357.6" font-size="5.6" fill="#222" stroke="#222" text-anchor="end" font-style="italic">ATM</text><text x="304.6" y="365" font-size="5.6" fill="#222" stroke="#222" text-anchor="end" font-style="italic">BRCA1</text><text x="304.6" y="372.4" font-size="5.6" fill="#222" stroke="#222" text-anchor="end" font-style="italic">CDK4</text><text x="304.6" y="379.8" font-size="5.6" fill="#222" stroke="#222" text-anchor="end" font-style="italic">CDKN2A</text><text x="304.6" y="387.2" font-size="5.6" fill="#222" stroke="#222" text-anchor="end" font-style="italic">HRAS</text><text x="304.6" y="394.6" font-size="5.6" fill="#222" stroke="#222" text-anchor="end" font-style="italic">HROB</text><text x="304.6" y="402" font-size="5.6" fill="#222" stroke="#222" text-anchor="end" font-style="italic">MDM2</text><text x="304.6" y="409.4" font-size="5.6" fill="#222" stroke="#222" text-anchor="end" font-style="italic">MDM4</text><text x="304.6" y="416.8" font-size="5.6" fill="#222" stroke="#222" text-anchor="end" font-style="italic">MYC</text><text x="304.6" y="424.2" font-size="5.6" fill="#222" stroke="#222" text-anchor="end" font-style="italic">NRAS</text><rect x="306.5" y="300.6" width="102.2" height="7.4" fill="#f3ec9c"/><rect x="408.7" y="300.6" width="36.5" height="7.4" fill="#f3bccb"/><rect x="445.2" y="300.6" width="21.9" height="7.4" fill="#bfe0d5"/><rect x="306.5" y="308" width="87.6" height="7.4" fill="#1c3568"/><rect x="394.1" y="308" width="14.6" height="7.4" fill="#c3dbef"/><rect x="408.7" y="308" width="21.9" height="7.4" fill="#1c3568"/><rect x="430.6" y="308" width="14.6" height="7.4" fill="#c3dbef"/><rect x="445.2" y="308" width="21.9" height="7.4" fill="#1c3568"/><rect x="408.7" y="315.4" width="21.9" height="7.4" fill="#6a3a9a"/><rect x="445.2" y="322.8" width="21.9" height="7.4" fill="#6a3a9a"/><rect x="306.5" y="330.2" width="43.8" height="7.4" fill="#e2272c"/><rect x="350.3" y="330.2" width="7.3" height="7.4" fill="#f6d0d3"/><rect x="357.6" y="337.6" width="7.3" height="7.4" fill="#a9d28f"/><rect x="394.1" y="337.6" width="7.3" height="7.4" fill="#a9d28f"/><rect x="445.2" y="337.6" width="7.3" height="7.4" fill="#4e7d33"/><rect x="452.5" y="337.6" width="7.3" height="7.4" fill="#a9d28f"/><rect x="328.4" y="345" width="7.3" height="7.4" fill="#e2272c"/><rect x="350.3" y="345" width="7.3" height="7.4" fill="#f6d0d3"/><rect x="372.2" y="345" width="7.3" height="7.4" fill="#e2272c"/><rect x="306.5" y="352.4" width="7.3" height="7.4" fill="#4e7d33"/><rect x="313.8" y="352.4" width="7.3" height="7.4" fill="#a9d28f"/><rect x="328.4" y="352.4" width="7.3" height="7.4" fill="#a9d28f"/><rect x="357.6" y="352.4" width="7.3" height="7.4" fill="#a9d28f"/><rect x="372.2" y="352.4" width="7.3" height="7.4" fill="#a9d28f"/><rect x="394.1" y="352.4" width="21.9" height="7.4" fill="#a9d28f"/><rect x="328.4" y="359.8" width="29.2" height="7.4" fill="#f6d0d3"/><rect x="416" y="359.8" width="7.3" height="7.4" fill="#f6d0d3"/><rect x="452.5" y="359.8" width="7.3" height="7.4" fill="#a9d28f"/><rect x="306.5" y="367.2" width="7.3" height="7.4" fill="#e2272c"/><rect x="408.7" y="367.2" width="7.3" height="7.4" fill="#e2272c"/><rect x="437.9" y="367.2" width="7.3" height="7.4" fill="#e2272c"/><rect x="313.8" y="374.6" width="7.3" height="7.4" fill="#4e7d33"/><rect x="357.6" y="374.6" width="7.3" height="7.4" fill="#a9d28f"/><rect x="394.1" y="374.6" width="7.3" height="7.4" fill="#4e7d33"/><rect x="430.6" y="374.6" width="7.3" height="7.4" fill="#a9d28f"/><rect x="452.5" y="374.6" width="14.6" height="7.4" fill="#4e7d33"/><rect x="306.5" y="382" width="7.3" height="7.4" fill="#a9d28f"/><rect x="321.1" y="382" width="7.3" height="7.4" fill="#a9d28f"/><rect x="343" y="382" width="7.3" height="7.4" fill="#a9d28f"/><rect x="416" y="382" width="7.3" height="7.4" fill="#f6d0d3"/><rect x="328.4" y="389.4" width="29.2" height="7.4" fill="#f6d0d3"/><rect x="423.3" y="389.4" width="7.3" height="7.4" fill="#f6d0d3"/><rect x="452.5" y="389.4" width="7.3" height="7.4" fill="#a9d28f"/><rect x="306.5" y="396.8" width="7.3" height="7.4" fill="#e2272c"/><rect x="423.3" y="396.8" width="7.3" height="7.4" fill="#f6d0d3"/><rect x="437.9" y="396.8" width="7.3" height="7.4" fill="#e2272c"/><rect x="328.4" y="404.2" width="7.3" height="7.4" fill="#f6d0d3"/><rect x="350.3" y="404.2" width="7.3" height="7.4" fill="#f6d0d3"/><rect x="372.2" y="404.2" width="7.3" height="7.4" fill="#f6d0d3"/><rect x="416" y="404.2" width="7.3" height="7.4" fill="#f6d0d3"/><rect x="452.5" y="411.6" width="7.3" height="7.4" fill="#e2272c"/><line x1="328.4" y1="308" x2="328.4" y2="426.4" stroke="#ffffff" stroke-width="0.5" opacity="0.6"/><line x1="357.6" y1="308" x2="357.6" y2="426.4" stroke="#ffffff" stroke-width="0.5" opacity="0.6"/><line x1="386.8" y1="308" x2="386.8" y2="426.4" stroke="#ffffff" stroke-width="0.5" opacity="0.6"/><line x1="408.7" y1="308" x2="408.7" y2="426.4" stroke="#ffffff" stroke-width="0.5" opacity="0.6"/><line x1="416" y1="308" x2="416" y2="426.4" stroke="#ffffff" stroke-width="0.5" opacity="0.6"/><line x1="445.2" y1="308" x2="445.2" y2="426.4" stroke="#ffffff" stroke-width="0.5" opacity="0.6"/><line x1="306.5" y1="322.8" x2="467.1" y2="322.8" stroke="#ffffff" stroke-width="0.4" opacity="0.45"/><line x1="306.5" y1="330.2" x2="467.1" y2="330.2" stroke="#ffffff" stroke-width="0.4" opacity="0.45"/><line x1="306.5" y1="337.6" x2="467.1" y2="337.6" stroke="#ffffff" stroke-width="0.4" opacity="0.45"/><line x1="306.5" y1="345" x2="467.1" y2="345" stroke="#ffffff" stroke-width="0.4" opacity="0.45"/><line x1="306.5" y1="352.4" x2="467.1" y2="352.4" stroke="#ffffff" stroke-width="0.4" opacity="0.45"/><line x1="306.5" y1="359.8" x2="467.1" y2="359.8" stroke="#ffffff" stroke-width="0.4" opacity="0.45"/><line x1="306.5" y1="367.2" x2="467.1" y2="367.2" stroke="#ffffff" stroke-width="0.4" opacity="0.45"/><line x1="306.5" y1="374.6" x2="467.1" y2="374.6" stroke="#ffffff" stroke-width="0.4" opacity="0.45"/><line x1="306.5" y1="382" x2="467.1" y2="382" stroke="#ffffff" stroke-width="0.4" opacity="0.45"/><line x1="306.5" y1="389.4" x2="467.1" y2="389.4" stroke="#ffffff" stroke-width="0.4" opacity="0.45"/><line x1="306.5" y1="396.8" x2="467.1" y2="396.8" stroke="#ffffff" stroke-width="0.4" opacity="0.45"/><line x1="306.5" y1="404.2" x2="467.1" y2="404.2" stroke="#ffffff" stroke-width="0.4" opacity="0.45"/><line x1="306.5" y1="411.6" x2="467.1" y2="411.6" stroke="#ffffff" stroke-width="0.4" opacity="0.45"/><line x1="306.5" y1="419" x2="467.1" y2="419" stroke="#ffffff" stroke-width="0.4" opacity="0.45"/><circle cx="310.15" cy="341.3" r="1.15" fill="#000"/><circle cx="317.45" cy="341.3" r="1.15" fill="#000"/><circle cx="324.75" cy="341.3" r="1.15" fill="#000"/><circle cx="368.55" cy="341.3" r="1.15" fill="#000"/><circle cx="397.75" cy="341.3" r="1.15" fill="#000"/><circle cx="412.35" cy="341.3" r="1.15" fill="#000"/><circle cx="419.65" cy="341.3" r="1.15" fill="#000"/><circle cx="426.95" cy="341.3" r="1.15" fill="#000"/><circle cx="434.25" cy="341.3" r="1.15" fill="#000"/><circle cx="456.15" cy="341.3" r="1.15" fill="#000"/><circle cx="324.75" cy="348.7" r="1.15" fill="#000"/><circle cx="383.15" cy="348.7" r="1.15" fill="#000"/><circle cx="390.45" cy="348.7" r="1.15" fill="#000"/><circle cx="397.75" cy="348.7" r="1.15" fill="#000"/><circle cx="397.75" cy="356.1" r="1.15" fill="#000"/><circle cx="434.25" cy="356.1" r="1.15" fill="#000"/><circle cx="405.05" cy="363.5" r="1.15" fill="#000"/><circle cx="324.75" cy="378.3" r="1.15" fill="#000"/><circle cx="339.35" cy="407.9" r="1.15" fill="#000"/><circle cx="346.65" cy="422.7" r="1.15" fill="#000"/><circle cx="361.25" cy="422.7" r="1.15" fill="#000"/><circle cx="383.15" cy="422.7" r="1.15" fill="#000"/><circle cx="434.25" cy="422.7" r="1.15" fill="#000"/><rect x="469.8" y="287.5" width="6.7" height="6.1" fill="#f3ec9c"/><text x="478.2" y="291.9" font-size="5.6" fill="#333" stroke="#333">NB</text><rect x="469.8" y="293.6" width="6.7" height="6.9" fill="#f3bccb"/><text x="478.2" y="299.4" font-size="5.6" fill="#333" stroke="#333">RMS</text><rect x="469.8" y="300.5" width="6.7" height="7" fill="#bfe0d5"/><text x="478.2" y="306.6" font-size="5.6" fill="#333" stroke="#333">EWS</text><rect x="469.8" y="317" width="6.7" height="6.7" fill="#1c3568"/><text x="478.2" y="322" font-size="5.6" fill="#333" stroke="#333">Sensitive</text><rect x="469.8" y="323.7" width="6.7" height="7.1" fill="#c3dbef"/><text x="478.2" y="328.9" font-size="5.6" fill="#333" stroke="#333">Resistant</text><rect x="469.8" y="341.3" width="6.7" height="6.5" fill="#6a3a9a"/><text x="478.2" y="345.6" font-size="5.6" fill="#333" stroke="#333">Translocation</text><rect x="469.8" y="351.9" width="6.7" height="6.7" fill="#4e7d33"/><text x="478.2" y="356.9" font-size="5.6" fill="#333" stroke="#333">Deletion</text><rect x="469.8" y="358.6" width="6.7" height="7.1" fill="#a9d28f"/><text x="478.2" y="363.6" font-size="5.6" fill="#333" stroke="#333">Loss</text><rect x="469.8" y="365.7" width="6.7" height="6.9" fill="#f6d0d3"/><text x="478.2" y="370.3" font-size="5.6" fill="#333" stroke="#333">Gain</text><rect x="469.8" y="372.6" width="6.7" height="6.4" fill="#e2272c"/><text x="478.2" y="377.4" font-size="5.6" fill="#333" stroke="#333">Amplification</text><rect x="469.8" y="379" width="6.7" height="6.8" fill="#d9d9d9"/><text x="478.2" y="383.9" font-size="5.6" fill="#333" stroke="#333">Mutation</text><circle cx="473.15" cy="382.4" r="0.95" fill="#000"/>
</svg></body></html>
